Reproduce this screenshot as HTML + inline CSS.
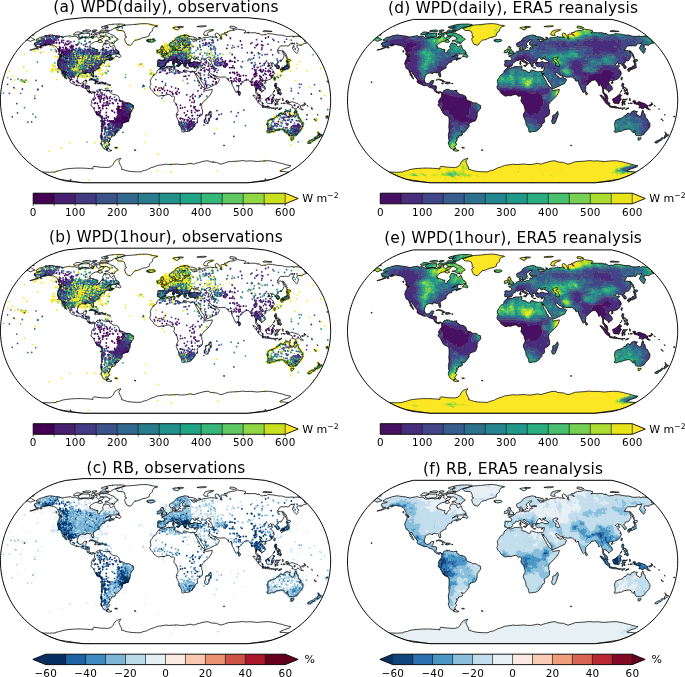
<!DOCTYPE html><html><head><meta charset="utf-8"><title>WPD maps</title><style>html,body{margin:0;padding:0;background:#fff}svg{display:block}text{font-family:"DejaVu Sans","Liberation Sans",sans-serif;fill:#000}</style></head><body>
<svg width="685" height="677" viewBox="0 0 685 677">
<rect width="685" height="677" fill="#fff"/>
<defs>
<path id="land" d="M35.3 22.4L39.0 19.9L42.7 19.0L44.8 18.1L49.5 17.2L52.4 17.6L54.9 18.0L58.4 18.3L59.4 18.7L62.6 19.4L64.6 18.8L68.1 18.3L69.9 17.9L71.4 18.8L74.6 18.5L76.9 19.4L77.7 20.4L81.5 20.3L83.4 19.7L85.3 19.7L87.6 20.4L91.0 19.7L91.8 20.8L93.1 19.4L93.4 18.1L95.7 16.6L96.5 17.6L95.9 18.8L97.1 19.6L98.1 20.5L99.5 19.4L101.1 18.6L103.6 18.8L103.5 19.7L102.6 20.6L100.5 21.7L98.8 22.0L97.7 22.7L96.9 23.6L94.7 24.0L92.7 24.9L90.3 26.6L88.8 28.6L90.1 28.7L89.8 30.3L91.9 30.3L93.3 30.9L95.4 31.8L97.5 32.0L97.1 33.9L97.6 34.9L97.8 35.5L99.2 35.3L99.5 34.1L100.4 32.6L102.0 31.6L102.7 30.7L102.4 29.4L101.8 28.6L103.1 27.5L103.5 25.4L105.9 25.4L108.0 26.0L109.4 26.6L109.3 28.0L109.5 28.6L111.0 29.1L112.5 28.0L113.6 27.1L114.3 28.9L114.9 30.7L115.8 32.1L117.3 32.6L117.9 33.5L118.7 34.4L117.9 35.3L116.2 35.6L114.8 36.4L111.4 36.4L109.3 36.5L107.8 37.4L105.7 39.0L104.7 39.6L106.2 38.8L109.5 37.4L110.7 37.6L110.1 38.5L110.0 39.4L110.6 40.2L112.6 40.5L114.0 39.9L113.0 41.0L110.7 41.6L108.8 42.7L108.3 41.9L110.0 41.0L108.6 41.2L107.7 41.5L105.9 42.2L104.4 42.8L104.0 44.0L104.6 44.2L103.2 44.6L101.4 45.0L100.9 45.4L100.5 46.3L99.7 46.9L99.1 47.7L98.5 48.6L98.6 49.5L98.6 50.3L97.6 50.7L96.2 51.5L94.9 52.3L93.2 53.2L92.6 54.6L93.1 56.6L93.3 58.2L92.9 59.3L92.1 59.4L91.7 58.4L91.1 57.1L91.2 56.0L90.3 55.0L88.9 55.2L87.6 54.7L86.3 54.8L85.4 54.9L85.5 55.9L84.3 55.8L83.1 55.4L81.3 55.4L80.3 56.0L78.3 56.9L77.7 58.7L77.0 60.5L76.8 62.1L77.2 63.5L77.8 64.8L78.9 65.5L79.5 65.9L81.2 65.5L82.6 65.1L83.2 63.5L83.9 63.0L85.6 62.7L86.4 62.9L85.8 64.4L85.5 65.8L84.9 66.5L84.3 67.9L85.5 68.1L86.8 68.0L88.2 68.1L89.2 68.8L88.9 70.2L88.6 72.0L88.8 72.9L89.6 74.0L90.5 74.4L91.9 74.1L92.8 73.8L94.2 74.6L94.6 75.2L94.8 74.7L96.0 73.8L96.3 72.7L97.2 72.4L98.4 72.1L99.6 71.2L100.0 71.8L99.5 72.6L100.2 72.5L101.2 71.5L102.3 72.2L102.9 72.8L104.8 72.8L106.1 73.2L107.5 72.7L108.4 72.8L109.3 73.8L109.5 74.8L111.1 75.4L112.4 76.8L114.7 77.1L116.1 77.4L117.4 78.2L118.3 78.9L118.8 80.7L119.2 82.1L120.6 83.0L121.5 83.2L123.8 83.9L124.8 85.0L127.0 85.2L128.4 85.1L129.8 85.9L131.2 87.0L132.8 87.4L133.2 89.2L133.1 90.8L131.7 92.4L130.9 93.6L130.0 94.5L129.6 96.3L129.7 98.6L129.1 100.4L128.5 101.8L128.1 102.7L127.2 103.6L125.9 103.6L124.5 104.2L123.2 104.7L122.0 105.8L121.5 106.9L121.7 108.5L120.6 110.1L119.8 111.3L118.8 112.2L117.8 113.7L116.7 114.6L115.3 114.5L113.6 113.9L114.7 115.1L115.1 116.0L114.7 117.4L113.2 118.1L111.0 118.3L111.0 119.7L109.8 120.3L108.8 120.2L109.4 121.5L110.2 121.5L109.2 122.3L109.0 123.8L107.5 124.7L109.1 126.1L109.2 126.6L108.1 128.0L107.3 128.9L107.6 130.1L108.2 130.6L106.6 130.9L106.4 131.8L105.1 131.6L104.1 131.0L102.8 130.2L101.7 128.4L101.2 126.6L100.7 125.4L101.3 123.8L101.6 122.4L101.1 121.1L101.0 119.2L100.8 117.4L100.9 116.5L101.3 115.1L101.7 113.3L101.5 111.0L101.3 109.1L101.5 106.4L101.6 104.1L101.6 101.8L101.3 99.4L100.1 98.4L98.2 97.5L96.6 96.6L95.5 95.3L94.6 93.6L93.6 91.7L92.8 90.1L91.9 88.8L90.7 88.1L90.6 86.6L91.5 85.7L91.7 84.8L90.8 84.6L91.0 83.5L91.6 82.5L91.7 81.8L92.6 81.2L92.8 80.3L94.0 79.3L94.2 78.4L94.1 77.0L94.2 76.1L93.8 75.9L93.4 75.0L92.8 74.3L92.4 74.4L91.6 74.9L91.8 75.8L90.9 75.7L90.3 75.2L89.2 75.0L88.5 74.7L87.6 73.6L86.7 73.1L86.8 72.4L85.7 71.1L85.2 70.5L83.9 70.3L82.6 69.8L81.1 69.3L79.7 67.9L78.7 67.8L77.3 68.1L75.5 67.6L74.2 67.0L72.5 66.1L71.2 65.7L69.9 64.7L69.5 63.7L69.9 62.8L69.5 61.5L68.4 60.1L67.2 59.0L67.0 57.8L66.2 57.0L65.1 56.0L64.6 54.1L63.3 53.5L63.0 54.6L63.8 56.0L64.4 57.3L65.2 58.7L65.7 60.1L66.4 61.3L65.7 61.2L64.4 59.8L64.3 58.7L62.9 57.8L62.2 57.1L63.0 56.4L62.1 55.2L61.6 53.7L61.3 52.7L60.5 51.5L58.8 50.9L58.2 49.1L57.9 47.9L57.3 46.3L57.2 45.5L57.8 44.0L57.8 43.1L58.9 41.6L59.4 40.2L59.7 38.2L61.1 38.2L61.2 39.0L61.5 37.8L61.5 37.4L60.2 36.4L58.7 35.3L58.7 34.4L58.0 32.6L57.3 31.6L56.9 30.3L55.6 29.1L54.7 28.6L53.3 27.7L51.4 27.5L49.6 27.3L48.5 26.6L46.2 27.5L44.6 28.2L43.0 28.3L44.3 26.9L45.9 26.4L44.0 26.8L41.9 28.0L40.6 28.9L38.0 30.0L35.7 30.9L33.0 31.8L30.8 32.3L29.4 32.5L31.4 31.8L33.5 31.2L36.5 29.8L38.1 28.7L36.8 28.8L34.6 28.7L35.4 27.5L33.8 27.1L33.8 26.1L34.2 25.2L35.7 24.6L38.2 24.3L39.8 23.4L38.2 23.4L36.7 23.4L35.9 22.9ZM108.1 130.9L108.6 131.4L109.9 132.4L111.5 132.7L110.5 133.2L109.0 133.5L107.7 133.3L105.8 132.5L106.5 132.1L106.8 131.2ZM115.2 10.5L119.6 9.2L121.6 8.3L124.0 7.8L126.2 7.3L128.5 7.2L130.8 7.0L133.0 6.9L135.3 6.6L137.6 6.4L139.8 6.1L142.4 6.0L145.0 5.9L147.1 6.1L149.2 6.4L152.1 7.3L154.4 7.6L156.6 7.8L157.2 8.3L153.7 9.2L152.8 10.5L151.9 11.9L152.0 13.3L150.8 14.2L149.1 15.6L148.9 17.0L148.7 18.2L147.1 18.8L145.5 19.5L142.4 20.0L139.9 21.1L137.3 22.1L134.6 22.5L133.5 23.8L132.0 25.2L130.8 27.1L129.9 27.6L128.4 27.1L126.5 26.6L125.7 25.2L124.9 23.8L124.3 22.0L124.3 20.6L126.3 19.3L124.4 18.3L124.9 17.0L124.4 15.6L123.8 13.8L121.4 12.8L117.9 12.8L116.4 11.9L115.6 11.0ZM146.3 22.5L148.2 21.6L151.3 21.8L152.8 21.6L153.9 22.0L154.6 22.9L153.4 23.6L150.6 24.4L148.7 24.0L147.4 23.9L148.0 23.4L146.5 23.1L147.7 22.7ZM100.4 15.1L103.8 14.9L105.9 15.0L109.0 15.8L110.3 16.7L112.5 17.4L114.3 18.3L114.8 19.7L117.0 20.8L117.9 21.6L115.8 22.9L114.2 24.3L114.1 25.2L112.9 25.7L111.4 24.3L112.5 25.7L109.9 25.2L108.7 24.3L107.1 23.4L104.7 23.6L104.5 23.2L105.5 22.7L107.9 22.5L108.7 21.6L109.7 20.2L107.9 19.3L106.5 18.3L103.9 18.3L101.6 18.3L99.7 17.9L99.1 17.0L99.4 16.1ZM78.9 17.0L81.8 15.3L85.1 15.6L89.0 15.3L89.2 17.0L89.3 18.3L88.3 19.3L86.0 19.3L83.6 19.5L79.7 19.7L77.7 18.8L77.7 17.9ZM72.9 16.5L74.3 17.3L77.5 16.8L81.8 15.1L79.6 14.5L77.8 14.2L75.6 14.4L74.2 15.6ZM82.5 13.0L86.0 12.4L89.0 12.2L90.6 13.0L89.6 13.8L86.4 14.1L83.7 13.9L82.0 13.6ZM91.3 13.5L93.9 13.8L96.0 13.3L96.6 12.3L93.8 12.2L92.0 12.7ZM90.3 16.5L92.0 17.2L94.3 16.5L94.9 15.1L93.1 14.7L91.2 15.3ZM95.2 16.3L96.9 16.5L99.5 15.6L100.0 14.7L97.5 14.6L96.0 15.1ZM107.9 14.1L108.8 13.3L106.5 13.0L103.4 12.5L100.7 12.4L99.2 13.8L100.7 14.1L104.2 14.2ZM110.4 12.6L113.9 10.5L116.6 9.6L119.0 9.1L121.4 8.5L124.9 7.3L123.6 6.6L121.5 6.5L119.4 6.3L116.8 6.4L114.2 6.4L111.3 6.7L108.4 7.1L105.7 7.8L107.4 8.7L107.8 9.6L104.8 10.7L104.9 11.5L106.2 12.5L108.9 12.7ZM100.9 9.2L104.8 8.0L106.7 8.7L106.0 9.8L103.5 10.7L101.3 10.1ZM97.1 23.8L98.4 24.6L99.8 24.9L101.6 24.3L102.4 23.9L101.7 23.4L100.3 22.2L98.7 22.3L98.2 23.4ZM90.2 19.3L91.8 19.7L93.2 19.3L93.3 18.4L91.4 18.5ZM114.8 38.9L115.8 37.6L117.1 36.0L118.8 35.2L118.1 36.7L119.7 37.1L120.3 38.1L120.4 39.0L119.6 39.8L118.3 39.5L117.6 38.9ZM57.7 36.0L59.4 36.3L60.8 38.0L60.7 38.2L59.6 37.9L58.3 36.9ZM55.4 32.9L56.4 33.0L56.1 34.7L55.4 33.9ZM39.7 29.8L41.3 29.4L41.8 29.8L40.1 30.5ZM88.4 62.5L90.2 61.5L92.0 61.4L93.8 62.0L95.5 62.7L96.8 63.6L97.9 64.0L97.2 64.3L94.7 64.4L95.2 63.6L94.1 62.8L92.4 62.4L91.1 62.0L89.7 62.2ZM97.5 65.7L99.3 65.5L99.1 65.1L98.6 64.4L100.1 64.4L101.7 64.5L102.5 64.8L103.0 65.5L102.0 65.7L101.1 65.9L100.2 66.3L99.3 65.9ZM94.0 65.8L95.2 65.6L95.9 66.0L95.0 66.2ZM104.1 65.7L105.5 65.7L105.4 66.0L104.2 66.0ZM108.6 72.7L109.4 72.6L109.3 73.3L108.6 73.3ZM114.2 129.8L116.7 129.7L116.8 130.4L114.8 130.4ZM23.8 64.0L24.7 64.4L24.0 65.1L23.7 64.6ZM160.3 49.5L159.6 48.8L158.6 48.4L157.3 48.6L157.4 47.2L156.8 47.0L157.4 45.7L157.6 44.5L157.2 43.1L158.2 42.5L160.4 42.7L162.1 42.7L163.6 42.7L164.1 41.7L164.2 40.7L163.2 39.4L161.4 38.7L161.1 38.2L162.6 37.8L163.7 38.0L163.7 37.0L164.2 37.2L165.3 37.1L166.4 36.6L166.4 35.9L167.9 35.4L168.6 34.9L169.0 33.9L170.1 33.6L170.9 33.4L172.0 33.2L172.3 32.6L171.8 31.6L171.8 30.3L173.0 29.7L173.7 29.6L173.5 30.7L173.9 31.2L173.1 31.9L173.3 32.6L174.1 33.0L175.0 32.8L176.2 32.6L176.9 33.1L178.3 32.7L180.3 32.4L181.4 32.7L182.3 31.8L182.2 30.5L182.7 29.7L183.4 29.6L184.2 30.3L184.8 30.0L184.8 29.1L184.0 28.6L184.0 28.3L185.2 28.0L187.6 28.0L189.3 27.6L187.8 27.1L185.9 27.1L183.5 27.6L182.3 27.1L182.0 26.1L182.0 24.8L184.1 23.1L184.7 22.5L183.6 22.2L182.1 22.5L181.7 23.4L180.0 24.6L178.9 25.4L178.8 26.6L178.9 27.1L180.2 27.7L179.8 28.3L178.6 29.4L178.6 30.7L178.0 31.1L176.8 31.6L175.8 31.7L175.5 31.0L174.7 29.8L174.1 28.6L173.6 28.0L172.8 28.5L171.6 29.3L170.4 29.3L169.6 28.5L169.1 27.1L169.1 25.7L170.6 24.8L172.1 24.0L173.3 23.4L174.4 22.5L175.0 21.1L176.5 19.9L177.9 19.3L179.3 18.5L181.5 18.1L184.2 17.3L185.8 17.4L188.2 18.1L187.5 18.5L189.9 18.9L192.2 19.1L195.5 20.2L196.7 21.1L196.2 21.7L194.3 21.8L192.0 21.6L190.4 21.3L190.0 21.1L191.8 22.5L192.4 23.5L194.0 23.8L194.2 22.9L195.8 23.3L196.6 23.3L196.0 22.5L197.4 21.6L198.9 21.8L198.5 20.2L198.0 19.6L199.9 19.9L200.4 20.4L199.9 21.1L201.1 21.2L202.3 20.2L205.2 19.7L206.0 19.9L206.7 19.7L208.8 19.4L210.4 18.6L211.0 19.3L213.7 19.3L215.8 19.7L217.0 19.9L215.3 18.8L214.7 17.4L214.8 16.1L215.8 15.3L218.1 16.1L218.8 17.4L220.1 19.3L220.0 20.6L221.5 21.6L221.0 19.7L220.4 17.0L220.9 16.5L222.2 16.2L223.8 16.5L226.8 17.9L225.0 16.1L223.7 15.1L227.0 14.7L227.1 13.8L230.0 13.0L232.0 12.8L233.9 12.6L235.4 11.9L236.9 11.3L239.6 11.9L243.5 12.4L245.5 13.3L244.3 14.7L243.4 15.3L246.6 14.9L250.4 15.1L252.5 15.0L254.6 15.0L257.9 16.1L257.9 15.3L261.4 17.4L263.1 17.0L266.1 17.0L267.2 15.9L269.5 16.1L271.9 16.2L275.7 17.0L278.4 17.4L281.3 17.4L284.8 18.5L286.5 18.7L290.1 18.6L292.4 18.3L293.1 19.3L294.5 18.5L296.9 18.6L300.7 19.3L304.5 22.7L303.5 23.2L306.5 25.3L303.7 25.9L302.0 26.6L301.5 27.6L297.7 27.2L296.5 27.7L296.7 28.9L296.3 29.5L298.2 31.0L298.0 32.1L297.2 33.0L297.6 33.9L296.7 34.9L296.2 35.8L294.8 34.4L293.3 32.6L292.0 30.7L292.1 29.8L292.6 28.9L293.2 27.5L294.0 26.6L294.0 25.7L294.4 25.2L292.4 26.1L290.2 25.9L289.4 26.3L289.2 27.5L287.4 28.4L286.1 28.0L284.0 28.2L280.0 28.2L278.7 29.8L277.8 31.6L276.6 32.4L278.6 33.0L280.2 32.8L282.2 33.8L282.6 34.6L282.6 35.8L283.6 37.6L283.7 38.2L283.0 39.9L282.0 41.5L281.2 42.7L279.8 43.4L278.7 43.0L277.9 43.6L277.6 44.5L277.6 45.1L276.0 46.0L277.1 47.1L278.5 48.6L278.9 49.7L278.7 50.4L277.5 50.7L276.6 50.9L276.4 50.0L276.0 48.6L274.5 47.9L274.4 47.1L273.4 46.0L272.2 46.2L271.1 47.0L271.0 45.4L270.0 45.0L269.1 46.0L267.8 46.8L268.7 47.7L269.3 48.3L270.8 47.9L272.4 48.3L271.3 49.1L270.8 49.5L270.2 50.4L271.4 51.4L272.2 52.6L273.4 53.6L273.2 54.3L272.4 54.8L273.8 55.0L273.7 56.4L273.0 57.3L272.6 58.7L271.7 59.9L270.6 61.0L269.7 61.5L268.3 62.0L267.2 62.4L265.9 62.8L264.9 63.0L265.0 63.9L264.3 63.0L263.2 62.6L261.9 63.3L261.0 64.8L261.8 66.3L263.6 67.9L264.7 69.7L264.9 71.5L263.8 72.6L262.7 73.1L261.6 74.0L261.0 74.7L261.1 73.4L260.2 72.9L259.2 72.5L258.7 71.4L257.3 70.9L257.0 70.3L256.4 71.1L256.0 72.5L255.9 73.8L256.6 74.8L257.1 75.9L258.1 76.3L259.0 77.0L259.9 78.4L260.0 80.0L260.7 81.3L259.9 81.2L258.2 80.1L257.4 78.9L257.0 77.5L256.4 76.6L255.3 75.2L255.2 73.6L255.2 71.8L254.9 70.2L254.1 68.8L253.9 67.4L253.1 67.0L252.0 68.1L250.9 67.9L250.9 66.3L250.0 64.7L248.8 63.6L248.3 62.8L248.0 62.0L246.8 62.4L245.5 62.6L243.7 62.8L243.7 63.7L242.6 64.5L241.3 65.8L239.9 67.2L238.8 68.1L238.1 68.8L238.4 70.4L238.0 72.0L238.1 73.1L237.4 74.0L236.7 74.4L236.0 75.1L235.1 74.3L234.6 72.9L233.6 71.1L233.0 69.3L232.0 67.9L231.4 66.0L231.1 65.1L230.9 63.3L230.6 62.4L229.8 63.5L228.9 63.5L227.4 62.4L228.5 61.6L227.1 61.3L225.9 60.6L225.4 59.8L224.9 59.3L222.6 59.3L220.4 59.5L218.1 59.3L216.6 58.9L215.7 57.8L214.0 58.2L212.1 57.3L210.6 56.1L209.6 55.0L208.6 54.8L207.9 55.5L208.7 56.9L209.9 58.1L210.2 59.2L210.9 59.1L211.1 58.6L211.5 59.6L211.9 60.4L213.7 60.4L215.0 59.2L215.6 58.5L215.8 59.8L216.9 60.7L217.9 60.9L219.1 61.9L218.3 63.6L217.5 65.1L216.9 66.0L215.5 66.5L214.2 67.0L212.6 67.9L210.6 68.8L208.9 69.7L206.2 70.8L204.8 70.9L204.3 69.7L204.0 67.9L202.8 66.0L201.3 64.2L200.5 62.8L199.3 60.5L197.9 58.7L196.4 56.9L196.2 55.5L195.8 57.1L194.6 56.0L194.1 55.1L195.1 56.9L195.6 58.2L196.6 60.1L197.3 61.5L198.6 63.3L198.9 65.1L200.1 66.0L201.1 68.3L202.5 69.3L203.9 70.6L204.6 71.3L204.7 72.0L205.3 72.9L207.1 72.6L209.4 72.2L211.8 71.6L211.7 72.9L210.9 75.2L209.5 77.5L207.7 79.8L206.6 80.7L204.5 82.5L203.2 84.1L202.0 85.3L201.3 86.7L200.8 88.1L201.3 89.0L201.2 90.8L202.1 92.2L202.1 94.5L202.0 96.3L200.6 98.0L198.7 99.0L197.7 100.0L196.6 100.7L197.0 102.3L197.1 104.1L196.6 105.0L194.7 105.9L194.5 106.4L194.4 108.2L193.2 109.4L192.7 110.0L191.3 111.7L189.4 113.0L187.8 113.7L185.4 113.8L182.7 114.5L181.4 114.0L181.2 112.6L181.3 111.7L180.3 109.6L179.7 108.7L178.7 107.3L178.4 105.5L178.2 103.6L177.3 101.8L176.3 99.5L175.8 98.1L176.0 96.3L177.3 94.0L177.7 92.6L177.2 90.8L176.6 88.5L176.3 87.6L175.6 86.5L174.3 84.8L173.4 83.5L173.6 82.3L174.0 80.9L174.0 79.6L173.8 78.9L173.1 78.4L172.0 78.5L170.6 78.6L169.7 77.2L168.2 76.7L166.5 77.0L165.1 77.4L163.3 78.1L161.4 77.8L159.6 78.1L158.2 78.5L156.9 78.0L155.2 76.8L153.7 75.7L152.9 74.8L152.8 73.8L151.4 72.5L150.0 71.3L149.8 70.2L149.2 69.1L150.1 67.9L150.4 66.0L150.1 64.7L149.7 63.3L150.7 61.0L151.6 60.1L152.1 58.7L153.5 57.1L155.3 56.1L156.4 55.2L156.4 53.7L157.6 52.0L159.4 50.9L159.9 49.7L160.4 49.6L162.5 50.2L163.3 50.4L165.1 49.7L167.7 48.8L170.4 48.7L172.1 48.7L173.9 48.3L174.7 48.6L174.3 49.5L174.6 50.9L173.9 51.5L174.8 52.1L176.6 52.4L178.6 52.9L179.3 53.9L181.1 54.6L182.5 54.8L182.9 54.1L182.8 53.0L184.1 52.4L185.5 52.6L187.3 53.4L189.1 53.8L190.9 54.2L191.8 53.8L192.6 53.7L193.8 53.9L195.3 53.8L196.0 53.1L196.2 52.3L196.5 51.5L196.7 50.4L196.7 49.5L196.8 48.9L195.8 49.0L194.7 49.4L193.2 49.1L192.0 48.8L191.0 49.3L189.9 48.9L189.0 48.6L188.3 47.4L188.4 46.5L187.8 46.3L187.9 45.9L189.0 45.5L190.3 45.4L190.3 44.9L192.0 44.9L193.6 44.0L195.3 44.0L196.7 44.7L198.5 45.0L199.8 44.9L201.0 44.5L200.9 43.6L199.5 42.7L198.1 41.9L196.8 41.5L196.4 41.0L197.5 40.4L198.4 39.3L197.0 39.4L195.2 40.1L195.0 40.6L196.1 40.9L195.4 41.3L194.4 41.8L193.8 41.7L193.0 41.0L193.7 40.4L192.4 40.1L191.5 39.8L190.5 41.0L189.7 42.2L189.2 43.1L189.1 43.8L189.5 44.5L190.2 44.8L189.4 44.9L188.5 45.3L187.9 45.6L187.7 45.1L186.8 45.0L185.9 45.2L185.8 45.9L185.0 45.4L184.9 46.3L185.4 46.8L186.1 47.7L185.2 47.8L185.4 48.3L185.4 49.1L184.8 49.2L184.1 48.8L183.7 47.9L184.1 47.4L183.4 47.0L182.7 46.3L181.9 45.4L182.0 44.5L181.5 43.8L180.2 43.1L178.9 42.7L178.0 41.9L177.5 41.1L176.7 41.3L176.8 40.6L175.7 40.9L175.7 41.9L176.7 42.6L177.4 43.6L178.9 44.1L179.0 44.6L179.8 44.9L181.2 45.8L180.8 46.0L179.9 45.4L179.5 46.1L180.0 46.8L179.5 47.4L178.8 47.7L179.1 47.1L178.8 45.9L177.9 45.3L177.4 45.1L176.4 44.7L175.7 44.2L174.6 43.7L174.0 42.7L173.5 42.1L172.7 41.8L171.5 42.4L170.4 43.0L169.4 42.7L168.5 42.7L167.8 43.1L167.9 43.7L167.9 44.1L167.0 44.6L165.8 45.1L164.8 46.3L165.3 47.1L164.5 48.1L163.3 48.8L161.2 48.9ZM29.5 19.3L31.1 19.9L32.8 21.1L34.5 21.9L31.7 22.9L30.2 23.6L28.4 23.1L27.6 22.0L25.7 22.7ZM160.3 36.6L162.2 36.4L163.4 36.1L165.4 36.0L166.3 35.6L165.9 35.3L166.5 34.3L165.3 33.9L165.2 33.4L164.1 32.5L163.8 31.6L162.6 31.2L163.1 30.7L163.5 29.8L162.3 29.6L161.9 29.4L162.7 28.8L161.1 28.8L160.6 29.8L160.2 30.6L160.6 31.6L161.2 31.6L161.0 32.3L162.2 32.2L162.5 33.0L162.6 33.6L161.4 33.7L161.6 34.1L161.7 34.6L160.8 34.9L161.8 35.2L162.6 35.4L161.6 35.6ZM156.8 35.2L158.4 35.0L159.8 34.7L160.1 33.7L160.6 32.6L160.0 31.9L159.1 31.8L158.3 32.6L156.9 32.8L157.2 33.8L156.5 34.7ZM172.2 10.1L174.5 9.4L177.2 9.4L179.4 10.3L177.9 11.5L176.6 12.3L174.8 11.5L173.0 10.5ZM177.1 9.0L180.4 8.7L183.1 9.1L182.0 9.8L178.6 9.6ZM203.0 16.7L203.3 15.8L204.5 13.6L207.2 12.6L209.1 12.2L211.0 11.9L213.2 12.0L212.3 12.8L209.3 13.8L207.6 14.7L206.7 16.1L207.8 17.6L206.0 17.8L203.5 17.2ZM196.4 8.9L199.4 8.3L201.3 8.2L203.2 8.1L206.0 8.3L203.8 9.0L201.8 9.1L199.9 9.2ZM229.4 9.9L229.8 8.4L233.5 8.7L236.3 10.1L234.3 10.7L231.3 10.5ZM262.4 13.6L264.4 12.8L268.5 13.3L271.7 13.6L270.7 13.9L267.2 13.9L264.4 14.0ZM297.3 17.4L297.8 17.0L298.5 17.5ZM32.4 17.0L33.8 17.1L33.7 17.4L31.7 17.5ZM176.0 47.7L178.7 47.4L178.3 48.9L176.0 48.1ZM172.2 45.0L173.5 44.8L173.5 46.6L172.5 46.9ZM172.5 43.7L173.2 43.1L173.3 44.1L173.1 44.6L172.6 44.3ZM185.9 50.0L188.3 50.2L188.2 50.4L185.9 50.3ZM193.6 50.4L194.2 50.2L195.5 49.8L195.0 50.5L194.2 50.8ZM174.1 31.5L175.3 31.1L175.4 32.1L174.3 31.9ZM179.8 30.1L180.5 29.4L180.4 30.0ZM287.6 44.6L288.7 46.3L288.3 47.4L288.7 48.7L288.9 49.8L288.3 50.4L287.9 50.2L287.5 50.8L287.0 50.8L285.9 50.8L285.9 51.1L285.2 51.8L284.3 51.1L283.3 50.8L282.0 51.1L280.8 51.4L280.9 50.7L281.9 50.0L283.3 49.9L284.3 49.8L284.5 49.3L284.9 48.3L285.3 48.2L285.3 48.8L286.4 48.2L286.9 47.2L286.9 46.0L286.5 45.1L286.6 44.8ZM286.3 44.5L287.2 44.2L286.8 43.6L288.9 44.0L290.3 42.8L289.7 41.9L287.7 41.7L286.3 40.8L286.8 42.2L286.8 42.9L285.9 42.9L285.8 43.8ZM280.7 51.5L281.5 51.7L282.0 52.5L281.9 53.7L281.3 54.1L280.8 53.8L280.5 52.7L279.9 52.3L279.8 51.9L280.4 51.6ZM282.2 51.5L283.9 51.2L284.1 51.5L283.8 52.0L283.1 51.8L282.9 52.6L282.2 52.0ZM282.1 32.7L283.7 33.9L284.7 35.3L285.6 36.7L286.4 37.3L285.8 38.1L287.1 39.6L286.2 40.4L285.5 39.0L284.7 37.1L283.5 35.3L282.4 33.7ZM274.3 59.3L274.8 59.6L274.6 61.5L274.2 62.5L273.4 61.5L273.6 60.2ZM263.7 64.9L264.3 64.2L265.4 64.1L265.7 64.6L265.3 65.3L264.5 65.9L263.7 65.6ZM238.1 73.6L239.4 74.8L240.1 75.7L239.9 76.6L238.9 77.1L238.3 76.6L238.1 75.2ZM274.5 65.6L276.0 65.6L276.4 67.0L275.8 68.1L276.0 69.4L276.8 69.5L278.2 69.9L278.3 71.0L277.6 70.6L276.8 70.1L275.7 70.1L275.0 69.5L274.6 68.9L274.1 67.7L274.5 66.5ZM279.9 73.6L280.9 75.7L280.7 76.8L280.0 77.4L280.0 76.6L278.7 76.8L278.7 76.1L278.0 75.7L276.8 76.2L277.0 75.4L278.1 74.7L279.0 74.8ZM278.6 71.1L279.7 71.3L280.0 72.5L279.4 73.4L278.9 72.6ZM276.5 71.7L277.6 72.0L278.0 73.4L277.6 74.2L277.1 73.6L276.6 72.9ZM272.4 74.8L273.5 74.0L274.3 72.2L274.1 73.4L273.1 74.5ZM274.9 70.3L275.8 70.4L275.8 71.3L275.4 71.1ZM265.6 80.7L266.3 81.0L267.1 80.4L268.7 79.5L269.6 78.4L270.5 78.0L271.4 77.0L272.1 76.1L272.9 76.7L274.3 77.8L273.7 78.5L273.0 78.7L272.8 79.3L273.3 80.7L274.2 81.6L273.1 81.9L272.9 83.0L272.2 83.7L271.9 84.8L271.5 85.9L270.5 86.2L270.1 85.8L268.7 85.6L267.6 85.7L266.2 85.2L266.0 83.9L265.3 82.8L265.1 81.6ZM252.4 77.4L254.5 77.8L255.2 78.6L256.6 79.8L257.5 80.6L258.7 81.2L259.6 81.8L260.3 82.5L260.0 83.5L261.3 84.7L262.3 85.3L262.2 86.7L262.0 87.9L260.9 87.7L260.4 87.0L258.9 86.1L257.7 84.8L257.2 83.5L255.9 82.1L255.4 81.0L254.3 79.8L253.3 78.9ZM261.5 88.8L262.4 88.1L263.1 88.1L264.5 88.7L266.3 88.9L266.8 88.4L268.2 88.9L269.8 89.6L269.8 90.4L268.2 90.3L266.2 90.0L264.4 89.7L262.6 89.3ZM269.9 90.0L271.0 90.0L271.9 90.2L271.7 90.7L270.5 90.6ZM272.0 90.3L273.4 90.1L274.1 90.3L273.5 90.7L272.1 90.8ZM274.8 90.3L276.3 90.3L277.7 90.1L277.5 90.5L275.8 90.7L274.8 90.6ZM274.0 91.2L275.0 91.3L275.6 91.8L274.6 91.8ZM278.0 92.0L278.5 91.2L279.9 90.4L281.6 90.3L280.8 90.8L279.4 91.4ZM279.9 81.1L278.8 81.6L277.9 81.7L276.5 81.5L275.9 81.4L275.2 81.9L275.2 82.5L275.1 83.4L274.5 84.4L274.1 85.0L274.7 85.8L274.5 87.6L275.4 87.7L275.5 86.2L275.4 85.3L276.1 85.0L276.5 86.2L276.9 87.0L277.8 86.6L277.5 86.2L277.2 85.3L276.5 84.4L277.5 84.0L278.3 83.5L277.0 83.4L276.1 83.7L275.3 83.3L275.3 82.3L276.1 82.1L277.9 82.1L279.3 82.1ZM282.0 80.5L283.0 81.2L282.7 82.1L282.5 83.3L282.1 82.1ZM282.5 85.3L285.0 85.5L284.3 85.9L282.6 85.8ZM280.6 85.5L281.7 85.6L281.4 86.0L280.7 85.9ZM285.2 83.4L286.6 82.9L288.0 83.3L288.2 83.9L288.7 85.6L289.8 84.7L291.5 83.9L292.6 84.4L294.1 84.9L295.8 85.5L297.6 86.0L298.7 87.1L300.2 88.1L300.5 88.7L299.7 88.8L300.7 90.3L302.3 91.7L303.0 92.0L301.8 92.1L299.7 91.3L298.7 90.2L297.4 89.5L296.4 90.2L295.9 91.0L294.1 90.9L292.8 90.0L291.4 90.3L291.9 89.2L292.2 88.5L291.6 87.6L290.2 86.9L288.9 86.6L287.5 86.1L286.8 86.2L287.0 85.3L286.1 85.2L287.5 84.8L286.2 84.5L285.4 83.9ZM301.0 87.7L302.6 87.1L304.4 86.4L304.7 87.1L303.0 88.2L301.6 88.2ZM303.4 84.9L304.9 85.8L305.3 86.9L304.9 86.2L303.6 85.3ZM306.8 87.5L307.8 88.5L307.5 88.9L306.8 88.1ZM311.1 91.1L312.2 91.5L311.7 91.6L311.1 91.4ZM313.6 101.0L315.2 102.3L315.9 103.0L315.4 103.1L314.3 102.3L313.5 101.4ZM326.2 98.6L327.3 98.5L327.2 99.2L326.1 99.2ZM316.8 96.3L317.3 96.8L317.4 97.7L317.1 97.0ZM268.1 102.7L268.6 102.5L270.5 101.5L272.9 100.9L275.3 99.8L276.1 99.1L276.8 97.8L277.4 98.4L278.4 97.4L279.5 95.8L280.7 95.3L281.7 96.1L283.1 96.2L283.4 94.9L284.5 93.9L286.1 93.6L286.2 92.9L288.4 93.7L290.0 93.7L289.1 94.9L288.5 96.3L290.2 97.4L291.8 98.6L293.0 98.6L293.9 96.8L294.2 95.4L294.4 94.0L295.3 92.4L296.1 94.0L295.9 95.4L297.4 96.3L297.8 98.1L298.0 100.0L299.8 101.2L300.1 102.0L301.1 103.9L302.4 105.8L302.4 107.3L302.3 108.9L301.1 111.0L299.7 112.6L298.8 113.6L297.1 115.6L296.4 116.9L294.5 117.4L292.7 118.4L291.7 117.8L290.3 118.1L288.7 117.7L287.7 116.9L287.9 115.6L287.0 115.2L287.2 114.5L287.3 112.8L287.2 112.5L286.2 113.5L286.3 114.7L285.6 114.8L285.0 114.5L284.3 113.7L283.9 112.8L283.5 112.1L281.5 111.4L279.6 111.6L276.8 112.2L274.9 112.8L274.2 113.6L271.1 113.7L269.1 114.7L267.4 114.5L266.7 114.0L266.8 113.3L267.5 113.1L267.8 111.9L267.5 110.5L267.5 109.0L267.2 107.8L266.8 106.6L267.4 105.5L267.2 105.0L267.7 103.6ZM290.6 119.9L292.1 120.2L293.7 120.1L293.3 121.1L292.4 122.2L291.3 122.5L290.7 122.4L290.5 121.3ZM317.5 114.1L318.3 114.9L318.4 116.3L319.1 116.1L319.1 117.0L320.9 117.0L321.2 117.2L320.2 118.4L319.2 118.8L318.3 119.7L316.8 120.7L316.4 120.4L317.2 119.4L317.2 119.1L316.5 118.6L317.4 118.1L318.1 116.9L318.1 115.9L317.5 114.8ZM315.0 119.7L316.2 120.2L315.6 120.9L315.0 121.4L313.7 122.4L313.7 122.7L312.0 123.2L310.7 124.7L309.4 125.3L308.3 125.3L307.4 124.9L307.2 124.6L308.5 123.6L309.8 122.8L312.0 122.0L312.9 121.4L313.5 120.8L314.3 120.1ZM210.1 93.6L210.9 96.6L210.4 97.7L210.0 99.1L209.0 101.8L208.1 104.1L207.4 105.5L206.0 106.0L204.7 105.5L204.3 104.1L204.2 102.7L204.9 101.4L205.3 100.4L205.1 98.6L205.6 97.4L207.2 97.0L208.4 96.1L208.9 94.9ZM223.0 127.5L224.4 127.6L224.2 128.0L223.1 128.1ZM133.7 132.1L135.4 132.4L135.5 132.8L134.2 132.4ZM41.8 154.4L44.2 154.4L46.6 154.5L49.0 154.6L51.1 154.5L53.3 154.4L55.4 154.3L55.8 153.6L57.9 153.2L60.1 152.7L62.4 151.8L65.4 151.3L68.5 150.9L70.7 150.7L72.9 150.6L75.1 150.4L77.5 150.4L79.9 150.4L82.3 150.4L84.9 150.6L87.4 150.7L89.9 150.9L92.5 151.3L92.4 149.5L93.2 148.6L96.4 149.0L99.7 149.5L102.2 149.6L104.6 149.7L107.1 149.8L110.3 149.0L112.8 146.8L113.5 144.9L114.4 143.5L116.2 142.0L118.9 140.8L120.4 140.6L119.9 141.7L118.7 142.6L118.4 144.0L119.2 145.8L119.9 147.7L121.1 149.5L121.4 150.9L120.9 151.3L123.9 152.3L126.8 153.2L130.6 153.8L133.4 154.0L136.2 154.1L138.3 154.1L140.4 154.1L142.1 153.2L144.1 152.7L146.1 152.3L148.3 151.1L150.6 150.0L154.1 149.0L157.0 147.7L159.2 147.4L161.4 147.2L165.1 146.5L168.8 146.8L172.6 146.6L176.3 146.3L180.0 146.8L183.8 146.8L187.6 146.1L190.0 145.6L193.6 146.5L195.3 145.7L199.3 144.6L203.5 143.5L207.5 143.0L209.5 144.0L212.3 144.5L216.0 144.7L217.9 145.6L220.5 146.5L224.1 145.4L227.8 144.0L230.2 143.9L232.6 143.7L236.5 143.5L239.4 143.2L242.3 142.9L245.8 143.4L249.8 143.1L253.4 143.5L257.0 143.8L261.2 143.4L265.3 143.1L269.1 143.1L272.4 143.7L275.8 144.3L278.7 145.2L281.8 145.8L284.6 146.8L287.5 147.5L290.5 148.0L288.7 149.5L283.3 151.3L279.3 153.2L279.8 153.9L282.6 153.7L285.4 154.1L288.4 154.4L281.3 157.9L271.7 161.5L247.6 165.1L246.3 165.1L244.9 165.1L243.5 165.1L242.1 165.1L240.8 165.1L239.4 165.1L238.0 165.1L236.6 165.1L235.3 165.1L233.9 165.1L232.5 165.1L231.1 165.1L229.8 165.1L228.4 165.1L227.0 165.1L225.6 165.1L224.3 165.1L222.9 165.1L221.5 165.1L220.1 165.1L218.8 165.1L217.4 165.1L216.0 165.1L214.6 165.1L213.3 165.1L211.9 165.1L210.5 165.1L209.1 165.1L207.8 165.1L206.4 165.1L205.0 165.1L203.6 165.1L202.2 165.1L200.9 165.1L199.5 165.1L198.1 165.1L196.7 165.1L195.4 165.1L194.0 165.1L192.6 165.1L191.2 165.1L189.9 165.1L188.5 165.1L187.1 165.1L185.7 165.1L184.4 165.1L183.0 165.1L181.6 165.1L180.2 165.1L178.9 165.1L177.5 165.1L176.1 165.1L174.7 165.1L173.4 165.1L172.0 165.1L170.6 165.1L169.2 165.1L167.9 165.1L166.5 165.1L165.1 165.1L163.7 165.1L162.3 165.1L161.0 165.1L159.6 165.1L158.2 165.1L156.8 165.1L155.5 165.1L154.1 165.1L152.7 165.1L151.3 165.1L150.0 165.1L148.6 165.1L147.2 165.1L145.8 165.1L144.5 165.1L143.1 165.1L141.7 165.1L140.3 165.1L139.0 165.1L137.6 165.1L136.2 165.1L134.8 165.1L133.5 165.1L132.1 165.1L130.7 165.1L129.3 165.1L128.0 165.1L126.6 165.1L125.2 165.1L123.8 165.1L122.4 165.1L121.1 165.1L119.7 165.1L118.3 165.1L116.9 165.1L115.6 165.1L114.2 165.1L112.8 165.1L111.4 165.1L110.1 165.1L108.7 165.1L107.3 165.1L105.9 165.1L104.6 165.1L103.2 165.1L101.8 165.1L100.4 165.1L99.1 165.1L97.7 165.1L96.3 165.1L94.9 165.1L93.6 165.1L92.2 165.1L90.8 165.1L89.4 165.1L88.1 165.1L86.7 165.1L85.3 165.1L83.9 165.1L82.5 165.1L58.5 161.5L48.9 157.9Z"/>
<path id="lake" d="M205.7 40.6L206.8 39.9L208.4 39.4L210.2 39.6L210.4 41.0L209.0 41.3L208.8 41.7L208.2 41.9L209.0 42.9L210.4 43.6L210.8 44.5L211.2 45.9L212.0 46.8L212.4 48.2L211.6 48.7L209.8 48.9L208.9 48.2L208.0 48.0L207.8 47.2L208.1 45.6L208.9 45.5L207.8 44.9L207.0 44.0L206.0 43.1L205.9 42.2L205.2 41.6Z"/>
<path id="bnd" d="M247.65 165.10L264.96 163.27L271.99 161.43L277.29 159.60L281.67 157.76L285.47 155.93L288.83 154.09L291.87 152.26L294.63 150.42L297.18 148.59L299.54 146.76L301.73 144.92L303.77 143.09L305.69 141.25L307.49 139.42L309.18 137.58L310.77 135.75L312.27 133.91L313.69 132.08L315.03 130.25L316.29 128.41L317.48 126.58L318.60 124.74L319.66 122.91L320.66 121.07L321.60 119.24L322.48 117.40L323.31 115.57L324.08 113.74L324.81 111.90L325.48 110.07L326.10 108.23L326.68 106.40L327.21 104.56L327.70 102.73L328.14 100.89L328.53 99.06L328.89 97.23L329.20 95.39L329.46 93.56L329.69 91.72L329.87 89.89L330.02 88.05L330.12 86.22L330.18 84.38L330.20 82.55L330.18 80.72L330.12 78.88L330.02 77.05L329.87 75.21L329.69 73.38L329.46 71.54L329.20 69.71L328.89 67.87L328.53 66.04L328.14 64.21L327.70 62.37L327.21 60.54L326.68 58.70L326.10 56.87L325.48 55.03L324.81 53.20L324.08 51.36L323.31 49.53L322.48 47.70L321.60 45.86L320.66 44.03L319.66 42.19L318.60 40.36L317.48 38.52L316.29 36.69L315.03 34.85L313.69 33.02L312.27 31.19L310.77 29.35L309.18 27.52L307.49 25.68L305.69 23.85L303.77 22.01L301.73 20.18L299.54 18.34L297.18 16.51L294.63 14.68L291.87 12.84L288.83 11.01L285.47 9.17L281.67 7.34L277.29 5.50L271.99 3.67L264.96 1.83L247.65 0.00L82.55 0.00L65.24 1.83L58.21 3.67L52.91 5.50L48.53 7.34L44.73 9.17L41.37 11.01L38.33 12.84L35.57 14.68L33.02 16.51L30.66 18.34L28.47 20.18L26.43 22.01L24.51 23.85L22.71 25.68L21.02 27.52L19.43 29.35L17.93 31.19L16.51 33.02L15.17 34.85L13.91 36.69L12.72 38.52L11.60 40.36L10.54 42.19L9.54 44.03L8.60 45.86L7.72 47.70L6.89 49.53L6.12 51.36L5.39 53.20L4.72 55.03L4.10 56.87L3.52 58.70L2.99 60.54L2.50 62.37L2.06 64.21L1.67 66.04L1.31 67.87L1.00 69.71L0.74 71.54L0.51 73.38L0.33 75.21L0.18 77.05L0.08 78.88L0.02 80.72L0.00 82.55L0.02 84.38L0.08 86.22L0.18 88.05L0.33 89.89L0.51 91.72L0.74 93.56L1.00 95.39L1.31 97.23L1.67 99.06L2.06 100.89L2.50 102.73L2.99 104.56L3.52 106.40L4.10 108.23L4.72 110.07L5.39 111.90L6.12 113.74L6.89 115.57L7.72 117.40L8.60 119.24L9.54 121.07L10.54 122.91L11.60 124.74L12.72 126.58L13.91 128.41L15.17 130.25L16.51 132.08L17.93 133.91L19.43 135.75L21.02 137.58L22.71 139.42L24.51 141.25L26.43 143.09L28.47 144.92L30.66 146.76L33.02 148.59L35.57 150.42L38.33 152.26L41.37 154.09L44.73 155.93L48.53 157.76L52.91 159.60L58.21 161.43L65.24 163.27L82.55 165.10Z"/>
<clipPath id="cb"><use href="#bnd"/></clipPath>
<path id="bndr" d="M247.65 165.10L264.87 163.28L271.86 161.47L277.14 159.65L281.51 157.84L285.28 156.02L288.64 154.21L291.66 152.39L294.42 150.58L296.95 148.76L299.30 146.94L301.49 145.13L303.53 143.31L305.44 141.50L307.24 139.68L308.93 137.87L310.52 136.05L312.02 134.23L313.43 132.42L314.77 130.60L316.04 128.79L317.23 126.97L318.35 125.16L319.42 123.34L320.42 121.53L321.36 119.71L322.25 117.89L323.08 116.08L323.87 114.26L324.60 112.45L325.28 110.63L325.91 108.82L326.50 107.00L327.04 105.19L327.53 103.37L327.98 101.55L328.39 99.74L328.76 97.92L329.08 96.11L329.36 94.29L329.60 92.48L329.80 90.66L329.96 88.85L330.08 87.03L330.16 85.21L330.20 83.40L330.19 81.58L330.15 79.77L330.07 77.95L329.95 76.14L329.79 74.32L329.59 72.50L329.34 70.69L329.06 68.87L328.73 67.06L328.37 65.24L327.95 63.43L327.50 61.61L327.00 59.80L326.46 57.98L325.87 56.16L325.23 54.35L324.55 52.53L323.82 50.72L323.03 48.90L322.19 47.09L321.30 45.27L320.36 43.46L319.35 41.64L318.28 39.82L317.15 38.01L315.95 36.19L314.69 34.38L313.34 32.56L311.92 30.75L310.42 28.93L308.82 27.12L307.12 25.30L305.32 23.48L303.40 21.67L301.35 19.85L299.15 18.04L296.79 16.22L294.24 14.41L291.47 12.59L288.43 10.77L285.05 8.96L281.24 7.14L276.83 5.33L271.47 3.51L264.30 1.70L65.90 1.70L58.73 3.51L53.37 5.33L48.96 7.14L45.15 8.96L41.77 10.77L38.73 12.59L35.96 14.41L33.41 16.22L31.05 18.04L28.85 19.85L26.80 21.67L24.88 23.48L23.08 25.30L21.38 27.12L19.78 28.93L18.28 30.75L16.86 32.56L15.51 34.38L14.25 36.19L13.05 38.01L11.92 39.82L10.85 41.64L9.84 43.46L8.90 45.27L8.01 47.09L7.17 48.90L6.38 50.72L5.65 52.53L4.97 54.35L4.33 56.16L3.74 57.98L3.20 59.80L2.70 61.61L2.25 63.43L1.83 65.24L1.47 67.06L1.14 68.87L0.86 70.69L0.61 72.50L0.41 74.32L0.25 76.14L0.13 77.95L0.05 79.77L0.01 81.58L0.00 83.40L0.04 85.21L0.12 87.03L0.24 88.85L0.40 90.66L0.60 92.48L0.84 94.29L1.12 96.11L1.44 97.92L1.81 99.74L2.22 101.55L2.67 103.37L3.16 105.19L3.70 107.00L4.29 108.82L4.92 110.63L5.60 112.45L6.33 114.26L7.12 116.08L7.95 117.89L8.84 119.71L9.78 121.53L10.78 123.34L11.85 125.16L12.97 126.97L14.16 128.79L15.43 130.60L16.77 132.42L18.18 134.23L19.68 136.05L21.27 137.87L22.96 139.68L24.76 141.50L26.67 143.31L28.71 145.13L30.90 146.94L33.25 148.76L35.78 150.58L38.54 152.39L41.56 154.21L44.92 156.02L48.69 157.84L53.06 159.65L58.34 161.47L65.33 163.28L82.55 165.10Z"/>
<clipPath id="cbr"><use href="#bndr"/></clipPath>
<clipPath id="cl"><use href="#land"/></clipPath>
<path id="p0" d="M1857 344h0m23 22h0m-218 16h0m-786 85h0m-242 68h0m138 18h0m2412 622h0m-277 25h0"/><path id="p1" d="M453 239h0m183 127h0m90 38h0m51 1h0m-77 8h0m302 10h0m863 7h0m510-1h0m-1484 33h0m1036 3h0m-997 23h0m-2 22h0m733 49h0m175 28h0m208 22h0m99 0h0m-524 30h0m-325 291h0m-35 10h0m-114 74h0m94 0h0m668 11h0m997 19h0m-1776 2h0m761 13h0m-755 67h0m1851 1h0m-67 15h0"/><path id="p2" d="M448 260h0m1248 113h0m-828 8h0m841 0h0m-1014 19h0m35 3h0m988 9h0m58-3h0m25 1h0m-822 6h0m706 2h0m85 14h0m473 12h0m-1281 10h0m-19 1h0m678 8h0m-7 3h0m23 5h0m12 0h0m329 2h0m-87 9h0m-971 57h0m858 10h0m14 2h0m510 49h0m312 68h0m-1334 205h0m-23 4h0m30 17h0m3 27h0m1659 52h0m-1758 37h0m1870 6h0m-1964 16h0m989-6h0m-966 14h0m816 3h0m31 3h0m-825 20h0m709 1h0m1098 9h0m-1760 14h0m7 10h0m1741 24h0m42 17h0"/><path id="p3" d="M2870 471h0m-1997 11h0m1951 19h0m-1905 84h0m289 499h0"/><path id="p4" d="M843 384h0m966 39h0m-677 666h0"/><path id="p5" d="M666 317h0m-6 33h0m-80 163h0m78 34h0m1639 3h0m290 140h0m-1596 101h0m1891 57h0m-1820 58h0m147 3h0m14 15h0m-24 37h0m-49 67h0m-8 11h0m110 0h0"/><path id="p6" d="M861 125h0m965 89h0m-338 12h0m390 11h0m-129 50h0m138 64h0m-204 25h0m206 4h0m-779 25h0m-332 9h0m336 4h0m-178 11h0m-136 94h0m118 2h0m-6 47h0m16 9h0m28 36h0m131 56h0m1905 25h0m-62 111h0m-593 234h0m368 26h0m4 11h0m55 5h0m-73 18h0m13-4h0m-12 25h0m166 0h0m-155 20h0m-1622 18h0m2093 32h0"/><path id="p7" d="M1782 211h0m69 174h0m-856 25h0m645 42h0m203 18h0m65 4h0m7-8h0m925 51h0m-2115 61h0m2026 104h0m-1507 352h0"/><path id="p8" d="M2135 403h0m608 663h0"/><path id="p9" d="M429 231h0m18 3h0m41 16h0m-118 8h0m90 2h0m222 73h0m216 13h0m-237 16h0m192 10h0m918 8h0m-971 8h0m956 5h0m-21 5h0m-1097 8h0m341 11h0m733-1h0m-76 14h0m106 0h0m-112 7h0m-937 12h0m905-2h0m27 1h0m7 14h0m-958 21h0m237 0h0m1004-3h0m-1059 10h0m119 14h0m-49 4h0m1924 3h0m-1971 16h0m-223 20h0m37 13h0m257 87h0m322 313h0m-28 29h0m-65 7h0m5 52h0m637 19h0m39 18h0m-647 4h0m-165 7h0m140 4h0m671-5h0m1081 25h0"/><path id="p10" d="M1789 394h0"/><path id="p11" d="M1856 177h0m-465 37h0m133 17h0m-35 7h0m-241 11h0m406 8h0m183 2h0m-556 18h0m455 12h0m-10 15h0m51-1h0m-148 12h0m-38 6h0m39-2h0m4 5h0m96-4h0m23-3h0m119-1h0m-233 10h0m227-1h0m-273 20h0m9-10h0m18 6h0m3 0h0m212-2h0m-198 11h0m14-4h0m-39 16h0m19-4h0m29 0h0m-706 22h0m-138 7h0m243 5h0m-135 21h0m-158 22h0m46 14h0m262 25h0m-59 6h0m1826 27h0m-2041 60h0m1947 54h0m-1428 253h0m1581 74h0m-5 20h0m-32 165h0"/><path id="p12" d="M1172 82h0m665 175h0m45 0h0m-98 18h0m-929 60h0m830 24h0m39 1h0m-1020 21h0m956 4h0m71 8h0m52 5h0m-732 12h0m-67 10h0m-398 7h0m152 7h0m82 8h0m1069 2h0m-1172 10h0m13-7h0m290 1h0m883 6h0m-168 7h0m-857 10h0m105 0h0m-61 7h0m758 12h0m-974 15h0m66 4h0m2091-1h0m-1986 10h0m-234 66h0m1344 66h0m-691 243h0m12-5h0m-52 9h0m1530 68h0m-4 13h0m-1764 51h0m67 43h0m115 31h0m1727 29h0m273 37h0m-23 6h0m-259 25h0m188 27h0"/><path id="p13" d="M1850 234h0m-1166 114h0m25 10h0m195 3h0m907 34h0m-947 2h0m-48 42h0m1074 5h0m-900 6h0m-210 17h0m83 28h0m1966 23h0m21-2h0m-2027 32h0m-192 18h0"/><path id="p14" d="M666 423h0m71 28h0m157 34h0m846 9h0m1109-5h0m-2246 19h0"/><path id="p15" d="M614 227h0m-117 37h0m226 35h0m-23 43h0m-9 3h0m356 25h0m666 42h0m74-6h0m-1145 17h0m973 11h0m151-1h0m453 3h0m-1533 14h0m1045 0h0m-123 5h0m186 2h0m-1183 14h0m1026-5h0m-1010 17h0m1601-8h0m311 10h0m-499 15h0m-1321 23h0m1956 8h0m-526 84h0m188-4h0m21 26h0m207 52h0m-1318 174h0m-10 71h0m726-4h0m-684 7h0m-68 13h0m-233 21h0m179 44h0m45 8h0m43-1h0m24 4h0m-5 10h0m-112 14h0m30 15h0m732 10h0m-746 11h0m1806-1h0m-37 64h0"/><path id="p16" d="M134 700h0"/><path id="p17" d="M1860 190h0m-95 74h0m129 80h0m-244 9h0m198 24h0m38 1h0m-217 14h0m19-2h0m-977 15h0m241-4h0m115 2h0m782-6h0m-843 15h0m646 0h0m-813 22h0m-52 29h0m54-5h0m805 2h0m-859 9h0m85 2h0m64 11h0m-52 4h0m94 5h0m697 0h0m-954 18h0m-89 47h0m132 11h0m-113 22h0m2289 582h0m25-4h0m217 19h0"/><path id="p18" d="M1791 244h0m-943 127h0m1013 1h0m-884 50h0m611 4h0m10 31h0m1023 22h0m-1574 769h0"/><path id="p19" d="M932 137h0m746 175h0m41 6h0m-97 31h0m-687 41h0m42 51h0m61 15h0m-38 20h0m-111 70h0m34 11h0m95 10h0m1749 21h0m10 10h0m-1862 21h0m2064 136h0m-672 185h0m387 164h0m-1469 42h0"/><path id="p20" d="M783 183h0m1105 57h0m-17 17h0m2 78h0m-54 15h0m68 22h0m-868 32h0m-81 11h0m-3 179h0m1736 538h0"/><path id="p21" d="M1152 99h0m344 143h0m302 0h0m37-6h0m-722 15h0m667 17h0m122 17h0m-1530 28h0m1505-5h0m-255 14h0m202 1h0m-232 10h0m99 6h0m67-1h0m9 0h0m-127 16h0m162-7h0m-162 10h0m41 12h0m-884 35h0m1053-8h0m-1244 17h0m251 0h0m88 4h0m115-1h0m-293 14h0m53 5h0m176 5h0m-164 20h0m21 14h0m4-2h0m1316-4h0m-1418 49h0m217-1h0m-443 13h0m88-2h0m176 22h0m-52 21h0m2250 434h0m-93 95h0m-122 23h0m218 13h0m-23 21h0m222 5h0m-13 9h0"/><path id="p22" d="M491 266h0m191 78h0m1043 49h0m39 3h0m-150 39h0m-956 13h0m963 3h0m-972 9h0m-61 10h0m96-3h0m1489 12h0m-1540 6h0m-46 17h0m24 12h0m86 68h0m2 0h0m-10 5h0m-6 13h0m15 22h0m1908 7h0m-23 71h0m-608 32h0m-883 71h0m107 99h0m80 34h0m-89 16h0m93-3h0m-43 9h0m-49 13h0m17 12h0m59 0h0m6 11h0m-39 13h0m36-2h0m-45 15h0m-6 14h0m28 0h0m-97 6h0m66-1h0m11 1h0m14-4h0m20-1h0m-85 18h0m37-3h0m-172 59h0"/><path id="p23" d="M1641 260h0m58 13h0m17 2h0m-1210 6h0m1168 2h0m-1105 2h0m1188 4h0m92 5h0m-219 8h0m1 1h0m0 10h0m1 1h0m16-4h0m-52 10h0m27 4h0m181 0h0m-1455 6h0m1241-3h0m44 1h0m14 4h0m9-2h0m61 3h0m2 1h0m-74 22h0m-35 9h0m3 21h0m1254 38h0m-2252 57h0m2250-3h0m23 2h0m-1892 29h0m-5 10h0m1813 7h0m11 5h0m-2001 20h0m20 13h0m685-7h0m-7 10h0m-616 26h0m-666 39h0m2662 344h0m-189 157h0m473 45h0m-2690 158h0m1414 122h0"/><path id="p24" d="M1737 107h0m137 124h0m-156 35h0m-89 40h0m-18 14h0m25 3h0m3-1h0m-47 10h0m34 0h0m3-7h0m125 3h0m10 1h0m42-3h0m14 0h0m-230 10h0m6 3h0m55-1h0m29-1h0m112 4h0m42-2h0m-204 13h0m8-4h0m-1398 15h0m1392-3h0m-873 15h0m-35 3h0m147 2h0m774-3h0m-737 12h0m131 1h0m15 6h0m-199 19h0m2040 17h0m-2084 38h0m572 1h0m-789 36h0m194 1h0m72 39h0m42 33h0m-6 11h0m2060 335h0m-9 21h0m-35 44h0m-139 125h0m98 8h0"/><path id="p25" d="M1813 214h0m-333 14h0m403 10h0m-10 17h0m0 30h0m-1095 28h0m810 21h0m-897 11h0m391-4h0m563 1h0m128-2h0m25 3h0m80-1h0m-1037 21h0m892-5h0m-904 10h0m250 15h0m943-2h0m-245 7h0m58 24h0m-765 6h0m-364 18h0m57 14h0m2 2h0m10-5h0m5 10h0m29 2h0m17-2h0m908 4h0m-904 12h0m1934 15h0m88 1h0m-2048 10h0m40-2h0m1928-1h0m-1044 32h0m-925 14h0m-72 26h0m545 290h0m39 37h0m766 80h0m749-8h0m-131 155h0m145 11h0m-1757 138h0"/><path id="p26" d="M452 183h0m-68 46h0m2227 44h0m-1893 65h0m241 9h0m108 7h0m-45 3h0m755 5h0m-90 8h0m101 15h0m-838 18h0m154-1h0m643-5h0m-1053 18h0m209-1h0m1249 30h0m-1221 5h0m831-4h0m-752 17h0m568-5h0m38 7h0m277-4h0m301-3h0m-581 11h0m35 5h0m-51 10h0m-671 10h0m-114 16h0m-4 14h0m105 15h0m1129 1h0m-1146 8h0m11 6h0m14-7h0m4 7h0m-72 5h0m891 0h0m-459 315h0m-55 74h0m1622 16h0m109 11h0m-213 100h0m-1590 53h0m1723 41h0m27-2h0"/><path id="p27" d="M1644 459h0"/><path id="p28" d="M466 216h0m66 6h0m1198 35h0m-1369 10h0m1469 90h0m-1169 22h0m36 1h0m-56 30h0m375 5h0m-386 13h0m990 3h0m-633 4h0m618 2h0m14 7h0m-6 8h0m-622 6h0m618 16h0m597-2h0m45-3h0m-650 8h0m317 1h0m-1313 14h0m1369 2h0m886-8h0m-2126 16h0m226 2h0m1896-5h0m12 5h0m-1158 12h0m427 22h0m551-3h0m-1922 17h0m1794 116h0m-1266 212h0m-13 18h0m822 45h0m-879 15h0m34 33h0m1718 41h0m-1767 18h0m633 10h0m1153 37h0m-1942 11h0m10 39h0m-24 14h0"/><path id="p29" d="M1727 300h0"/><path id="p30" d="M869 407h0"/><path id="p31" d="M1760 376h0m1067 139h0"/><path id="p32" d="M503 223h0m200 76h0m1127 82h0m-1177 27h0m1052 14h0m134 3h0m-7 2h0m-194 9h0m224 0h0m9 2h0m16-2h0m429 0h0m-1626 12h0m1108 6h0m35-7h0m676 4h0m-904 8h0m348-1h0m-104 15h0m1032 20h0m-36 8h0m12-2h0m-2133 70h0m1858 121h0m-1322 313h0m-45 41h0m-109 10h0m-62 4h0m158 33h0m-116 31h0"/><path id="p33" d="M1185 67h0m693 121h0m-158 57h0m-33 24h0m-78 33h0m153 10h0m-1255 9h0m1210 14h0m11-5h0m-155 25h0m64 3h0m23-3h0m-47 13h0m10-3h0m-689 19h0m63 41h0m1871 36h0m-2077 121h0m1952 42h0m-1127 181h0m1377 321h0m84 125h0m-950 190h0"/><path id="p34" d="M1802 209h0m-1427 9h0m1415 4h0m99 72h0m-1116 39h0m103 39h0m803 10h0m17-2h0m143 11h0m32-6h0m5 10h0m-1099 5h0m-62 12h0m204-3h0m734-2h0m195 2h0m11 2h0m-1032 15h0m16 25h0m-110 8h0m23 0h0m1090 18h0m915 8h0m48 24h0m-2092 14h0m12-6h0m126 4h0m1008 556h0m3 21h0m-852 174h0"/><path id="p35" d="M1773 212h0m-1375 14h0m1491 32h0m104 15h0m942 19h0m-1048 54h0m-814 10h0m721 5h0m-1131 8h0m209 0h0m903 3h0m-727 11h0m740 10h0m12 1h0m-843 11h0m-73 5h0m128-2h0m-430 19h0m346 6h0m-298 5h0m968 1h0m15-3h0m219 15h0m16-5h0m40 14h0m954 43h0m-2259 7h0m183 4h0m2008-9h0m-1880 39h0m-208 3h0m48 28h0m-107 6h0m1347 52h0m779 64h0m23 29h0m-713 248h0m-1 2h0m-868 18h0m913-4h0m-1006 84h0m110 7h0m681 19h0m1063 54h0m-1863 23h0"/><path id="p36" d="M429 232h0m202-5h0m1169 145h0m28 22h0m-100 6h0m-1137 12h0m45-2h0m1029 4h0m148-3h0m-1187 8h0m351 2h0m769 4h0m-1149 5h0m90 4h0m983-6h0m-87 15h0m65-7h0m534 14h0m-1317 11h0m770-6h0m-50 17h0m193 11h0m152 1h0m-1272 11h0m2223-7h0m-2296 7h0m261 9h0m1132-4h0m846 10h0m-764 7h0m755 3h0m-2182 7h0m246 2h0m-137 19h0m-113 14h0m1511 19h0m-90 66h0m-768 217h0m27 32h0m-18 32h0m-276 72h0m135 82h0m1808 44h0m4 21h0m-1902 135h0"/><path id="p37" d="M1758 227h0m-17 44h0m14 14h0m108 33h0m-107 16h0m39 7h0m-647 8h0m502 2h0m163-6h0m-758 12h0m-172 27h0m76-7h0m775 1h0m-849 10h0m998-1h0m-993 11h0m87 48h0m-93 11h0m-55 10h0m765 3h0m-809 37h0m2063 6h0m-2200 70h0m2114 395h0m-1557 120h0"/><path id="p38" d="M1791 208h0m-1322 43h0m1275 5h0m28-1h0m-1348 20h0m520 44h0m-43 20h0m681-1h0m219 41h0m3 4h0m79 11h0m-1109 6h0m958 0h0m68 1h0m57 0h0m-8 15h0m-196 10h0m155 7h0m962-2h0m-1113 7h0m-1054 14h0m124 2h0m1120-1h0m-1269 3h0m1002 0h0m17 5h0m323 1h0m-4 4h0m-1048 15h0m2010-3h0m2 14h0m-2286 7h0m2266 3h0m8 1h0m-1993 22h0m720-6h0m-341 433h0m-116 139h0m738 18h0m-832 20h0"/><path id="p39" d="M1854 178h0m-98 170h0m-795 293h0m2317 362h0"/><path id="p40" d="M1749 235h0m-592 107h0m613-3h0m-587 19h0m649 5h0m84-7h0m-850 46h0m-318 15h0m123 14h0m-115 21h0m101 25h0m-24 24h0m59 9h0m-92 49h0m2176 412h0m-1820 133h0m2027 69h0m-82 63h0"/><path id="p41" d="M562 248h0m24 64h0m3 0h0m5-3h0m4 15h0m28-5h0m25-3h0m16 18h0m-58 5h0m23 31h0m51 22h0m-76 7h0m1140 21h0m81-4h0m-1248 17h0m1250 6h0m461-2h0m-22 34h0m54 28h0m-1720 8h0m1753 93h0m25 27h0m178 27h0m57 25h0m-38 95h0m15 8h0m-1585 28h0m63 1h0m1511 28h0m-667 7h0m-945 12h0m211 26h0m-157 7h0m193 26h0m-20 45h0m42-5h0m16 18h0m1 7h0m-84 13h0m73 30h0m-61 4h0m36-4h0m50 8h0m1-7h0m-61 40h0"/><path id="p42" d="M1772 393h0m115-8h0m-1292 55h0m1033 1h0m-767 24h0m2018 2h0m-58 43h0m-1955 17h0m-227 43h0m599 389h0m-59 141h0"/><path id="p43" d="M686 317h0m1048 93h0m4 9h0m-1120 21h0m282 92h0m1640 144h0m245 77h0m-874 177h0m-666 10h0m3 5h0m21 14h0m814 50h0m-807 20h0m1633 95h0m-1886 78h0"/><path id="p44" d="M1712 370h0m-715 54h0m606 22h0m39 1h0m-933 28h0m1146-6h0m-1239 23h0m2242-1h0m-1643 515h0"/><path id="p45" d="M529 186h0m1222 191h0m-911 11h0m-188 10h0m387 6h0m827 8h0m-1267 4h0m20 2h0m1134 17h0m-143 0h0m-26 20h0m-1004 7h0m1315-2h0m5 4h0m-933 6h0m-82 9h0m1303 1h0m669 15h0m13 3h0m-2140 9h0m142 11h0m-41 21h0m-108 13h0m478 517h0"/><path id="p46" d="M466 262h0m2309 80h0m-1876 49h0m828 22h0m-734 31h0m639-8h0m-931 98h0m221 19h0m1738 50h0m-75 66h0m-637 116h0m-789 226h0m762 57h0"/><path id="p47" d="M2118 250h0m-1342 13h0m277 1h0m-289 11h0m959 2h0m412 10h0m-136 9h0m-1078 28h0m19-6h0m82 6h0m-92 38h0m829 2h0m18-8h0m374 6h0m-406 20h0m-71 13h0m86 2h0m-832 12h0m778 9h0m-793 12h0m4-3h0m33 2h0m752-3h0m118 11h0m60 14h0m25 1h0m-955 75h0m886 2h0m-944 14h0m1830 1h0m-1871 9h0m63-4h0m3 29h0m1192 15h0m-1168 28h0m329 239h0m-9 7h0m16 8h0m-23 32h0m932 63h0m619 69h0m60 33h0m1 29h0m-150 6h0m-1564 25h0"/><path id="p48" d="M426 223h0m1368-3h0m-998 102h0m1061 17h0m-1080 8h0m1055 3h0m-894 10h0m758 5h0m34-5h0m151 2h0m-21 4h0m-1076 13h0m105 3h0m804-1h0m32 0h0m165 3h0m-1198 8h0m182-2h0m799-5h0m82 21h0m-1147 20h0m21-1h0m246 9h0m9 7h0m117 3h0m759-3h0m140 14h0m-314 20h0m57 2h0m133 5h0m-797 10h0m-19 6h0m-342 18h0m294 6h0m1925-6h0m-1985 17h0m-112 24h0m57 5h0m1283 12h0m-778 296h0m-15 29h0m-122 186h0m1785 9h0m-1895 19h0m98 16h0"/><path id="p49" d="M568 192h0m2004 76h0m-255 100h0m-1604 37h0m1129 36h0m-1250 8h0m1377 0h0m-1301 58h0m1100 230h0m-500 185h0m-53 10h0m18 30h0m49 7h0m-3 56h0m-7 11h0m-97 19h0m-164 142h0"/><path id="p50" d="M473 254h0m175 183h0m72 58h0m1821 155h0m39 38h0m-780 217h0m-566 85h0m16 3h0m-38 9h0m57 10h0m-8 5h0m-39 24h0m21-6h0m-34 25h0"/><path id="p51" d="M1805 186h0m-70 47h0m81 30h0m11 6h0m-114 9h0m4 7h0m24-5h0m-118 12h0m18-4h0m33 5h0m44-5h0m-107 13h0m-2 6h0m19 5h0m21-1h0m70-4h0m7 0h0m-101 14h0m8 9h0m101-4h0m-162 29h0m2-4h0m6-3h0m38 3h0m6-3h0m33 1h0m12 10h0m-34 7h0m-1013 42h0m2243 7h0m-2048 13h0m219 16h0m1822-6h0m-1922 10h0m96 1h0m-21 22h0m389-6h0m-845 47h0m2275-4h0m-1768 13h0m1744 13h0m-60 61h0m-2517 48h0m14 2h0m321 891h0"/><path id="p52" d="M483 218h0m69 4h0m-104 33h0m2176 23h0m-2037 61h0m507 4h0m-38 14h0m-428 19h0m-24 16h0m1133-6h0m-998 21h0m262 13h0m712-4h0m6 3h0m-713 14h0m756-6h0m49 6h0m-1184 7h0m1161 5h0m131 10h0m52-7h0m-353 15h0m-696 6h0m2 14h0m682 4h0m969 9h0m-1882 24h0m162 12h0m32-5h0m-270 25h0m2101 25h0m-1180 137h0m132 14h0m-486 214h0m58 10h0m-1 7h0m23 6h0m-6 16h0m-92 15h0m633 11h0m-672 42h0m-43 12h0m44-1h0m61 2h0m634 28h0"/><path id="p53" d="M475 192h0m1285 26h0m363 11h0m-1743 35h0m18 27h0m487 80h0m217 2h0m587 31h0m4 4h0m90 0h0m420 3h0m-531 7h0m19 1h0m-773 11h0m7 3h0m88 1h0m-97 19h0m24-1h0m65-7h0m782 12h0m129 5h0m-311 14h0m-700 17h0m771 9h0m-755 14h0m5 13h0m-11 6h0m3 41h0m968 2h0m-594 324h0m-16 49h0m-199 43h0m54 38h0m750 22h0m991 16h0m57 23h0m8 9h0m28 1h0m-1865 7h0m65 11h0m1795 1h0m-14 14h0m-68 11h0m-1779 15h0m1828-7h0"/><path id="p54" d="M881 465h0"/><path id="p55" d="M501 219h0m37 19h0m392 185h0m897-1h0m-179 12h0m-1037 8h0m1252 3h0m-272 12h0m31 6h0m305-4h0m-1280 21h0m-64 11h0m309 21h0m1198 0h0m-1214 20h0m1676 2h0m-857 203h0m978 149h0m-1387 10h0m-44 18h0m-19 1h0m-19 32h0m-218 31h0m243 21h0m8 39h0m652 0h0m-695 33h0m8-5h0"/><path id="p56" d="M412 231h0m1690 42h0m-1360 48h0m416 15h0m-144 84h0m737-3h0m-1126 27h0m1578 2h0m-1288 20h0m-298 68h0m255 7h0m-75 17h0m314 175h0m168 154h0m-35 32h0m22 44h0m598 99h0m-707 42h0m725 11h0m1026 30h0m-2207 477h0"/><path id="p57" d="M2965 256h0"/><path id="p58" d="M1590 466h0m1252 39h0"/><path id="p59" d="M920 344h0m849 41h0m-790 34h0m922 47h0m97 6h0m37 266h0m-796 182h0"/><path id="p60" d="M463 219h0m26 9h0m1601 25h0m-1423 17h0m49 13h0m1842-5h0m-1685 65h0m-231 39h0m1121 17h0m-781 16h0m728 1h0m34 4h0m18 7h0m105 6h0m-1058 17h0m811 24h0m178-5h0m144 0h0m-347 14h0m394-5h0m780 2h0m-2077 28h0m183 13h0m-3 12h0m775-6h0m25 27h0m82 0h0m577 82h0m-579 68h0m-463 171h0m-65 31h0m29 15h0m17 3h0m12-4h0m-5 42h0m-24 16h0m1624 9h0m-1706 27h0m27 4h0m678 6h0m-855 9h0m872 29h0m22 23h0m-766 13h0m1837 30h0"/><path id="p61" d="M2048 176h0m-210 56h0m-120 57h0m118 23h0m-681 16h0m-129 14h0m681 7h0m67-1h0m-900 31h0m787-3h0m-863 62h0m224 6h0m-196 53h0m2026 438h0m-40 180h0m84 61h0"/><path id="p62" d="M629 475h0m1283 9h0"/><path id="p63" d="M874 155h0m179 14h0m775 32h0m-661 17h0m318 1h0m13 2h0m386-6h0m-1095 33h0m-413 63h0m763 21h0m589 1h0m7 0h0m8 2h0m13 9h0m-117 5h0m105 4h0m52-5h0m-56 9h0m48 1h0m-109 10h0m-991 16h0m252 3h0m117 1h0m-330 39h0m281 26h0m-165 6h0m-26 66h0m108 26h0m-78 7h0m65-3h0m1851 437h0m40 0h0m85 8h0m91-2h0m-290 109h0m327-1h0m-320 9h0m140 12h0m-108 13h0m181 23h0"/><path id="p64" d="M1937 214h0m-399 9h0m274 15h0m-61 36h0m0 0h0m-45 24h0m24 13h0m23-5h0m-116 11h0m0 8h0m231-7h0m-240 14h0m9-3h0m2 1h0m81 4h0m-135 4h0m33 6h0m25-7h0m71 0h0m13 2h0m4 3h0m4 2h0m107-8h0m-212 15h0m25 1h0m48-3h0m-52 8h0m-3 16h0m-801 5h0m791 22h0m-846 8h0m2068 94h0m-1894 4h0m-231 27h0m144 7h0m36 2h0m-126 9h0m-12 30h0m1952 31h0m-28 411h0m305 14h0m-331 45h0m503 63h0m-483 1h0m479 42h0"/><path id="p65" d="M728 336h0m1140 112h0m39 20h0m-916 186h0m251 250h0"/><path id="p66" d="M737 237h0m993 6h0m-1005 88h0m1172 38h0m-1226 9h0m1066 25h0m1029 9h0m-1181 15h0m285 2h0m-969 23h0m878 0h0m-889 51h0m366 448h0m1483 130h0m194 79h0m-1917 56h0"/><path id="p67" d="M1832 172h0m-17 11h0m68 3h0m-154 51h0m90 8h0m-138 19h0m134-9h0m-128 11h0m-21 14h0m-35 12h0m8-2h0m71-1h0m-79 17h0m-18 9h0m8 3h0m100 2h0m0-1h0m94 0h0m-180 8h0m26 8h0m-56 9h0m7 0h0m12 1h0m3-9h0m-45 13h0m48 4h0m8-4h0m27 4h0m-66 8h0m41 18h0m-558 79h0m1806 7h0m-2369 16h0m2341 4h0m-5 31h0m-1336 39h0m-687 4h0m696-2h0m-725 12h0m704-3h0m4 1h0m-947 51h0m2158 522h0m-1781 110h0m-330 55h0"/><path id="p68" d="M1844 241h0m994 715h0m148 181h0m170 62h0"/><path id="p69" d="M408 209h0m377 5h0m969-3h0m19 3h0m-1324 57h0m1318 14h0m-658 42h0m683 20h0m-844 15h0m764 12h0m955-7h0m-1935 16h0m1166-2h0m-921 19h0m3 24h0m-59 7h0m-249 10h0m197-4h0m793 2h0m-1038 10h0m1318 4h0m-949 9h0m624-5h0m580 4h0m-1321 5h0m112 11h0m1781 17h0m109-9h0m-2000 17h0m33-3h0m56-2h0m-100 11h0m-28 12h0m-123 24h0m584 358h0m-35 28h0m825 16h0m-883 84h0m-37 22h0m-36 33h0m1855 37h0m-1865 9h0m-37 28h0m1813 10h0"/><path id="p70" d="M1990 203h0m-291 115h0m-68 13h0m-545 154h0m1739 51h0m-1934 14h0m2054 402h0"/><path id="p71" d="M1880 429h0m-1299 53h0m283 5h0m-46 191h0m409 257h0m-8 122h0"/><path id="p72" d="M1750 216h0m-7 32h0m-1334 20h0m324 46h0m1070 41h0m-829 59h0m1056-2h0m-1201 7h0m-58 57h0m-167 45h0m173 18h0m526 359h0"/><path id="p73" d="M440 194h0m1315 140h0m-870 10h0m98 35h0m-82 9h0m984 4h0m-207 26h0m-719 62h0m-63 71h0m659 68h0m1474 437h0"/><path id="p74" d="M1800 195h0m-201 239h0m-964 29h0m400 801h0"/><path id="p75" d="M521 192h0m-103 81h0m364 57h0m-116 21h0m1169 19h0m16-2h0m-1206 14h0m1195-4h0m-69 25h0m94 2h0m-198 25h0m101 8h0m109 0h0m12 2h0m-912 18h0m615-1h0m-617 9h0m-360 10h0m97 1h0m935-1h0m1102 5h0m13 4h0m-1792 9h0m321 396h0m18 28h0m776 96h0m-1047 14h0m189 19h0m1746 65h0m-25 10h0m18 25h0"/><path id="p76" d="M1798 207h0m-89 204h0m1137 85h0m-1789 161h0m41 472h0"/><path id="p77" d="M2853 517h0"/><path id="p78" d="M1838 190h0m-19 25h0m22 2h0m9 48h0m-65 32h0m-142 39h0m-1025 55h0m1023-1h0m-627 14h0m6-8h0m-146 17h0m898-3h0m-717 18h0m-351 15h0m114 21h0m14-8h0m91 5h0m-28 13h0m98-1h0m855-7h0m43 13h0m887 4h0m-1984 4h0m2088 0h0m-2138 25h0m81 3h0m-191 39h0m1152 511h0m-571 12h0m1461 5h0m-1583 44h0m2082 60h0"/><path id="p79" d="M1508 72h0m213 202h0m-33 2h0m181 6h0m-175 7h0m-1314 9h0m1316 3h0m13 4h0m-103 1h0m62 4h0m-60 8h0m84 5h0m-93 4h0m35 6h0m117-2h0m-153 8h0m-24 14h0m-1024 34h0m2322 26h0m1 31h0m-45 58h0m5 5h0m-1834 11h0m1810-3h0m-9 13h0m-1873 27h0m578 1h0m-616 15h0m1926-5h0m-1923 10h0m9 0h0m-90 16h0m34-1h0m35 3h0m1865 13h0m-2512 16h0m2505 0h0m-1298 90h0m1458 248h0m-128 23h0m-92 47h0m-6 27h0m-1224 188h0m-299 185h0m421 96h0"/><path id="p80" d="M1747 258h0m-806 67h0m217 21h0m610 10h0m8 10h0m-153 76h0m230 7h0m-214 9h0m270 14h0m-1010 26h0m1102 81h0m931 534h0"/><path id="p81" d="M1849 178h0m41 54h0m-140 48h0m109 4h0m-230 21h0m-4 11h0m192 19h0m37 4h0m7-1h0m-283 12h0m-914 27h0m127 5h0m110-5h0m-72 14h0m5 6h0m43 3h0m984 3h0m-1077 4h0m94 12h0m11-1h0m-113 11h0m10-4h0m58 3h0m112-1h0m-199 14h0m99-5h0m126 6h0m-181 12h0m54-2h0m47-6h0m-93 23h0m2074 6h0m-2086 5h0m100-3h0m995 3h0m-1113 7h0m21 14h0m-92 6h0m125 4h0m-82 11h0m77 10h0m-110 13h0m40 7h0m163 2h0m1993 649h0"/><path id="p82" d="M1109 192h0m768 125h0m8 35h0m-1072 183h0"/><path id="p83" d="M1810 207h0m29 109h0m-37 30h0m82 13h0m-195 10h0m-32 8h0m-764 12h0m1043 56h0m-1007 30h0m956-4h0m-260 11h0m1054 602h0m-1613 30h0m1886-3h0m264 62h0m-129 82h0"/><path id="p84" d="M718 405h0"/><path id="p85" d="M643 274h0m14 92h0m1017 53h0m-1086 41h0m24 3h0m1636 12h0m77 7h0m277 42h0m-51 39h0m48 27h0m10 4h0m-58 43h0m15 16h0m3 2h0m29-2h0m-45 8h0m-1688 38h0m923 52h0m129 30h0m-937 7h0m27 5h0m916 12h0m-937 3h0m1576 1h0m121-4h0m-789 20h0m766-3h0m-1585 39h0m-95 20h0m53 0h0m28-6h0m118 25h0m31 0h0m727 3h0m-950 4h0m35 3h0m36 38h0m-88 11h0m227 19h0m-138 25h0m198 0h0m-58 10h0m47 6h0m-241 14h0m221 6h0"/><path id="p86" d="M2122 223h0m-260 141h0m-137 25h0m-706 10h0m683 2h0m784 11h0m-1709 18h0m1081 5h0m80 8h0m-1070 19h0m1537 26h0m-244 21h0m-1292 31h0m413 378h0m-30 77h0m1724 149h0"/><path id="p87" d="M1793 230h0m-996 148h0m183 6h0m852 23h0m-947 14h0m134-5h0m-27 20h0m-69 19h0m-90 13h0m64 2h0m-117 14h0m1139-6h0m-1308 64h0m568 536h0m1507 58h0"/><path id="p88" d="M493 247h0m97 10h0m42 77h0m29-1h0m-29 9h0m0 16h0m1208 69h0m452 73h0m261 40h0m-2 12h0m-13 18h0m-108 8h0m162 3h0m-41 7h0m-166 23h0m13 2h0m198-5h0m-79 63h0m85 41h0m-1545 72h0m-29 24h0m-32 12h0m1692 0h0m26-2h0m-1715 16h0m156-2h0m1428-3h0m-1521 15h0m10-1h0m1640-7h0m-1653 16h0m34 6h0m-73 20h0m-34 25h0m9-4h0m214 26h0m3-4h0m-253 22h0m20-4h0m241 60h0m21 10h0m19-2h0m-59 15h0m47 17h0m-98 13h0"/><path id="p89" d="M1019 348h0m-43 73h0m918 2h0m-6 7h0m-259 37h0m-720 17h0m354 425h0"/><path id="p90" d="M1840 339h0m41 33h0m-1140 5h0m-95 45h0m140 1h0m102 25h0m-40 14h0m-144 123h0"/><path id="p91" d="M1837 380h0m912 97h0m-334 20h0m-1416 244h0"/><path id="p92" d="M635 349h0m11 5h0m967 79h0m-4 41h0m-634 268h0m205 302h0m618 26h0"/><path id="p93" d="M674 237h0m-21 60h0m-69 21h0m89 18h0m1573 113h0m-660 18h0m721 32h0m308 42h0m-1023 5h0m971 12h0m-1846 16h0m1974-1h0m-168 34h0m-18 30h0m73 29h0m-1722 21h0m1865 112h0m-1651 7h0m1648 12h0m-1480 37h0m-10 12h0m-56 22h0m51 25h0m-32 8h0m0 2h0m21-3h0m739-3h0m-829 16h0m49-1h0m21 7h0m-22 11h0m669 0h0m-659 12h0m93-3h0m-30 20h0m40-4h0m-273 20h0m131 5h0m59 19h0m53-2h0m-85 16h0m77 1h0m-30 0h0m-34 36h0m1810 45h0"/><path id="p94" d="M739 561h0"/><path id="p95" d="M394 257h0m7 10h0m17 4h0m2198 31h0m-1977 38h0m-16 6h0m402 38h0m707-5h0m-1102 18h0m1149 4h0m-11 5h0m532 28h0m-1671 17h0m1202 3h0m-1244 4h0m1002 15h0m353 13h0m-1316 13h0m249 8h0m-197 47h0m33 0h0m1850 22h0m-162 54h0m220 48h0m-236 74h0m-1379 28h0m169 78h0m69 87h0m27 3h0m-40 17h0m65-1h0m-90 9h0m5-2h0m18-1h0m40 11h0m10-4h0m-46 9h0m-15 17h0m3 0h0m8-2h0m-48 20h0m1 7h0m13 29h0m-1 17h0m-165 155h0"/><path id="p96" d="M487 243h0m-16 20h0m241 15h0m307 101h0m-378 8h0m332 15h0m-313 18h0m1078 1h0m17-4h0m49 8h0m-1139 7h0m21-3h0m-9 15h0m990-1h0m103-7h0m-819 14h0m1295 11h0m-1603 8h0m985-1h0m275 1h0m-264 6h0m208 5h0m-1259 13h0m307 17h0m1706 7h0m22 113h0m-63 54h0m-1670 53h0m1702 39h0m-1526 19h0m734 81h0m-485 31h0m-76 37h0m-48 9h0m55 4h0m-13 8h0m-39 29h0m63-7h0m-22 33h0m691 24h0m-695 4h0m581 2h0m-660 10h0m1 12h0m3 16h0"/><path id="p97" d="M464 247h0m128 238h0"/><path id="p98" d="M1854 360h0m-1018 49h0m87 64h0m-180 28h0"/><path id="p99" d="M1038 1228h0"/><path id="p100" d="M592 293h0m34 4h0m31 37h0m-20 19h0m88 5h0m-61 11h0m1064 11h0m-842 21h0m774 24h0m22-3h0m57 0h0m43-3h0m111 48h0m3 4h0m646 49h0m-1636 12h0m1697 5h0m-1950 9h0m1807 72h0m108 67h0m-995 38h0m-30 4h0m98 3h0m371 37h0m-734 100h0m-34 48h0m5-7h0m-9 30h0m38 11h0m-28 15h0m26-3h0m-76 6h0m85 5h0m-91 6h0m79 6h0m698-8h0m-727 17h0m-66 5h0m49 2h0m-61 50h0m12 17h0m752 20h0m1032 28h0m-1875 27h0m1834 23h0"/><path id="p101" d="M655 264h0m10 48h0m-33 41h0m57-3h0m-11 47h0m1026 20h0m161 4h0m-1248 5h0m9 2h0m1142 17h0m480 10h0m-1593 14h0m47 79h0m1846 106h0m24 35h0m-818 60h0m1029 8h0m-1018 9h0m174 65h0m923 3h0m-1923 70h0m230 9h0m36 24h0m1 8h0m67-1h0m-6 8h0m2-6h0m-49 12h0m42 5h0m-29 7h0m22 1h0m516-1h0m-492 23h0m-89 10h0m33-5h0m5 14h0m-72 14h0m32 3h0m10 0h0m41 0h0m-133 13h0m51 10h0m9 1h0m32 3h0m1752 84h0"/><path id="p102" d="M1748 380h0m-830 102h0m138 669h0"/><path id="p103" d="M1780 361h0m-866 55h0m-103 112h0m2064 534h0"/><path id="p104" d="M573 186h0m-132 39h0m455 145h0m-238 23h0m1083 5h0m-1092 12h0m374 2h0m-4 9h0m703-4h0m-123 10h0m38 7h0m28 1h0m88-7h0m-132 12h0m-1042 12h0m1007-4h0m4 5h0m268-6h0m-886 27h0m934-7h0m-1048 14h0m46-4h0m65 4h0m-358 5h0m7 4h0m1309-1h0m936 3h0m-1886 9h0m-21 8h0m1919-1h0m-2015 31h0m1506 141h0m211 10h0m-1297 216h0m18 30h0m-99 73h0m699 28h0m-718 13h0m613 3h0m-581 26h0m-21 7h0m650 39h0m-826 10h0m1942 9h0m-1948 17h0"/><path id="p105" d="M1868 363h0m-168 25h0m92 17h0m-955 34h0m768 22h0m-903 6h0m2052 193h0"/><path id="p106" d="M1825 183h0m8 12h0m-9 6h0m19 4h0m-1467 18h0m1129 0h0m1492 46h0m-1110 50h0m-241 31h0m5-5h0m1 3h0m158-1h0m-138 19h0m36 4h0m72-3h0m2-1h0m60 6h0m46 4h0m-1103 12h0m21 3h0m21 7h0m-105 10h0m218-1h0m-69 22h0m713 7h0m-705 16h0m149-6h0m-19 15h0m-162 12h0m1039-5h0m-1118 13h0m825 0h0m-666 14h0m1905 8h0m14 6h0m-2131 16h0m195 6h0m-78 9h0m74 33h0m72 20h0m1934 390h0m11-5h0m-243 128h0m-1 33h0m505 55h0"/><path id="p107" d="M810 205h0m1074-3h0m-101 129h0m-91 11h0m95 19h0m-717 30h0m7 13h0m-149 33h0m68 26h0m-96 55h0m40 3h0m1741 591h0m149 7h0m-129 10h0m489 33h0"/><path id="p108" d="M1865 380h0m-1242 59h0m53 79h0"/><path id="p109" d="M1879 201h0m-531 20h0m395 42h0m215 25h0m-338 30h0m6 1h0m-27 7h0m113 12h0m61 7h0m62-6h0m-63 14h0m65-8h0m7 0h0m-199 11h0m215 6h0m-169 9h0m-886 30h0m130 28h0m-183 8h0m59 18h0m88 5h0m-63 6h0m67 9h0m108-4h0m-202 9h0m876 11h0m-735 8h0m-97 13h0m-94 10h0m164 27h0m-145 11h0m2155 622h0m-28 16h0m8 6h0m-1879 39h0"/><path id="p110" d="M1899 245h0m-999 82h0m77 37h0m8 11h0m-38 2h0m825 4h0m90-4h0m-121 15h0m-57 4h0m69 21h0m-76 15h0m-689 6h0m654 4h0m6 12h0m-719 20h0m703-8h0m279 17h0m-995 5h0m806 4h0m395-1h0m-1381 21h0m177 6h0m378 360h0m4 37h0m1965 71h0m-384 42h0m-1714 43h0m653 7h0m1117 57h0m1-8h0m-1846 10h0m1832 7h0m-1843 4h0m19 5h0m-10 19h0m-56 64h0"/><path id="p111" d="M2593 359h0m-872 27h0"/><path id="p112" d="M1207 132h0m604 104h0m17 16h0m-136 22h0m10 3h0m15-1h0m36 30h0m-161 15h0m267-5h0m15 4h0m9-3h0m-266 20h0m0 0h0m3 8h0m0-1h0m5-1h0m5-2h0m118 3h0m-152 3h0m34-1h0m109 9h0m158 8h0m-278 20h0m486-2h0m-1193 7h0m80 5h0m-233 14h0m224 10h0m-120 35h0m-93 10h0m30 24h0m2087 17h0m-2135 6h0m2061 3h0m-2293 13h0m2291 54h0m-1961 55h0m2096-2h0m1 293h0m-29 66h0m-225 35h0m463 182h0m-53 18h0m-2020 17h0m1089 288h0"/><path id="p113" d="M490 193h0m1396 52h0m-1471 34h0m1378 67h0m-993 10h0m-35 13h0m266 1h0m661 3h0m-767 30h0m133-1h0m754 3h0m-1055 5h0m951-2h0m74 3h0m-813 37h0m809 0h0m471 7h0m-1494 18h0m158-7h0m5 1h0m717 6h0m137 5h0m165 6h0m-336 3h0m2 2h0m5 13h0m1248 9h0m-2145 6h0m180-1h0m-52 18h0m27 2h0m2142 130h0m-1717 199h0m1 15h0m14 3h0m-40 8h0m53 10h0m-134 174h0m622 9h0m-631 25h0m-18 8h0m1778 10h0m-1806 16h0m1834 15h0m-1911 137h0"/><path id="p114" d="M733 348h0m2150 119h0m-2197 45h0m2499 670h0"/><path id="p115" d="M648 351h0m341 20h0m-279 9h0m-64 8h0m1161 3h0m-58 5h0m33 5h0m-803 13h0m13 0h0m664 6h0m-1027 25h0m1251-5h0m-1268 11h0m1389-1h0m-1293 14h0m244-4h0m1685-1h0m-1732 27h0m1979 15h0m-2305 13h0m15-5h0m66 20h0m16 26h0m-5 4h0m98 81h0m468 311h0m-14 8h0m-19 22h0m-1 8h0m19 8h0m-68 31h0m83 16h0m-54 29h0m5 15h0m1785 31h0m-1899 63h0"/><path id="p116" d="M2759 1088h0"/><path id="p117" d="M1526 225h0m-444 112h0m801 38h0m734-3h0m-1678 10h0m889-6h0m-1160 18h0m1206 2h0m-139 17h0m95-6h0m69-1h0m-11 24h0m-33 24h0m-251 11h0m-909 21h0m1044 6h0m-987 68h0m1288 66h0m-766 298h0m-36 21h0m1559 33h0m-1721 253h0"/><path id="p118" d="M1824 233h0m-158 60h0m65 34h0m-830 223h0m539 135h0m-1199 215h0"/><path id="p119" d="M563 196h0m1242 191h0m-1130 37h0m963 22h0m-774 48h0m1989-2h0m-1998 38h0m763 0h0"/><path id="p120" d="M367 304h0"/><path id="p121" d="M1802 373h0m-1127 91h0m1165 3h0m-1131 53h0m25 50h0"/><path id="p122" d="M754 478h0"/><path id="p123" d="M1879 229h0m-248 71h0m271 14h0m-730 30h0m670-8h0m-888 18h0m-78 31h0m1296 14h0m-1176 27h0m-42 26h0m-202 61h0m2196 439h0m-55 15h0m-128 151h0m230 18h0"/><path id="p124" d="M929 350h0m734 36h0m-1052 91h0m134 2h0m299 749h0"/><path id="p125" d="M1767 235h0m-1337 36h0m539 82h0m94 10h0m637-3h0m49-1h0m-937 13h0m953 3h0m101 5h0m-93 14h0m31 0h0m-811 8h0m-312 7h0m233 0h0m977-2h0m-1020 23h0m792 4h0m159-2h0m-1135 8h0m267-2h0m44 3h0m2 3h0m-18 4h0m596 1h0m77-2h0m217-2h0m-1257 15h0m284 1h0m12-3h0m44 3h0m-299 10h0m58-4h0m182 4h0m-173 8h0m1274-2h0m870 9h0m4 10h0m-1960 34h0m-281 30h0m114 4h0m2048 350h0m182 213h0m6 12h0m-1939 58h0m2095 24h0"/><path id="p126" d="M524 224h0m-75 28h0m288 70h0m2 6h0m-42 14h0m99 6h0m988 13h0m-33 13h0m-90 8h0m-1033 6h0m47 1h0m413 12h0m689 3h0m-32 7h0m-717 10h0m840-2h0m144-3h0m-1421 10h0m408 23h0m610 0h0m-720 11h0m719-3h0m305 1h0m-1179 8h0m-126 13h0m1305-2h0m858 7h0m-842 2h0m893 16h0m-1929 31h0m-243 56h0m401 66h0m1318 82h0m344 115h0m-1437 46h0m-42 67h0m-4 48h0m1643 12h0m-1744 51h0m-41 17h0m102-3h0m-140 30h0m1893 21h0m16 0h0m-1880 55h0"/><path id="p127" d="M687 557h0m539 370h0"/><path id="p128" d="M503 184h0m1797 24h0m-1449 138h0m876 20h0m63 21h0m-1196 16h0m211-3h0m253 10h0m-436 14h0m278 44h0m19 3h0m-48 10h0m858 12h0m1042 5h0m489 489h0m-311 184h0m-23 31h0"/><path id="p129" d="M695 383h0m353 23h0m-68 36h0m-306 4h0m179 16h0m-188 15h0m42 18h0m36-8h0m3 5h0m12-5h0m-103 41h0m39 2h0m14 0h0m-4 10h0m13 42h0m-71 5h0m66 4h0m273 66h0"/><path id="p130" d="M518 179h0m969 49h0m278-3h0m228 13h0m136 12h0m-81 23h0m-185 33h0m-1035 25h0m804 10h0m-795 4h0m234 4h0m-229 10h0m871-2h0m55 7h0m51-8h0m377 5h0m-431 6h0m-50 9h0m-1014 14h0m405 1h0m577 15h0m72 5h0m-982 18h0m1145 21h0m801 1h0m-1960 20h0m72-2h0m-9 33h0m95-5h0m1849 4h0m-1797 11h0m-151 5h0m39 11h0m87-2h0m-120 26h0m84 0h0m-270 30h0m2215 341h0m80 54h0m-30 63h0m-223 76h0m76 8h0m-1628 3h0m1824 49h0m142 79h0"/><path id="p131" d="M684 330h0m26 0h0m-76 15h0m-16 17h0m41 42h0m1071 4h0m-1121 13h0m1034 30h0m263 2h0m-1252 3h0m1608 6h0m619 0h0m-991 5h0m-1292 9h0m1338 7h0m82-6h0m-1350 28h0m-7 7h0m2118-6h0m-1916 13h0m1768 10h0m-578 137h0m513 15h0m35 7h0m-595 17h0m746 160h0m-806 25h0m-650 44h0m-71 3h0m11 8h0m13 18h0m-15 20h0m42 3h0m-105 36h0m78 1h0m-38 11h0m-55 8h0m23-4h0m32 6h0m-46 9h0m-37 12h0m77-10h0m703 10h0m-17 31h0m1072 39h0"/><path id="p132" d="M2679 193h0m-136 106h0m-1795 29h0m-132 20h0m1096 54h0m70 4h0m77 13h0m392 14h0m-1546 6h0m905-1h0m25 10h0m-931 27h0m1228-1h0m-1211 20h0m1012 1h0m-1119 25h0m41 39h0m2046-1h0m-2035 14h0m1397 105h0m506 0h0m-1550 92h0m197 121h0m50 39h0m11 6h0m-31 32h0m-37 10h0m21 1h0m5-2h0m682 4h0m-717 21h0m-2 11h0m-8 7h0m53 5h0m-17 6h0m24-2h0m-33 10h0m39-2h0m-109 19h0m27 0h0m10 15h0m10 4h0m-113 5h0m1872 15h0m26 16h0"/><path id="p133" d="M1818 208h0m-1376 57h0m1642-6h0m-1242 90h0m-120 8h0m143 0h0m174 5h0m660 33h0m512 4h0m-1495 14h0m1033-4h0m3-1h0m-1055 8h0m71 1h0m881 2h0m136-1h0m396 0h0m-1331 9h0m1041 3h0m-1057 16h0m807 7h0m-38 4h0m30 3h0m-754 10h0m715 2h0m-900 8h0m1427 5h0m-413 9h0m-813 5h0m1217 7h0m-1489 29h0m180 12h0m57 160h0m391 162h0m32 38h0m2 14h0m-54 16h0m1643 5h0m-1593 10h0m1536 50h0m-1699 103h0m12 3h0m33-2h0m1785 17h0m-1940 53h0"/><path id="p134" d="M1567 77h0m170 17h0m41 24h0m101 79h0m-94 67h0m-68 17h0m-107 13h0m41-7h0m212 12h0m-238 16h0m145-2h0m-179 11h0m230 0h0m69-5h0m-306 9h0m16-2h0m-27 17h0m8-5h0m42 17h0m1 11h0m15 1h0m16 7h0m-21 11h0m285-5h0m-852 12h0m-263 6h0m184-2h0m-205 25h0m170 5h0m-159 17h0m12 38h0m-16 22h0m22 19h0m-49 11h0m54 0h0m2448 446h0m-506 13h0m-24 7h0m-27 17h0m99 21h0m-127 14h0m144 64h0m176 11h0m-285 14h0m25-2h0"/><path id="p135" d="M2182 169h0m-434 108h0m-161 45h0m16 2h0m27 5h0m8 2h0m-62 10h0m49 1h0m26 10h0m34-2h0m-39 23h0m242-2h0m-986 14h0m720 2h0m263 2h0m-1079 8h0m9 8h0m29-9h0m149 7h0m-193 10h0m26-7h0m3 18h0m45-3h0m184-3h0m-267 8h0m34 6h0m162 0h0m-119 5h0m-112 16h0m96 33h0m1934 13h0m-2028 6h0m-16 18h0m35 11h0m-5 20h0m49-3h0m1919 181h0m259 278h0m-1182 95h0m1193 3h0m-349 27h0m211 32h0m300 28h0m-7 2h0m-35 20h0"/><path id="p136" d="M1430 62h0m-401 119h0m845-4h0m-73 67h0m35-7h0m-191 38h0m150-3h0m38-1h0m-114 4h0m28 5h0m107-4h0m6 5h0m-169 13h0m21-8h0m7-1h0m0 19h0m-90 2h0m-37 15h0m33 7h0m22 4h0m-1220 11h0m1190-1h0m109-4h0m150 2h0m-255 12h0m24 2h0m-1052 10h0m1013 1h0m73-5h0m-1108 32h0m72 5h0m282 18h0m1968 3h0m-1910 51h0m1986-3h0m-1578 15h0m1493 4h0m-82 38h0m-1790 38h0m-220 5h0m-8 25h0m1951 8h0m61-1h0m-118 494h0m-972 453h0"/><path id="p137" d="M1941 206h0m-429 32h0m-1131 9h0m1439 97h0m-172 4h0m114 14h0m106 8h0m-950 26h0m19 12h0m96-2h0m735 1h0m-1099 17h0m115-3h0m274 1h0m-315 9h0m44 0h0m25-5h0m95 7h0m127-8h0m-186 12h0m1043 2h0m42 7h0m-1189 16h0m13 5h0m121 10h0m1038 1h0m-1133 12h0m95 4h0m1974-6h0m-2084 13h0m34-6h0m64 5h0m1992-1h0m-2118 12h0m145 9h0m1930 0h0m-2084 34h0m-20 4h0m613 326h0m1631 65h0m-244 160h0m166 43h0m7 20h0m292 16h0m-89 67h0"/><path id="p138" d="M2329 116h0m-1868 69h0m1596 67h0m215 22h0m-1120 47h0m676 24h0m-835 6h0m-276 22h0m1145 10h0m-788 9h0m664-5h0m153 17h0m-805 10h0m-217 2h0m775 4h0m246 2h0m-127 3h0m-775 19h0m607-5h0m70 5h0m94-3h0m-133 23h0m-19 17h0m305-1h0m-310 14h0m59 0h0m-793 4h0m1279 10h0m707 1h0m-2041 40h0m92 5h0m1225 17h0m-2041 185h0m1185 176h0m1104 18h0m-1223 155h0m1757 4h0m-1771 10h0m710-3h0m22 7h0m810 0h0m261 4h0m-1781 12h0m-73 30h0m1802 5h0"/><path id="p139" d="M1645 330h0m-691 257h0"/><path id="p140" d="M625 197h0m462 0h0m-242 35h0m-478 17h0m1492 31h0m-130 23h0m150-2h0m16 19h0m-102 15h0m-88 5h0m-71 7h0m58 1h0m42-2h0m375 1h0m-1284 46h0m174 10h0m1175 2h0m-1263 8h0m982 6h0m-1128 21h0m277-3h0m-140 20h0m16 2h0m74 14h0m309 395h0m1569 65h0m401 52h0m-535 28h0m-54 97h0m109 3h0m-84 10h0m-1567 41h0m1739-6h0m34 42h0m-9 10h0"/><path id="p141" d="M468 206h0m663 128h0m-497 70h0m1020 30h0m1113 48h0m5-1h0m-1820 23h0m-174 51h0m1864 152h0m257 404h0m-1854 32h0"/><path id="p142" d="M1842 386h0m-1244 36h0m53 38h0m286 16h0m1198 11h0"/><path id="p143" d="M1817 193h0m-15 14h0m-84 48h0m63 116h0m75 14h0m-867 66h0m859 24h0m-1222 9h0m2143 2h0m104 6h0m-2268 3h0m2172 236h0m-1734 525h0"/><path id="p144" d="M1527 240h0m197 44h0m-107 65h0m320 59h0m-1304 14h0m1492-7h0"/><path id="p145" d="M670 508h0"/><path id="p146" d="M429 265h0m1443 17h0m-171 66h0m-678 12h0m622-1h0m-591 20h0m-185 16h0m1019 1h0m-1129 15h0m22 2h0m89 5h0m-97 13h0m-34 19h0m34 4h0m1 20h0m-159 27h0m708 387h0m1461 96h0m-1644 107h0m23 40h0m1530-3h0m-1623 17h0"/><path id="p147" d="M1680 274h0m-1260 3h0m641 19h0m636 22h0m-12 24h0m-48 8h0m-541 325h0m1755 263h0m120 24h0m-2619 32h0"/><path id="p148" d="M563 190h0m1163 155h0m-823 192h0m1773 570h0"/><path id="p149" d="M519 254h0m38-3h0m-44 5h0m205 69h0m967 90h0m-32 14h0m-49 35h0m1273 26h0m-1258 225h0m984 5h0m-1360 236h0m5 4h0m-274 10h0m247 0h0m23-4h0m-31 11h0m62 24h0m-234 7h0"/><path id="p150" d="M1785 339h0m-1053 102h0m936-1h0"/><path id="p151" d="M516 259h0m99 65h0m442 32h0m-418 39h0m5-8h0m23 26h0m1157 6h0m14 18h0m7-1h0m-1247 17h0m-10 32h0m12-4h0m60 4h0m1597-2h0m-1649 4h0m2257 2h0m-320 71h0m-89 19h0m-1769 12h0m26 26h0m1878 17h0m-4 4h0m-1488 151h0m17 21h0m1558-4h0m-1639 46h0m1587 6h0m319 20h0m-317 14h0m52 0h0m-856 9h0m-618 26h0m669 7h0m-896 29h0m232 5h0m14-2h0m-163 12h0m930 0h0m-973 10h0m275 3h0m-82 9h0m50 24h0m-188 6h0m150-1h0m-128 11h0"/><path id="p152" d="M1741 117h0m66 115h0m61-6h0m2 16h0m-252 63h0m220 9h0m-192 20h0m203 1h0m-268 6h0m10-3h0m48-1h0m12 3h0m136 2h0m6 2h0m-167 2h0m-874 43h0m74 14h0m812-5h0m-759 19h0m-5 12h0m-178 13h0m52 6h0m14-3h0m-17 10h0m70 7h0m81 2h0m3-3h0m-127 5h0m74 6h0m-63 4h0m3 15h0m77 5h0m-128 9h0m47 10h0m0-4h0m95-4h0m-90 13h0m-32 6h0m-119 44h0m-482 141h0m2788 252h0m-173 163h0m-76 25h0m171-5h0m322 17h0"/><path id="p153" d="M378 265h0m1937 37h0m-1303 93h0m-5 4h0m7 30h0m-192 7h0m75 23h0m-77 24h0m951 1h0m-824 25h0m-186 20h0m105 5h0m439 360h0m1612 90h0m-1808 115h0m1614 5h0m-1566 18h0m1619-5h0m71 7h0m-1716 24h0m2050 35h0"/><path id="p154" d="M2866 508h0"/><path id="p155" d="M1882 183h0m-3 7h0m-942 9h0m-38 51h0m948 46h0m-97 17h0m-146 7h0m16 0h0m217 4h0m-97 6h0m25-5h0m-195 13h0m108-3h0m-1278 15h0m1172 4h0m95-2h0m-17 9h0m13-2h0m2 34h0m-718 54h0m74 111h0m231 11h0m-1048 61h0m29 9h0m2787 405h0m-326 102h0m490 19h0"/><path id="p156" d="M964 429h0"/><path id="p157" d="M1618 311h0m272 5h0m-306 13h0m252 10h0m-214 10h0m-689 41h0m-147 10h0m49 1h0m-20 15h0m2393 321h0m-108 493h0"/><path id="p158" d="M2752 1128h0"/><path id="p159" d="M1767 215h0"/><path id="p160" d="M1845 352h0m-938 126h0m8 53h0m8 48h0m890 529h0"/><path id="p161" d="M1023 316h0m1067 46h0m39 44h0m848 483h0m-817 126h0m714 133h0"/><path id="p162" d="M1743 259h0"/><path id="p163" d="M760 336h0m1105 24h0m-12 20h0m-189 11h0m42 3h0m81 2h0m-738 17h0m754-5h0m36 72h0m-976 11h0m45-4h0m158 619h0m2064 118h0m-23 8h0"/><path id="p164" d="M1787 404h0m-1078 74h0m164 22h0"/><path id="p165" d="M1750 329h0m-824 76h0m1964 85h0"/><path id="p166" d="M1177 112h0m681 72h0m-1163 8h0m254 0h0m837 4h0m99 72h0m-135 46h0m130-8h0m-4 15h0m228 4h0m-476 12h0m260 2h0m-247 58h0m9 0h0m-879 17h0m145-2h0m-144 3h0m162 0h0m-160 20h0m103 7h0m88-2h0m34-4h0m-251 24h0m170-1h0m-56 15h0m2021 12h0m-2075 13h0m-200 18h0m267 14h0m172 17h0m-232 28h0m-470 206h0m2606 158h0m13 17h0m-58 23h0m69 12h0m37 44h0m20 23h0m-103 26h0m-252 58h0m301 11h0m203 14h0m9 1h0m-67 63h0m-19 13h0"/><path id="p167" d="M946 132h0m1094 87h0m-493 10h0m211 3h0m106 3h0m-24 22h0m212 16h0m-78 42h0m-864 28h0m681 8h0m28-1h0m-100 12h0m-1013 5h0m275 23h0m804 4h0m95-3h0m-1120 7h0m150-2h0m30 1h0m1191 20h0m-1179 11h0m60 6h0m602-5h0m131 4h0m1137-5h0m-743 16h0m-1260 6h0m889-4h0m-850 10h0m14 4h0m794-2h0m1 2h0m-1122 24h0m1333 7h0m-1194 16h0m96 37h0m1315 113h0m986 13h0m-333 384h0m-140 79h0m36 6h0m-1555 21h0m1788-2h0m-1847 74h0m2008 19h0"/><path id="p168" d="M1863 203h0m251 22h0m-1324 75h0m251 42h0m668 20h0m70 9h0m44-3h0m58-1h0m-68 24h0m45-6h0m-1117 18h0m132-3h0m880 12h0m-1175 13h0m1022 18h0m-784 3h0m182 3h0m-116 7h0m120 6h0m903-5h0m-313 17h0m139-8h0m197 1h0m-335 13h0m-812 11h0m125-4h0m1034 2h0m-292 20h0m-969 13h0m211 9h0m-67 5h0m-91 25h0m1006-3h0m-1634 58h0m948 94h0m1886 238h0m7 1h0m-159 22h0m46 127h0m-110 24h0m82-5h0m-1700 27h0m1804-5h0m72 2h0m162 82h0"/><path id="p169" d="M548 202h0m221 151h0m1019 25h0m-756 42h0m212 487h0m634 194h0"/><path id="p170" d="M508 188h0m-98 34h0m17 6h0m29 7h0m-52 44h0m674 20h0m-203 18h0m-35 16h0m104 1h0m-28 4h0m109 8h0m69 3h0m36 1h0m-250 15h0m82-4h0m797-1h0m52-1h0m-1192 16h0m81 15h0m13 3h0m335 4h0m714 7h0m-848 22h0m-178 15h0m243-6h0m28 9h0m1217 2h0m-575 21h0m-869 45h0m167 0h0m-83 9h0m1820 3h0m-905 15h0m-1136 37h0m2627 61h0m-1987 224h0m-32 93h0m1632 42h0m-1739 17h0m1705 15h0m-1719 8h0m1727 20h0m-49 28h0m135 49h0m6 5h0"/><path id="p171" d="M1739 244h0"/><path id="p172" d="M434 209h0m120 15h0m176 60h0m-20 48h0m347 20h0m-130 13h0m969 16h0m-1286 7h0m-12 13h0m12 1h0m1078 3h0m24 5h0m31 5h0m-1017 8h0m984-3h0m-71 12h0m112-2h0m13-4h0m-804 10h0m767 2h0m-738 16h0m593 3h0m311 7h0m253-1h0m449-6h0m-1981 26h0m1021-7h0m442 10h0m-1444 19h0m-7 17h0m1716 36h0m-711 150h0m-332 155h0m-268 11h0m188 10h0m686-1h0m-682 42h0m762 2h0m-763 32h0m61 21h0m637-1h0m-40 18h0m-722 33h0m31 25h0m-7 33h0"/><path id="p173" d="M1838 375h0m-1109 33h0m271 1h0m612 35h0m-613 13h0m1838 47h0"/><path id="p174" d="M2614 237h0m-1879 102h0m-76 81h0m1176 3h0m-190 7h0m587 59h0m544 250h0m-1558 241h0m33 4h0m-46 52h0m-187 56h0"/><path id="p175" d="M1881 258h0m-114 11h0m205 34h0m-337 31h0m-719 8h0m38-3h0m742-2h0m-612 13h0m552 1h0m247-1h0m-752 10h0m634 0h0m3 4h0m7-6h0m-682 21h0m542 4h0m-560 3h0m825 17h0m-958 19h0m-165 42h0m160 16h0m1064 77h0m-867 562h0m1579 16h0m212 46h0"/><path id="p176" d="M439 222h0m701 112h0m-236 10h0m-94 6h0m-50 14h0m975-4h0m141 2h0m-100 4h0m-1121 38h0m307 0h0m781 1h0m-29 0h0m-60 13h0m-726 10h0m1877-1h0m-1045 17h0m-935 10h0m832-5h0m1 0h0m-77 12h0m360 2h0m-956 3h0m962 19h0m-1030 16h0m1906 0h0m-1905 9h0m-54 25h0m29 0h0m-68 11h0m1161 8h0m20 51h0m-982 46h0m609 44h0m-1257 23h0m-33 89h0m925 90h0m3 36h0m2 27h0m800 93h0m-916 36h0m1526 5h0m275-2h0m-1047 17h0m-66 19h0m1133 7h0"/><path id="p177" d="M931 410h0m-238 45h0m351 207h0m1881 448h0m31 3h0"/><path id="p178" d="M2515 250h0m-2172 13h0m553 63h0m192 34h0m-219 9h0m909 36h0m-813 5h0m860 4h0m44 0h0m-1183 8h0m1175-5h0m-894 13h0m10 4h0m770-4h0m-94 8h0m-1 14h0m221-6h0m13 3h0m-934 13h0m677 11h0m-649 7h0m634-1h0m-740 7h0m42 15h0m1870-2h0m-89 6h0m-1811 20h0m46-7h0m695-1h0m-898 18h0m964 10h0m-620 123h0m-11 61h0m1001 57h0m-787 98h0m-73 61h0m87-10h0m-38 20h0m5 18h0m-88 81h0m-39 25h0m1821 28h0m-1060 21h0m1050 24h0m-34 19h0"/><path id="p179" d="M531 243h0m1332-8h0m-1167 54h0m-79 35h0m24 56h0m1097 11h0m111 20h0m-247 33h0m155-8h0m104 8h0m76 5h0m301 6h0m277-4h0m-669 11h0m66-3h0m-1297 14h0m1304-3h0m348-2h0m-1560 8h0m47 4h0m-159 13h0m2252-2h0m19 3h0m-2233 19h0m2183-6h0m-2141 52h0m51 19h0m1983 13h0m-149 95h0m-1361 150h0m17 128h0m871 1h0m-814 11h0m-105 9h0m65 21h0m22 1h0m-43 24h0m21-1h0m41 1h0m-110 22h0m53 10h0m-146 3h0m3-1h0m840 5h0m1039 95h0"/><path id="p180" d="M2564 631h0m-8 12h0m-1328 307h0m-39 50h0m48 21h0m-145 13h0m107 28h0"/><path id="p181" d="M1852 280h0m-221 29h0m153-2h0m-217 19h0m182 4h0m-152 19h0m53 3h0m-784 233h0m-613 40h0m2770 421h0m-114 180h0"/><path id="p182" d="M1873 409h0"/><path id="p183" d="M1518 234h0m561 21h0m-1269 5h0m1029 5h0m-10 7h0m-93 13h0m376 27h0m-273 7h0m-997 11h0m101 2h0m12-1h0m935 2h0m-810 8h0m719-4h0m100-1h0m-119 19h0m41 1h0m-1203 21h0m171 6h0m-82 12h0m922-5h0m-720 17h0m-28 18h0m27 9h0m1897-4h0m-1966 12h0m1295-7h0m-340 21h0m-948 30h0m-76 9h0m15 25h0m1214 4h0m-1252 19h0m1527 66h0m-1021 365h0m1517 19h0m-60 93h0m-1588 43h0m1718 2h0m101 1h0m-1784 12h0m1741 9h0m35-3h0m-48 9h0m61 19h0"/><path id="p184" d="M667 237h0m-200 30h0m351 73h0m914 56h0m3 6h0m150 1h0m-190 6h0m23 5h0m119 1h0m-31 6h0m18 0h0m21-1h0m-1254 10h0m1239-3h0m22 2h0m-1199 12h0m1185-5h0m-1218 14h0m25 3h0m1176-2h0m-208 30h0m1242 16h0m13 1h0m-349 11h0m-1867 31h0m1-2h0m54 19h0m-76 15h0m245 132h0m1121 170h0m-756 27h0m33 42h0m9 31h0m-62 5h0m-150 50h0m183 9h0m-22 7h0m-214 29h0m183 16h0m1744 16h0m42 20h0"/><path id="p185" d="M1852 334h0"/><path id="p186" d="M404 278h0m304 28h0m-91 41h0m-8 44h0m68 1h0m1058 1h0m-697 4h0m673 1h0m13-1h0m44-1h0m-1170 12h0m82-1h0m1095 0h0m38 10h0m6 2h0m39-2h0m-199 16h0m198-4h0m803 6h0m-2051 6h0m1013 10h0m21-4h0m138-1h0m12 15h0m119-1h0m-1323 11h0m1 0h0m995 1h0m-701 16h0m-276 9h0m2264 2h0m1 1h0m-2177 35h0m-16 17h0m48 37h0m1859 183h0m-1443 49h0m107 109h0m50 3h0m-77 18h0m1 17h0m13 16h0m5 34h0m-40 48h0m-32 46h0"/><path id="p187" d="M527 247h0m8 5h0m95-1h0m166 72h0m933 51h0m0 1h0m994-4h0m-936 15h0m11 0h0m19 14h0m1 3h0m-1144 11h0m1104-9h0m97 9h0m-1202 10h0m1064-9h0m9 2h0m8 6h0m90-7h0m-1 17h0m42-7h0m-1309 16h0m1293-1h0m-1235 11h0m976-5h0m19 0h0m253-1h0m-1213 15h0m301 7h0m1067-2h0m213 2h0m-1616 10h0m1525-1h0m-1512 20h0m239 16h0m-189 4h0m153 3h0m79 10h0m312 342h0m20 57h0m-47 6h0m22 51h0m-75 85h0m672 12h0m42 9h0"/><path id="p188" d="M451 244h0m37 18h0m113 39h0m1104 100h0m153 12h0m-1225 6h0m1115 2h0m-1150 10h0m9 1h0m1209-1h0m49 3h0m-17 11h0m-1230 8h0m32-5h0m-69 15h0m1340-8h0m16 7h0m-1342 20h0m61-3h0m0 15h0m2055 103h0m-106 23h0m-91 30h0m36 21h0m196 9h0m-186 28h0m34-2h0m-731 65h0m522-3h0m351 8h0m-1537 165h0m44 9h0m-15 11h0m-23 4h0m23 2h0m2 3h0m15 10h0m0-4h0m-34 26h0m-45 17h0m13 5h0m55 0h0m31 2h0m-178 10h0m152 7h0"/><path id="p189" d="M532 182h0m588 13h0m-221 44h0m834 30h0m-801 43h0m114 10h0m5-1h0m23 19h0m677 14h0m-914 3h0m862 7h0m-892 10h0m305-7h0m623-2h0m14 17h0m-794 38h0m146 4h0m-325 8h0m214-4h0m592-2h0m103 0h0m-685 17h0m-92 12h0m51 13h0m-59 9h0m-116 14h0m-7 7h0m-6 18h0m56 5h0m75 13h0m-170 26h0m217 71h0m923 26h0m1109 348h0m-311 46h0m-1539 91h0m1554 5h0m260 4h0m171 75h0"/><path id="p190" d="M1876 205h0m-708 6h0m577 24h0m-10 35h0m-127 37h0m-35 24h0m5 1h0m49 1h0m-52 10h0m11-1h0m47 6h0m26 2h0m119 8h0m125 15h0m-1073 18h0m185-3h0m41-1h0m5 4h0m587 3h0m-843 2h0m-26 10h0m100 1h0m1070 4h0m-888 9h0m-209 8h0m10 5h0m-176 4h0m214 17h0m4-1h0m-14 7h0m32 17h0m-153 12h0m47 0h0m38 1h0m-92 26h0m106 5h0m-162 6h0m-69 10h0m81 10h0m359 178h0m1609 352h0m-5 19h0m1 2h0m191 55h0m96 10h0"/><path id="p191" d="M681 263h0m1732 8h0m-1707 19h0m396 37h0m652 24h0m-1137 5h0m2 38h0m634 473h0m32 84h0m-138 61h0m774-1h0"/><path id="p192" d="M1394 62h0m121 13h0m296 159h0m-115 25h0m160 14h0m-237 13h0m5 1h0m112 10h0m88 5h0m-106 12h0m20-7h0m66 16h0m-178 11h0m22-1h0m137-7h0m-189 11h0m27 6h0m8-4h0m74 1h0m11-3h0m-82 10h0m8 0h0m-1020 23h0m984 0h0m-748 56h0m523 43h0m-847 20h0m2310-2h0m14 21h0m-2299 13h0m-48 11h0m471-1h0m519-3h0m-985 15h0m426 3h0m110 16h0m2205 10h0m-2407 33h0m-641 17h0m15 12h0m1346 68h0m67 131h0m1507 192h0m47 141h0m-287 109h0"/><path id="p193" d="M1801 195h0m-44 12h0m119 64h0m-156 5h0m31 0h0m100 61h0m-1065 36h0m1080-2h0m716-5h0m-1850 12h0m12-2h0m-121 17h0m101-4h0m988 9h0m20 8h0m-702 14h0m-391 8h0m25 5h0m187-3h0m156 6h0m645 2h0m-842 15h0m88-7h0m730 11h0m-862 19h0m207 4h0m11 3h0m646-3h0m-776 19h0m-139 9h0m118 1h0m1997-4h0m-2159 48h0m38-7h0m65 17h0m16 3h0m1126 547h0m1006 96h0m186 25h0"/><path id="p194" d="M553 207h0m-47 44h0m-116 8h0m16 5h0m356 94h0m150-3h0m-187 24h0m1035-2h0m-11 8h0m29 1h0m-753 18h0m676 3h0m175 7h0m-1192 10h0m-17 5h0m1209 6h0m-1268 12h0m1321 6h0m-946 8h0m613-6h0m9 11h0m374 7h0m-49 7h0m-1122 10h0m93 1h0m69 6h0m1883 8h0m-2168 1h0m47 28h0m1021 0h0m562 117h0m-265 10h0m-1221 26h0m180 103h0m282 146h0m-42 11h0m-3 48h0m41-3h0m-176 40h0m79 22h0m714 14h0m-719 14h0m707 5h0m-37 9h0m52 18h0"/><path id="p195" d="M1862 407h0m-1247 62h0m444 710h0"/><path id="p196" d="M1751 209h0m-885 170h0m2095 582h0m-211 166h0m228 114h0"/><path id="p197" d="M816 514h0"/><path id="p198" d="M706 380h0m212-1h0m956 3h0m-900 26h0m911 12h0m-982 47h0m-102 13h0m131 11h0m1854 0h0"/><path id="p199" d="M1120 68h0m697 123h0m55 2h0m-104 9h0m-632 52h0m611 2h0m115 43h0m19-1h0m-118 14h0m-135 8h0m259 0h0m-299 13h0m55 16h0m221 0h0m-233 11h0m250-3h0m-1059 28h0m254-5h0m-173 14h0m78-1h0m-86 20h0m7-8h0m-92 24h0m24-1h0m143-1h0m-145 11h0m173 3h0m-264 8h0m71 14h0m-22 10h0m9 7h0m188 1h0m-80 5h0m-106 14h0m122 8h0m-175 9h0m34 17h0m3 0h0m-156 38h0m11 16h0m2188 373h0m188 151h0m-153 38h0m312 38h0m-52 33h0"/><path id="p200" d="M1810 185h0m-892 314h0m-3 9h0"/><path id="p201" d="M1750 262h0m-790 144h0m-227 45h0m864-5h0m-710 38h0m-244 7h0m277 1h0m-254 77h0m634 312h0m-207 294h0m-46 37h0m2069 21h0"/><path id="p202" d="M1613 455h0m25 11h0m-686 21h0m-162 42h0m1909 8h0m-312 101h0m-769 114h0m-324 199h0m510 57h0m20 4h0m-673 9h0m13 29h0"/><path id="p203" d="M1659 315h0m-787 20h0m198 44h0m872 7h0m-1182 19h0m909 13h0m-892 8h0m27 23h0m-160 14h0m2126 40h0m-1994 29h0m352 598h0"/><path id="p204" d="M1895 406h0m-1136 11h0m-95 24h0m-3 39h0m199 24h0m1978 15h0m-2113 10h0m-39 10h0m1301 260h0m1132 428h0"/><path id="p205" d="M1848 197h0m-70 71h0m4 26h0m-16 19h0m-135 30h0m62 1h0m4-7h0m47 6h0m-910 33h0m-164 11h0m172 12h0m823 7h0m-719 58h0m1908 471h0m291 265h0m-24 17h0"/><path id="p206" d="M1829 185h0m-65 129h0m-150 2h0m463 10h0m-497 17h0m58-1h0m-2 11h0m13-5h0m5 2h0m26 19h0m116-4h0m-809 14h0m-163 13h0m39 0h0m798 1h0m133-7h0m-1054 15h0m117-1h0m114 4h0m902-3h0m-1021 8h0m-33 22h0m757 0h0m-854 5h0m276 6h0m-289 10h0m97 2h0m88-9h0m-137 28h0m215-4h0m-273 10h0m290-3h0m-400 13h0m350 2h0m-79 13h0m-140 5h0m24 1h0m54-5h0m2059 5h0m-1994 7h0m-115 70h0m2437 603h0m-79 36h0m-8 10h0m-2030 72h0"/><path id="p207" d="M1862 374h0m165 86h0m-1316 37h0m3 65h0m48 110h0m277 96h0"/><path id="p208" d="M464 209h0m-58 50h0m377 58h0m-90 26h0m253 17h0m788 5h0m15 2h0m-987 20h0m200 23h0m-43 11h0m820 2h0m74 1h0m48-3h0m182 0h0m-1090 7h0m21 3h0m774-3h0m73 4h0m-854 5h0m-223 15h0m120-3h0m777 2h0m327 4h0m-1371 30h0m1018-9h0m3 3h0m-20 11h0m1247 10h0m-1957 12h0m16 25h0m-72 125h0m108 88h0m372 163h0m-22 3h0m1660 36h0m50 136h0m-1844 14h0m-3 6h0m1781 21h0m-1835 23h0"/><path id="p209" d="M736 345h0m109 99h0m731 36h0"/><path id="p210" d="M1738 358h0m25-1h0m-63 12h0m642 28h0m-1432 125h0m310 333h0m580 153h0m1125 146h0"/><path id="p211" d="M852 288h0m303 69h0m996 70h0m-1733 255h0m1011-5h0m1637 295h0m-732 215h0m315 429h0"/><path id="p212" d="M2469 350h0m-1821 40h0m1070-1h0m85 5h0m46 10h0m4 21h0m-246 9h0m229-1h0m5-5h0m14-3h0m-1248 12h0m410 0h0m575 6h0m244-6h0m5 2h0m11-3h0m-1216 14h0m-59 22h0m25 0h0m29-7h0m59 0h0m1215 0h0m645 5h0m-1962 24h0m68-4h0m1945-1h0m-1890 13h0m2117-1h0m5 0h0m37-1h0m-314 162h0m197 17h0m-161 37h0m-1716 19h0m345 202h0m21 58h0m15-5h0m3 4h0m-27 18h0m-200 30h0m5 5h0m1 12h0m1899 58h0m19 14h0m-1905 87h0"/><path id="p213" d="M1827 399h0m-961 34h0m18 5h0m-131 43h0m178-1h0m43 3h0m155 615h0"/><path id="p214" d="M1741 422h0"/><path id="p215" d="M425 256h0m499 59h0m-13 15h0m943 20h0m-988 12h0m847 20h0m-13 20h0m6-6h0m-1100 11h0m1254 8h0m-877 10h0m916-10h0m-1254 29h0m27-3h0m1108 3h0m153 0h0m124-3h0m-464 12h0m7 5h0m-690 15h0m987 0h0m-51 3h0m-998 10h0m11 0h0m1907 8h0m-1905 12h0m2004 2h0m-2196 15h0m337 231h0m249 107h0m20 153h0m600 8h0m-39 8h0m22 41h0m16-1h0m-853 37h0m1898 43h0m30 8h0"/><path id="p216" d="M1795 216h0m-163 110h0m-43 12h0m249 28h0m-1012 24h0m34 36h0m7 2h0m16-2h0m81 11h0m776 55h0m-1076 8h0m89 3h0m122 0h0m-114 8h0m91 6h0m-64 45h0m-135 36h0m360 630h0m47 9h0"/><path id="p217" d="M969 479h0m1902 7h0m-2021 28h0"/><path id="p218" d="M899 414h0m-223 131h0m634 351h0m1609 322h0"/><path id="p219" d="M472 266h0m297 68h0m1076 63h0m-141 14h0m134 20h0m-13 14h0m-1184 1h0m59 4h0m16 39h0m-39 15h0m2187 0h0m-2222 10h0m-13 38h0m40 9h0m35 12h0m-2 9h0m1895 80h0m39 29h0m-1609 339h0m193 14h0m-184 56h0"/><path id="p220" d="M1606 314h0m291 34h0m-1078 9h0m1083 46h0m-1059 67h0m-13 68h0m2116 619h0"/><path id="p221" d="M1859 351h0m6 9h0m-1151 134h0m52 69h0"/><path id="p222" d="M1881 298h0m-968 195h0"/><path id="p223" d="M418 243h0m1341 45h0m22 70h0m55 5h0m25 0h0m-134 8h0m26 2h0m87-5h0m-66 15h0m62-3h0m46-3h0m-978 11h0m777 7h0m-1092 9h0m1220 0h0m-840 10h0m888-3h0m-1209 22h0m356-3h0m35 2h0m817-4h0m-865 7h0m37 1h0m548 23h0m-714 15h0m92-1h0m1044 2h0m-1105 5h0m693 1h0m1260 11h0m-15 8h0m48-4h0m-34 14h0m31-5h0m-2216 21h0m237 8h0m-83 7h0m181 114h0m204 415h0m1549 4h0m-901 6h0m1115 33h0m-78 41h0m-1877 41h0m59 5h0"/><path id="p224" d="M1560 90h0m438 113h0m-131 6h0m229 8h0m-623 10h0m412 19h0m4 34h0m-164 29h0m-142 10h0m38 3h0m82-7h0m15 28h0m43-3h0m62-4h0m35-1h0m12 16h0m-1152 10h0m967 1h0m-26 13h0m-896 6h0m899-5h0m-664 36h0m-170 57h0m48 8h0m1900 6h0m-1950 16h0m88 32h0m1966 399h0m-47 183h0m-64 12h0m422 41h0m-40 49h0m-57 33h0"/><path id="p225" d="M1653 400h0m-880 173h0"/><path id="p226" d="M1649 330h0m-25 19h0m1117 788h0"/><path id="p227" d="M1191 87h0m632 219h0m-233 24h0m40 0h0m-13 10h0m-647 11h0m773 1h0m-993 23h0m321 13h0m-273 12h0m-77 10h0m162 20h0m33-2h0m123 10h0m-139 13h0m61 24h0m23 8h0m-202 6h0m30 60h0m2003 511h0m-1730 212h0"/><path id="p228" d="M1829 220h0m11-1h0m-993 16h0m982 6h0m25-6h0m31 2h0m-1035 29h0m913 31h0m127 16h0m-1077 5h0m1006 15h0m51 0h0m-130 16h0m350 11h0m-1270 20h0m839 8h0m-852 8h0m21 18h0m1280 13h0m-1244 11h0m39 57h0m-113 26h0m126 46h0m1800 446h0m-1546 100h0m1522 1h0m-14 11h0m322-6h0m-74 7h0"/><path id="p229" d="M500 235h0m1279 124h0m58 25h0m-108 7h0m-1017 20h0m278-2h0m3 6h0m750 1h0m61 2h0m33 4h0m-16 5h0m-1151 19h0m1120 2h0m-204 10h0m48 1h0m294 0h0m-28 10h0m0 4h0m-1239 19h0m286 11h0m1391 0h0m-1435 24h0m952 15h0m-1154 7h0m26 14h0m1618 65h0m-1063 317h0m-47 63h0m-111 42h0m731-5h0m-729 13h0m49 11h0m-17 8h0m1814 24h0m1 37h0m-32 35h0m-1928 11h0"/><path id="p230" d="M510 230h0m1249 158h0m74 13h0m51 7h0m-1056 19h0m-242 11h0m72 8h0m929 7h0m219 3h0m-1088 27h0m-104 3h0m289 2h0m1964 6h0m3 0h0m-1 12h0m-1599 395h0m-1 13h0m4 57h0m827 17h0m-850 35h0m659 57h0"/><path id="p231" d="M433 252h0m200 63h0m1151 91h0m53 28h0m12-6h0m14-3h0m-198 12h0m-1068 11h0m35 2h0m1149-4h0m868 5h0m-1049 6h0m-991 17h0m1235 1h0m-1256 5h0m1349-4h0m600 20h0m332 1h0m5 5h0m5-7h0m-2173 16h0m-13 6h0m1361 117h0m-1061 307h0m233 29h0m29 50h0m17-5h0m-58 17h0m28-5h0m-39 17h0m-170 39h0m52 31h0m1858 34h0m-1935 46h0"/><path id="p232" d="M1755 96h0m359 28h0m-941 2h0m-64 77h0m-124 16h0m660 66h0m-26 30h0m15 16h0m14 3h0m149-7h0m-211 13h0m0-2h0m52 6h0m116-4h0m-178 7h0m56 4h0m25-5h0m59 2h0m-91 7h0m-1010 15h0m1042 11h0m-890 13h0m1136-9h0m-852 11h0m1831 22h0m-1964 13h0m-130 32h0m37 31h0m2030-3h0m-2058 5h0m85 0h0m66 23h0m-221 8h0m93 3h0m-35 16h0m126 12h0m4 1h0m192 137h0m2135 81h0m-280 169h0m-75 29h0m-727 134h0m818 38h0m-58 56h0m7 11h0"/><path id="p233" d="M674 342h0m-81 31h0m399 1h0m-356 6h0m1077 10h0m-654 10h0m-394 11h0m324-1h0m764 3h0m-35 3h0m-1090 14h0m246 0h0m85-4h0m648 11h0m307 15h0m-10 19h0m-1284 6h0m336 3h0m1900 11h0m-853 5h0m-1381 31h0m13 7h0m50-8h0m-49 23h0m1688-1h0m331 19h0m-652 38h0m153 40h0m-160 140h0m-770 67h0m-46 71h0m67 20h0m-9 38h0m-32 25h0m8 14h0m15 14h0m47-5h0m-246 12h0m84 0h0m50-4h0m46 6h0m-40 10h0m13-4h0m18 27h0m680 9h0"/><path id="p234" d="M1799 179h0m28-3h0m48 12h0m-134 43h0m142 39h0m-170 10h0m9-3h0m35 1h0m-88 12h0m-50 12h0m-1 9h0m1-5h0m-1264 12h0m1231 7h0m30-5h0m36 0h0m77-4h0m-101 16h0m-53 3h0m54 2h0m11 6h0m5-4h0m50 1h0m-37 15h0m-653 69h0m1862-4h0m31 9h0m-2059 7h0m142 5h0m1889-3h0m2-2h0m4 11h0m-6 17h0m-2285 59h0m2216-6h0m7 23h0m-2021 16h0m1983 8h0m-1923 7h0m42 8h0m93 22h0m1762 11h0m-1683 65h0m1834 291h0m-1442 196h0"/><path id="p235" d="M959 509h0"/><path id="p236" d="M498 263h0m146 72h0m-14 7h0m29 19h0m531 467h0m-62 30h0m-50 18h0m767 20h0m-662 10h0m-42 42h0"/><path id="p237" d="M657 493h0m81 89h0m1088 46h0"/><path id="p238" d="M1734 371h0m-1058 12h0m1199-7h0m-114 25h0m-106 12h0m-54 23h0m-731 82h0m-162 32h0m38 12h0m270 449h0m1930 162h0m-1940 10h0"/><path id="p239" d="M2973 1131h0"/><path id="p240" d="M612 421h0m1150 20h0"/><path id="p241" d="M501 221h0m-13 24h0m-66 16h0m1437 100h0m-125 45h0m183 57h0m295 6h0m623 34h0m36 5h0m-34 8h0m-2149 13h0m32 51h0m1226 367h0m1030 165h0m-24 33h0m-1908 94h0"/><path id="p242" d="M398 271h0m2278-6h0m-64 54h0m-1903 35h0m203 9h0m-271 13h0m129 0h0m970 10h0m9 2h0m-776 22h0m729 4h0m-1035 2h0m1189 9h0m-111 10h0m-1067 1h0m915 2h0m83 2h0m-20 7h0m591 3h0m-658 9h0m53 2h0m90 0h0m242 3h0m-1311 6h0m277-4h0m709 2h0m1124 21h0m-1829 16h0m-85 14h0m-6 19h0m1709 139h0m19 1h0m-1328 226h0m50-2h0m-59 54h0m50 0h0m-111 32h0m33 16h0m-93 30h0m24 8h0m24 41h0m641-2h0m1113 2h0m41-6h0m-13 21h0"/><path id="p243" d="M1757 307h0m87 7h0m-278 12h0m62 0h0m-222 138h0"/><path id="p244" d="M1847 272h0m-173 5h0m39 4h0m-95 7h0m6 4h0m103-7h0m-98 15h0m24 3h0m100-1h0m-140 7h0m108 2h0m10 13h0m-82 9h0m7-3h0m57 4h0m6 0h0m164-8h0m-250 18h0m38-6h0m38 1h0m5-4h0m-112 28h0m31-6h0m6 5h0m29 6h0m-1074 24h0m1532 20h0m738 18h0m-2341 35h0m505 19h0m-28 20h0m-39 6h0m1848 1h0m69-4h0m-2288 23h0m2313 3h0m-1403 30h0m-571 6h0m-707 69h0m6-1h0m2784 398h0m145-8h0m-282 132h0m-1717 146h0m-615 239h0"/><path id="p245" d="M1868 183h0m-29 8h0m13 15h0m-11 31h0m-88 107h0m129 37h0m-221 7h0m191 3h0m19-1h0m23-2h0m-1092 13h0m34 0h0m1028-2h0m12 3h0m-1027 10h0m1002-7h0m18 8h0m-1146 3h0m167-1h0m47 5h0m-25 19h0m64 16h0m-118 0h0m129 8h0m-255 5h0m28 16h0m6 0h0m4-4h0m-185 15h0m1-7h0m293 0h0m91-2h0m-243 18h0m80-3h0m-86 8h0m16 3h0m-21 4h0m58 41h0m-34 17h0m2225 573h0m-59 64h0m-1896 21h0m2101-6h0m-2105 26h0m51 14h0"/><path id="p246" d="M395 232h0m656 101h0m-177 90h0m60-3h0m1565 0h0m-858 32h0m-804 9h0m1373 502h0m684 9h0m132 109h0m-336 38h0m199 48h0"/><path id="p247" d="M1750 94h0m45 7h0m-7 5h0m499 29h0m-71 70h0m-377 25h0m3 7h0m1164 31h0m-1128 26h0m-136 7h0m109-4h0m-230 13h0m28 0h0m85 0h0m37-3h0m-157 15h0m24 0h0m125-6h0m84 1h0m-266 14h0m51-1h0m112 4h0m13-7h0m111 3h0m-1338 9h0m1088 0h0m9 4h0m16-1h0m1-5h0m14 5h0m-80 8h0m71 3h0m38-1h0m55-6h0m31 3h0m-945 46h0m34 45h0m26 11h0m-77 10h0m920 32h0m1154 9h0m-79 24h0m-122 501h0m51 114h0m-1678 133h0"/><path id="p248" d="M1031 193h0m848-6h0m-164 71h0m-1185 35h0m1098-7h0m-16 14h0m62 9h0m52 7h0m5 8h0m-102 12h0m-12 15h0m1-4h0m-5 9h0m30 8h0m5-9h0m-1415 139h0m321 19h0m2278-6h0m-1302 54h0m1432 377h0m-298 128h0"/><path id="p249" d="M1840 426h0m-6 20h0m15 8h0m-1199 51h0m2222-3h0"/><path id="p250" d="M1845 218h0m219 50h0m313 20h0m-1457 64h0m959-5h0m-187 28h0m97-8h0m12-1h0m-835 26h0m739 2h0m24-3h0m-31 5h0m10 4h0m43 1h0m-1164 5h0m306 1h0m792-1h0m77 1h0m-6 10h0m-972 17h0m38 7h0m767 10h0m262-2h0m317 4h0m-1232 18h0m1111 3h0m-1307 3h0m874 3h0m317 7h0m917 28h0m-1992 11h0m19 3h0m41 84h0m353 274h0m6 53h0m731 27h0m839 1h0m99 26h0m-86 65h0m106 24h0m-1852 15h0m95-2h0m654 3h0m1101 48h0m241 26h0"/><path id="p251" d="M1764 238h0m1153 17h0m-1194 52h0m-920 31h0m226 12h0m-46 11h0m-10 21h0m741 2h0m83-1h0m-106 5h0m83 1h0m47-2h0m78 0h0m-887 15h0m858 9h0m-843 12h0m-273 10h0m857-3h0m621 7h0m-336 9h0m296 0h0m-1219 17h0m17 9h0m606-6h0m67 31h0m1111 8h0m36 3h0m-1955 13h0m-137 5h0m123 23h0m-171 15h0m1344 127h0m-725 212h0m15 37h0m1377 121h0m-858 13h0m212 0h0m-858 19h0m641 2h0m1152 2h0m-55 19h0m-10 29h0m275 32h0m22 8h0m-50 12h0"/><path id="p252" d="M1614 284h0"/><path id="p253" d="M686 548h0"/><path id="p254" d="M674 342h0m29-4h0m-76 33h0m4 3h0m2 13h0m24 4h0m-47 18h0m84 0h0m1063 12h0m103-2h0m-848 8h0m654 3h0m197-3h0m-907 20h0m870 1h0m440 14h0m-1595 18h0m1564 2h0m-632 12h0m-995 8h0m1760 71h0m146 48h0m-853 134h0m62 4h0m34 1h0m-792 9h0m663 10h0m964 18h0m-1496 33h0m139 31h0m-185 16h0m163 13h0m3 19h0m-16 6h0m-20 13h0m49 14h0m39 39h0m-189 10h0m156 7h0m-8 11h0m-67 14h0m50 7h0m27-3h0m29 1h0m-79 40h0"/><path id="p255" d="M851 192h0m873 41h0m-23 56h0m-80 15h0m-590 5h0m611 35h0m1181 156h0m-1888 117h0m1515 463h0m501 93h0m129 80h0"/><path id="p256" d="M2478 148h0m-2018 33h0m1411 114h0m-738 38h0m-80 41h0m-241 6h0m241-1h0m609 30h0m-858 23h0m64-6h0m132 19h0m-213 60h0m1253 29h0m-1969 132h0m1202 188h0m573 233h0m865 22h0m-1595 24h0"/><path id="p257" d="M1848 206h0m-83 104h0m-1 34h0m-113 15h0m32 1h0m106-2h0m-754 30h0m-21 13h0m-277 46h0m246 8h0m-274 30h0m130 15h0m-26 34h0m-13 19h0m1264 233h0m747 166h0m63 197h0m-1836 160h0"/><path id="p258" d="M545 212h0m-76 30h0m43 1h0m214 100h0m1007 20h0m32 9h0m-37 8h0m31 3h0m37-2h0m-1147 18h0m1163 0h0m-1209 9h0m1212-2h0m6 7h0m-107 9h0m-1035 7h0m223 4h0m852-2h0m-149 14h0m-994 8h0m1214-4h0m92 6h0m-1334 17h0m1030-3h0m226 0h0m105-2h0m36 0h0m-399 12h0m333 7h0m327 3h0m534-2h0m-2031 17h0m2071 6h0m-2082 7h0m1038 19h0m-796 123h0m-93 33h0m1707-6h0m-691 105h0m-704 192h0m-177 12h0m848 27h0m66 42h0m-891 103h0m28 71h0"/><path id="p259" d="M1813 223h0m-1398 26h0m629 9h0m980 22h0m298-1h0m-689 11h0m69-2h0m-69 44h0m1 2h0m91 1h0m4 7h0m-40 15h0m33 0h0m90 3h0m-906 41h0m8-6h0m-221 24h0m93 12h0m159-5h0m685 2h0m-611 17h0m-40 33h0m688 14h0m-809 39h0m41 8h0m1840 62h0m-1843 17h0m1047 11h0m965 79h0m-2706 48h0m1097 159h0m1414 136h0m-873 27h0m831 6h0m309 50h0m-1821 1h0m1784 42h0"/><path id="p260" d="M487 202h0m1334 15h0m-1329 35h0m301 93h0m1030-1h0m5 16h0m-1185 20h0m1018 3h0m200 2h0m-174 11h0m61-1h0m34 4h0m13-1h0m81 3h0m139 3h0m-186 30h0m-172 2h0m5 6h0m200-6h0m24 16h0m327-1h0m-605 7h0m-858 13h0m208-1h0m24 0h0m871 0h0m-986 6h0m5 15h0m39 16h0m-196 34h0m427 253h0m69 140h0m1785 109h0m-1951 72h0"/><path id="p261" d="M590 330h0m18 9h0m50 1h0m19 1h0m1837 7h0m-1893 26h0m1-7h0m97 0h0m217 20h0m-342 45h0m1161 1h0m112-6h0m-1203 20h0m1277 23h0m9-1h0m-109 14h0m-903 11h0m1138 30h0m576 11h0m-288 79h0m211 53h0m3 5h0m-1024 19h0m41 38h0m127 36h0m-746 22h0m960 60h0m-711 21h0m534-1h0m-520 12h0m11 23h0m-86 10h0m-50 16h0m75 7h0m0 19h0m7 0h0m715-6h0m-662 16h0m16-8h0m-15 14h0m-69 36h0m51 9h0m-34 0h0m-52 40h0m1559 68h0"/><path id="p262" d="M1857 378h0"/><path id="p263" d="M966 509h0m-54 63h0m1522 352h0"/><path id="p264" d="M1772 405h0m74 3h0m-946 42h0m88 4h0m859-4h0m1018 33h0m9-2h0m-1961 12h0m1938 10h0m-15 12h0m-2104 49h0m2059 450h0m-905 111h0"/><path id="p265" d="M1752 421h0"/><path id="p266" d="M1850 193h0m-1439 15h0m1379 0h0m255 10h0m816-3h0m-2453 19h0m550 87h0m-84 17h0m944 1h0m-103 36h0m-616 14h0m-33 12h0m682 4h0m78-3h0m-75 6h0m-1027 9h0m66-2h0m54 10h0m1034 1h0m-1040 20h0m1074 6h0m-332 11h0m322-5h0m92 2h0m-1092 14h0m687 0h0m56-8h0m297 14h0m-1052 7h0m58 18h0m1817-7h0m-2008 14h0m181-2h0m-27 17h0m872 26h0m9-5h0m-366 137h0m-141 176h0m-31 59h0m2018 73h0m-1331 20h0m-67 23h0m1078 73h0m-1944 96h0m56 101h0"/><path id="p267" d="M3094 1233h0"/><path id="p268" d="M1863 435h0m-1036 241h0m384 335h0"/><path id="p269" d="M569 206h0m-81 41h0m162 9h0m2057 65h0m-2030 23h0m-11 18h0m-20 17h0m1699 25h0m-560 9h0m61 6h0m-252 13h0m254 2h0m-21 7h0m-51 10h0m-1185 8h0m1251 2h0m122 13h0m-1268 2h0m2155 11h0m18 4h0m-2009 7h0m1987 2h0m9 2h0m4-4h0m-2167 70h0m28 21h0m17 2h0m-31 11h0m2044 71h0m-1762 98h0m1006 14h0m-1059 34h0m1066 44h0m-770 107h0m22 20h0m2 4h0m24-5h0m-80 10h0m45 9h0m-174 16h0m179 9h0m12-6h0m-43 11h0m-16 39h0m692 17h0"/><path id="p270" d="M657 422h0m202 17h0m774-1h0m-663 14h0m-389 4h0m1266 24h0m-1263 11h0m2273 13h0m6 0h0m-2185 41h0m25 44h0m323 416h0m152 54h0m4 15h0m1738 130h0"/><path id="p271" d="M822 327h0m301 843h0"/><path id="p272" d="M1497 68h0m729 97h0m424-3h0m-781 24h0m-1503 41h0m1159 10h0m137 35h0m227 9h0m-275 20h0m147-1h0m-165 24h0m-17 7h0m51 2h0m10-5h0m134 2h0m37 1h0m-226 14h0m33-2h0m34 0h0m5-2h0m-48 21h0m13-7h0m46 2h0m212 3h0m-1041 23h0m-212 14h0m205 12h0m4 2h0m295-1h0m818 0h0m-1116 11h0m38 21h0m20 1h0m10 0h0m-6 16h0m-115 33h0m2005-2h0m39 42h0m-1806 24h0m-88 29h0m1779 547h0m36 3h0m178 57h0m8 8h0m220 11h0"/><path id="p273" d="M1197 70h0m1069 72h0m-8 28h0m-1261 55h0m821 26h0m-163 10h0m136 22h0m-77 3h0m36 16h0m21-3h0m496 16h0m-443 7h0m-250 8h0m55-5h0m6 3h0m120 4h0m-122 11h0m80-7h0m138 8h0m42-7h0m-236 12h0m152 6h0m46-1h0m-157 4h0m-59 14h0m28-5h0m-737 12h0m891 6h0m-1002 41h0m72 3h0m-73 10h0m3 14h0m23 27h0m-78 10h0m1-4h0m28 2h0m1099-2h0m-1076 56h0m464 314h0m1569 86h0m33 8h0m274 246h0m21 6h0m-2483 49h0m1054 218h0"/><path id="p274" d="M1867 222h0m-72 54h0m89 37h0m-171 30h0m186 5h0m145 6h0m-1022 2h0m702 4h0m-989 12h0m94-7h0m91 1h0m773 4h0m-661 18h0m-261 20h0m49 8h0m-241 18h0m373-9h0m43 8h0m771-5h0m-873 9h0m107 18h0m4-2h0m8-2h0m1202-1h0m463 4h0m-794 6h0m-909 15h0m622-4h0m8-2h0m547 1h0m-1216 12h0m673 3h0m394 12h0m-1193 23h0m107 12h0m363 330h0m-1004 182h0m2659 34h0m15 18h0m-1820 14h0m17-3h0m20 8h0m-51 20h0m1866 2h0m2 3h0"/><path id="p275" d="M686 601h0m2232 606h0"/><path id="p276" d="M1842 191h0m1090-1h0m-1209 63h0m99 131h0m-131 1h0m-857 21h0m188 0h0m46 3h0m789-2h0m-964 54h0m706-4h0m125 0h0m-973 10h0m1437 6h0m681-2h0m7-3h0m-2071 15h0m772-3h0m-747 49h0m-179 66h0m2141 486h0m182 52h0m201 53h0m-67 55h0"/><path id="p277" d="M2021 228h0m-1161 30h0m1477 38h0m-187 14h0m-1262 25h0m920 3h0m-21 16h0m-1072 7h0m344 5h0m749 4h0m14-4h0m-165 16h0m108-6h0m-1043 16h0m969-1h0m-997 4h0m973 9h0m176-1h0m-851 6h0m782 1h0m29-2h0m-176 29h0m100 6h0m41 1h0m653-5h0m-1556 16h0m122-7h0m-29 12h0m619 4h0m10-4h0m26-3h0m191-1h0m154-1h0m228 1h0m-393 12h0m116 2h0m-624 397h0m-7 23h0m1677 53h0m307 59h0m-1319 66h0m-762 10h0m1778 4h0m-1800 12h0m1791 11h0"/><path id="p278" d="M1877 368h0m-1008 60h0m1207 241h0"/><path id="p279" d="M830 442h0m-222 35h0m374 26h0m-70 5h0"/><path id="p280" d="M1833 407h0m-1102 170h0"/><path id="p281" d="M704 381h0m989 2h0m-787 7h0m-171 25h0m79 18h0m76-1h0m695 0h0m264 42h0m-956 3h0m-43 23h0m30-2h0m1963-1h0m-1533 403h0m538 167h0m-759 52h0m2089 77h0"/><path id="p282" d="M1094 213h0m727 49h0m48-2h0m-106 23h0m-149 18h0m112 0h0m28 8h0m-7 7h0m107 2h0m39-1h0m-262 12h0m326 0h0m-807 7h0m485 2h0m139 4h0m13 1h0m4-4h0m101 16h0m-103 0h0m281 8h0m-256 9h0m87 31h0m-255 11h0m-743 20h0m-533 8h0m504 3h0m2008-3h0m-987 15h0m-1102 18h0m24-3h0m168 5h0m-211 30h0m151 16h0m-168 39h0m493 35h0m1650 338h0m-10 34h0m-27 27h0m-157 137h0m-1555 10h0m1575-3h0m127 7h0m117 6h0m-77 28h0m257 15h0"/><path id="p283" d="M646 397h0m1204 22h0m-1197 9h0m1186 5h0m-959 27h0m726 1h0m240 3h0m1031-1h0m7 8h0m-1298 4h0m1253 27h0m-2213 32h0m630 403h0m-80 96h0m-130 21h0m157 11h0m-27 22h0m1785 57h0m-1955 116h0"/><path id="p284" d="M1761 287h0m-928 132h0m27 6h0m-2 14h0"/><path id="p285" d="M458 189h0m1942 44h0m-507 31h0m-1172 49h0m1543-7h0m-1544 11h0m172 6h0m169 14h0m688 25h0m-819 6h0m108 12h0m629 56h0m-719 12h0m784 4h0m171 24h0m298 1h0m-582 9h0m-16 18h0m11 4h0m394 15h0m294 81h0m-182 64h0m-1233 75h0m370 125h0m-25 22h0m-11 11h0m1601 61h0m131 22h0m-38 3h0m-864 26h0m-854 6h0m1526 0h0m-1522 15h0m840 10h0m739-6h0m-868 14h0m-41 13h0m1106 2h0m12 8h0m-6 6h0m-74 11h0m65 1h0m-1815 35h0m-4 10h0m1792 1h0"/><path id="p286" d="M1825 358h0m37 82h0m-1128 130h0m306 206h0"/><path id="p287" d="M466 209h0m-106 64h0m1543-4h0m-768 64h0m22-6h0m567 1h0m-22 33h0m-15 10h0m-693 12h0m-28 13h0m691 24h0m-644 29h0m-66 14h0m-160 18h0m850 3h0m-812 3h0m94 28h0m-106 36h0m27 3h0m1960 25h0m407 229h0m-94 95h0m-1818 45h0m520 121h0m1131 54h0m-1790 3h0m1743 3h0m-196 15h0m175-9h0m295 55h0"/><path id="p288" d="M1858 189h0m0 10h0m-353 18h0m273 53h0m-171 38h0m2 5h0m16 0h0m97 58h0m-789 11h0m-204 8h0m234-3h0m23 1h0m-193 15h0m204-1h0m810 0h0m-1072 4h0m28 4h0m9 3h0m164-2h0m60-5h0m47 2h0m18-1h0m696 3h0m91-2h0m-1019 17h0m34 0h0m151-2h0m-225 4h0m174 14h0m-118 5h0m19 14h0m-81 6h0m35 5h0m24-1h0m34-2h0m91 4h0m-290 8h0m184-3h0m-271 25h0m258-3h0m-128 16h0m52 57h0m-99 6h0m88 4h0m2362 642h0"/><path id="p289" d="M470 215h0m1316 199h0m-1151 33h0m1264 12h0m-124 19h0m-896 28h0m964 34h0m-850 186h0m253 238h0m-236 120h0m196 7h0"/><path id="p290" d="M1812 370h0m38 10h0m40 1h0m-856 7h0m-125 29h0m-49 22h0m2017 61h0m-1992 15h0m777-3h0m-926 48h0m2176 653h0"/><path id="p291" d="M1859 392h0m-88 51h0m-175 8h0m1267 48h0m-1798 782h0"/><path id="p292" d="M1612 363h0m75-5h0m-63 130h0"/><path id="p293" d="M1855 197h0m9 62h0m-103 113h0m-767 15h0m742 3h0m-76 11h0m-1000 19h0m162 21h0m758 16h0m-831 35h0m-123 61h0"/><path id="p294" d="M1012 1270h0"/><path id="p295" d="M1809 183h0m12-1h0m185 25h0m-536 19h0m384 30h0m17 2h0m-18 11h0m-94 10h0m-7 8h0m-139 11h0m7 12h0m17 21h0m-8 10h0m1 7h0m27 8h0m-842 29h0m172 8h0m889-8h0m-967 21h0m186 8h0m39-2h0m-273 11h0m195-2h0m-293 13h0m29-4h0m15 2h0m144 0h0m-150 37h0m12 14h0m1090 4h0m-1138 25h0m63 1h0m-10 41h0m-674 68h0m2830 344h0m-223 34h0m-49 20h0m-15 6h0m-8 21h0m-861 59h0m984 10h0m-43 10h0m154 29h0m199 68h0m29 1h0"/><path id="p296" d="M1503 227h0m252 23h0m95-2h0m292 49h0m-261 9h0m12 20h0m-755 17h0m-362 6h0m1005 9h0m-879 11h0m878 2h0m30-3h0m-909 11h0m92-2h0m775 1h0m45 3h0m-165 12h0m-834 7h0m219-3h0m817 0h0m35 2h0m-1161 17h0m136 2h0m27 10h0m18 10h0m56 6h0m12 1h0m965 2h0m836 3h0m-1779 5h0m-141 24h0m765-2h0m-18 10h0m131-1h0m-899 9h0m-97 12h0m2085 1h0m-643 16h0m631-7h0m-1499 382h0m1602 121h0m-52 133h0m314 24h0m17-2h0m-62 47h0"/><path id="p297" d="M866 455h0"/><path id="p298" d="M951 321h0m-196 17h0m884 7h0m228-7h0m-192 17h0m-942 36h0m950-1h0m-1039 206h0m2260 560h0m239 44h0"/><path id="p299" d="M1109 330h0m625 120h0m-778 188h0m212 441h0"/><path id="p300" d="M1537 217h0m208 48h0m-126 57h0m114 24h0m40 0h0m-762 39h0m782 12h0m-1028 69h0m108 8h0m848 16h0m-913 12h0m-17 11h0m150 5h0m-289 37h0m2293 372h0m16 14h0m25 56h0m-5 10h0m-308 137h0m282 22h0m209 44h0m-50 18h0"/><path id="p301" d="M513 225h0m400 181h0m-151 154h0"/><path id="p302" d="M1834 193h0m-323 23h0m324 40h0m-229 44h0m8 6h0m11 19h0m135 5h0m118 38h0m-995 8h0m-30 14h0m202 1h0m-426 10h0m227 16h0m105 12h0m41 16h0m-19 38h0m-169 19h0m-208 10h0m191-3h0m-58 10h0m40 43h0m2168 596h0m234 20h0m-2097 11h0"/><path id="p303" d="M735 336h0m1114 74h0m-1049 51h0m2056 31h0m-2093 60h0m-127 8h0m43 15h0"/><path id="p304" d="M529 204h0m-54 15h0m229 73h0m14 28h0m-25 24h0m28 1h0m210-6h0m128 25h0m-368 3h0m-50 35h0m-16 32h0m1106 5h0m-970 6h0m884 8h0m151 5h0m-178 10h0m309-1h0m-293 12h0m287-2h0m48 3h0m-1076 22h0m27-2h0m1854 2h0m-1882 13h0m961 70h0m552 76h0m-690 83h0m-457 145h0m677 1h0m-653 50h0m7 22h0m1555 34h0m-1688 27h0m2-6h0m50 2h0m634 0h0m-625 7h0m694 14h0m-19 6h0m33 9h0m-734 8h0m1739 50h0"/><path id="p305" d="M1804 352h0m-1041 37h0m878 31h0m-631 18h0m-314 35h0m147 4h0m-46 35h0m2041 6h0"/><path id="p306" d="M1853 411h0m-1265 44h0m451 575h0"/><path id="p307" d="M1515 230h0m124 151h0m1139 742h0"/><path id="p308" d="M530 206h0m410 136h0m-82 21h0m855-4h0m24-3h0m97 1h0m-84 13h0m-1022 10h0m1070 0h0m44 3h0m-16 10h0m38-8h0m-1135 17h0m-40 12h0m1189 14h0m-127 7h0m-907 10h0m1050 15h0m958 23h0m-1993 7h0m114 1h0m1023-5h0m-1123 33h0m404 345h0m585 217h0m1053 70h0m13 24h0m254-4h0m-2140 59h0"/><path id="p309" d="M920 482h0"/><path id="p310" d="M1734 263h0m-839 134h0m-221 32h0m2201 39h0m-1894 19h0m-220 92h0m2194 555h0m-1888 128h0"/><path id="p311" d="M1354 69h0m503 106h0m-6 1h0m-387 48h0m11 4h0m180 54h0m16-2h0m-52 15h0m226 10h0m-912 7h0m689 7h0m93 15h0m-92 16h0m-24 14h0m40 8h0m12 0h0m-683 57h0m-425 52h0m514 5h0m1776 21h0m50-2h0m-1382 53h0m-676 35h0m13-6h0m1928 4h0m-2693 9h0m2668-3h0m209 328h0m212 88h0m-161 109h0m-324 28h0m-1810 94h0m1771 190h0"/><path id="p312" d="M1835 266h0m-209 215h0m-658 128h0"/><path id="p313" d="M737 331h0"/><path id="p314" d="M1218 103h0m-684 108h0m17-4h0m1647 3h0m-1460 111h0m1 23h0m247 17h0m704 0h0m33-3h0m85 3h0m-793 8h0m8 4h0m750-7h0m73 7h0m21 2h0m-223 6h0m-661 15h0m846 2h0m-73 17h0m127-6h0m284 1h0m-1211 10h0m1202 24h0m-565 10h0m-954 6h0m92-1h0m47 18h0m17 14h0m20 1h0m28-1h0m45-3h0m12 1h0m-172 10h0m200 7h0m1883 6h0m-2093 46h0m-72 40h0m2153 359h0m202 65h0m-338 42h0m-1494 34h0m1648 19h0m366 64h0m-62 44h0m-17 23h0"/><path id="p315" d="M510 230h0m1905 73h0m-1695 9h0m1006 75h0m-1086 45h0m58 12h0m1172-1h0m-239 6h0m210 10h0m98-2h0m916 46h0m-2174 5h0m-7 15h0m1311 154h0m395 5h0m-1064 195h0m-82 102h0m-228 13h0m3-4h0m1966 139h0m-17 33h0"/><path id="p316" d="M1808 180h0m-740 6h0m429 32h0m-143 10h0m491 0h0m-191 52h0m107-3h0m114 4h0m-254 24h0m152 7h0m7-7h0m57 9h0m-242 6h0m19 0h0m-19 14h0m2-2h0m37-4h0m12 6h0m195-4h0m-212 14h0m5-1h0m-22 7h0m1-3h0m42 7h0m42-5h0m-875 46h0m801-8h0m14 5h0m-717 18h0m984-3h0m-891 36h0m1863 7h0m-1961 8h0m1972 36h0m-2118 4h0m2041 9h0m-1971 12h0m2251 173h0m-1796 166h0m1566 77h0m-94 47h0m-24 22h0m-38 136h0m480 25h0m-267 39h0"/><path id="p317" d="M648 526h0"/><path id="p318" d="M860 345h0m927 26h0m-739 43h0m-88 13h0m-289 9h0m910 18h0m1276 47h0m-2033 33h0m-89 26h0m331 607h0"/><path id="p319" d="M1769 199h0m117 13h0m-353 9h0m234 79h0m67 19h0m-133 35h0m139-1h0m5-1h0m-126 22h0m179-8h0m-187 10h0m-756 16h0m-354 6h0m151-3h0m13 15h0m255 0h0m8 1h0m862-3h0m-1055 26h0m181-3h0m25-6h0m-109 27h0m700 8h0m-961 10h0m149 5h0m1153-7h0m-199 10h0m-62 12h0m1173 0h0m-2147 15h0m57 15h0m93 3h0m-73 9h0m1810 197h0m-1321 163h0m1642 84h0m-122 55h0m116 23h0m-252 34h0m266 31h0m-1893 102h0"/><path id="p320" d="M1455 61h0m306 180h0m111 26h0m-173 9h0m126 17h0m-215 9h0m8 12h0m-17 8h0m28-3h0m6 1h0m1 3h0m-1 10h0m12-3h0m214 1h0m29-4h0m-296 14h0m27-4h0m20 4h0m3-1h0m-21 11h0m172-3h0m-149 9h0m-701 20h0m695 1h0m3 4h0m-588 7h0m-264 18h0m116 4h0m-122 31h0m58 3h0m-310 66h0m262-2h0m-286 7h0m497 15h0m-95 22h0m6 28h0m-693 50h0m2713 342h0m348 18h0m-264 85h0m-342 65h0m190-5h0m-10 9h0m4 2h0m-1713 148h0"/><path id="p321" d="M3030 213h0m-1320 162h0m-985 3h0m73 46h0m155-3h0m-133 71h0m-61 62h0m1913 477h0m228 128h0m210 85h0"/><path id="p322" d="M3006 194h0m-834 29h0m-1740 6h0m38-1h0m590 93h0m-179 5h0m-47 11h0m129 3h0m-265 32h0m1090 3h0m-1133 23h0m1150 5h0m-895 14h0m70 25h0m812 7h0m-980 7h0m1112 1h0m-276 11h0m452 1h0m-1188 7h0m1859 5h0m-1962 37h0m54 11h0m1217 70h0m-810 310h0m34 6h0m1 24h0m1590 46h0m-131 74h0m13 6h0m-898 10h0m-757 19h0m33 8h0m1524 2h0m174-3h0m82 48h0"/><path id="p323" d="M450 233h0m214 91h0m1850 29h0m-1901 5h0m1120 32h0m-1107 12h0m84-7h0m989 23h0m166 4h0m-279 8h0m232-4h0m11 5h0m-1225 13h0m989-3h0m228 1h0m-835 4h0m614 6h0m-998 3h0m12 6h0m1350 6h0m-1339 17h0m234-3h0m111 4h0m941-4h0m-6 5h0m966-1h0m-2277 16h0m2247 2h0m8-8h0m-2002 19h0m1674 128h0m35 20h0m-1341 257h0m26-2h0m-36 29h0m4 24h0m10 3h0m25 10h0m-26 12h0m36 18h0m-89 38h0m699 5h0m-668 21h0m739 1h0m-778 9h0"/><path id="p324" d="M493 179h0m2068 41h0m-2052 10h0m1379 28h0m38 30h0m-1038 16h0m146 20h0m-203 9h0m9 7h0m-126 23h0m269-7h0m745 4h0m-728 34h0m-74 5h0m191 2h0m650 4h0m765-2h0m-1476 7h0m-143 6h0m842 21h0m8 7h0m-847 4h0m877 9h0m2 4h0m-804 7h0m-19 16h0m794-3h0m163-5h0m827 6h0m-1018 5h0m1041 7h0m-1949 38h0m8 0h0m-18 6h0m82-2h0m-129 46h0m531 296h0m865 130h0m-369 53h0m17 42h0m-659 8h0m1776 8h0m-40 25h0m22 14h0m-1822 8h0"/><path id="p325" d="M1762 294h0m-855 120h0m908 16h0m-932 81h0"/><path id="p326" d="M1837 446h0m-1254 45h0"/><path id="p327" d="M1876 310h0m908 44h0m-1869 12h0m-63 11h0m864 26h0m14-3h0m-1074 22h0m313-5h0m-224 65h0m133 4h0m1979 16h0m-2241 13h0m2226-7h0m-2109 56h0m1113 559h0"/><path id="p328" d="M1905 389h0m-1235 12h0m1199 38h0m-714 627h0m1811 81h0"/><path id="p329" d="M1497 231h0m388 4h0m-106 11h0m75 78h0m39-4h0m-803 11h0m-270 12h0m1074 3h0m-901 38h0m700-1h0m112-1h0m-176 4h0m252 2h0m-1001 10h0m148-3h0m-241 16h0m252-5h0m642 18h0m66 11h0m728-7h0m-1484 14h0m37-3h0m644-1h0m-805 15h0m2002 8h0m-1251 9h0m268-3h0m-1120 8h0m808 2h0m-633 26h0m-52 3h0m1939 0h0m-2073 17h0m-38 20h0m565 340h0m1726 216h0m-1877 23h0m-7 47h0m1835 2h0m214 25h0"/><path id="p330" d="M1893 381h0m-896 7h0m115 9h0m639 42h0m1522 479h0m-460 135h0m62 66h0m77 24h0"/><path id="p331" d="M614 243h0m20 168h0m1204 11h0m-9 9h0m-1207 9h0m1243 1h0m2 9h0m-261 8h0m982 68h0m-198 59h0m326-5h0m-176 87h0m42 15h0m-1540 120h0m1682 33h0m-1774 18h0m241 40h0m-231 56h0m36-1h0m244 33h0m17 28h0m-18 8h0m35 1h0m-87 14h0m-148 20h0"/><path id="p332" d="M583 323h0m129-5h0m-28 22h0m377 14h0m-347 4h0m222 4h0m126 23h0m706 6h0m3-1h0m-1014 24h0m180-7h0m1107 7h0m-961 3h0m-451 26h0m1098 1h0m-102 10h0m-677 9h0m51-5h0m632 1h0m-40 8h0m43 0h0m-750 32h0m23 0h0m1923 6h0m-1993 5h0m75 5h0m779 11h0m985 15h0m-2058 21h0m140 70h0m311 77h0m143 128h0m19 73h0m50 9h0m-7 14h0m-22 7h0m23 7h0m-108 62h0m1561 30h0m-796 12h0m1009 29h0m-1765 12h0m698 1h0m1116 31h0m-36 35h0"/><path id="p333" d="M498 212h0m13 36h0m1215-3h0m853 107h0m-1886 6h0m-95 13h0m93 6h0m1048-2h0m14 7h0m-680 14h0m626 9h0m29 10h0m57-1h0m11-2h0m17-3h0m-856 12h0m-260 11h0m-97 5h0m33 4h0m1537 0h0m-591 16h0m43 1h0m-969 14h0m1232-1h0m10 1h0m-947 17h0m-44 13h0m1928-1h0m-1138 4h0m-839 21h0m-31 15h0m-169 15h0m-32 14h0m99 6h0m1855 116h0m-2 9h0m-1301 198h0m33 14h0m-18 9h0m-21 6h0m-150 105h0m773 55h0m-874 18h0m845 3h0m1137 10h0"/><path id="p334" d="M1867 237h0m26 20h0m112 63h0m-1302 47h0m1053 15h0m-827 29h0m-56 10h0m713 19h0m-812 17h0m1006 81h0m257 34h0m25 463h0m-224 36h0m-11 47h0m1135 51h0m226 18h0"/><path id="p335" d="M1012 428h0m880 28h0m46 8h0m-1110 47h0m1331 130h0m-869 299h0"/><path id="p336" d="M706 330h0m1038 66h0m-764 28h0m659-2h0m-48 42h0m0 6h0m302 537h0m-802 57h0m805 34h0"/><path id="p337" d="M1127 323h0m-365 59h0m238 55h0m633 50h0m392 18h0m-45 43h0m-113 64h0m260 26h0m845 436h0m-41 8h0m-1759 12h0m1538 11h0m213 64h0"/><path id="p338" d="M1041 361h0m-408 12h0m13-3h0m1080 26h0m97 28h0m-181 10h0m656-6h0m-1302 10h0m768 0h0m-123 9h0m418 5h0m-1454 16h0m311 6h0m996-3h0m60-5h0m-1347 33h0m2225 9h0m-810 17h0m-1300 50h0m1320 116h0m-474 13h0m193 9h0m-884 34h0m321 143h0m23 0h0m-14 64h0m17 3h0m1606 5h0m-1596 10h0m19-1h0m6 2h0m-47 8h0m622-2h0m-572 11h0m-85 14h0m34-6h0m1602 14h0m-1665 15h0m5 0h0m49 2h0m35 3h0m-90 9h0m1849 20h0m-1933 17h0m10 30h0"/><path id="p339" d="M798 210h0m890 117h0m1189 826h0"/><path id="p340" d="M1849 255h0m-1124 87h0m-34 14h0m1144 31h0m-838 16h0m660 1h0m229 8h0m-62 42h0m945 39h0m111-2h0m-2078 19h0m129 6h0m388 367h0m1866 296h0"/><path id="p341" d="M1575 81h0m170 139h0m-44 44h0m19 2h0m21 19h0m-113 0h0m22 2h0m2 7h0m38-7h0m-27 13h0m68-2h0m58 6h0m-181 7h0m26 1h0m101-2h0m-155 14h0m6-5h0m10 4h0m24 0h0m-48 5h0m2 7h0m89 13h0m-13 10h0m-693 32h0m-371 24h0m27 6h0m-6 32h0m2260-2h0m17 19h0m5-3h0m-72 36h0m-2294 11h0m2315-6h0m-1334 14h0m-1241 9h0m321 19h0m-467 32h0m681 0h0m51-5h0m40 11h0m-618 52h0m1300 108h0m-397 553h0m1959 19h0m-1557 44h0"/><path id="p342" d="M893 378h0m877 33h0m-978 51h0"/><path id="p343" d="M591 186h0m-171 22h0m1105 6h0m-1116 18h0m1461 53h0m-944 24h0m-219 44h0m1008 5h0m46 6h0m79-2h0m-97 8h0m-720 8h0m748 2h0m-1154 8h0m1086 6h0m79 5h0m-897 11h0m62 5h0m749 6h0m104 4h0m75-5h0m-1242 10h0m991 3h0m45-3h0m-840 8h0m830-1h0m15 6h0m87-7h0m-811 12h0m949 8h0m-981 17h0m-23 21h0m-539 133h0m720 102h0m200 172h0m1489 181h0m-1637 38h0m19 0h0m1709 26h0m57 5h0m-15 15h0m270 26h0m-2088 14h0m2037 28h0m-32 2h0"/><path id="p344" d="M781 238h0m717 3h0m328 25h0m46 17h0m-15 2h0m-260 37h0m38 2h0m-56 11h0m171 10h0m47-5h0m6-3h0m-195 13h0m100-2h0m133 0h0m-219 12h0m269 0h0m-217 7h0m-899 16h0m35-3h0m48-4h0m123 5h0m-83 13h0m1006 0h0m-1131 36h0m866 13h0m-759 7h0m-97 8h0m12 28h0m156 21h0m-35 31h0m591 20h0m1451 368h0m-141 31h0m93 178h0m261 16h0m-248 34h0m250 19h0m-2161 8h0m77 16h0"/><path id="p345" d="M1544 230h0"/><path id="p346" d="M718 472h0m53 20h0m182-4h0m369 407h0m1510 224h0"/><path id="p347" d="M520 236h0m-105 41h0m534 80h0m-262 10h0m1028 4h0m17 1h0m-675 4h0m-172 18h0m851-8h0m3 8h0m19 5h0m54 0h0m-149 6h0m190 7h0m-1268 4h0m1222 4h0m-806 13h0m-412 5h0m143 3h0m857 1h0m180 2h0m1-1h0m-1038 4h0m109 4h0m137 3h0m648 0h0m18 3h0m191 6h0m100 2h0m742 20h0m94-1h0m-1825 8h0m1349 59h0m-1613 8h0m1029 132h0m850-2h0m-1244 196h0m-33 18h0m-14 3h0m-3 40h0m-74 140h0m1762 16h0m-1117 5h0m1116 34h0m10 5h0"/><path id="p348" d="M1475 227h0m-335 9h0m986 0h0m-1226 88h0m1037 27h0m-239 13h0m190-7h0m-170 9h0m-779 20h0m714 6h0m-737 150h0m1776 578h0"/><path id="p349" d="M456 194h0m1843 7h0m204 59h0m-1807 74h0m107 18h0m-109 5h0m-6 8h0m1060 14h0m-1060 6h0m1061 7h0m73 8h0m-78 8h0m-1033 25h0m1031-6h0m-758 14h0m900-5h0m-302 15h0m19-2h0m312 5h0m-1281 9h0m55-1h0m47-3h0m866-1h0m-654 9h0m905 2h0m60 0h0m-17 11h0m-164 9h0m116 0h0m924 3h0m76 6h0m5 0h0m-4 15h0m-2197 20h0m987-5h0m-1002 34h0m2145 187h0m-1530 146h0m50 7h0m-32 76h0m1695 133h0m20 2h0m-1906 3h0m1875 46h0m-1940 50h0"/><path id="p350" d="M1792 395h0m-1210 54h0"/><path id="p351" d="M1856 378h0m-956 33h0m80 23h0m-214 4h0m841 18h0m-634 18h0m720 16h0m-965 44h0m52 15h0m1023 515h0m1104 159h0"/><path id="p352" d="M1084 352h0m663-4h0m116 0h0m-1124 42h0m99 34h0m135 19h0m34-8h0m-23 18h0m1889-5h0m-2143 84h0"/><path id="p353" d="M2948 313h0m-310 160h0m-36 253h0"/><path id="p354" d="M288 202h0m724 248h0m-802 171h0m9 92h0m1039 153h0m-1087 86h0m2596 31h0m-1624 172h0"/><path id="p355" d="M1712 279h0m-819 95h0m-249 13h0m122 1h0m839 46h0m-1017 12h0m1247 20h0m-1081 31h0m2095 2h0m-2152 24h0m348 724h0"/><path id="p356" d="M1880 412h0"/><path id="p357" d="M2909 224h0m-2127 90h0m-102 43h0m1041 22h0m818-3h0m-827 23h0m10 0h0m171 0h0m-1272 14h0m234 22h0m785-1h0m-954 33h0m273 32h0m1889 2h0m-2090 5h0m-84 44h0m-40 10h0m89 1h0m504 400h0m688 112h0m1256 111h0m-2160 15h0"/><path id="p358" d="M824 159h0m883 115h0m84 29h0m-62 12h0m-9 16h0m-1147 210h0m2237 421h0m115 21h0"/><path id="p359" d="M487 183h0m1266 48h0m-603 123h0m-429 48h0m1497 19h0m-1231 24h0m593 14h0m47 12h0m-720 58h0m18 36h0m1115 462h0m902 61h0m-32 35h0"/><path id="p360" d="M1525 72h0m349 103h0m-850 16h0m732 10h0m6 4h0m68 34h0m-93 15h0m-48 10h0m105 9h0m38 2h0m5-7h0m-116 15h0m-102 9h0m142 22h0m9 3h0m51 5h0m-182 8h0m9 0h0m2-3h0m-1313 10h0m1294 11h0m61 0h0m-818 30h0m4 6h0m83 24h0m5 34h0m1910 2h0m-13 2h0m6 10h0m-2327 25h0m2313 1h0m1 3h0m28 3h0m77 18h0m241 2h0m-1704 20h0m1307 12h0m-1820 21h0m509 11h0m1244 49h0m-1444 60h0m344 21h0m1544 466h0m-371 352h0m-1929 101h0"/><path id="p361" d="M912 188h0m1248 3h0m-333 8h0m-105 55h0m75 4h0m38 11h0m58 12h0m-125 19h0m58 21h0m13-6h0m-30 19h0m51-2h0m-107 16h0m-93 21h0m71-3h0m-761 17h0m142 1h0m535-8h0m494 9h0m-1380 16h0m293 1h0m894 12h0m-1148 38h0m1 5h0m3 4h0m39-2h0m1 9h0m-47 11h0m975-1h0m-956 41h0m-21 15h0m929 12h0m-464 340h0m1584 54h0m19-4h0m-1753 156h0m35 22h0m1675 0h0m-146 2h0m328 8h0m-9 4h0m-11 14h0m-12 15h0m-1832 19h0m1767 42h0"/><path id="p362" d="M2262 164h0m-444 19h0m11 8h0m12-6h0m-68 103h0m-145 29h0m-2 12h0m-42 14h0m62-4h0m18 4h0m151-1h0m-184 10h0m26 21h0m213 3h0m-235 16h0m-886 11h0m20-1h0m57 2h0m-42 9h0m8-8h0m102 7h0m-142 12h0m51 0h0m-47 4h0m42 16h0m23-7h0m933-1h0m-863 12h0m-96 8h0m64 2h0m-76 36h0m182 0h0m-188 8h0m3 2h0m-30 12h0m13 6h0m83-3h0m-219 56h0m2332 356h0m-125 22h0m115 8h0m-1814 140h0m1616 20h0m16-3h0m122 63h0"/><path id="p363" d="M1854 183h0m-60 91h0m202 12h0m-354 53h0m11 8h0m67 2h0m56 2h0m-1158 20h0m457 42h0m-371 15h0m291 14h0m-235 23h0m168 11h0m22 27h0m-194 6h0m145 36h0m25 9h0m50 66h0m288 241h0m42 9h0m1876 310h0m-2089 34h0"/><path id="p364" d="M1719 386h0m140 39h0m-37 2h0m-969 56h0m1918 6h0m-624 22h0m-55 23h0m-54 185h0m-811 273h0"/><path id="p365" d="M614 193h0m-203 12h0m1417 15h0m58 31h0m-128 39h0m344 25h0m29 0h0m-245 3h0m-91 16h0m-1092 5h0m1101 16h0m-702 16h0m580 0h0m50 0h0m-835 11h0m-299 6h0m1159 1h0m-26 13h0m411-4h0m-1358 14h0m89 21h0m23-6h0m848-1h0m11 15h0m131 16h0m-944 12h0m-63 75h0m653 32h0m-253 287h0m1 14h0m23 17h0m1658 47h0m-797 75h0m807 84h0m-1834 19h0m1653 5h0m-41 4h0m234 13h0m130 80h0"/><path id="p366" d="M1013 127h0m853 57h0m1 9h0m-125 29h0m67 16h0m-52 17h0m42 24h0m60 1h0m-252 12h0m152 4h0m-132 19h0m129-1h0m-33 20h0m71-3h0m2-6h0m-213 19h0m32-6h0m76 6h0m9-7h0m-119 13h0m11 5h0m23-8h0m34 3h0m244-5h0m-259 13h0m6 14h0m-857 7h0m852 4h0m-833 10h0m141-2h0m105-4h0m-280 9h0m159 3h0m-20 30h0m1957 4h0m11 5h0m-2026 25h0m-98 44h0m-196 23h0m2386 435h0m69 77h0m171 106h0m15 22h0m-2171 133h0m138 3h0"/><path id="p367" d="M1028 155h0m-292 13h0m1128 46h0m-1498 16h0m775 0h0m737-3h0m-48 26h0m-49 24h0m111 3h0m21-3h0m-143 23h0m-71 15h0m124-3h0m15 2h0m11 1h0m43 4h0m-274 26h0m29-9h0m205-1h0m-211 22h0m23 7h0m24-2h0m-75 22h0m8-3h0m8 1h0m-682 5h0m-53 16h0m-93 3h0m116 60h0m-92 12h0m-97 34h0m127-1h0m1117-4h0m-1195 16h0m43-1h0m-15 35h0m1939 436h0m-10 13h0m-23 14h0m-29 108h0m67 0h0m104 18h0m327 12h0m-7 19h0m-2133 108h0"/><path id="p368" d="M669 330h0m1840 19h0m-806 59h0m111 8h0m-178 11h0m-10 14h0m222 12h0m1-6h0m-1205 9h0m17 5h0m211 4h0m-3 12h0m2018 15h0m-2171 92h0"/><path id="p369" d="M1866 175h0m-54 9h0m-780 7h0m709 32h0m-724 19h0m794 1h0m12-2h0m-84 18h0m-21 14h0m18 2h0m142 7h0m-259 12h0m-8 8h0m28-5h0m50 4h0m-54 4h0m90 0h0m-98 12h0m105-1h0m-4 17h0m35-5h0m-140 10h0m3 4h0m24-1h0m34 1h0m-90 5h0m26 7h0m7 1h0m15 9h0m-1085 30h0m2337 38h0m-1848 12h0m1844-4h0m101-1h0m-112 10h0m-1462 14h0m1471 0h0m-1463 24h0m1464 3h0m-2799 45h0m891-3h0m2085-5h0m-2070 32h0m-774 88h0m2537 352h0"/><path id="p370" d="M389 224h0m1481 19h0m25 8h0m-1025 39h0m917-3h0m-69 54h0m10-1h0m72 9h0m-70 9h0m39 5h0m13-7h0m283 18h0m-263 28h0m-1017 7h0m191 21h0m26 24h0m1543-4h0m-1667 30h0m727 7h0m-770 67h0m16 3h0m1996 384h0m-125 92h0m242 71h0m-138 14h0m67 60h0"/><path id="p371" d="M1790 305h0m-155 13h0"/><path id="p372" d="M1794 331h0m-20 46h0m-946 8h0m825 46h0m-14 8h0m-805 42h0m2045 7h0m-2231 9h0m246 21h0m400 410h0m1802 306h0"/><path id="p373" d="M651 405h0m1144 10h0m58 12h0m-1152 54h0m2146 9h0m16 3h0m-2262 6h0m59 61h0m1968 136h0m-1659 273h0m21 7h0m2004 57h0m-1947 103h0"/><path id="p374" d="M1658 398h0m877 78h0m318 19h0m21 7h0m-2163 57h0m-33 43h0"/><path id="p375" d="M1824 258h0m-23 18h0m-211 71h0m-681 227h0m513 117h0m1286 443h0m-37 11h0"/><path id="p376" d="M1701 409h0"/><path id="p377" d="M1868 203h0m-1480 53h0m369 52h0m208 56h0m837-4h0m-71 22h0m36-3h0m-755 13h0m708-5h0m-22 9h0m57 2h0m-38 13h0m33 2h0m141 6h0m-270 36h0m277-8h0m-1186 10h0m241 7h0m8 1h0m684 4h0m-60 13h0m26 3h0m-999 6h0m54-4h0m1290-1h0m893 17h0m-1948 21h0m10 6h0m-69 19h0m1097-3h0m477 95h0m-1173 223h0m-13 123h0m-5 15h0m-107 45h0m715 0h0m-698 17h0m1842 29h0m-1837 13h0m1571 8h0m240-9h0m10 1h0m-1835 10h0m1844 31h0m-3 12h0"/><path id="p378" d="M545 221h0m34 2h0m-97 25h0m39-2h0m-40 12h0m39 0h0m396 118h0m-253 11h0m1083 6h0m-785 11h0m882 19h0m19-1h0m-31 9h0m10 2h0m-226 9h0m268-4h0m457 2h0m-1709 9h0m46 5h0m1371-8h0m-1423 16h0m-24 29h0m2260 2h0m7 5h0m9 1h0m-260 39h0m-1935 12h0m1683 0h0m-1729 10h0m1922 135h0m-1587 70h0m1658 116h0m-1347 37h0m-53 15h0m1 35h0m14 6h0m-35 5h0m-201 11h0m275 9h0m-55 14h0m-37 49h0m5 10h0m-181 39h0m-4 18h0m1928 35h0"/><path id="p379" d="M1750 368h0m110 13h0m-970 29h0m40 23h0m1084 184h0"/><path id="p380" d="M395 211h0m1438 34h0m-213 64h0m10 5h0m136-1h0m85 0h0m-215 3h0m164 18h0m-209 1h0m27 8h0m9-6h0m1 6h0m31 2h0m70-9h0m377 14h0m-222 34h0m11 6h0m-1210 14h0m180-9h0m777 6h0m-809 7h0m1072-3h0m-1125 20h0m163-7h0m114 0h0m-264 8h0m71 19h0m-42 5h0m34 4h0m-21 2h0m96 5h0m-131 5h0m29 28h0m44-2h0m62 38h0m1042 46h0m-920 91h0m1675 331h0m-36 20h0m45 122h0m442 12h0m-4 50h0m-279 26h0m-1828 21h0m2000-3h0"/><path id="p381" d="M569 198h0m1225 27h0m-1351 24h0m59 7h0m1206-1h0m-1007 86h0m-30 14h0m1117 38h0m-64 7h0m31-4h0m49 8h0m-87 7h0m149-3h0m-63 13h0m-1187 8h0m1210-1h0m-801 14h0m645-5h0m88-2h0m17 16h0m-1089 5h0m-43 11h0m1191-2h0m69 14h0m-1294 13h0m-7 11h0m2175-6h0m74-2h0m8 1h0m-2165 42h0m140 6h0m-141 6h0m23 23h0m13 8h0m-45 10h0m1935 73h0m-1343 260h0m26 4h0m-105 142h0m1-3h0m1797 28h0m-40 29h0m-16 2h0m13 2h0m-1907 116h0"/><path id="p382" d="M1842 184h0m-1094 167h0m-70 34h0m305-5h0m25 35h0m-199 23h0m78 44h0m-49 26h0m2117 421h0"/><path id="p383" d="M899 360h0m-234 17h0m1068 9h0m68 18h0m-10 10h0m34 6h0m-1202 11h0m1209-2h0m18-2h0m-831 13h0m840 0h0m-1219 12h0m31-1h0m947 3h0m212-1h0m7-1h0m2-6h0m13-1h0m-1198 14h0m-47 36h0m43-4h0m2198 0h0m-29 10h0m26 0h0m7-3h0m8-2h0m-2001 23h0m-143 35h0m-11 30h0m15-1h0m1982-4h0m-1997 12h0m29 1h0m1867 70h0m201 97h0m-151 130h0m-1378 58h0m-29 11h0m-5 20h0m32-2h0m-39 10h0m-13 37h0m-139 82h0m-28 11h0m-40 67h0"/><path id="p384" d="M2841 1140h0"/><path id="p385" d="M2093 136h0m121 51h0m756 1h0m-1471 32h0m198 59h0m99 4h0m100-5h0m-277 14h0m276 8h0m-172 14h0m147-1h0m7-1h0m-155 11h0m-89 11h0m2-6h0m2 6h0m40-8h0m86 9h0m-186 3h0m145 0h0m-72 9h0m-9 9h0m1 4h0m12-4h0m29-1h0m7 6h0m-911 11h0m1298 1h0m-1298 24h0m13 5h0m280 8h0m57-2h0m512-3h0m-754 12h0m-100 14h0m135 11h0m84 8h0m-154 33h0m-38 25h0m-24 53h0m133 22h0m2221 436h0m-337 93h0m-81 25h0m240 17h0"/><path id="p386" d="M850 547h0"/><path id="p387" d="M554 218h0m2287 25h0m-2040 80h0m-162 27h0m1221-2h0m-1108 58h0m1079 2h0m-854 26h0m635 11h0m156 0h0m-1193 13h0m65 5h0m1196 4h0m66 6h0m71-5h0m-1001 17h0m1038-1h0m-1312 4h0m1282-1h0m894 1h0m0-2h0m-22 11h0m-2199 16h0m1473-4h0m710-1h0m4-1h0m-699 11h0m-1485 9h0m1893 6h0m-1679 157h0m1024 425h0m1067 10h0m1 31h0m-1955 30h0m40 33h0"/><path id="p388" d="M566 195h0m1234-1h0m-1281 5h0m1264-3h0m46 10h0m-104 73h0m21 5h0m366-6h0m-1272 35h0m891 21h0m-6 3h0m-1007 16h0m1050 4h0m-1 10h0m-1021 9h0m922 8h0m-676 20h0m783-4h0m-986 8h0m234-3h0m-255 19h0m69 10h0m58 1h0m-37 12h0m20 27h0m-80 4h0m964 2h0m130-1h0m985 7h0m-2090 17h0m47 12h0m64 25h0m-271 12h0m-301 412h0m2562 56h0m-1029 30h0m-651 42h0m1710 55h0m283 37h0m-2142 128h0"/><path id="p389" d="M567 194h0m1208 18h0m-927 131h0m1039 26h0m-1153 13h0m250 2h0m744-8h0m174 9h0m-864 1h0m830 6h0m-1019 7h0m-110 16h0m189-2h0m718 41h0m-736 5h0m714 9h0m158 9h0m975 1h0m10 1h0m-1984 12h0m2000-6h0m-1978 20h0m134 22h0m773 15h0m-971 32h0m2335 678h0"/><path id="p390" d="M1851 485h0m314 62h0"/><path id="p391" d="M955 448h0"/><path id="p392" d="M2135 292h0m-493 99h0m180 18h0m1056 79h0m86 630h0"/><path id="p393" d="M2652 203h0m-1997 100h0m-3 104h0m1206 20h0m11 4h0m-32 23h0m55 17h0m-157 36h0m821 14h0m-219 26h0m307 11h0m-1957 17h0m13 4h0m1840 9h0m-1801 61h0m80 28h0m1756 6h0m172-6h0m-1815 144h0m1751-2h0m-1684 24h0m121 9h0m-180 5h0m2001 17h0m-1714 46h0m27-3h0m-49 14h0m-234 21h0m219 3h0m18 27h0m7 7h0m21 5h0m16-5h0m31-2h0m-30 13h0m-27 7h0m19 0h0m7 1h0m6 3h0m-213 16h0m186 5h0m32 2h0m-55 14h0m8 4h0m-186 19h0"/><path id="p394" d="M1879 405h0m-212 33h0m122 10h0m80 2h0m20 11h0m982 11h0m-949 628h0m-886 124h0"/><path id="p395" d="M705 242h0m-71 143h0m1141-2h0m-954 19h0m1493 230h0m-1056 243h0m1640 45h0m-1649 44h0m657 121h0m-749 43h0m-48 30h0"/><path id="p396" d="M1647 384h0m-570 13h0m-146 188h0"/><path id="p397" d="M591 246h0m31 102h0m-12 73h0m1190-1h0m-138 12h0m212-3h0m-1263 12h0m49-3h0m1 6h0m1170-1h0m-1237 15h0m1031 13h0m622 24h0m615-8h0m7 10h0m-2164 64h0m-12 13h0m1692-6h0m153 0h0m29 101h0m-8 43h0m-1610 93h0m978 3h0m-893 16h0m127-7h0m48 102h0m-207 9h0m967 3h0m-729 16h0m-275 15h0m26 1h0m224 12h0m-39 0h0m26 29h0m73-4h0m-50 13h0m30 2h0m-56 19h0m5 0h0m33-6h0m-28 10h0m14-1h0m3 1h0m-23 22h0m-149 38h0"/><path id="p398" d="M398 289h0m1684-3h0m-1211 33h0m30 2h0m768 51h0m327-7h0m-1072 17h0m784 0h0m-1022 4h0m1124 8h0m-758 9h0m-38 15h0m40-1h0m1102 0h0m-480 12h0m15-3h0m76 0h0m-941 15h0m163 8h0m1152 12h0m-1231 7h0m680 3h0m46-1h0m260 13h0m-170 5h0m-789 20h0m-144 16h0m-168 12h0m977 9h0m-645 42h0m2235 144h0m-1912 173h0m1614 72h0m-2776 15h0m2749 0h0m38-1h0m-1014 65h0m-727 2h0m1581 0h0m-1615 13h0m55 29h0m1514 7h0m-1540 30h0m1530-1h0m254 21h0"/><path id="p399" d="M1704 382h0m-868 78h0m2035 34h0"/><path id="p400" d="M1732 279h0m-144 66h0"/><path id="p401" d="M1038 659h0m2080 568h0"/><path id="p402" d="M1818 354h0m-1095 40h0m176 63h0m1267 19h0m-267 10h0m-1226 79h0m440 502h0"/><path id="p403" d="M468 189h0m1291 191h0m-109 51h0m-705 30h0m-88 52h0m407 389h0m-19 17h0m43 0h0m768 57h0m865 45h0m-194 67h0m231 44h0"/><path id="p404" d="M817 188h0m-196 11h0m230 11h0m1036 54h0m-117 23h0m-71 13h0m197-1h0m-970 28h0m706 5h0m173-1h0m-62 13h0m-96 2h0m168 0h0m332 1h0m-368 11h0m-951 27h0m228 6h0m-342 4h0m201 9h0m155-7h0m-344 20h0m230 19h0m926 26h0m15-6h0m-1140 24h0m1184 7h0m-1204 10h0m75 31h0m-60 18h0m139 3h0m-263 13h0m281 52h0m1187 63h0m-797 199h0m1502 78h0m-1005 107h0m946 54h0m12 7h0m-67 11h0m288 20h0m-74 8h0m-1804 8h0m2081 7h0m-20 28h0m-2095 110h0"/><path id="p405" d="M749 453h0m133 6h0m1819 556h0"/><path id="p406" d="M522 176h0m1505 82h0m13 16h0m-914 30h0m698 15h0m-990 12h0m978 6h0m-711 12h0m713 2h0m-986 13h0m873-3h0m31-2h0m-695 21h0m695-1h0m53 2h0m-1012 14h0m6-8h0m916 3h0m77-3h0m-976 17h0m121 3h0m1262 20h0m-1259 12h0m958 13h0m-84 8h0m-182 41h0m-816 26h0m27 4h0m1007 1h0m-1119 16h0m1285 14h0m-903 113h0m1304 74h0m-1146 106h0m913 75h0m664 65h0m-113 25h0m-2403 22h0m1497-5h0m-691 47h0m796-8h0m-722 20h0m1494 28h0m-1569 44h0m1790-2h0"/><path id="p407" d="M425 250h0m173 141h0m1155 3h0m122 715h0"/><path id="p408" d="M511 181h0m1343 40h0m-345 14h0m215 11h0m-112 74h0m10-1h0m205 6h0m-199 7h0m-1 12h0m-50 4h0m104 10h0m11 3h0m21-4h0m-896 23h0m876-2h0m-708 7h0m679 4h0m226 1h0m-1030 18h0m782-1h0m-864 15h0m24 0h0m26 2h0m-35 9h0m-5 12h0m10 9h0m12-3h0m-9 9h0m63 14h0m26-6h0m-66 8h0m53 0h0m-111 15h0m-10 22h0m53 1h0m-76 13h0m39 35h0m1264 264h0m-724 86h0m1494 37h0m203 72h0m2 79h0m-112 77h0m41-2h0m-21 26h0"/><path id="p409" d="M1843 226h0m-153 38h0m29 12h0m156 7h0m-170 6h0m95-1h0m-111 17h0m-70 10h0m8 3h0m1 4h0m7-4h0m87 4h0m-83 8h0m22-3h0m13 1h0m111-2h0m-126 24h0m-744 48h0m1959 64h0m-1851 4h0m60 6h0m1745 28h0m3 3h0m60-4h0m-70 27h0m-10 13h0m-1942 24h0m140 3h0m-175 16h0m1906 40h0m-1536 283h0m1949 108h0m-4 16h0m-499 398h0m-289 10h0m445 100h0"/><path id="p410" d="M1828 441h0m60 2h0m-1245 16h0m1204 2h0m-1143 85h0m553 370h0m-242 137h0m1910 69h0m209 101h0"/><path id="p411" d="M555 187h0m30 10h0m1467 58h0m-1610 6h0m251 75h0m-79 16h0m1187 11h0m-1160 9h0m96 3h0m91-10h0m-193 27h0m19 3h0m460 18h0m-24 3h0m669 9h0m-764 8h0m626 6h0m-17 8h0m129 1h0m177 7h0m78-3h0m-373 24h0m28-1h0m1044 3h0m-1742 14h0m744 29h0m-764 4h0m-271 41h0m378 90h0m231 204h0m16 61h0m-9 11h0m-74 9h0m92 26h0m-2 9h0m-74 49h0m21 1h0m-122 14h0m17-3h0m26 12h0m657 0h0m1162 15h0m-1810 18h0m1841 5h0m-52 51h0"/><path id="p412" d="M1498 226h0m248 22h0m118 1h0m-122 14h0m116 27h0m289 37h0m-565 11h0m70 8h0m71 7h0m25-6h0m-882 22h0m873 0h0m-726 15h0m710 0h0m63 0h0m-855 4h0m92 0h0m662 1h0m3-1h0m3 4h0m-25 19h0m-657 5h0m6 17h0m560 1h0m62 5h0m255 8h0m-1154 11h0m223 0h0m-343 15h0m1220-3h0m1033-5h0m-2050 18h0m763 1h0m-738 3h0m-52 9h0m7 18h0m20 8h0m-68 35h0m25 0h0m8 0h0m464 340h0m1660 228h0m10 22h0m245 43h0"/><path id="p413" d="M1753 274h0m-58 109h0m-1061 49h0m1180-4h0m-1218 53h0m306 3h0m293 476h0m41 69h0m10 1h0m-44 17h0m-6 17h0"/><path id="p414" d="M818 205h0m1015 12h0m-321 15h0m223 2h0m22 4h0m36 9h0m-103 22h0m29 40h0m20 30h0m9 11h0m132-1h0m182 1h0m-445 9h0m72 7h0m449 42h0m-1224 31h0m99 18h0m-245 14h0m135 21h0m2048 435h0m-252 152h0m28 33h0m160 55h0m224 67h0m-2038 63h0"/><path id="p415" d="M1704 291h0m-94 5h0m122 10h0m-122 22h0"/><path id="p416" d="M1831 396h0m-886 50h0m-192 124h0m-67 13h0"/><path id="p417" d="M2734 227h0m-992 30h0m-947 55h0m264 38h0m744 0h0m-25 9h0m-737 11h0m757-3h0m-80 15h0m-695 9h0m666-3h0m8 12h0m120 12h0m-1175 4h0m1100 6h0m-740 9h0m587-4h0m173 4h0m-814 19h0m51 3h0m613 0h0m41-4h0m-766 10h0m116 3h0m600-2h0m348 4h0m0-9h0m-57 15h0m867 5h0m7 5h0m56 20h0m-195 20h0m-1735 14h0m1024 4h0m-1296 8h0m157 104h0m492 275h0m1688 104h0m-1036 17h0m-844 39h0m832 2h0m785 28h0m257-7h0m26-3h0m-3 41h0"/><path id="p418" d="M618 402h0m352 81h0"/><path id="p419" d="M1840 402h0m12 12h0m-1263 58h0m1254 11h0m-1187 4h0"/><path id="p420" d="M1795 400h0"/><path id="p421" d="M1655 405h0m221 10h0"/><path id="p422" d="M685 234h0m-250 21h0m463 86h0m918 20h0m18-3h0m-800 37h0m829-1h0m-834 7h0m705 4h0m-1105 0h0m1170 17h0m-770 5h0m559 17h0m50 9h0m4 1h0m132-6h0m115 0h0m-947 10h0m-230 7h0m178 11h0m67 0h0m819 0h0m1092 2h0m-20 10h0m34 1h0m-2240 12h0m2211-4h0m-2170 14h0m17-5h0m172 0h0m862 1h0m-1123 14h0m16 1h0m187 1h0m-98 28h0m-62 9h0m29 4h0m-44 8h0m211 129h0m424 241h0m8 49h0m-266 72h0m170 7h0m713 4h0m-759 18h0"/><path id="p423" d="M470 197h0m1309 11h0m-257 8h0m-1134 32h0m1444-2h0m-119 27h0m34 10h0m28 0h0m113 46h0m-52 10h0m7 3h0m-1068 26h0m941 4h0m22-7h0m-836 17h0m50-5h0m1171 0h0m-1249 10h0m-149 13h0m1167 6h0m-1218 14h0m145 11h0m9 22h0m6-3h0m-80 10h0m152 6h0m814 26h0m270-6h0m12 11h0m-1221 9h0m31 0h0m-1 28h0m257 171h0m1887 216h0m298 76h0m-260 13h0m-1139 99h0m974 8h0m-60 9h0m-97 22h0m303 8h0m-65 22h0m207 60h0"/><path id="p424" d="M472 201h0m2253 14h0m-992 39h0m147 7h0m-1166 53h0m423 18h0m-424 34h0m1933 2h0m-843 14h0m48 3h0m-982 22h0m-162 11h0m46 1h0m236 9h0m-84 13h0m95-2h0m-291 6h0m226 13h0m1231 7h0m-1300 17h0m83-4h0m1831 3h0m-2009 8h0m1990-1h0m-2171 10h0m280 4h0m121-3h0m-166 12h0m95 64h0m27 54h0m332 254h0m4 21h0m23 22h0m1641 22h0m-271 123h0m-1586 48h0m2101 43h0m-65 59h0"/><path id="p425" d="M473 218h0m29 9h0m225 100h0m233 39h0m820 15h0m-78 8h0m-1099 15h0m87 5h0m279 12h0m26-2h0m-22 9h0m652 4h0m25-4h0m-1041 17h0m1150-2h0m1-8h0m-913 15h0m775-1h0m-697 9h0m700-1h0m-635 13h0m651 0h0m275-2h0m-1069 7h0m763 4h0m13-3h0m1058 1h0m-1758 32h0m-24 8h0m-27 17h0m1208-8h0m310 245h0m-1124 153h0m-65 39h0m54-7h0m626 127h0m-19 10h0m-29 9h0m73 11h0m-740 9h0m12 0h0m1782 19h0m-1 9h0m-48 7h0m-1897 29h0"/><path id="p426" d="M1801 372h0m34 46h0m-1151 150h0"/><path id="p427" d="M1485 241h0m324-4h0m-117 40h0m20 5h0m-94 17h0m225 1h0m-938 30h0m866-3h0m-203 10h0m64 0h0m-738 55h0m116 49h0m67 93h0m2134 638h0"/><path id="p428" d="M1587 329h0m58 9h0m-740 47h0m784-10h0m150 7h0m36-1h0m-910 8h0m916 16h0m-57 4h0m-971 15h0m137-5h0m-242 64h0m19 93h0m1918 510h0m432 139h0"/><path id="p429" d="M1797 392h0m-190 52h0m-934 11h0m206 48h0"/><path id="p430" d="M567 192h0m-64 22h0m-11 41h0m32-7h0m-43 19h0m201 90h0m1043 54h0m92 2h0m-62 22h0m-1129 1h0m970 7h0m161-3h0m133 0h0m47 13h0m-339 8h0m8-4h0m234 7h0m52 5h0m-1256 12h0m1275-1h0m957 8h0m-299 11h0m285-1h0m1 5h0m-202 4h0m-38 31h0m-76 124h0m62 39h0m188 16h0m-1773 35h0m237 172h0m19-1h0m-39 31h0m23-5h0m-47 10h0m-245 7h0m274 4h0m865 4h0m-905 8h0m4 2h0m-5 29h0m712 57h0m-732 12h0m19-3h0m1747 36h0"/><path id="p431" d="M1778 198h0m13 47h0m311 56h0m-476 45h0m46 17h0m-855 5h0m-175 19h0m299 7h0m47 52h0m-53 19h0m668 24h0m-677 56h0m2018 558h0m-66 50h0"/><path id="p432" d="M1831 448h0m1001 58h0m-2175 51h0m94-1h0m-56 21h0m344 639h0"/><path id="p433" d="M1589 433h0m281 12h0m-1253 3h0m10 41h0m-40 13h0"/><path id="p434" d="M924 204h0m542 28h0m379-5h0m-11 12h0m-1000 34h0m92 35h0m93 11h0m154 26h0m582-1h0m-815 3h0m236 1h0m533-3h0m69 6h0m98 15h0m-1055 16h0m244-4h0m22-1h0m671 4h0m-738 6h0m617 0h0m-827 13h0m107 0h0m23 7h0m888 2h0m-904 40h0m-110 14h0m980-3h0m-199 12h0m45-6h0m-813 27h0m1944-1h0m-1918 10h0m812-6h0m-819 32h0m82 39h0m1172 21h0m-810 272h0m1568 119h0m-497 6h0m-576 55h0m986 84h0m211 5h0m-35 24h0m-807 6h0m1010 52h0"/><path id="p435" d="M1071 103h0m770 72h0m279 23h0m-584 17h0m-1268 3h0m1440 34h0m123 22h0m71 28h0m-931 25h0m919 21h0m-70 36h0m-186 1h0m253 5h0m-1248 23h0m1876 1h0m-1692 5h0m129 0h0m-41 16h0m1960 2h0m-2067 101h0m256 17h0m1683 63h0m-2712 136h0m1270 123h0m1511 77h0m173 47h0m-299 23h0m-1590 57h0m1619 1h0m305 4h0m-1843 28h0m-63 69h0m-25 82h0"/><path id="p436" d="M345 269h0m1757 39h0m-216 12h0m-137 15h0m-46 16h0m23 21h0m28-6h0m-1020 16h0m147 1h0m792-4h0m-760 16h0m6-4h0m827 20h0m-721 8h0m-335 14h0m-17 10h0m217 11h0m119-7h0m767 2h0m-913 27h0m749 3h0m-662 20h0m13 3h0m1863-1h0m-2012 23h0m97 12h0m-243 36h0m-24 11h0m2344 81h0m-1697 237h0m4 9h0m1544 115h0m-1680 87h0m-54 18h0m1823 28h0m-40 11h0m-1871 25h0m2170-1h0"/><path id="p437" d="M1025 314h0"/><path id="p438" d="M2101 130h0m-256 59h0m-103 69h0m42 20h0m-36 9h0m117 41h0m-110 10h0m10 1h0m26-1h0m-147 12h0m362-3h0m288 5h0m-1700 22h0m1271-7h0m357 0h0m-1165 14h0m608-5h0m157 2h0m-179 10h0m-806 15h0m90-7h0m749 0h0m-631 15h0m601-6h0m-971 15h0m155-3h0m22-2h0m-84 14h0m197 20h0m-187 13h0m-10 35h0m18 3h0m1980-4h0m-2024 11h0m51 32h0m2173 418h0m-50 28h0m-242 107h0m202 64h0m-1751 9h0m1778 49h0m223 2h0m-15 16h0m6-4h0m-37 10h0"/><path id="p439" d="M668 405h0m1080 9h0m-10 6h0m33 23h0m-1128 3h0m43 1h0m1152 6h0m506-8h0m-1741 15h0m1322 11h0m942 15h0m-734 14h0m-1475 44h0m1972 30h0m-75 101h0m-947 27h0m952 19h0m-634 45h0m-673 129h0m-36 66h0m-225 14h0m257 50h0m-5 3h0m29-2h0m-126 13h0m-123 23h0m863 11h0"/><path id="p440" d="M1770 214h0m76 163h0m-58 15h0m8-1h0m-147 11h0m138 6h0m-207 25h0m1 4h0m-773 13h0m42 55h0m2017 1h0m-2208 19h0m47-1h0m349 136h0m597-3h0m-642 543h0"/><path id="p441" d="M1045 89h0m-591 93h0m1395 42h0m-961 21h0m1008 56h0m-1047 15h0m-11 24h0m-57 8h0m982 6h0m17 6h0m-34 10h0m-749 11h0m794-5h0m40 3h0m-785 14h0m-273 14h0m203 4h0m-62 21h0m670-5h0m34 5h0m-849 4h0m224 18h0m737 0h0m178-3h0m-1139 4h0m840 13h0m13-2h0m-976 14h0m290 2h0m1214 45h0m-1255 15h0m26 2h0m981 1h0m-1047 83h0m2055 104h0m-2747 127h0m1132 4h0m3 3h0m575 196h0m838 24h0m11 28h0m167 54h0m295 9h0m-2135 16h0m22 117h0"/><path id="p442" d="M1776 280h0m3-4h0m-1023 37h0m64 22h0m1024 26h0m-78 20h0m80-5h0m-1057 16h0m-100 8h0m33 37h0m888 6h0m4 22h0m1236 21h0m-1594 386h0m1722 269h0"/><path id="p443" d="M457 250h0m1263 146h0m-1103 16h0m1352 42h0m-66 11h0m-1320 22h0m64 23h0m1720 38h0m35 34h0m-1676 58h0m1852 4h0m-1368 242h0m-2 61h0m-212 30h0m262 58h0m-216 32h0m-31 123h0"/><path id="p444" d="M505 189h0m2275 52h0m-1028 17h0m-894 68h0m995 39h0m-121 12h0m127 3h0m-1196 10h0m1103 2h0m37-4h0m-157 14h0m-791 22h0m64 1h0m877-7h0m-137 17h0m137-10h0m-193 20h0m-742 7h0m129-6h0m932 9h0m-970 10h0m11-7h0m619 3h0m53-2h0m-720 25h0m1844 0h0m107 0h0m-85 3h0m1 4h0m-1841 7h0m1939 0h0m-1244 8h0m1190 2h0m-1978 9h0m66 3h0m-268 13h0m1001-2h0m1006 94h0m-1636 22h0m211 271h0m51 0h0m1653 185h0m-1095 24h0m1087 9h0m259 38h0"/><path id="p445" d="M388 247h0"/><path id="p446" d="M704 568h0"/><path id="p447" d="M1840 182h0m-1377 50h0m10 7h0m1304-2h0m-1021 33h0m-49 59h0m3 10h0m1-3h0m424 3h0m-310 10h0m-139 7h0m6 8h0m45 28h0m956 0h0m157 13h0m-1256 10h0m426-9h0m723 17h0m17 0h0m-135 8h0m20 18h0m313 3h0m-367 7h0m258 3h0m135-4h0m223 7h0m-313 5h0m-929 11h0m821-6h0m-1049 15h0m1209 0h0m-1036 28h0m-96 15h0m106-4h0m124 127h0m1327 85h0m17 0h0m-1107 188h0m580 41h0m301 45h0m-963 63h0m-25 43h0m1798 8h0m-24 33h0m-1829 5h0"/><path id="p448" d="M693 254h0m-349 5h0m375 55h0m-121 76h0m1159 0h0m-1048 24h0m-88 8h0m1063-4h0m-25 13h0m-8 16h0m145 18h0m-1221 10h0m1069 1h0m254 0h0m-190 19h0m-1038 8h0m216-5h0m14 10h0m-265 29h0m273 75h0m1712 0h0m-1650 24h0m680 39h0m1459 88h0m-1822 197h0m-122 92h0m-20 8h0m31 7h0m2-1h0m-77 28h0m96 1h0m1763 28h0m-5 33h0m-1888 66h0"/><path id="p449" d="M2121 127h0m-1117 66h0m703 70h0m-1160 54h0m1178 1h0m-90 12h0m5 4h0m88-7h0m-86 29h0m16 0h0m11 0h0m1457 14h0m-2506 31h0m246 38h0m-323 14h0m2310 61h0m-1935 53h0m1831 45h0m-2537 18h0m16 4h0m2870 592h0m-1944 73h0m551 168h0"/><path id="p450" d="M1872 220h0m-1093 145h0m997 6h0m-36 7h0m77 17h0m772 3h0m-1920 30h0m62 1h0m908 13h0m-979 37h0m279 7h0m1832 18h0m83 0h0m-1911 4h0m672 5h0m-918 30h0m45 7h0m251 106h0m997 124h0m-977 231h0m1941 85h0"/><path id="p451" d="M702 451h0"/><path id="p452" d="M473 209h0m1391 27h0m-1076 108h0m251-2h0m599-3h0m74 4h0m101 1h0m-71 32h0m432 2h0m-338 23h0m41-5h0m-1147 26h0m2134 14h0m-1871 12h0m-175 26h0m-121 5h0m127 5h0m908 9h0m-876 3h0m-157 34h0m129 23h0m-652 60h0m1121 288h0m1728 156h0m-135 76h0m76 18h0m-24 19h0m-1876 151h0"/><path id="p453" d="M1179 337h0m-807 381h0"/><path id="p454" d="M1813 185h0m-192 112h0m-21 23h0m-19 10h0m53-5h0m8 9h0m-909 3h0m1142 5h0m-300 9h0m48-5h0m4-1h0m33 1h0m50 11h0m49-1h0m141 11h0m-1152 12h0m247 1h0m-196 15h0m251-4h0m-243 6h0m141 4h0m32-4h0m916-2h0m-1038 10h0m117 10h0m46-4h0m-193 19h0m207 7h0m-223 15h0m117 16h0m-154 11h0m-28 28h0m123 0h0m-64 26h0m-28 32h0m2118 397h0m44 5h0m-169 20h0m-98 149h0m498 52h0m-266 31h0m205 21h0m1-3h0m-34 8h0m29 0h0"/>
</defs>
<text x="166.05" y="11.80" font-size="15.4" letter-spacing="0.18" text-anchor="middle">(a) WPD(daily), observations</text>
<g transform="translate(0.45 17.70)">
<g clip-path="url(#cb)">
<g transform="scale(0.1)" fill="none" stroke-width="18" stroke-linecap="round"><use href="#p0" stroke="#c8e020"/><use href="#p1" stroke="#440154"/><use href="#p2" stroke="#481f70"/><use href="#p3" stroke="#287c8e"/><use href="#p4" stroke="#20a486"/><use href="#p5" stroke="#440154"/><use href="#p6" stroke="#287c8e"/><use href="#p7" stroke="#3b528b"/><use href="#p8" stroke="#287c8e"/><use href="#p9" stroke="#481f70"/><use href="#p10" stroke="#287c8e"/><use href="#p11" stroke="#fde725"/><use href="#p12" stroke="#31688e"/><use href="#p13" stroke="#21918c"/><use href="#p14" stroke="#21918c"/><use href="#p15" stroke="#440154"/><use href="#p16" stroke="#481f70"/><use href="#p17" stroke="#90d743"/><use href="#p18" stroke="#3b528b"/><use href="#p19" stroke="#3b528b"/><use href="#p20" stroke="#35b779"/><use href="#p21" stroke="#c8e020"/><use href="#p22" stroke="#440154"/><use href="#p23" stroke="#fde725"/><use href="#p24" stroke="#fde725"/><use href="#p25" stroke="#20a486"/><use href="#p26" stroke="#481f70"/><use href="#p27" stroke="#31688e"/><use href="#p28" stroke="#481f70"/><use href="#p29" stroke="#35b779"/><use href="#p30" stroke="#20a486"/><use href="#p31" stroke="#21918c"/><use href="#p32" stroke="#481f70"/><use href="#p33" stroke="#20a486"/><use href="#p34" stroke="#20a486"/><use href="#p35" stroke="#3b528b"/><use href="#p36" stroke="#443983"/><use href="#p37" stroke="#20a486"/><use href="#p38" stroke="#3b528b"/><use href="#p39" stroke="#3b528b"/><use href="#p40" stroke="#21918c"/><use href="#p41" stroke="#440154"/><use href="#p42" stroke="#31688e"/><use href="#p43" stroke="#440154"/><use href="#p44" stroke="#287c8e"/><use href="#p45" stroke="#443983"/><use href="#p46" stroke="#481f70"/><use href="#p47" stroke="#481f70"/><use href="#p48" stroke="#3b528b"/><use href="#p49" stroke="#440154"/><use href="#p50" stroke="#440154"/><use href="#p51" stroke="#fde725"/><use href="#p52" stroke="#440154"/><use href="#p53" stroke="#440154"/><use href="#p54" stroke="#31688e"/><use href="#p55" stroke="#440154"/><use href="#p56" stroke="#481f70"/><use href="#p57" stroke="#443983"/><use href="#p58" stroke="#443983"/><use href="#p59" stroke="#3b528b"/><use href="#p60" stroke="#440154"/><use href="#p61" stroke="#c8e020"/><use href="#p62" stroke="#3b528b"/><use href="#p63" stroke="#21918c"/><use href="#p64" stroke="#fde725"/><use href="#p65" stroke="#443983"/><use href="#p66" stroke="#3b528b"/><use href="#p67" stroke="#fde725"/><use href="#p68" stroke="#31688e"/><use href="#p69" stroke="#443983"/><use href="#p70" stroke="#287c8e"/><use href="#p71" stroke="#481f70"/><use href="#p72" stroke="#21918c"/><use href="#p73" stroke="#287c8e"/><use href="#p74" stroke="#5ec962"/><use href="#p75" stroke="#443983"/><use href="#p76" stroke="#287c8e"/><use href="#p77" stroke="#31688e"/><use href="#p78" stroke="#5ec962"/><use href="#p79" stroke="#fde725"/><use href="#p80" stroke="#443983"/><use href="#p81" stroke="#fde725"/><use href="#p82" stroke="#21918c"/><use href="#p83" stroke="#287c8e"/><use href="#p84" stroke="#287c8e"/><use href="#p85" stroke="#440154"/><use href="#p86" stroke="#3b528b"/><use href="#p87" stroke="#287c8e"/><use href="#p88" stroke="#440154"/><use href="#p89" stroke="#443983"/><use href="#p90" stroke="#5ec962"/><use href="#p91" stroke="#31688e"/><use href="#p92" stroke="#440154"/><use href="#p93" stroke="#440154"/><use href="#p94" stroke="#3b528b"/><use href="#p95" stroke="#440154"/><use href="#p96" stroke="#440154"/><use href="#p97" stroke="#20a486"/><use href="#p98" stroke="#35b779"/><use href="#p99" stroke="#35b779"/><use href="#p100" stroke="#440154"/><use href="#p101" stroke="#440154"/><use href="#p102" stroke="#287c8e"/><use href="#p103" stroke="#3b528b"/><use href="#p104" stroke="#481f70"/><use href="#p105" stroke="#20a486"/><use href="#p106" stroke="#5ec962"/><use href="#p107" stroke="#20a486"/><use href="#p108" stroke="#35b779"/><use href="#p109" stroke="#fde725"/><use href="#p110" stroke="#443983"/><use href="#p111" stroke="#31688e"/><use href="#p112" stroke="#fde725"/><use href="#p113" stroke="#443983"/><use href="#p114" stroke="#21918c"/><use href="#p115" stroke="#481f70"/><use href="#p116" stroke="#31688e"/><use href="#p117" stroke="#31688e"/><use href="#p118" stroke="#21918c"/><use href="#p119" stroke="#3b528b"/><use href="#p120" stroke="#443983"/><use href="#p121" stroke="#287c8e"/><use href="#p122" stroke="#5ec962"/><use href="#p123" stroke="#287c8e"/><use href="#p124" stroke="#21918c"/><use href="#p125" stroke="#3b528b"/><use href="#p126" stroke="#443983"/><use href="#p127" stroke="#443983"/><use href="#p128" stroke="#443983"/><use href="#p129" stroke="#fde725"/><use href="#p130" stroke="#31688e"/><use href="#p131" stroke="#440154"/><use href="#p132" stroke="#440154"/><use href="#p133" stroke="#481f70"/><use href="#p134" stroke="#fde725"/><use href="#p135" stroke="#fde725"/><use href="#p136" stroke="#fde725"/><use href="#p137" stroke="#35b779"/><use href="#p138" stroke="#443983"/><use href="#p139" stroke="#3b528b"/><use href="#p140" stroke="#21918c"/><use href="#p141" stroke="#31688e"/><use href="#p142" stroke="#31688e"/><use href="#p143" stroke="#287c8e"/><use href="#p144" stroke="#287c8e"/><use href="#p145" stroke="#31688e"/><use href="#p146" stroke="#21918c"/><use href="#p147" stroke="#3b528b"/><use href="#p148" stroke="#31688e"/><use href="#p149" stroke="#440154"/><use href="#p150" stroke="#20a486"/><use href="#p151" stroke="#440154"/><use href="#p152" stroke="#fde725"/><use href="#p153" stroke="#3b528b"/><use href="#p154" stroke="#21918c"/><use href="#p155" stroke="#90d743"/><use href="#p156" stroke="#20a486"/><use href="#p157" stroke="#fde725"/><use href="#p158" stroke="#5ec962"/><use href="#p159" stroke="#287c8e"/><use href="#p160" stroke="#443983"/><use href="#p161" stroke="#443983"/><use href="#p162" stroke="#31688e"/><use href="#p163" stroke="#35b779"/><use href="#p164" stroke="#443983"/><use href="#p165" stroke="#20a486"/><use href="#p166" stroke="#5ec962"/><use href="#p167" stroke="#3b528b"/><use href="#p168" stroke="#3b528b"/><use href="#p169" stroke="#3b528b"/><use href="#p170" stroke="#481f70"/><use href="#p171" stroke="#21918c"/><use href="#p172" stroke="#440154"/><use href="#p173" stroke="#287c8e"/><use href="#p174" stroke="#481f70"/><use href="#p175" stroke="#31688e"/><use href="#p176" stroke="#443983"/><use href="#p177" stroke="#443983"/><use href="#p178" stroke="#481f70"/><use href="#p179" stroke="#481f70"/><use href="#p180" stroke="#440154"/><use href="#p181" stroke="#31688e"/><use href="#p182" stroke="#20a486"/><use href="#p183" stroke="#3b528b"/><use href="#p184" stroke="#481f70"/><use href="#p185" stroke="#90d743"/><use href="#p186" stroke="#481f70"/><use href="#p187" stroke="#481f70"/><use href="#p188" stroke="#440154"/><use href="#p189" stroke="#31688e"/><use href="#p190" stroke="#fde725"/><use href="#p191" stroke="#440154"/><use href="#p192" stroke="#fde725"/><use href="#p193" stroke="#35b779"/><use href="#p194" stroke="#481f70"/><use href="#p195" stroke="#3b528b"/><use href="#p196" stroke="#21918c"/><use href="#p197" stroke="#20a486"/><use href="#p198" stroke="#21918c"/><use href="#p199" stroke="#c8e020"/><use href="#p200" stroke="#5ec962"/><use href="#p201" stroke="#287c8e"/><use href="#p202" stroke="#440154"/><use href="#p203" stroke="#31688e"/><use href="#p204" stroke="#20a486"/><use href="#p205" stroke="#20a486"/><use href="#p206" stroke="#fde725"/><use href="#p207" stroke="#481f70"/><use href="#p208" stroke="#481f70"/><use href="#p209" stroke="#21918c"/><use href="#p210" stroke="#440154"/><use href="#p211" stroke="#481f70"/><use href="#p212" stroke="#443983"/><use href="#p213" stroke="#20a486"/><use href="#p214" stroke="#3b528b"/><use href="#p215" stroke="#443983"/><use href="#p216" stroke="#fde725"/><use href="#p217" stroke="#21918c"/><use href="#p218" stroke="#5ec962"/><use href="#p219" stroke="#3b528b"/><use href="#p220" stroke="#287c8e"/><use href="#p221" stroke="#90d743"/><use href="#p222" stroke="#35b779"/><use href="#p223" stroke="#31688e"/><use href="#p224" stroke="#35b779"/><use href="#p225" stroke="#35b779"/><use href="#p226" stroke="#31688e"/><use href="#p227" stroke="#20a486"/><use href="#p228" stroke="#287c8e"/><use href="#p229" stroke="#481f70"/><use href="#p230" stroke="#3b528b"/><use href="#p231" stroke="#443983"/><use href="#p232" stroke="#fde725"/><use href="#p233" stroke="#440154"/><use href="#p234" stroke="#fde725"/><use href="#p235" stroke="#21918c"/><use href="#p236" stroke="#440154"/><use href="#p237" stroke="#90d743"/><use href="#p238" stroke="#31688e"/><use href="#p239" stroke="#5ec962"/><use href="#p240" stroke="#443983"/><use href="#p241" stroke="#443983"/><use href="#p242" stroke="#481f70"/><use href="#p243" stroke="#31688e"/><use href="#p244" stroke="#fde725"/><use href="#p245" stroke="#fde725"/><use href="#p246" stroke="#3b528b"/><use href="#p247" stroke="#fde725"/><use href="#p248" stroke="#c8e020"/><use href="#p249" stroke="#287c8e"/><use href="#p250" stroke="#443983"/><use href="#p251" stroke="#3b528b"/><use href="#p252" stroke="#21918c"/><use href="#p253" stroke="#35b779"/><use href="#p254" stroke="#440154"/><use href="#p255" stroke="#287c8e"/><use href="#p256" stroke="#443983"/><use href="#p257" stroke="#20a486"/><use href="#p258" stroke="#481f70"/><use href="#p259" stroke="#287c8e"/><use href="#p260" stroke="#3b528b"/><use href="#p261" stroke="#440154"/><use href="#p262" stroke="#20a486"/><use href="#p263" stroke="#443983"/><use href="#p264" stroke="#31688e"/><use href="#p265" stroke="#481f70"/><use href="#p266" stroke="#443983"/><use href="#p267" stroke="#287c8e"/><use href="#p268" stroke="#481f70"/><use href="#p269" stroke="#481f70"/><use href="#p270" stroke="#3b528b"/><use href="#p271" stroke="#3b528b"/><use href="#p272" stroke="#fde725"/><use href="#p273" stroke="#fde725"/><use href="#p274" stroke="#443983"/><use href="#p275" stroke="#c8e020"/><use href="#p276" stroke="#287c8e"/><use href="#p277" stroke="#443983"/><use href="#p278" stroke="#287c8e"/><use href="#p279" stroke="#31688e"/><use href="#p280" stroke="#3b528b"/><use href="#p281" stroke="#21918c"/><use href="#p282" stroke="#20a486"/><use href="#p283" stroke="#443983"/><use href="#p284" stroke="#fde725"/><use href="#p285" stroke="#440154"/><use href="#p286" stroke="#3b528b"/><use href="#p287" stroke="#3b528b"/><use href="#p288" stroke="#fde725"/><use href="#p289" stroke="#481f70"/><use href="#p290" stroke="#90d743"/><use href="#p291" stroke="#3b528b"/><use href="#p292" stroke="#21918c"/><use href="#p293" stroke="#31688e"/><use href="#p294" stroke="#21918c"/><use href="#p295" stroke="#fde725"/><use href="#p296" stroke="#31688e"/><use href="#p297" stroke="#31688e"/><use href="#p298" stroke="#21918c"/><use href="#p299" stroke="#481f70"/><use href="#p300" stroke="#35b779"/><use href="#p301" stroke="#287c8e"/><use href="#p302" stroke="#fde725"/><use href="#p303" stroke="#35b779"/><use href="#p304" stroke="#440154"/><use href="#p305" stroke="#20a486"/><use href="#p306" stroke="#31688e"/><use href="#p307" stroke="#35b779"/><use href="#p308" stroke="#31688e"/><use href="#p309" stroke="#443983"/><use href="#p310" stroke="#c8e020"/><use href="#p311" stroke="#5ec962"/><use href="#p312" stroke="#443983"/><use href="#p313" stroke="#443983"/><use href="#p314" stroke="#31688e"/><use href="#p315" stroke="#443983"/><use href="#p316" stroke="#fde725"/><use href="#p317" stroke="#287c8e"/><use href="#p318" stroke="#31688e"/><use href="#p319" stroke="#287c8e"/><use href="#p320" stroke="#fde725"/><use href="#p321" stroke="#35b779"/><use href="#p322" stroke="#481f70"/><use href="#p323" stroke="#481f70"/><use href="#p324" stroke="#443983"/><use href="#p325" stroke="#3b528b"/><use href="#p326" stroke="#31688e"/><use href="#p327" stroke="#287c8e"/><use href="#p328" stroke="#443983"/><use href="#p329" stroke="#287c8e"/><use href="#p330" stroke="#287c8e"/><use href="#p331" stroke="#440154"/><use href="#p332" stroke="#481f70"/><use href="#p333" stroke="#481f70"/><use href="#p334" stroke="#3b528b"/><use href="#p335" stroke="#440154"/><use href="#p336" stroke="#481f70"/><use href="#p337" stroke="#481f70"/><use href="#p338" stroke="#440154"/><use href="#p339" stroke="#3b528b"/><use href="#p340" stroke="#287c8e"/><use href="#p341" stroke="#fde725"/><use href="#p342" stroke="#287c8e"/><use href="#p343" stroke="#3b528b"/><use href="#p344" stroke="#5ec962"/><use href="#p345" stroke="#5ec962"/><use href="#p346" stroke="#31688e"/><use href="#p347" stroke="#481f70"/><use href="#p348" stroke="#31688e"/><use href="#p349" stroke="#443983"/><use href="#p350" stroke="#3b528b"/><use href="#p351" stroke="#287c8e"/><use href="#p352" stroke="#31688e"/><use href="#p353" stroke="#443983"/><use href="#p354" stroke="#443983"/><use href="#p355" stroke="#31688e"/><use href="#p356" stroke="#3b528b"/><use href="#p357" stroke="#3b528b"/><use href="#p358" stroke="#287c8e"/><use href="#p359" stroke="#481f70"/><use href="#p360" stroke="#fde725"/><use href="#p361" stroke="#35b779"/><use href="#p362" stroke="#fde725"/><use href="#p363" stroke="#21918c"/><use href="#p364" stroke="#481f70"/><use href="#p365" stroke="#3b528b"/><use href="#p366" stroke="#fde725"/><use href="#p367" stroke="#90d743"/><use href="#p368" stroke="#443983"/><use href="#p369" stroke="#fde725"/><use href="#p370" stroke="#287c8e"/><use href="#p371" stroke="#35b779"/><use href="#p372" stroke="#21918c"/><use href="#p373" stroke="#31688e"/><use href="#p374" stroke="#287c8e"/><use href="#p375" stroke="#21918c"/><use href="#p376" stroke="#3b528b"/><use href="#p377" stroke="#481f70"/><use href="#p378" stroke="#481f70"/><use href="#p379" stroke="#21918c"/><use href="#p380" stroke="#fde725"/><use href="#p381" stroke="#443983"/><use href="#p382" stroke="#20a486"/><use href="#p383" stroke="#481f70"/><use href="#p384" stroke="#31688e"/><use href="#p385" stroke="#fde725"/><use href="#p386" stroke="#440154"/><use href="#p387" stroke="#443983"/><use href="#p388" stroke="#21918c"/><use href="#p389" stroke="#31688e"/><use href="#p390" stroke="#443983"/><use href="#p391" stroke="#287c8e"/><use href="#p392" stroke="#287c8e"/><use href="#p393" stroke="#440154"/><use href="#p394" stroke="#31688e"/><use href="#p395" stroke="#481f70"/><use href="#p396" stroke="#3b528b"/><use href="#p397" stroke="#440154"/><use href="#p398" stroke="#481f70"/><use href="#p399" stroke="#21918c"/><use href="#p400" stroke="#21918c"/><use href="#p401" stroke="#287c8e"/><use href="#p402" stroke="#443983"/><use href="#p403" stroke="#481f70"/><use href="#p404" stroke="#31688e"/><use href="#p405" stroke="#287c8e"/><use href="#p406" stroke="#443983"/><use href="#p407" stroke="#481f70"/><use href="#p408" stroke="#fde725"/><use href="#p409" stroke="#fde725"/><use href="#p410" stroke="#31688e"/><use href="#p411" stroke="#440154"/><use href="#p412" stroke="#287c8e"/><use href="#p413" stroke="#481f70"/><use href="#p414" stroke="#90d743"/><use href="#p415" stroke="#20a486"/><use href="#p416" stroke="#21918c"/><use href="#p417" stroke="#443983"/><use href="#p418" stroke="#3b528b"/><use href="#p419" stroke="#31688e"/><use href="#p420" stroke="#35b779"/><use href="#p421" stroke="#21918c"/><use href="#p422" stroke="#443983"/><use href="#p423" stroke="#5ec962"/><use href="#p424" stroke="#3b528b"/><use href="#p425" stroke="#481f70"/><use href="#p426" stroke="#287c8e"/><use href="#p427" stroke="#31688e"/><use href="#p428" stroke="#c8e020"/><use href="#p429" stroke="#21918c"/><use href="#p430" stroke="#481f70"/><use href="#p431" stroke="#20a486"/><use href="#p432" stroke="#31688e"/><use href="#p433" stroke="#3b528b"/><use href="#p434" stroke="#3b528b"/><use href="#p435" stroke="#21918c"/><use href="#p436" stroke="#3b528b"/><use href="#p437" stroke="#440154"/><use href="#p438" stroke="#90d743"/><use href="#p439" stroke="#440154"/><use href="#p440" stroke="#20a486"/><use href="#p441" stroke="#443983"/><use href="#p442" stroke="#31688e"/><use href="#p443" stroke="#481f70"/><use href="#p444" stroke="#443983"/><use href="#p445" stroke="#20a486"/><use href="#p446" stroke="#31688e"/><use href="#p447" stroke="#481f70"/><use href="#p448" stroke="#481f70"/><use href="#p449" stroke="#35b779"/><use href="#p450" stroke="#3b528b"/><use href="#p451" stroke="#21918c"/><use href="#p452" stroke="#21918c"/><use href="#p453" stroke="#443983"/><use href="#p454" stroke="#fde725"/></g>
<use href="#land" fill="none" stroke="#000" stroke-width="0.75" stroke-linejoin="round"/>
<use href="#lake" fill="none" stroke="#000" stroke-width="0.75"/>
</g>
<use href="#bnd" fill="none" stroke="#000" stroke-width="1"/>
</g>
<rect x="33.20" y="193.20" width="21.30" height="10.60" fill="#440154"/><rect x="54.20" y="193.20" width="21.30" height="10.60" fill="#481f70"/><rect x="75.20" y="193.20" width="21.30" height="10.60" fill="#443983"/><rect x="96.20" y="193.20" width="21.30" height="10.60" fill="#3b528b"/><rect x="117.20" y="193.20" width="21.30" height="10.60" fill="#31688e"/><rect x="138.20" y="193.20" width="21.30" height="10.60" fill="#287c8e"/><rect x="159.20" y="193.20" width="21.30" height="10.60" fill="#21918c"/><rect x="180.20" y="193.20" width="21.30" height="10.60" fill="#20a486"/><rect x="201.20" y="193.20" width="21.30" height="10.60" fill="#35b779"/><rect x="222.20" y="193.20" width="21.30" height="10.60" fill="#5ec962"/><rect x="243.20" y="193.20" width="21.30" height="10.60" fill="#90d743"/><rect x="264.20" y="193.20" width="21.30" height="10.60" fill="#c8e020"/><path d="M285.20 193.20L298.20 198.50L285.20 203.80Z" fill="#fde725"/><path d="M54.20 193.20V206.10M75.20 193.20V206.10M96.20 193.20V206.10M117.20 193.20V206.10M138.20 193.20V206.10M159.20 193.20V206.10M180.20 193.20V206.10M201.20 193.20V206.10M222.20 193.20V206.10M243.20 193.20V206.10M264.20 193.20V206.10M285.20 193.20V206.10M33.20 203.80V206.10" stroke="#000" stroke-width="0.6" fill="none"/><path d="M33.20 193.20H285.20L298.20 198.50L285.20 203.80H33.20Z" stroke="#000" stroke-width="0.9" fill="none" stroke-linejoin="miter"/><text x="33.30" y="215.70" font-size="10.4" letter-spacing="0.25" text-anchor="middle">0</text><text x="75.30" y="215.70" font-size="10.4" letter-spacing="0.25" text-anchor="middle">100</text><text x="117.30" y="215.70" font-size="10.4" letter-spacing="0.25" text-anchor="middle">200</text><text x="159.30" y="215.70" font-size="10.4" letter-spacing="0.25" text-anchor="middle">300</text><text x="201.30" y="215.70" font-size="10.4" letter-spacing="0.25" text-anchor="middle">400</text><text x="243.30" y="215.70" font-size="10.4" letter-spacing="0.25" text-anchor="middle">500</text><text x="285.30" y="215.70" font-size="10.4" letter-spacing="0.25" text-anchor="middle">600</text><text x="302.15" y="202.20" font-size="11">W m<tspan dy="-4" font-size="7.7">−2</tspan></text>
<text x="166.05" y="242.30" font-size="15.4" letter-spacing="0.18" text-anchor="middle">(b) WPD(1hour), observations</text>
<g transform="translate(0.45 248.20)">
<g clip-path="url(#cb)">
<g transform="scale(0.1)" fill="none" stroke-width="18" stroke-linecap="round"><use href="#p0" stroke="#fde725"/><use href="#p1" stroke="#443983"/><use href="#p2" stroke="#443983"/><use href="#p3" stroke="#90d743"/><use href="#p4" stroke="#5ec962"/><use href="#p5" stroke="#440154"/><use href="#p6" stroke="#20a486"/><use href="#p7" stroke="#31688e"/><use href="#p8" stroke="#21918c"/><use href="#p9" stroke="#443983"/><use href="#p10" stroke="#fde725"/><use href="#p11" stroke="#fde725"/><use href="#p12" stroke="#21918c"/><use href="#p13" stroke="#fde725"/><use href="#p14" stroke="#35b779"/><use href="#p15" stroke="#481f70"/><use href="#p16" stroke="#481f70"/><use href="#p17" stroke="#fde725"/><use href="#p18" stroke="#21918c"/><use href="#p19" stroke="#21918c"/><use href="#p20" stroke="#c8e020"/><use href="#p21" stroke="#fde725"/><use href="#p22" stroke="#481f70"/><use href="#p23" stroke="#fde725"/><use href="#p24" stroke="#fde725"/><use href="#p25" stroke="#fde725"/><use href="#p26" stroke="#3b528b"/><use href="#p27" stroke="#35b779"/><use href="#p28" stroke="#443983"/><use href="#p29" stroke="#90d743"/><use href="#p30" stroke="#35b779"/><use href="#p31" stroke="#c8e020"/><use href="#p32" stroke="#443983"/><use href="#p33" stroke="#fde725"/><use href="#p34" stroke="#fde725"/><use href="#p35" stroke="#287c8e"/><use href="#p36" stroke="#31688e"/><use href="#p37" stroke="#fde725"/><use href="#p38" stroke="#21918c"/><use href="#p39" stroke="#20a486"/><use href="#p40" stroke="#5ec962"/><use href="#p41" stroke="#440154"/><use href="#p42" stroke="#287c8e"/><use href="#p43" stroke="#443983"/><use href="#p44" stroke="#5ec962"/><use href="#p45" stroke="#287c8e"/><use href="#p46" stroke="#481f70"/><use href="#p47" stroke="#443983"/><use href="#p48" stroke="#21918c"/><use href="#p49" stroke="#481f70"/><use href="#p50" stroke="#443983"/><use href="#p51" stroke="#fde725"/><use href="#p52" stroke="#481f70"/><use href="#p53" stroke="#481f70"/><use href="#p54" stroke="#c8e020"/><use href="#p55" stroke="#481f70"/><use href="#p56" stroke="#481f70"/><use href="#p57" stroke="#3b528b"/><use href="#p58" stroke="#443983"/><use href="#p59" stroke="#20a486"/><use href="#p60" stroke="#481f70"/><use href="#p61" stroke="#fde725"/><use href="#p62" stroke="#3b528b"/><use href="#p63" stroke="#fde725"/><use href="#p64" stroke="#fde725"/><use href="#p65" stroke="#21918c"/><use href="#p66" stroke="#20a486"/><use href="#p67" stroke="#fde725"/><use href="#p68" stroke="#90d743"/><use href="#p69" stroke="#287c8e"/><use href="#p70" stroke="#20a486"/><use href="#p71" stroke="#31688e"/><use href="#p72" stroke="#35b779"/><use href="#p73" stroke="#c8e020"/><use href="#p74" stroke="#fde725"/><use href="#p75" stroke="#3b528b"/><use href="#p76" stroke="#35b779"/><use href="#p77" stroke="#fde725"/><use href="#p78" stroke="#fde725"/><use href="#p79" stroke="#fde725"/><use href="#p80" stroke="#21918c"/><use href="#p81" stroke="#fde725"/><use href="#p82" stroke="#20a486"/><use href="#p83" stroke="#20a486"/><use href="#p84" stroke="#21918c"/><use href="#p85" stroke="#440154"/><use href="#p86" stroke="#31688e"/><use href="#p87" stroke="#5ec962"/><use href="#p88" stroke="#440154"/><use href="#p89" stroke="#443983"/><use href="#p90" stroke="#fde725"/><use href="#p91" stroke="#20a486"/><use href="#p92" stroke="#443983"/><use href="#p93" stroke="#440154"/><use href="#p94" stroke="#5ec962"/><use href="#p95" stroke="#481f70"/><use href="#p96" stroke="#481f70"/><use href="#p97" stroke="#90d743"/><use href="#p98" stroke="#c8e020"/><use href="#p99" stroke="#90d743"/><use href="#p100" stroke="#481f70"/><use href="#p101" stroke="#440154"/><use href="#p102" stroke="#20a486"/><use href="#p103" stroke="#287c8e"/><use href="#p104" stroke="#443983"/><use href="#p105" stroke="#fde725"/><use href="#p106" stroke="#fde725"/><use href="#p107" stroke="#90d743"/><use href="#p108" stroke="#c8e020"/><use href="#p109" stroke="#fde725"/><use href="#p110" stroke="#31688e"/><use href="#p111" stroke="#287c8e"/><use href="#p112" stroke="#fde725"/><use href="#p113" stroke="#31688e"/><use href="#p114" stroke="#fde725"/><use href="#p115" stroke="#3b528b"/><use href="#p116" stroke="#20a486"/><use href="#p117" stroke="#35b779"/><use href="#p118" stroke="#fde725"/><use href="#p119" stroke="#31688e"/><use href="#p120" stroke="#20a486"/><use href="#p121" stroke="#5ec962"/><use href="#p122" stroke="#35b779"/><use href="#p123" stroke="#c8e020"/><use href="#p124" stroke="#90d743"/><use href="#p125" stroke="#21918c"/><use href="#p126" stroke="#3b528b"/><use href="#p127" stroke="#443983"/><use href="#p128" stroke="#3b528b"/><use href="#p129" stroke="#fde725"/><use href="#p130" stroke="#35b779"/><use href="#p131" stroke="#481f70"/><use href="#p132" stroke="#481f70"/><use href="#p133" stroke="#3b528b"/><use href="#p134" stroke="#fde725"/><use href="#p135" stroke="#fde725"/><use href="#p136" stroke="#fde725"/><use href="#p137" stroke="#fde725"/><use href="#p138" stroke="#3b528b"/><use href="#p139" stroke="#35b779"/><use href="#p140" stroke="#c8e020"/><use href="#p141" stroke="#287c8e"/><use href="#p142" stroke="#35b779"/><use href="#p143" stroke="#5ec962"/><use href="#p144" stroke="#90d743"/><use href="#p145" stroke="#c8e020"/><use href="#p146" stroke="#c8e020"/><use href="#p147" stroke="#287c8e"/><use href="#p148" stroke="#c8e020"/><use href="#p149" stroke="#443983"/><use href="#p150" stroke="#90d743"/><use href="#p151" stroke="#481f70"/><use href="#p152" stroke="#fde725"/><use href="#p153" stroke="#31688e"/><use href="#p154" stroke="#c8e020"/><use href="#p155" stroke="#fde725"/><use href="#p156" stroke="#5ec962"/><use href="#p157" stroke="#fde725"/><use href="#p158" stroke="#90d743"/><use href="#p159" stroke="#287c8e"/><use href="#p160" stroke="#20a486"/><use href="#p161" stroke="#31688e"/><use href="#p162" stroke="#c8e020"/><use href="#p163" stroke="#fde725"/><use href="#p164" stroke="#31688e"/><use href="#p165" stroke="#90d743"/><use href="#p166" stroke="#fde725"/><use href="#p167" stroke="#287c8e"/><use href="#p168" stroke="#21918c"/><use href="#p169" stroke="#20a486"/><use href="#p170" stroke="#443983"/><use href="#p171" stroke="#20a486"/><use href="#p172" stroke="#481f70"/><use href="#p173" stroke="#20a486"/><use href="#p174" stroke="#443983"/><use href="#p175" stroke="#20a486"/><use href="#p176" stroke="#31688e"/><use href="#p177" stroke="#287c8e"/><use href="#p178" stroke="#443983"/><use href="#p179" stroke="#443983"/><use href="#p180" stroke="#440154"/><use href="#p181" stroke="#35b779"/><use href="#p182" stroke="#c8e020"/><use href="#p183" stroke="#287c8e"/><use href="#p184" stroke="#3b528b"/><use href="#p185" stroke="#c8e020"/><use href="#p186" stroke="#443983"/><use href="#p187" stroke="#3b528b"/><use href="#p188" stroke="#481f70"/><use href="#p189" stroke="#21918c"/><use href="#p190" stroke="#fde725"/><use href="#p191" stroke="#440154"/><use href="#p192" stroke="#fde725"/><use href="#p193" stroke="#fde725"/><use href="#p194" stroke="#443983"/><use href="#p195" stroke="#3b528b"/><use href="#p196" stroke="#5ec962"/><use href="#p197" stroke="#5ec962"/><use href="#p198" stroke="#90d743"/><use href="#p199" stroke="#fde725"/><use href="#p200" stroke="#c8e020"/><use href="#p201" stroke="#90d743"/><use href="#p202" stroke="#440154"/><use href="#p203" stroke="#287c8e"/><use href="#p204" stroke="#fde725"/><use href="#p205" stroke="#c8e020"/><use href="#p206" stroke="#fde725"/><use href="#p207" stroke="#3b528b"/><use href="#p208" stroke="#3b528b"/><use href="#p209" stroke="#35b779"/><use href="#p210" stroke="#481f70"/><use href="#p211" stroke="#443983"/><use href="#p212" stroke="#31688e"/><use href="#p213" stroke="#c8e020"/><use href="#p214" stroke="#3b528b"/><use href="#p215" stroke="#31688e"/><use href="#p216" stroke="#fde725"/><use href="#p217" stroke="#5ec962"/><use href="#p218" stroke="#fde725"/><use href="#p219" stroke="#21918c"/><use href="#p220" stroke="#fde725"/><use href="#p221" stroke="#fde725"/><use href="#p222" stroke="#90d743"/><use href="#p223" stroke="#20a486"/><use href="#p224" stroke="#fde725"/><use href="#p225" stroke="#fde725"/><use href="#p226" stroke="#5ec962"/><use href="#p227" stroke="#fde725"/><use href="#p228" stroke="#35b779"/><use href="#p229" stroke="#481f70"/><use href="#p230" stroke="#287c8e"/><use href="#p231" stroke="#3b528b"/><use href="#p232" stroke="#fde725"/><use href="#p233" stroke="#481f70"/><use href="#p234" stroke="#fde725"/><use href="#p235" stroke="#20a486"/><use href="#p236" stroke="#440154"/><use href="#p237" stroke="#fde725"/><use href="#p238" stroke="#35b779"/><use href="#p239" stroke="#c8e020"/><use href="#p240" stroke="#443983"/><use href="#p241" stroke="#287c8e"/><use href="#p242" stroke="#443983"/><use href="#p243" stroke="#21918c"/><use href="#p244" stroke="#fde725"/><use href="#p245" stroke="#fde725"/><use href="#p246" stroke="#21918c"/><use href="#p247" stroke="#fde725"/><use href="#p248" stroke="#fde725"/><use href="#p249" stroke="#90d743"/><use href="#p250" stroke="#31688e"/><use href="#p251" stroke="#287c8e"/><use href="#p252" stroke="#20a486"/><use href="#p253" stroke="#90d743"/><use href="#p254" stroke="#440154"/><use href="#p255" stroke="#35b779"/><use href="#p256" stroke="#31688e"/><use href="#p257" stroke="#c8e020"/><use href="#p258" stroke="#443983"/><use href="#p259" stroke="#5ec962"/><use href="#p260" stroke="#287c8e"/><use href="#p261" stroke="#440154"/><use href="#p262" stroke="#c8e020"/><use href="#p263" stroke="#3b528b"/><use href="#p264" stroke="#5ec962"/><use href="#p265" stroke="#443983"/><use href="#p266" stroke="#3b528b"/><use href="#p267" stroke="#c8e020"/><use href="#p268" stroke="#31688e"/><use href="#p269" stroke="#443983"/><use href="#p270" stroke="#287c8e"/><use href="#p271" stroke="#5ec962"/><use href="#p272" stroke="#fde725"/><use href="#p273" stroke="#fde725"/><use href="#p274" stroke="#287c8e"/><use href="#p275" stroke="#fde725"/><use href="#p276" stroke="#35b779"/><use href="#p277" stroke="#3b528b"/><use href="#p278" stroke="#c8e020"/><use href="#p279" stroke="#90d743"/><use href="#p280" stroke="#35b779"/><use href="#p281" stroke="#c8e020"/><use href="#p282" stroke="#fde725"/><use href="#p283" stroke="#31688e"/><use href="#p284" stroke="#fde725"/><use href="#p285" stroke="#481f70"/><use href="#p286" stroke="#20a486"/><use href="#p287" stroke="#20a486"/><use href="#p288" stroke="#fde725"/><use href="#p289" stroke="#3b528b"/><use href="#p290" stroke="#fde725"/><use href="#p291" stroke="#35b779"/><use href="#p292" stroke="#20a486"/><use href="#p293" stroke="#20a486"/><use href="#p294" stroke="#fde725"/><use href="#p295" stroke="#fde725"/><use href="#p296" stroke="#20a486"/><use href="#p297" stroke="#287c8e"/><use href="#p298" stroke="#35b779"/><use href="#p299" stroke="#3b528b"/><use href="#p300" stroke="#fde725"/><use href="#p301" stroke="#21918c"/><use href="#p302" stroke="#fde725"/><use href="#p303" stroke="#fde725"/><use href="#p304" stroke="#481f70"/><use href="#p305" stroke="#90d743"/><use href="#p306" stroke="#90d743"/><use href="#p307" stroke="#90d743"/><use href="#p308" stroke="#21918c"/><use href="#p309" stroke="#443983"/><use href="#p310" stroke="#fde725"/><use href="#p311" stroke="#fde725"/><use href="#p312" stroke="#287c8e"/><use href="#p313" stroke="#20a486"/><use href="#p314" stroke="#35b779"/><use href="#p315" stroke="#3b528b"/><use href="#p316" stroke="#fde725"/><use href="#p317" stroke="#fde725"/><use href="#p318" stroke="#5ec962"/><use href="#p319" stroke="#90d743"/><use href="#p320" stroke="#fde725"/><use href="#p321" stroke="#c8e020"/><use href="#p322" stroke="#3b528b"/><use href="#p323" stroke="#443983"/><use href="#p324" stroke="#3b528b"/><use href="#p325" stroke="#35b779"/><use href="#p326" stroke="#287c8e"/><use href="#p327" stroke="#35b779"/><use href="#p328" stroke="#443983"/><use href="#p329" stroke="#35b779"/><use href="#p330" stroke="#21918c"/><use href="#p331" stroke="#481f70"/><use href="#p332" stroke="#443983"/><use href="#p333" stroke="#3b528b"/><use href="#p334" stroke="#287c8e"/><use href="#p335" stroke="#443983"/><use href="#p336" stroke="#31688e"/><use href="#p337" stroke="#31688e"/><use href="#p338" stroke="#481f70"/><use href="#p339" stroke="#31688e"/><use href="#p340" stroke="#20a486"/><use href="#p341" stroke="#fde725"/><use href="#p342" stroke="#90d743"/><use href="#p343" stroke="#287c8e"/><use href="#p344" stroke="#fde725"/><use href="#p345" stroke="#c8e020"/><use href="#p346" stroke="#90d743"/><use href="#p347" stroke="#3b528b"/><use href="#p348" stroke="#5ec962"/><use href="#p349" stroke="#31688e"/><use href="#p350" stroke="#5ec962"/><use href="#p351" stroke="#c8e020"/><use href="#p352" stroke="#21918c"/><use href="#p353" stroke="#21918c"/><use href="#p354" stroke="#3b528b"/><use href="#p355" stroke="#35b779"/><use href="#p356" stroke="#90d743"/><use href="#p357" stroke="#21918c"/><use href="#p358" stroke="#5ec962"/><use href="#p359" stroke="#443983"/><use href="#p360" stroke="#fde725"/><use href="#p361" stroke="#fde725"/><use href="#p362" stroke="#fde725"/><use href="#p363" stroke="#5ec962"/><use href="#p364" stroke="#443983"/><use href="#p365" stroke="#21918c"/><use href="#p366" stroke="#fde725"/><use href="#p367" stroke="#fde725"/><use href="#p368" stroke="#287c8e"/><use href="#p369" stroke="#fde725"/><use href="#p370" stroke="#90d743"/><use href="#p371" stroke="#c8e020"/><use href="#p372" stroke="#5ec962"/><use href="#p373" stroke="#20a486"/><use href="#p374" stroke="#35b779"/><use href="#p375" stroke="#90d743"/><use href="#p376" stroke="#3b528b"/><use href="#p377" stroke="#3b528b"/><use href="#p378" stroke="#443983"/><use href="#p379" stroke="#fde725"/><use href="#p380" stroke="#fde725"/><use href="#p381" stroke="#3b528b"/><use href="#p382" stroke="#5ec962"/><use href="#p383" stroke="#3b528b"/><use href="#p384" stroke="#fde725"/><use href="#p385" stroke="#fde725"/><use href="#p386" stroke="#440154"/><use href="#p387" stroke="#31688e"/><use href="#p388" stroke="#fde725"/><use href="#p389" stroke="#20a486"/><use href="#p390" stroke="#21918c"/><use href="#p391" stroke="#287c8e"/><use href="#p392" stroke="#fde725"/><use href="#p393" stroke="#481f70"/><use href="#p394" stroke="#21918c"/><use href="#p395" stroke="#443983"/><use href="#p396" stroke="#35b779"/><use href="#p397" stroke="#481f70"/><use href="#p398" stroke="#443983"/><use href="#p399" stroke="#c8e020"/><use href="#p400" stroke="#c8e020"/><use href="#p401" stroke="#fde725"/><use href="#p402" stroke="#21918c"/><use href="#p403" stroke="#31688e"/><use href="#p404" stroke="#20a486"/><use href="#p405" stroke="#fde725"/><use href="#p406" stroke="#31688e"/><use href="#p407" stroke="#31688e"/><use href="#p408" stroke="#fde725"/><use href="#p409" stroke="#fde725"/><use href="#p410" stroke="#21918c"/><use href="#p411" stroke="#481f70"/><use href="#p412" stroke="#5ec962"/><use href="#p413" stroke="#481f70"/><use href="#p414" stroke="#fde725"/><use href="#p415" stroke="#c8e020"/><use href="#p416" stroke="#90d743"/><use href="#p417" stroke="#287c8e"/><use href="#p418" stroke="#35b779"/><use href="#p419" stroke="#21918c"/><use href="#p420" stroke="#5ec962"/><use href="#p421" stroke="#5ec962"/><use href="#p422" stroke="#31688e"/><use href="#p423" stroke="#fde725"/><use href="#p424" stroke="#31688e"/><use href="#p425" stroke="#443983"/><use href="#p426" stroke="#20a486"/><use href="#p427" stroke="#20a486"/><use href="#p428" stroke="#fde725"/><use href="#p429" stroke="#5ec962"/><use href="#p430" stroke="#443983"/><use href="#p431" stroke="#90d743"/><use href="#p432" stroke="#5ec962"/><use href="#p433" stroke="#31688e"/><use href="#p434" stroke="#21918c"/><use href="#p435" stroke="#90d743"/><use href="#p436" stroke="#20a486"/><use href="#p437" stroke="#481f70"/><use href="#p438" stroke="#fde725"/><use href="#p439" stroke="#481f70"/><use href="#p440" stroke="#fde725"/><use href="#p441" stroke="#31688e"/><use href="#p442" stroke="#5ec962"/><use href="#p443" stroke="#481f70"/><use href="#p444" stroke="#287c8e"/><use href="#p445" stroke="#c8e020"/><use href="#p446" stroke="#90d743"/><use href="#p447" stroke="#443983"/><use href="#p448" stroke="#481f70"/><use href="#p449" stroke="#fde725"/><use href="#p450" stroke="#287c8e"/><use href="#p451" stroke="#35b779"/><use href="#p452" stroke="#90d743"/><use href="#p453" stroke="#287c8e"/><use href="#p454" stroke="#fde725"/></g>
<use href="#land" fill="none" stroke="#000" stroke-width="0.75" stroke-linejoin="round"/>
<use href="#lake" fill="none" stroke="#000" stroke-width="0.75"/>
</g>
<use href="#bnd" fill="none" stroke="#000" stroke-width="1"/>
</g>
<rect x="33.20" y="423.70" width="21.30" height="10.60" fill="#440154"/><rect x="54.20" y="423.70" width="21.30" height="10.60" fill="#481f70"/><rect x="75.20" y="423.70" width="21.30" height="10.60" fill="#443983"/><rect x="96.20" y="423.70" width="21.30" height="10.60" fill="#3b528b"/><rect x="117.20" y="423.70" width="21.30" height="10.60" fill="#31688e"/><rect x="138.20" y="423.70" width="21.30" height="10.60" fill="#287c8e"/><rect x="159.20" y="423.70" width="21.30" height="10.60" fill="#21918c"/><rect x="180.20" y="423.70" width="21.30" height="10.60" fill="#20a486"/><rect x="201.20" y="423.70" width="21.30" height="10.60" fill="#35b779"/><rect x="222.20" y="423.70" width="21.30" height="10.60" fill="#5ec962"/><rect x="243.20" y="423.70" width="21.30" height="10.60" fill="#90d743"/><rect x="264.20" y="423.70" width="21.30" height="10.60" fill="#c8e020"/><path d="M285.20 423.70L298.20 429.00L285.20 434.30Z" fill="#fde725"/><path d="M54.20 423.70V436.60M75.20 423.70V436.60M96.20 423.70V436.60M117.20 423.70V436.60M138.20 423.70V436.60M159.20 423.70V436.60M180.20 423.70V436.60M201.20 423.70V436.60M222.20 423.70V436.60M243.20 423.70V436.60M264.20 423.70V436.60M285.20 423.70V436.60M33.20 434.30V436.60" stroke="#000" stroke-width="0.6" fill="none"/><path d="M33.20 423.70H285.20L298.20 429.00L285.20 434.30H33.20Z" stroke="#000" stroke-width="0.9" fill="none" stroke-linejoin="miter"/><text x="33.30" y="446.20" font-size="10.4" letter-spacing="0.25" text-anchor="middle">0</text><text x="75.30" y="446.20" font-size="10.4" letter-spacing="0.25" text-anchor="middle">100</text><text x="117.30" y="446.20" font-size="10.4" letter-spacing="0.25" text-anchor="middle">200</text><text x="159.30" y="446.20" font-size="10.4" letter-spacing="0.25" text-anchor="middle">300</text><text x="201.30" y="446.20" font-size="10.4" letter-spacing="0.25" text-anchor="middle">400</text><text x="243.30" y="446.20" font-size="10.4" letter-spacing="0.25" text-anchor="middle">500</text><text x="285.30" y="446.20" font-size="10.4" letter-spacing="0.25" text-anchor="middle">600</text><text x="302.15" y="432.70" font-size="11">W m<tspan dy="-4" font-size="7.7">−2</tspan></text>
<text x="166.05" y="472.70" font-size="15.4" letter-spacing="0.18" text-anchor="middle">(c) RB, observations</text>
<g transform="translate(0.45 478.60)">
<g clip-path="url(#cb)">
<g transform="scale(0.1)" fill="none" stroke-width="18" stroke-linecap="round"><use href="#p0" stroke="#1e61a5"/><use href="#p1" stroke="#7bb6d6"/><use href="#p2" stroke="#7bb6d6"/><use href="#p3" stroke="#1e61a5"/><use href="#p4" stroke="#3c8abe"/><use href="#p5" stroke="#1e61a5"/><use href="#p6" stroke="#bbdaea"/><use href="#p7" stroke="#1e61a5"/><use href="#p8" stroke="#e6eff4"/><use href="#p9" stroke="#3c8abe"/><use href="#p10" stroke="#053061"/><use href="#p11" stroke="#bbdaea"/><use href="#p12" stroke="#7bb6d6"/><use href="#p13" stroke="#3c8abe"/><use href="#p14" stroke="#3c8abe"/><use href="#p15" stroke="#3c8abe"/><use href="#p16" stroke="#e6eff4"/><use href="#p17" stroke="#3c8abe"/><use href="#p18" stroke="#3c8abe"/><use href="#p19" stroke="#e6eff4"/><use href="#p20" stroke="#bbdaea"/><use href="#p21" stroke="#bbdaea"/><use href="#p22" stroke="#053061"/><use href="#p23" stroke="#e6eff4"/><use href="#p24" stroke="#bbdaea"/><use href="#p25" stroke="#7bb6d6"/><use href="#p26" stroke="#bbdaea"/><use href="#p27" stroke="#7bb6d6"/><use href="#p28" stroke="#3c8abe"/><use href="#p29" stroke="#e6eff4"/><use href="#p30" stroke="#053061"/><use href="#p31" stroke="#053061"/><use href="#p32" stroke="#053061"/><use href="#p33" stroke="#e6eff4"/><use href="#p34" stroke="#3c8abe"/><use href="#p35" stroke="#3c8abe"/><use href="#p36" stroke="#3c8abe"/><use href="#p37" stroke="#7bb6d6"/><use href="#p38" stroke="#1e61a5"/><use href="#p39" stroke="#e6eff4"/><use href="#p40" stroke="#7bb6d6"/><use href="#p41" stroke="#053061"/><use href="#p42" stroke="#7bb6d6"/><use href="#p43" stroke="#3c8abe"/><use href="#p44" stroke="#053061"/><use href="#p45" stroke="#1e61a5"/><use href="#p46" stroke="#1e61a5"/><use href="#p47" stroke="#bbdaea"/><use href="#p48" stroke="#7bb6d6"/><use href="#p49" stroke="#3c8abe"/><use href="#p50" stroke="#053061"/><use href="#p51" stroke="#e6eff4"/><use href="#p52" stroke="#7bb6d6"/><use href="#p53" stroke="#bbdaea"/><use href="#p54" stroke="#7bb6d6"/><use href="#p55" stroke="#1e61a5"/><use href="#p56" stroke="#bbdaea"/><use href="#p57" stroke="#1e61a5"/><use href="#p58" stroke="#053061"/><use href="#p59" stroke="#053061"/><use href="#p60" stroke="#7bb6d6"/><use href="#p61" stroke="#bbdaea"/><use href="#p62" stroke="#1e61a5"/><use href="#p63" stroke="#bbdaea"/><use href="#p64" stroke="#bbdaea"/><use href="#p65" stroke="#3c8abe"/><use href="#p66" stroke="#3c8abe"/><use href="#p67" stroke="#e6eff4"/><use href="#p68" stroke="#bbdaea"/><use href="#p69" stroke="#7bb6d6"/><use href="#p70" stroke="#e6eff4"/><use href="#p71" stroke="#053061"/><use href="#p72" stroke="#7bb6d6"/><use href="#p73" stroke="#7bb6d6"/><use href="#p74" stroke="#053061"/><use href="#p75" stroke="#3c8abe"/><use href="#p76" stroke="#053061"/><use href="#p77" stroke="#053061"/><use href="#p78" stroke="#3c8abe"/><use href="#p79" stroke="#e6eff4"/><use href="#p80" stroke="#7bb6d6"/><use href="#p81" stroke="#3c8abe"/><use href="#p82" stroke="#7bb6d6"/><use href="#p83" stroke="#7bb6d6"/><use href="#p84" stroke="#bbdaea"/><use href="#p85" stroke="#053061"/><use href="#p86" stroke="#3c8abe"/><use href="#p87" stroke="#3c8abe"/><use href="#p88" stroke="#053061"/><use href="#p89" stroke="#bbdaea"/><use href="#p90" stroke="#1e61a5"/><use href="#p91" stroke="#053061"/><use href="#p92" stroke="#053061"/><use href="#p93" stroke="#1e61a5"/><use href="#p94" stroke="#1e61a5"/><use href="#p95" stroke="#1e61a5"/><use href="#p96" stroke="#3c8abe"/><use href="#p97" stroke="#053061"/><use href="#p98" stroke="#3c8abe"/><use href="#p99" stroke="#3c8abe"/><use href="#p100" stroke="#3c8abe"/><use href="#p101" stroke="#3c8abe"/><use href="#p102" stroke="#053061"/><use href="#p103" stroke="#bbdaea"/><use href="#p104" stroke="#3c8abe"/><use href="#p105" stroke="#053061"/><use href="#p106" stroke="#7bb6d6"/><use href="#p107" stroke="#bbdaea"/><use href="#p108" stroke="#1e61a5"/><use href="#p109" stroke="#7bb6d6"/><use href="#p110" stroke="#7bb6d6"/><use href="#p111" stroke="#1e61a5"/><use href="#p112" stroke="#bbdaea"/><use href="#p113" stroke="#7bb6d6"/><use href="#p114" stroke="#053061"/><use href="#p115" stroke="#1e61a5"/><use href="#p116" stroke="#3c8abe"/><use href="#p117" stroke="#3c8abe"/><use href="#p118" stroke="#e6eff4"/><use href="#p119" stroke="#053061"/><use href="#p120" stroke="#bbdaea"/><use href="#p121" stroke="#053061"/><use href="#p122" stroke="#3c8abe"/><use href="#p123" stroke="#bbdaea"/><use href="#p124" stroke="#1e61a5"/><use href="#p125" stroke="#3c8abe"/><use href="#p126" stroke="#3c8abe"/><use href="#p127" stroke="#053061"/><use href="#p128" stroke="#7bb6d6"/><use href="#p129" stroke="#053061"/><use href="#p130" stroke="#bbdaea"/><use href="#p131" stroke="#1e61a5"/><use href="#p132" stroke="#1e61a5"/><use href="#p133" stroke="#7bb6d6"/><use href="#p134" stroke="#bbdaea"/><use href="#p135" stroke="#7bb6d6"/><use href="#p136" stroke="#e6eff4"/><use href="#p137" stroke="#7bb6d6"/><use href="#p138" stroke="#bbdaea"/><use href="#p139" stroke="#e6eff4"/><use href="#p140" stroke="#bbdaea"/><use href="#p141" stroke="#3c8abe"/><use href="#p142" stroke="#053061"/><use href="#p143" stroke="#1e61a5"/><use href="#p144" stroke="#e6eff4"/><use href="#p145" stroke="#053061"/><use href="#p146" stroke="#7bb6d6"/><use href="#p147" stroke="#e6eff4"/><use href="#p148" stroke="#bbdaea"/><use href="#p149" stroke="#1e61a5"/><use href="#p150" stroke="#1e61a5"/><use href="#p151" stroke="#053061"/><use href="#p152" stroke="#7bb6d6"/><use href="#p153" stroke="#bbdaea"/><use href="#p154" stroke="#053061"/><use href="#p155" stroke="#e6eff4"/><use href="#p156" stroke="#1e61a5"/><use href="#p157" stroke="#bbdaea"/><use href="#p158" stroke="#7bb6d6"/><use href="#p159" stroke="#bbdaea"/><use href="#p160" stroke="#7bb6d6"/><use href="#p161" stroke="#e6eff4"/><use href="#p162" stroke="#3c8abe"/><use href="#p163" stroke="#1e61a5"/><use href="#p164" stroke="#053061"/><use href="#p165" stroke="#e6eff4"/><use href="#p166" stroke="#bbdaea"/><use href="#p167" stroke="#bbdaea"/><use href="#p168" stroke="#7bb6d6"/><use href="#p169" stroke="#1e61a5"/><use href="#p170" stroke="#bbdaea"/><use href="#p171" stroke="#1e61a5"/><use href="#p172" stroke="#7bb6d6"/><use href="#p173" stroke="#1e61a5"/><use href="#p174" stroke="#1e61a5"/><use href="#p175" stroke="#bbdaea"/><use href="#p176" stroke="#7bb6d6"/><use href="#p177" stroke="#3c8abe"/><use href="#p178" stroke="#7bb6d6"/><use href="#p179" stroke="#053061"/><use href="#p180" stroke="#053061"/><use href="#p181" stroke="#e6eff4"/><use href="#p182" stroke="#053061"/><use href="#p183" stroke="#bbdaea"/><use href="#p184" stroke="#053061"/><use href="#p185" stroke="#bbdaea"/><use href="#p186" stroke="#1e61a5"/><use href="#p187" stroke="#1e61a5"/><use href="#p188" stroke="#053061"/><use href="#p189" stroke="#bbdaea"/><use href="#p190" stroke="#7bb6d6"/><use href="#p191" stroke="#bbdaea"/><use href="#p192" stroke="#e6eff4"/><use href="#p193" stroke="#3c8abe"/><use href="#p194" stroke="#3c8abe"/><use href="#p195" stroke="#3c8abe"/><use href="#p196" stroke="#e6eff4"/><use href="#p197" stroke="#e6eff4"/><use href="#p198" stroke="#3c8abe"/><use href="#p199" stroke="#7bb6d6"/><use href="#p200" stroke="#7bb6d6"/><use href="#p201" stroke="#3c8abe"/><use href="#p202" stroke="#7bb6d6"/><use href="#p203" stroke="#bbdaea"/><use href="#p204" stroke="#053061"/><use href="#p205" stroke="#bbdaea"/><use href="#p206" stroke="#3c8abe"/><use href="#p207" stroke="#053061"/><use href="#p208" stroke="#7bb6d6"/><use href="#p209" stroke="#1e61a5"/><use href="#p210" stroke="#bbdaea"/><use href="#p211" stroke="#e6eff4"/><use href="#p212" stroke="#053061"/><use href="#p213" stroke="#3c8abe"/><use href="#p214" stroke="#7bb6d6"/><use href="#p215" stroke="#3c8abe"/><use href="#p216" stroke="#053061"/><use href="#p217" stroke="#053061"/><use href="#p218" stroke="#053061"/><use href="#p219" stroke="#053061"/><use href="#p220" stroke="#bbdaea"/><use href="#p221" stroke="#053061"/><use href="#p222" stroke="#7bb6d6"/><use href="#p223" stroke="#3c8abe"/><use href="#p224" stroke="#bbdaea"/><use href="#p225" stroke="#053061"/><use href="#p226" stroke="#e6eff4"/><use href="#p227" stroke="#bbdaea"/><use href="#p228" stroke="#bbdaea"/><use href="#p229" stroke="#3c8abe"/><use href="#p230" stroke="#053061"/><use href="#p231" stroke="#053061"/><use href="#p232" stroke="#bbdaea"/><use href="#p233" stroke="#3c8abe"/><use href="#p234" stroke="#e6eff4"/><use href="#p235" stroke="#3c8abe"/><use href="#p236" stroke="#053061"/><use href="#p237" stroke="#053061"/><use href="#p238" stroke="#1e61a5"/><use href="#p239" stroke="#053061"/><use href="#p240" stroke="#3c8abe"/><use href="#p241" stroke="#053061"/><use href="#p242" stroke="#7bb6d6"/><use href="#p243" stroke="#e6eff4"/><use href="#p244" stroke="#e6eff4"/><use href="#p245" stroke="#1e61a5"/><use href="#p246" stroke="#7bb6d6"/><use href="#p247" stroke="#bbdaea"/><use href="#p248" stroke="#e6eff4"/><use href="#p249" stroke="#053061"/><use href="#p250" stroke="#7bb6d6"/><use href="#p251" stroke="#7bb6d6"/><use href="#p252" stroke="#e6eff4"/><use href="#p253" stroke="#1e61a5"/><use href="#p254" stroke="#3c8abe"/><use href="#p255" stroke="#e6eff4"/><use href="#p256" stroke="#bbdaea"/><use href="#p257" stroke="#7bb6d6"/><use href="#p258" stroke="#3c8abe"/><use href="#p259" stroke="#bbdaea"/><use href="#p260" stroke="#1e61a5"/><use href="#p261" stroke="#7bb6d6"/><use href="#p262" stroke="#053061"/><use href="#p263" stroke="#bbdaea"/><use href="#p264" stroke="#3c8abe"/><use href="#p265" stroke="#3c8abe"/><use href="#p266" stroke="#7bb6d6"/><use href="#p267" stroke="#053061"/><use href="#p268" stroke="#053061"/><use href="#p269" stroke="#053061"/><use href="#p270" stroke="#053061"/><use href="#p271" stroke="#bbdaea"/><use href="#p272" stroke="#bbdaea"/><use href="#p273" stroke="#bbdaea"/><use href="#p274" stroke="#bbdaea"/><use href="#p275" stroke="#053061"/><use href="#p276" stroke="#3c8abe"/><use href="#p277" stroke="#7bb6d6"/><use href="#p278" stroke="#1e61a5"/><use href="#p279" stroke="#3c8abe"/><use href="#p280" stroke="#053061"/><use href="#p281" stroke="#3c8abe"/><use href="#p282" stroke="#bbdaea"/><use href="#p283" stroke="#1e61a5"/><use href="#p284" stroke="#1e61a5"/><use href="#p285" stroke="#bbdaea"/><use href="#p286" stroke="#053061"/><use href="#p287" stroke="#bbdaea"/><use href="#p288" stroke="#3c8abe"/><use href="#p289" stroke="#3c8abe"/><use href="#p290" stroke="#1e61a5"/><use href="#p291" stroke="#3c8abe"/><use href="#p292" stroke="#bbdaea"/><use href="#p293" stroke="#1e61a5"/><use href="#p294" stroke="#053061"/><use href="#p295" stroke="#7bb6d6"/><use href="#p296" stroke="#7bb6d6"/><use href="#p297" stroke="#053061"/><use href="#p298" stroke="#bbdaea"/><use href="#p299" stroke="#e6eff4"/><use href="#p300" stroke="#7bb6d6"/><use href="#p301" stroke="#3c8abe"/><use href="#p302" stroke="#3c8abe"/><use href="#p303" stroke="#053061"/><use href="#p304" stroke="#7bb6d6"/><use href="#p305" stroke="#3c8abe"/><use href="#p306" stroke="#1e61a5"/><use href="#p307" stroke="#bbdaea"/><use href="#p308" stroke="#3c8abe"/><use href="#p309" stroke="#1e61a5"/><use href="#p310" stroke="#053061"/><use href="#p311" stroke="#e6eff4"/><use href="#p312" stroke="#bbdaea"/><use href="#p313" stroke="#1e61a5"/><use href="#p314" stroke="#7bb6d6"/><use href="#p315" stroke="#053061"/><use href="#p316" stroke="#bbdaea"/><use href="#p317" stroke="#053061"/><use href="#p318" stroke="#1e61a5"/><use href="#p319" stroke="#7bb6d6"/><use href="#p320" stroke="#bbdaea"/><use href="#p321" stroke="#7bb6d6"/><use href="#p322" stroke="#bbdaea"/><use href="#p323" stroke="#1e61a5"/><use href="#p324" stroke="#bbdaea"/><use href="#p325" stroke="#7bb6d6"/><use href="#p326" stroke="#053061"/><use href="#p327" stroke="#1e61a5"/><use href="#p328" stroke="#7bb6d6"/><use href="#p329" stroke="#7bb6d6"/><use href="#p330" stroke="#7bb6d6"/><use href="#p331" stroke="#053061"/><use href="#p332" stroke="#7bb6d6"/><use href="#p333" stroke="#3c8abe"/><use href="#p334" stroke="#7bb6d6"/><use href="#p335" stroke="#bbdaea"/><use href="#p336" stroke="#3c8abe"/><use href="#p337" stroke="#bbdaea"/><use href="#p338" stroke="#3c8abe"/><use href="#p339" stroke="#e6eff4"/><use href="#p340" stroke="#3c8abe"/><use href="#p341" stroke="#e6eff4"/><use href="#p342" stroke="#053061"/><use href="#p343" stroke="#7bb6d6"/><use href="#p344" stroke="#bbdaea"/><use href="#p345" stroke="#bbdaea"/><use href="#p346" stroke="#7bb6d6"/><use href="#p347" stroke="#3c8abe"/><use href="#p348" stroke="#bbdaea"/><use href="#p349" stroke="#3c8abe"/><use href="#p350" stroke="#3c8abe"/><use href="#p351" stroke="#3c8abe"/><use href="#p352" stroke="#7bb6d6"/><use href="#p353" stroke="#1e61a5"/><use href="#p354" stroke="#e6eff4"/><use href="#p355" stroke="#053061"/><use href="#p356" stroke="#3c8abe"/><use href="#p357" stroke="#053061"/><use href="#p358" stroke="#e6eff4"/><use href="#p359" stroke="#bbdaea"/><use href="#p360" stroke="#e6eff4"/><use href="#p361" stroke="#bbdaea"/><use href="#p362" stroke="#7bb6d6"/><use href="#p363" stroke="#bbdaea"/><use href="#p364" stroke="#053061"/><use href="#p365" stroke="#bbdaea"/><use href="#p366" stroke="#bbdaea"/><use href="#p367" stroke="#bbdaea"/><use href="#p368" stroke="#053061"/><use href="#p369" stroke="#e6eff4"/><use href="#p370" stroke="#bbdaea"/><use href="#p371" stroke="#e6eff4"/><use href="#p372" stroke="#3c8abe"/><use href="#p373" stroke="#053061"/><use href="#p374" stroke="#053061"/><use href="#p375" stroke="#e6eff4"/><use href="#p376" stroke="#053061"/><use href="#p377" stroke="#7bb6d6"/><use href="#p378" stroke="#053061"/><use href="#p379" stroke="#1e61a5"/><use href="#p380" stroke="#7bb6d6"/><use href="#p381" stroke="#1e61a5"/><use href="#p382" stroke="#7bb6d6"/><use href="#p383" stroke="#053061"/><use href="#p384" stroke="#bbdaea"/><use href="#p385" stroke="#bbdaea"/><use href="#p386" stroke="#e6eff4"/><use href="#p387" stroke="#053061"/><use href="#p388" stroke="#7bb6d6"/><use href="#p389" stroke="#7bb6d6"/><use href="#p390" stroke="#053061"/><use href="#p391" stroke="#7bb6d6"/><use href="#p392" stroke="#3c8abe"/><use href="#p393" stroke="#053061"/><use href="#p394" stroke="#053061"/><use href="#p395" stroke="#7bb6d6"/><use href="#p396" stroke="#bbdaea"/><use href="#p397" stroke="#053061"/><use href="#p398" stroke="#bbdaea"/><use href="#p399" stroke="#1e61a5"/><use href="#p400" stroke="#e6eff4"/><use href="#p401" stroke="#1e61a5"/><use href="#p402" stroke="#bbdaea"/><use href="#p403" stroke="#7bb6d6"/><use href="#p404" stroke="#bbdaea"/><use href="#p405" stroke="#7bb6d6"/><use href="#p406" stroke="#bbdaea"/><use href="#p407" stroke="#1e61a5"/><use href="#p408" stroke="#7bb6d6"/><use href="#p409" stroke="#e6eff4"/><use href="#p410" stroke="#1e61a5"/><use href="#p411" stroke="#7bb6d6"/><use href="#p412" stroke="#7bb6d6"/><use href="#p413" stroke="#053061"/><use href="#p414" stroke="#bbdaea"/><use href="#p415" stroke="#e6eff4"/><use href="#p416" stroke="#053061"/><use href="#p417" stroke="#7bb6d6"/><use href="#p418" stroke="#1e61a5"/><use href="#p419" stroke="#053061"/><use href="#p420" stroke="#053061"/><use href="#p421" stroke="#053061"/><use href="#p422" stroke="#1e61a5"/><use href="#p423" stroke="#7bb6d6"/><use href="#p424" stroke="#7bb6d6"/><use href="#p425" stroke="#7bb6d6"/><use href="#p426" stroke="#053061"/><use href="#p427" stroke="#e6eff4"/><use href="#p428" stroke="#3c8abe"/><use href="#p429" stroke="#1e61a5"/><use href="#p430" stroke="#1e61a5"/><use href="#p431" stroke="#7bb6d6"/><use href="#p432" stroke="#053061"/><use href="#p433" stroke="#053061"/><use href="#p434" stroke="#bbdaea"/><use href="#p435" stroke="#bbdaea"/><use href="#p436" stroke="#7bb6d6"/><use href="#p437" stroke="#e6eff4"/><use href="#p438" stroke="#7bb6d6"/><use href="#p439" stroke="#053061"/><use href="#p440" stroke="#1e61a5"/><use href="#p441" stroke="#bbdaea"/><use href="#p442" stroke="#7bb6d6"/><use href="#p443" stroke="#053061"/><use href="#p444" stroke="#3c8abe"/><use href="#p445" stroke="#1e61a5"/><use href="#p446" stroke="#053061"/><use href="#p447" stroke="#7bb6d6"/><use href="#p448" stroke="#7bb6d6"/><use href="#p449" stroke="#e6eff4"/><use href="#p450" stroke="#3c8abe"/><use href="#p451" stroke="#053061"/><use href="#p452" stroke="#7bb6d6"/><use href="#p453" stroke="#e6eff4"/><use href="#p454" stroke="#7bb6d6"/></g>
<use href="#land" fill="none" stroke="#000" stroke-width="0.75" stroke-linejoin="round"/>
<use href="#lake" fill="none" stroke="#000" stroke-width="0.75"/>
</g>
<use href="#bnd" fill="none" stroke="#000" stroke-width="1"/>
</g>
<rect x="45.65" y="654.20" width="20.27" height="10.40" fill="#053061"/><rect x="65.62" y="654.20" width="20.27" height="10.40" fill="#1e61a5"/><rect x="85.59" y="654.20" width="20.27" height="10.40" fill="#3c8abe"/><rect x="105.56" y="654.20" width="20.27" height="10.40" fill="#7bb6d6"/><rect x="125.53" y="654.20" width="20.27" height="10.40" fill="#bbdaea"/><rect x="145.50" y="654.20" width="20.27" height="10.40" fill="#e6eff4"/><rect x="165.47" y="654.20" width="20.27" height="10.40" fill="#faeae1"/><rect x="185.44" y="654.20" width="20.27" height="10.40" fill="#fac8af"/><rect x="205.41" y="654.20" width="20.27" height="10.40" fill="#eb9172"/><rect x="225.38" y="654.20" width="20.27" height="10.40" fill="#cf5246"/><rect x="245.35" y="654.20" width="20.27" height="10.40" fill="#ab162a"/><rect x="265.32" y="654.20" width="20.27" height="10.40" fill="#67001f"/><path d="M285.29 654.20L298.09 659.40L285.29 664.60Z" fill="#67001f"/><path d="M45.65 654.20L32.85 659.40L45.65 664.60Z" fill="#053061"/><path d="M45.65 654.20V664.60M65.62 654.20V664.60M85.59 654.20V664.60M105.56 654.20V664.60M125.53 654.20V664.60M145.50 654.20V664.60M165.47 654.20V664.60M185.44 654.20V664.60M205.41 654.20V664.60M225.38 654.20V664.60M245.35 654.20V664.60M265.32 654.20V664.60M285.29 654.20V664.60" stroke="#000" stroke-width="0.6" fill="none"/><path d="M45.65 654.20H285.29L298.09 659.40L285.29 664.60H45.65L32.85 659.40Z" stroke="#000" stroke-width="0.9" fill="none"/><text x="45.75" y="676.60" font-size="10.4" letter-spacing="0.25" text-anchor="middle">−60</text><text x="85.69" y="676.60" font-size="10.4" letter-spacing="0.25" text-anchor="middle">−40</text><text x="125.63" y="676.60" font-size="10.4" letter-spacing="0.25" text-anchor="middle">−20</text><text x="165.57" y="676.60" font-size="10.4" letter-spacing="0.25" text-anchor="middle">0</text><text x="205.51" y="676.60" font-size="10.4" letter-spacing="0.25" text-anchor="middle">20</text><text x="245.45" y="676.60" font-size="10.4" letter-spacing="0.25" text-anchor="middle">40</text><text x="285.39" y="676.60" font-size="10.4" letter-spacing="0.25" text-anchor="middle">60</text><text x="304.45" y="663.10" font-size="11">%</text>
<text x="513.10" y="12.95" font-size="15.4" letter-spacing="0.18" text-anchor="middle">(d) WPD(daily), ERA5 reanalysis</text>
<g transform="translate(347.50 17.70)">
<g clip-path="url(#cbr)">
<g clip-path="url(#cl)"><rect x="-1" y="-1" width="332" height="167" fill="#fde725"/><g fill="none" stroke-width="1.50"><path d="M58.8 22.4h1.2M54.0 24.7h1.2M56.0 24.7h3.1M61.9 24.7h4.1M53.2 25.8h3.2M57.1 25.8h1.2M59.1 25.8h6.1M66.0 25.8h3.2M52.3 26.9h1.2M59.3 26.9h10.2M51.5 28.1h2.2M58.6 28.1h10.2M57.8 29.2h8.3M57.1 30.4h5.3M63.2 30.4h1.2M57.5 31.5h7.4M55.8 32.7h9.5M56.2 33.8h6.4M57.7 35.0h3.3M61.9 35.0h1.2M58.2 36.1h1.2M61.3 36.1h1.2M57.6 37.3h5.5M58.2 38.4h5.5M173.5 38.4h3.4M58.7 39.6h4.5M174.6 39.6h2.3M58.3 40.7h3.4M168.2 40.7h1.3M171.4 40.7h5.5M57.8 41.8h5.6M170.4 41.8h1.3M172.5 41.8h1.3M175.7 41.8h1.3M56.3 43.0h7.7M170.4 43.0h2.4M56.9 44.1h6.7M57.6 45.3h2.4M56.1 46.4h5.6M60.1 47.6h1.3M228.6 48.7h4.6M229.9 49.9h1.3M229.0 51.0h2.4M255.7 52.2h6.8M254.9 53.3h9.1M68.2 54.5h1.3M254.0 54.5h12.4M68.0 55.6h1.3M236.4 55.6h2.4M248.6 55.6h1.3M250.9 55.6h2.4M254.2 55.6h13.6M236.5 56.8h3.6M241.0 56.8h1.3M245.5 56.8h20.3M266.7 56.8h1.3M240.1 57.9h24.8M236.9 59.0h2.4M241.4 59.0h26.0M239.3 60.2h28.3M69.2 61.3h1.3M240.5 61.3h22.7M265.3 61.3h2.5M69.0 62.5h3.6M238.4 62.5h25.0M68.8 63.6h5.9M236.3 63.6h1.3M238.5 63.6h8.1M247.6 63.6h14.9M68.7 64.8h7.0M236.4 64.8h1.3M238.7 64.8h4.7M248.8 64.8h13.8M69.7 65.9h5.9M238.8 65.9h3.6M249.0 65.9h12.7M71.8 67.1h2.5M250.2 67.1h11.6M83.1 68.2h2.5M251.5 68.2h9.3M81.8 69.4h4.8M252.7 69.4h7.0M254.0 70.5h5.9M165.0 71.7h1.3M254.0 71.7h5.9M279.2 71.7h1.3M151.3 72.8h5.9M158.1 72.8h10.5M254.1 72.8h3.6M258.7 72.8h2.5M279.3 72.8h1.3M88.4 74.0h5.9M151.3 74.0h27.6M181.0 74.0h1.3M193.6 74.0h1.3M254.2 74.0h3.6M259.9 74.0h1.3M277.1 74.0h4.8M89.5 75.1h5.9M152.4 75.1h29.9M187.9 75.1h3.6M254.2 75.1h3.6M271.4 75.1h1.3M276.0 75.1h5.9M89.4 76.2h2.5M92.9 76.2h7.1M153.6 76.2h40.3M255.4 76.2h3.6M270.3 76.2h3.6M277.2 76.2h4.8M92.8 77.4h9.4M154.7 77.4h39.1M253.2 77.4h7.1M269.2 77.4h5.9M278.4 77.4h2.5M92.8 78.5h14.0M114.6 78.5h2.5M118.0 78.5h1.3M155.8 78.5h9.4M169.6 78.5h25.4M252.1 78.5h9.4M268.1 78.5h7.1M92.8 79.7h18.5M112.3 79.7h1.3M114.6 79.7h4.8M170.7 79.7h1.3M173.0 79.7h22.0M253.3 79.7h8.2M265.9 79.7h8.2M91.6 80.8h28.9M173.0 80.8h22.0M254.4 80.8h7.1M264.7 80.8h9.4M275.1 80.8h4.8M281.9 80.8h1.3M90.5 82.0h31.2M173.0 82.0h23.1M254.4 82.0h7.1M263.6 82.0h20.8M285.4 82.0h2.5M90.5 83.1h33.4M171.9 83.1h24.3M255.6 83.1h5.9M264.7 83.1h15.1M281.9 83.1h1.3M284.2 83.1h4.8M291.1 83.1h1.3M90.5 84.3h34.6M173.0 84.3h23.1M256.7 84.3h5.9M264.7 84.3h12.8M281.9 84.3h14.0M93.9 85.4h30.0M173.0 85.4h23.1M256.7 85.4h7.1M265.9 85.4h12.8M280.8 85.4h17.4M303.7 85.4h1.3M95.1 86.6h28.8M174.2 86.6h22.0M257.8 86.6h5.9M267.0 86.6h4.8M273.9 86.6h4.8M281.9 86.6h2.5M286.5 86.6h12.8M301.4 86.6h4.8M94.0 87.7h30.0M175.3 87.7h20.8M258.9 87.7h9.4M276.1 87.7h1.3M288.7 87.7h16.2M94.0 88.9h30.0M175.3 88.9h18.5M260.0 88.9h11.6M290.9 88.9h12.8M94.1 90.0h28.8M175.3 90.0h18.5M198.2 90.0h1.3M261.1 90.0h10.5M289.7 90.0h11.6M94.1 91.1h27.6M176.4 91.1h16.2M266.8 91.1h4.8M290.8 91.1h1.3M293.1 91.1h3.6M297.6 91.1h4.8M93.0 92.3h28.8M176.4 92.3h18.5M299.8 92.3h1.3M93.1 93.4h3.6M99.9 93.4h21.9M176.4 93.4h17.3M94.3 94.6h1.3M101.1 94.6h20.7M178.7 94.6h12.7M101.2 95.7h20.7M179.8 95.7h7.0M187.8 95.7h3.6M103.6 96.9h17.3M129.7 96.9h1.3M180.9 96.9h3.6M104.8 98.0h13.8M128.6 98.0h2.5M103.7 99.2h17.2M128.7 99.2h2.5M106.1 100.3h18.3M106.2 101.5h19.4M192.2 101.5h1.3M109.7 102.6h18.3M112.0 103.8h16.0M117.7 104.9h1.3M124.5 104.9h1.3" stroke="#471063"/><path d="M55.2 18.9h1.1M57.1 18.9h1.1M54.1 20.1h6.8M246.5 20.1h1.1M248.4 20.1h1.1M47.3 21.2h16.5M174.6 21.2h1.2M245.4 21.2h6.9M262.6 21.2h3.1M271.2 21.2h1.2M42.4 22.4h16.6M59.8 22.4h7.0M172.7 22.4h5.0M240.3 22.4h2.1M245.1 22.4h6.0M251.9 22.4h1.2M255.8 22.4h3.1M259.6 22.4h2.1M263.5 22.4h4.1M269.3 22.4h5.0M41.3 23.5h27.5M69.6 23.5h4.1M170.8 23.5h1.2M172.8 23.5h5.1M208.8 23.5h1.2M236.1 23.5h32.3M270.2 23.5h4.1M40.3 24.7h13.9M55.0 24.7h1.2M59.0 24.7h3.1M65.8 24.7h8.1M168.9 24.7h4.1M176.8 24.7h1.2M179.7 24.7h1.2M206.2 24.7h1.2M215.1 24.7h3.1M233.7 24.7h1.2M235.7 24.7h33.6M270.1 24.7h4.1M42.3 25.8h11.1M56.1 25.8h1.2M58.1 25.8h1.2M65.1 25.8h1.2M69.0 25.8h4.2M172.9 25.8h1.2M194.7 25.8h1.2M203.6 25.8h5.1M209.5 25.8h2.2M214.5 25.8h4.2M224.4 25.8h2.2M227.3 25.8h1.2M229.3 25.8h1.2M234.3 25.8h37.8M272.9 25.8h2.2M42.4 26.9h10.2M53.3 26.9h6.2M69.3 26.9h3.2M194.9 26.9h1.2M203.9 26.9h2.2M206.9 26.9h5.2M212.9 26.9h6.2M224.8 26.9h5.2M230.8 26.9h1.2M234.8 26.9h7.2M242.8 26.9h31.1M42.5 28.1h4.2M48.5 28.1h3.2M53.5 28.1h5.2M68.6 28.1h7.2M204.2 28.1h2.2M207.2 28.1h1.2M210.2 28.1h2.2M214.2 28.1h6.2M226.2 28.1h4.2M231.3 28.1h2.2M234.3 28.1h40.4M42.7 29.2h1.2M52.8 29.2h5.3M65.9 29.2h8.3M210.5 29.2h2.2M214.5 29.2h6.3M229.7 29.2h2.2M232.7 29.2h1.2M239.8 29.2h26.5M269.1 29.2h4.2M55.1 30.4h2.2M62.2 30.4h1.2M64.3 30.4h10.4M214.9 30.4h1.2M229.1 30.4h2.2M245.4 30.4h28.7M56.5 31.5h1.2M64.7 31.5h8.4M243.8 31.5h26.8M271.5 31.5h3.3M65.1 32.7h5.4M245.3 32.7h24.9M272.1 32.7h1.2M54.1 33.8h2.3M62.4 33.8h7.5M244.8 33.8h7.5M254.1 33.8h3.3M258.2 33.8h2.3M261.3 33.8h9.5M272.7 33.8h2.3M54.6 35.0h1.2M60.8 35.0h1.2M62.9 35.0h4.4M245.2 35.0h9.6M262.9 35.0h5.4M269.2 35.0h1.2M273.3 35.0h1.2M275.4 35.0h1.2M59.2 36.1h2.3M62.4 36.1h4.4M176.5 36.1h2.3M241.4 36.1h1.2M244.6 36.1h3.3M248.8 36.1h4.4M254.0 36.1h1.2M62.9 37.3h6.5M170.3 37.3h1.3M172.4 37.3h7.6M241.8 37.3h2.3M245.0 37.3h3.4M249.2 37.3h2.3M273.4 37.3h2.3M63.5 38.4h6.5M169.2 38.4h4.4M176.6 38.4h6.5M270.8 38.4h3.4M275.0 38.4h2.3M63.0 39.6h7.6M167.1 39.6h7.6M176.7 39.6h6.6M271.3 39.6h1.3M274.5 39.6h5.5M61.5 40.7h8.7M166.1 40.7h2.3M169.3 40.7h2.3M176.7 40.7h7.7M274.9 40.7h5.5M63.2 41.8h7.7M166.1 41.8h4.5M171.4 41.8h1.3M173.6 41.8h2.3M176.8 41.8h9.8M274.3 41.8h5.6M63.8 43.0h6.7M167.2 43.0h3.4M172.5 43.0h12.0M185.5 43.0h4.5M227.4 43.0h4.5M275.9 43.0h4.5M63.4 44.1h6.7M99.1 44.1h1.3M167.2 44.1h2.4M171.5 44.1h12.1M184.5 44.1h3.4M195.3 44.1h1.3M199.6 44.1h2.4M224.4 44.1h9.9M236.3 44.1h3.4M275.2 44.1h5.6M56.5 45.3h1.3M59.8 45.3h10.0M160.7 45.3h1.3M171.5 45.3h3.5M175.8 45.3h8.9M185.6 45.3h2.4M188.9 45.3h1.3M194.3 45.3h1.3M197.5 45.3h5.6M223.6 45.3h10.0M274.6 45.3h3.5M61.6 46.4h8.9M94.2 46.4h1.3M160.6 46.4h5.6M177.0 46.4h3.5M181.3 46.4h2.4M193.3 46.4h3.5M197.7 46.4h1.3M199.8 46.4h3.5M222.7 46.4h12.2M273.9 46.4h3.5M56.8 47.6h3.5M61.2 47.6h8.9M90.7 47.6h1.3M94.0 47.6h1.3M158.4 47.6h7.8M178.1 47.6h1.3M193.4 47.6h3.5M200.0 47.6h2.4M221.8 47.6h1.3M224.0 47.6h12.2M274.3 47.6h4.6M284.1 47.6h4.6M56.5 48.7h13.4M90.5 48.7h5.7M158.4 48.7h5.7M192.4 48.7h2.4M223.1 48.7h5.7M233.0 48.7h1.3M254.9 48.7h7.9M266.9 48.7h1.3M274.6 48.7h5.7M283.4 48.7h6.8M57.2 49.9h12.3M89.1 49.9h7.9M158.4 49.9h3.5M162.8 49.9h1.3M192.5 49.9h1.3M204.6 49.9h3.5M223.3 49.9h6.8M231.0 49.9h3.5M254.1 49.9h14.5M275.0 49.9h4.6M280.5 49.9h1.3M282.7 49.9h7.9M58.0 51.0h12.3M88.9 51.0h7.9M157.3 51.0h1.3M204.7 51.0h4.6M223.5 51.0h5.7M231.2 51.0h3.5M252.1 51.0h17.8M277.5 51.0h1.3M279.7 51.0h10.1M58.8 52.2h12.4M88.7 52.2h7.9M205.9 52.2h2.4M224.7 52.2h10.2M250.2 52.2h5.7M262.4 52.2h11.3M278.9 52.2h7.9M60.7 53.3h11.3M86.2 53.3h9.1M226.0 53.3h9.1M250.4 53.3h4.6M263.7 53.3h10.2M279.3 53.3h4.6M60.4 54.5h8.0M69.3 54.5h2.4M84.9 54.5h9.1M226.2 54.5h12.4M248.4 54.5h5.8M266.2 54.5h8.0M280.7 54.5h1.3M61.3 55.6h6.9M69.1 55.6h3.5M83.6 55.6h8.0M226.3 55.6h10.2M238.6 55.6h4.7M246.4 55.6h2.4M249.8 55.6h1.3M253.1 55.6h1.3M267.6 55.6h6.9M61.0 56.8h11.4M91.2 56.8h1.3M93.5 56.8h1.3M227.6 56.8h9.1M239.9 56.8h1.3M242.1 56.8h3.6M265.6 56.8h1.3M267.8 56.8h6.9M63.0 57.9h9.2M92.2 57.9h1.3M231.1 57.9h9.2M264.7 57.9h9.2M66.2 59.0h5.8M233.5 59.0h3.6M239.1 59.0h2.4M267.2 59.0h6.9M67.1 60.2h5.8M233.6 60.2h5.8M267.4 60.2h5.8M68.1 61.3h1.3M70.3 61.3h3.6M232.6 61.3h8.1M263.1 61.3h2.5M267.6 61.3h3.6M272.1 61.3h2.5M72.4 62.5h5.8M232.8 62.5h5.8M263.3 62.5h7.0M273.4 62.5h1.3M23.6 63.6h1.3M74.5 63.6h3.6M93.7 63.6h1.3M96.0 63.6h1.3M232.9 63.6h3.6M237.4 63.6h1.3M262.3 63.6h4.7M22.2 64.8h3.6M75.5 64.8h3.6M84.6 64.8h2.5M94.7 64.8h1.3M233.0 64.8h3.6M237.5 64.8h1.3M262.4 64.8h4.7M273.8 64.8h2.5M23.2 65.9h1.3M75.4 65.9h3.6M84.4 65.9h2.5M230.8 65.9h8.1M261.5 65.9h1.3M263.7 65.9h2.5M272.8 65.9h4.7M74.1 67.1h3.6M80.9 67.1h8.2M230.9 67.1h2.5M234.3 67.1h7.0M261.6 67.1h2.5M273.0 67.1h4.7M74.0 68.2h2.5M79.7 68.2h3.6M85.4 68.2h4.8M231.0 68.2h2.5M236.7 68.2h3.6M260.6 68.2h4.8M273.1 68.2h3.6M79.6 69.4h2.5M86.4 69.4h3.6M201.5 69.4h1.3M232.2 69.4h2.5M259.6 69.4h5.9M273.2 69.4h3.6M81.8 70.5h8.2M149.0 70.5h1.3M152.5 70.5h7.0M161.6 70.5h1.3M163.9 70.5h3.6M196.9 70.5h4.8M232.3 70.5h2.5M259.7 70.5h5.9M273.3 70.5h3.6M277.9 70.5h1.3M85.1 71.7h4.8M149.0 71.7h16.2M166.1 71.7h8.2M192.4 71.7h9.3M259.7 71.7h5.9M274.6 71.7h1.3M276.9 71.7h2.5M85.0 72.8h4.8M91.9 72.8h1.3M150.1 72.8h1.3M157.0 72.8h1.3M168.4 72.8h17.3M187.9 72.8h13.9M261.0 72.8h3.6M275.8 72.8h3.6M86.1 74.0h2.5M94.1 74.0h2.5M178.7 74.0h2.5M182.2 74.0h11.6M194.7 74.0h7.1M261.0 74.0h2.5M275.9 74.0h1.3M87.2 75.1h2.5M95.2 75.1h7.1M103.2 75.1h4.8M110.1 75.1h2.5M182.2 75.1h5.9M191.3 75.1h9.4M99.7 76.2h16.2M193.6 76.2h5.9M239.4 76.2h1.3M102.0 77.4h16.2M193.6 77.4h2.5M238.3 77.4h1.3M106.6 78.5h8.2M116.9 78.5h1.3M111.1 79.7h1.3M113.4 79.7h1.3M194.8 79.7h1.3M194.8 80.8h1.3M196.0 82.0h1.3M196.0 83.1h2.5M89.3 84.3h1.3M124.9 84.3h1.3M196.0 84.3h3.6M90.5 85.4h3.6M123.7 85.4h2.5M195.9 85.4h3.6M90.5 86.6h4.8M123.7 86.6h2.5M195.9 86.6h3.6M92.8 87.7h1.3M123.8 87.7h1.3M195.9 87.7h4.8M92.9 88.9h1.3M123.8 88.9h2.5M193.6 88.9h9.4M91.8 90.0h2.5M122.7 90.0h3.6M193.6 90.0h4.8M199.3 90.0h3.6M271.4 90.0h1.3M278.3 90.0h2.5M91.8 91.1h2.5M121.6 91.1h5.9M192.4 91.1h10.5M277.1 91.1h4.8M121.6 92.3h7.1M194.7 92.3h8.2M278.1 92.3h2.5M295.2 92.3h1.3M96.5 93.4h3.6M121.6 93.4h8.2M193.5 93.4h9.3M288.3 93.4h1.3M296.3 93.4h1.3M95.4 94.6h5.9M121.7 94.6h9.3M175.3 94.6h3.6M191.2 94.6h11.6M287.0 94.6h1.3M295.0 94.6h2.5M94.4 95.7h7.0M121.7 95.7h9.3M175.3 95.7h4.8M186.6 95.7h1.3M191.2 95.7h11.6M296.0 95.7h1.3M95.6 96.9h8.2M120.6 96.9h9.3M175.2 96.9h5.9M184.3 96.9h18.4M287.9 96.9h1.3M292.4 96.9h2.5M295.8 96.9h2.5M96.8 98.0h8.2M118.4 98.0h10.4M174.1 98.0h27.5M203.6 98.0h1.3M207.0 98.0h1.3M294.5 98.0h1.3M326.4 98.0h1.3M99.2 99.2h4.7M120.7 99.2h8.1M176.3 99.2h24.0M203.6 99.2h4.7M295.5 99.2h1.3M325.0 99.2h3.6M101.5 100.3h4.7M124.2 100.3h5.9M177.5 100.3h1.3M179.7 100.3h18.3M203.5 100.3h4.7M295.3 100.3h1.3M325.9 100.3h1.3M101.6 101.5h4.7M125.4 101.5h4.7M183.1 101.5h1.3M185.4 101.5h7.0M193.3 101.5h4.7M204.6 101.5h2.5M100.6 102.6h1.3M102.9 102.6h7.0M127.7 102.6h1.3M188.7 102.6h9.2M205.7 102.6h1.3M100.7 103.8h11.5M188.7 103.8h9.2M301.4 103.8h1.3M100.9 104.9h3.6M108.7 104.9h9.2M118.9 104.9h5.8M188.6 104.9h9.2M301.1 104.9h2.5M99.9 106.1h3.6M110.0 106.1h13.7M188.6 106.1h6.9M298.6 106.1h4.7M100.0 107.2h6.9M110.1 107.2h5.8M116.8 107.2h5.8M193.0 107.2h1.3M298.3 107.2h5.8M100.2 108.3h6.9M110.2 108.3h1.3M119.2 108.3h3.6M298.0 108.3h4.7M100.3 109.5h5.8M299.9 109.5h3.5M100.5 110.6h4.6M299.6 110.6h2.4M100.7 111.8h3.5M299.2 111.8h2.4M100.8 112.9h3.5M297.8 112.9h2.4M99.9 114.1h3.5M298.5 114.1h1.3M100.1 115.2h3.5M99.2 116.4h2.4M102.5 116.4h1.3M99.4 117.5h2.4M99.7 118.7h3.5M312.0 121.0h1.3M284.2 150.8h1.1M280.8 151.9h1.1" stroke="#472d7b"/><path d="M50.2 16.6h2.0M53.9 16.6h1.1M45.2 17.8h2.1M49.9 17.8h2.1M52.6 17.8h8.6M42.1 18.9h1.1M43.9 18.9h1.1M50.5 18.9h1.1M52.4 18.9h3.0M56.1 18.9h1.1M58.0 18.9h6.8M70.2 18.9h1.1M73.0 18.9h2.1M245.7 18.9h4.9M257.0 18.9h1.1M259.8 18.9h1.1M262.6 18.9h1.1M265.4 18.9h2.1M277.6 18.9h1.1M285.1 18.9h2.1M43.7 20.1h10.6M60.7 20.1h3.0M69.3 20.1h5.9M174.5 20.1h2.1M238.9 20.1h1.1M240.8 20.1h1.1M242.7 20.1h1.1M244.6 20.1h2.1M247.5 20.1h1.1M249.4 20.1h2.1M252.2 20.1h1.1M256.0 20.1h15.4M279.7 20.1h1.1M281.6 20.1h1.1M285.4 20.1h4.0M40.6 21.2h6.9M63.6 21.2h12.6M173.6 21.2h1.2M175.5 21.2h4.0M181.3 21.2h2.1M236.8 21.2h8.8M252.1 21.2h10.7M265.5 21.2h5.9M272.2 21.2h1.2M277.0 21.2h7.9M285.6 21.2h3.1M289.4 21.2h4.0M39.5 22.4h1.2M41.4 22.4h1.2M66.5 22.4h10.8M177.6 22.4h7.0M191.1 22.4h1.2M200.7 22.4h3.1M209.4 22.4h2.1M214.2 22.4h1.2M227.8 22.4h4.1M232.6 22.4h1.2M234.5 22.4h6.0M242.2 22.4h3.1M250.9 22.4h1.2M252.9 22.4h3.1M258.7 22.4h1.2M261.6 22.4h2.1M267.4 22.4h2.1M274.1 22.4h7.0M281.8 22.4h8.9M291.5 22.4h4.1M38.4 23.5h3.1M68.6 23.5h1.2M73.5 23.5h3.1M171.8 23.5h1.2M177.7 23.5h6.0M185.5 23.5h4.1M190.3 23.5h4.1M199.1 23.5h1.2M201.0 23.5h8.0M209.8 23.5h9.0M229.3 23.5h7.0M268.2 23.5h2.1M274.1 23.5h13.8M288.7 23.5h3.1M39.3 24.7h1.2M73.7 24.7h5.1M172.9 24.7h4.1M177.8 24.7h2.2M180.7 24.7h3.1M185.6 24.7h13.0M200.3 24.7h6.1M207.2 24.7h8.1M218.0 24.7h2.2M221.0 24.7h13.0M234.7 24.7h1.2M269.1 24.7h1.2M274.0 24.7h14.9M290.7 24.7h1.2M36.4 25.8h1.2M39.3 25.8h3.2M73.0 25.8h5.1M168.0 25.8h5.1M173.9 25.8h6.1M180.8 25.8h3.2M185.8 25.8h1.2M187.8 25.8h7.1M195.7 25.8h8.1M208.5 25.8h1.2M211.5 25.8h3.2M218.4 25.8h6.1M226.4 25.8h1.2M228.3 25.8h1.2M230.3 25.8h4.2M271.9 25.8h1.2M274.8 25.8h10.1M285.7 25.8h2.2M38.4 26.9h4.2M72.3 26.9h4.2M168.0 26.9h12.2M181.0 26.9h4.2M187.9 26.9h7.2M195.9 26.9h8.2M205.9 26.9h1.2M211.9 26.9h1.2M218.8 26.9h6.2M229.8 26.9h1.2M231.8 26.9h3.2M241.8 26.9h1.2M273.7 26.9h15.2M36.5 28.1h6.2M75.6 28.1h2.2M171.0 28.1h10.2M182.1 28.1h4.2M187.1 28.1h1.2M189.1 28.1h9.2M199.1 28.1h1.2M201.1 28.1h3.2M206.2 28.1h1.2M208.2 28.1h2.2M212.2 28.1h2.2M220.2 28.1h6.2M230.3 28.1h1.2M233.3 28.1h1.2M274.4 28.1h8.2M283.5 28.1h3.2M294.5 28.1h1.2M38.6 29.2h2.2M74.0 29.2h4.2M171.1 29.2h3.2M176.1 29.2h4.2M182.2 29.2h2.2M190.3 29.2h12.3M203.4 29.2h7.3M212.5 29.2h2.2M220.6 29.2h9.3M231.7 29.2h1.2M233.7 29.2h6.3M266.1 29.2h3.2M273.2 29.2h10.3M295.4 29.2h2.2M37.8 30.4h1.2M74.4 30.4h2.2M172.1 30.4h1.2M178.2 30.4h1.2M181.3 30.4h1.2M188.4 30.4h10.4M200.6 30.4h1.2M203.7 30.4h2.2M206.7 30.4h8.3M215.9 30.4h7.3M224.0 30.4h5.3M231.1 30.4h14.4M273.9 30.4h4.3M279.0 30.4h1.2M295.2 30.4h1.2M297.3 30.4h1.2M72.8 31.5h2.2M188.6 31.5h14.5M208.0 31.5h13.5M228.5 31.5h4.3M233.6 31.5h2.2M236.7 31.5h1.2M238.7 31.5h5.3M270.5 31.5h1.2M274.6 31.5h3.3M296.1 31.5h1.2M70.2 32.7h2.3M189.7 32.7h2.3M192.8 32.7h5.4M200.0 32.7h2.3M210.3 32.7h1.2M213.4 32.7h3.3M229.9 32.7h1.2M233.0 32.7h3.3M237.1 32.7h5.4M243.3 32.7h2.3M270.1 32.7h2.3M273.2 32.7h4.3M69.7 33.8h1.2M194.0 33.8h1.2M197.1 33.8h1.2M214.7 33.8h1.2M238.6 33.8h6.4M252.0 33.8h2.3M257.2 33.8h1.2M260.3 33.8h1.2M270.7 33.8h2.3M274.8 33.8h3.3M67.1 35.0h3.3M171.3 35.0h1.2M174.4 35.0h8.5M183.8 35.0h1.2M194.2 35.0h2.3M235.8 35.0h9.6M254.6 35.0h8.5M268.1 35.0h1.2M270.2 35.0h3.3M274.4 35.0h1.2M276.5 35.0h2.3M296.3 35.0h1.2M66.6 36.1h3.3M169.2 36.1h7.5M178.6 36.1h4.4M183.9 36.1h1.2M195.4 36.1h1.2M236.2 36.1h5.4M242.5 36.1h2.3M247.7 36.1h1.2M253.0 36.1h1.2M255.1 36.1h25.3M69.2 37.3h2.3M108.2 37.3h1.3M168.2 37.3h2.3M171.3 37.3h1.3M179.7 37.3h5.5M235.5 37.3h1.3M237.6 37.3h4.4M243.9 37.3h1.3M248.2 37.3h1.3M251.3 37.3h8.6M262.9 37.3h1.3M266.0 37.3h7.6M275.5 37.3h7.6M69.8 38.4h2.3M92.0 38.4h1.3M102.6 38.4h6.5M167.1 38.4h2.3M183.0 38.4h3.4M235.9 38.4h3.4M241.2 38.4h13.9M267.6 38.4h3.4M273.9 38.4h1.3M277.1 38.4h6.5M70.4 39.6h2.3M100.2 39.6h8.7M166.1 39.6h1.3M183.1 39.6h4.5M234.1 39.6h4.5M239.4 39.6h15.1M268.1 39.6h3.4M272.3 39.6h2.3M279.8 39.6h4.5M70.0 40.7h3.4M96.7 40.7h8.7M162.9 40.7h1.3M165.0 40.7h1.3M184.2 40.7h5.5M231.2 40.7h1.3M233.3 40.7h1.3M235.4 40.7h1.3M238.7 40.7h2.3M241.9 40.7h1.3M249.3 40.7h3.4M269.6 40.7h5.5M280.3 40.7h3.4M70.7 41.8h1.3M95.3 41.8h9.8M159.6 41.8h6.6M186.4 41.8h4.5M226.1 41.8h12.0M239.0 41.8h1.3M250.8 41.8h1.3M270.1 41.8h4.5M279.7 41.8h3.4M70.3 43.0h1.3M90.7 43.0h1.3M96.1 43.0h11.0M107.9 43.0h2.4M158.5 43.0h8.8M184.4 43.0h1.3M193.0 43.0h2.4M198.4 43.0h4.5M223.1 43.0h4.5M231.7 43.0h8.8M269.4 43.0h6.7M280.2 43.0h2.4M69.9 44.1h1.3M90.4 44.1h8.8M100.2 44.1h4.5M156.4 44.1h11.0M183.4 44.1h1.3M187.7 44.1h7.8M196.3 44.1h3.4M201.7 44.1h3.4M220.1 44.1h4.5M234.2 44.1h2.4M239.6 44.1h2.4M267.7 44.1h7.8M69.5 45.3h2.4M91.2 45.3h13.2M156.3 45.3h4.5M161.7 45.3h6.7M184.5 45.3h1.3M187.8 45.3h1.3M190.0 45.3h4.5M195.4 45.3h2.4M203.0 45.3h2.4M220.3 45.3h3.5M233.3 45.3h7.8M268.1 45.3h1.3M271.3 45.3h3.5M285.4 45.3h3.5M70.3 46.4h1.3M89.9 46.4h4.6M95.3 46.4h6.7M156.3 46.4h4.6M171.5 46.4h3.5M183.5 46.4h2.4M186.8 46.4h6.7M196.6 46.4h1.3M198.8 46.4h1.3M203.1 46.4h2.4M221.6 46.4h1.3M234.7 46.4h6.7M254.3 46.4h1.3M267.3 46.4h6.7M285.9 46.4h4.6M69.9 47.6h2.4M89.6 47.6h1.3M91.8 47.6h2.4M95.1 47.6h5.7M156.3 47.6h2.4M169.4 47.6h3.5M175.9 47.6h2.4M182.5 47.6h11.1M196.7 47.6h3.5M202.1 47.6h4.6M220.7 47.6h1.3M222.9 47.6h1.3M236.0 47.6h1.3M253.5 47.6h11.1M265.5 47.6h6.8M273.2 47.6h1.3M288.5 47.6h1.3M69.6 48.7h1.3M88.3 48.7h2.4M95.9 48.7h3.5M157.3 48.7h1.3M163.9 48.7h4.6M177.1 48.7h1.3M182.5 48.7h4.6M188.0 48.7h4.6M194.6 48.7h3.5M199.0 48.7h10.1M220.9 48.7h2.4M234.1 48.7h2.4M249.4 48.7h1.3M252.7 48.7h2.4M262.6 48.7h4.6M268.0 48.7h4.6M69.3 49.9h1.3M88.0 49.9h1.3M96.8 49.9h3.5M161.7 49.9h1.3M163.9 49.9h5.7M184.8 49.9h1.3M189.2 49.9h3.5M193.6 49.9h11.2M207.9 49.9h4.6M221.1 49.9h2.4M234.3 49.9h1.3M249.7 49.9h4.6M268.4 49.9h3.5M85.6 51.0h3.5M96.6 51.0h2.4M158.4 51.0h4.6M194.8 51.0h4.6M201.4 51.0h3.5M209.1 51.0h3.5M222.4 51.0h1.3M234.5 51.0h1.3M249.9 51.0h2.4M269.8 51.0h2.4M276.4 51.0h1.3M71.0 52.2h1.3M84.2 52.2h4.6M156.1 52.2h5.7M201.5 52.2h4.6M208.1 52.2h4.6M223.6 52.2h1.3M234.7 52.2h1.3M248.0 52.2h2.4M71.8 53.3h1.3M81.8 53.3h4.6M155.0 53.3h4.6M197.2 53.3h1.3M202.7 53.3h10.2M224.9 53.3h1.3M234.9 53.3h3.5M248.2 53.3h2.4M71.6 54.5h2.4M81.6 54.5h3.5M156.1 54.5h3.5M201.7 54.5h2.4M205.0 54.5h8.0M225.1 54.5h1.3M238.4 54.5h4.6M246.2 54.5h2.4M72.4 55.6h1.3M82.5 55.6h1.3M91.4 55.6h2.4M205.1 55.6h9.1M224.1 55.6h2.4M243.1 55.6h3.5M72.2 56.8h1.3M83.4 56.8h2.4M90.1 56.8h1.3M92.3 56.8h1.3M205.2 56.8h1.3M207.5 56.8h1.3M210.8 56.8h3.6M224.2 56.8h3.6M61.9 57.9h1.3M72.0 57.9h2.4M89.9 57.9h2.4M93.3 57.9h1.3M212.1 57.9h4.7M224.4 57.9h6.9M62.8 59.0h3.6M71.8 59.0h2.4M90.9 59.0h3.6M213.3 59.0h3.6M227.9 59.0h5.8M63.7 60.2h3.6M72.7 60.2h2.5M91.9 60.2h1.3M216.8 60.2h2.5M229.1 60.2h4.7M273.0 60.2h2.5M64.7 61.3h1.3M73.7 61.3h2.5M92.9 61.3h2.5M230.4 61.3h2.5M274.3 61.3h1.3M83.7 62.5h2.5M91.6 62.5h5.8M229.4 62.5h3.6M82.4 63.6h4.7M92.6 63.6h1.3M94.9 63.6h1.3M97.1 63.6h1.3M99.4 63.6h3.6M204.6 63.6h1.3M206.9 63.6h1.3M227.2 63.6h5.9M78.9 64.8h3.6M83.4 64.8h1.3M95.9 64.8h1.3M98.1 64.8h7.0M204.7 64.8h1.3M229.6 64.8h3.6M78.8 65.9h5.9M93.5 65.9h3.6M103.7 65.9h2.5M201.3 65.9h2.5M204.7 65.9h1.3M207.0 65.9h1.3M229.7 65.9h1.3M77.5 67.1h3.6M94.5 67.1h1.3M202.5 67.1h2.5M205.9 67.1h1.3M233.2 67.1h1.3M76.2 68.2h3.6M190.0 68.2h1.3M200.3 68.2h3.6M206.0 68.2h2.5M233.3 68.2h3.6M149.1 69.4h1.3M151.3 69.4h9.3M163.9 69.4h4.8M170.7 69.4h1.3M173.0 69.4h1.3M188.9 69.4h1.3M192.3 69.4h2.5M196.9 69.4h4.8M202.6 69.4h1.3M234.5 69.4h4.8M150.2 70.5h2.5M159.3 70.5h2.5M162.7 70.5h1.3M167.3 70.5h9.3M182.1 70.5h2.5M192.4 70.5h4.8M201.5 70.5h1.3M234.6 70.5h4.8M174.1 71.7h11.6M187.8 71.7h4.8M201.5 71.7h1.3M232.3 71.7h7.0M102.2 72.8h5.9M185.6 72.8h2.5M201.6 72.8h1.3M233.6 72.8h5.9M96.4 74.0h12.8M201.6 74.0h1.3M233.6 74.0h5.9M102.1 75.1h1.3M107.8 75.1h2.5M200.5 75.1h2.5M234.8 75.1h5.9M199.3 76.2h4.8M237.1 76.2h2.5M195.9 77.4h1.3M198.2 77.4h1.3M202.8 77.4h1.3M194.8 78.5h2.5M195.9 79.7h1.3M196.0 80.8h1.3M197.1 82.0h2.5M198.2 83.1h3.6M126.0 84.3h1.3M199.4 84.3h2.5M126.0 85.4h1.3M199.4 85.4h3.6M89.4 86.6h1.3M126.0 86.6h1.3M199.4 86.6h3.6M89.4 87.7h3.6M124.9 87.7h3.6M200.5 87.7h1.3M90.6 88.9h2.5M126.1 88.9h2.5M126.1 90.0h2.5M127.3 91.1h2.5M128.4 92.3h2.5M286.1 92.3h1.3M129.6 93.4h2.5M283.7 93.4h4.8M294.0 93.4h2.5M280.2 94.6h1.3M282.5 94.6h4.8M288.2 94.6h2.5M292.7 94.6h2.5M278.9 95.7h11.6M292.6 95.7h3.6M204.8 96.9h3.6M282.2 96.9h5.9M289.0 96.9h2.5M294.7 96.9h1.3M204.8 98.0h2.5M208.2 98.0h3.6M280.9 98.0h2.5M285.5 98.0h9.3M295.7 98.0h3.6M1.6 99.2h1.3M175.2 99.2h1.3M208.1 99.2h2.5M285.3 99.2h10.4M296.6 99.2h2.5M100.4 100.3h1.3M175.2 100.3h2.5M178.6 100.3h1.3M208.1 100.3h2.5M287.4 100.3h1.3M290.8 100.3h4.7M296.4 100.3h3.6M100.5 101.5h1.3M176.3 101.5h7.0M184.2 101.5h1.3M203.5 101.5h1.3M206.9 101.5h3.6M290.6 101.5h1.3M292.8 101.5h7.0M101.8 102.6h1.3M176.3 102.6h12.6M203.4 102.6h2.5M206.8 102.6h3.6M293.7 102.6h8.1M180.8 103.8h8.1M205.6 103.8h1.3M207.8 103.8h1.3M293.5 103.8h1.3M295.8 103.8h5.8M104.2 104.9h4.7M179.6 104.9h9.2M294.4 104.9h7.0M103.2 106.1h6.9M184.1 106.1h4.7M195.3 106.1h1.3M294.1 106.1h4.7M106.7 107.2h3.6M115.7 107.2h1.3M185.2 107.2h8.0M194.1 107.2h1.3M295.0 107.2h3.6M106.9 108.3h3.6M111.3 108.3h8.0M187.4 108.3h8.0M292.4 108.3h1.3M294.7 108.3h3.6M302.5 108.3h1.3M105.9 109.5h6.9M115.9 109.5h5.8M191.8 109.5h1.3M295.5 109.5h4.7M104.9 110.6h1.3M107.2 110.6h5.8M117.2 110.6h4.6M295.1 110.6h4.6M104.0 111.8h2.4M108.4 111.8h4.6M297.0 111.8h2.4M104.2 112.9h1.3M294.4 112.9h1.3M296.6 112.9h1.3M103.2 114.1h2.4M293.0 114.1h5.7M103.4 115.2h1.3M292.6 115.2h5.7M319.0 115.2h1.3M101.4 116.4h1.3M103.6 116.4h1.3M293.3 116.4h1.3M295.4 116.4h2.4M317.4 116.4h4.6M7.7 117.5h1.3M101.6 117.5h3.5M316.9 117.5h5.7M102.9 118.7h2.4M315.2 118.7h3.5M319.6 118.7h1.3M99.9 119.8h4.5M313.6 119.8h4.5M100.2 121.0h1.3M313.1 121.0h3.4M100.4 122.1h1.3M309.2 122.1h5.6M307.6 123.3h5.6M308.0 124.4h1.3M310.2 124.4h1.3M307.4 125.5h3.4M287.1 148.5h2.0M281.2 149.6h2.0M283.9 149.6h5.6M278.8 150.8h1.1M280.6 150.8h3.8M285.1 150.8h2.0M279.0 151.9h2.0M281.7 151.9h2.0M278.3 153.1h1.9" stroke="#404688"/><path d="M47.5 16.6h3.0M52.1 16.6h2.0M253.2 16.6h2.0M264.2 16.6h1.1M277.0 16.6h2.0M44.3 17.8h1.1M47.1 17.8h3.0M51.7 17.8h1.1M64.7 17.8h1.1M66.6 17.8h3.0M70.3 17.8h1.1M72.1 17.8h4.8M246.7 17.8h1.1M254.1 17.8h3.0M257.9 17.8h1.1M259.7 17.8h1.1M261.6 17.8h2.1M264.4 17.8h4.8M278.3 17.8h1.1M283.9 17.8h4.8M289.4 17.8h1.1M40.2 18.9h2.1M43.0 18.9h1.1M44.9 18.9h5.8M51.4 18.9h1.1M64.6 18.9h1.1M66.5 18.9h3.0M71.2 18.9h2.1M74.9 18.9h1.1M76.8 18.9h3.0M176.3 18.9h2.1M179.1 18.9h1.1M237.3 18.9h2.1M242.9 18.9h3.0M250.4 18.9h2.1M254.2 18.9h3.0M257.9 18.9h2.1M260.7 18.9h2.1M263.5 18.9h2.1M267.3 18.9h5.8M276.7 18.9h1.1M278.6 18.9h2.1M281.4 18.9h2.1M284.2 18.9h1.1M287.0 18.9h5.8M39.9 20.1h4.0M63.6 20.1h5.9M75.0 20.1h4.0M176.4 20.1h6.8M187.7 20.1h1.1M194.4 20.1h1.1M200.1 20.1h1.1M237.0 20.1h2.1M239.9 20.1h1.1M241.8 20.1h1.1M243.7 20.1h1.1M251.3 20.1h1.1M253.2 20.1h3.0M271.2 20.1h8.7M280.6 20.1h1.1M282.5 20.1h3.0M289.2 20.1h4.0M38.7 21.2h2.1M76.0 21.2h4.0M179.4 21.2h2.1M183.2 21.2h8.8M193.7 21.2h3.1M199.4 21.2h5.0M209.0 21.2h4.0M230.1 21.2h1.2M234.9 21.2h2.1M273.1 21.2h4.0M284.6 21.2h1.2M288.4 21.2h1.2M293.2 21.2h4.0M37.5 22.4h2.1M40.4 22.4h1.2M77.1 22.4h3.1M184.3 22.4h7.0M192.0 22.4h2.1M194.9 22.4h4.1M199.8 22.4h1.2M203.6 22.4h6.0M211.3 22.4h3.1M215.2 22.4h4.1M231.6 22.4h1.2M233.6 22.4h1.2M280.9 22.4h1.2M290.5 22.4h1.2M295.4 22.4h1.2M36.4 23.5h2.1M76.4 23.5h3.1M183.5 23.5h2.1M189.3 23.5h1.2M194.2 23.5h5.1M200.1 23.5h1.2M218.6 23.5h10.9M287.7 23.5h1.2M291.6 23.5h5.1M35.4 24.7h4.1M78.6 24.7h2.2M183.7 24.7h2.2M198.4 24.7h2.2M220.0 24.7h1.2M288.7 24.7h2.2M291.7 24.7h5.1M298.5 24.7h1.2M34.4 25.8h2.2M37.3 25.8h2.2M77.9 25.8h2.2M183.8 25.8h2.2M186.8 25.8h1.2M284.7 25.8h1.2M287.7 25.8h9.1M34.4 26.9h4.2M76.3 26.9h4.2M184.9 26.9h3.2M288.6 26.9h3.2M292.6 26.9h5.2M32.5 28.1h4.2M77.6 28.1h3.2M168.0 28.1h3.2M186.1 28.1h1.2M188.1 28.1h1.2M198.1 28.1h1.2M200.1 28.1h1.2M282.5 28.1h1.2M286.5 28.1h4.2M291.5 28.1h3.2M295.5 28.1h3.2M34.6 29.2h4.2M78.1 29.2h3.2M169.0 29.2h2.2M174.1 29.2h2.2M184.2 29.2h6.3M202.4 29.2h1.2M283.3 29.2h2.2M287.3 29.2h1.2M291.4 29.2h4.2M32.7 30.4h5.3M76.5 30.4h3.3M170.1 30.4h2.2M176.2 30.4h2.2M182.3 30.4h6.3M198.6 30.4h2.2M201.6 30.4h2.2M205.7 30.4h1.2M223.0 30.4h1.2M277.9 30.4h1.2M291.2 30.4h1.2M294.2 30.4h1.2M296.3 30.4h1.2M32.9 31.5h1.2M74.9 31.5h2.2M171.1 31.5h3.3M177.3 31.5h6.3M184.5 31.5h3.3M202.9 31.5h5.3M221.3 31.5h7.4M232.6 31.5h1.2M235.7 31.5h1.2M237.7 31.5h1.2M277.6 31.5h1.2M295.0 31.5h1.2M297.1 31.5h2.2M32.1 32.7h1.2M72.3 32.7h2.3M97.0 32.7h1.2M99.1 32.7h2.3M170.2 32.7h4.3M180.5 32.7h1.2M184.6 32.7h5.4M191.8 32.7h1.2M198.0 32.7h2.3M202.1 32.7h5.4M208.3 32.7h2.3M211.4 32.7h2.3M216.5 32.7h6.4M225.8 32.7h1.2M228.9 32.7h1.2M230.9 32.7h2.3M236.1 32.7h1.2M242.3 32.7h1.2M277.3 32.7h5.4M294.8 32.7h4.3M70.7 33.8h1.2M96.6 33.8h1.2M99.7 33.8h1.2M101.8 33.8h1.2M170.2 33.8h6.4M177.4 33.8h8.5M186.8 33.8h7.5M195.0 33.8h2.3M198.2 33.8h8.5M207.5 33.8h7.5M215.8 33.8h2.3M229.2 33.8h9.5M277.9 33.8h3.3M282.1 33.8h2.3M295.5 33.8h3.3M70.2 35.0h2.3M93.1 35.0h3.3M99.4 35.0h4.4M169.2 35.0h2.3M172.3 35.0h2.3M182.7 35.0h1.2M185.8 35.0h8.5M196.3 35.0h2.3M199.4 35.0h4.4M209.8 35.0h2.3M214.0 35.0h2.3M229.6 35.0h6.5M278.5 35.0h6.5M295.2 35.0h1.2M297.3 35.0h1.2M69.7 36.1h2.3M87.5 36.1h1.2M91.7 36.1h5.4M99.0 36.1h4.4M106.4 36.1h1.2M108.4 36.1h2.3M168.1 36.1h1.2M182.8 36.1h1.2M184.9 36.1h10.7M196.4 36.1h1.2M198.5 36.1h2.3M231.0 36.1h5.4M280.2 36.1h4.4M295.9 36.1h1.2M71.3 37.3h1.3M90.3 37.3h6.5M98.7 37.3h9.7M109.2 37.3h2.3M166.1 37.3h2.3M185.0 37.3h9.7M231.3 37.3h4.4M236.6 37.3h1.3M259.7 37.3h3.4M263.9 37.3h2.3M282.9 37.3h4.4M71.9 38.4h1.3M91.0 38.4h1.3M93.1 38.4h5.5M100.5 38.4h2.3M108.9 38.4h2.3M163.9 38.4h3.4M186.2 38.4h6.5M193.6 38.4h1.3M232.7 38.4h3.4M239.0 38.4h2.3M254.9 38.4h9.7M265.5 38.4h2.3M283.5 38.4h1.3M72.6 39.6h1.3M88.5 39.6h4.5M93.8 39.6h6.6M108.7 39.6h4.5M160.7 39.6h2.3M163.9 39.6h2.3M187.3 39.6h5.5M230.9 39.6h1.3M233.0 39.6h1.3M238.3 39.6h1.3M254.3 39.6h3.4M258.5 39.6h1.3M285.1 39.6h2.3M73.2 40.7h1.3M89.2 40.7h7.7M105.2 40.7h6.6M163.9 40.7h1.3M189.6 40.7h4.5M220.5 40.7h1.3M226.9 40.7h4.5M232.2 40.7h1.3M234.4 40.7h1.3M236.5 40.7h2.3M240.8 40.7h1.3M242.9 40.7h6.6M252.5 40.7h2.3M267.5 40.7h2.3M285.6 40.7h1.3M71.7 41.8h2.3M91.0 41.8h4.5M105.0 41.8h7.7M157.5 41.8h2.3M192.9 41.8h1.3M198.2 41.8h4.5M221.8 41.8h4.5M237.9 41.8h1.3M240.0 41.8h4.5M246.5 41.8h4.5M251.8 41.8h2.3M266.8 41.8h3.4M285.1 41.8h4.5M71.4 43.0h2.4M89.6 43.0h1.3M91.8 43.0h4.5M156.4 43.0h2.4M202.7 43.0h2.4M221.0 43.0h2.4M240.4 43.0h3.4M246.8 43.0h1.3M250.0 43.0h3.4M266.2 43.0h3.4M284.5 43.0h6.7M71.0 44.1h3.4M87.2 44.1h3.4M104.5 44.1h1.3M219.0 44.1h1.3M241.7 44.1h1.3M253.6 44.1h2.4M266.6 44.1h1.3M285.0 44.1h5.6M71.7 45.3h1.3M73.9 45.3h1.3M86.9 45.3h4.5M219.2 45.3h1.3M240.9 45.3h2.4M254.0 45.3h3.5M264.8 45.3h3.5M269.1 45.3h2.4M71.4 46.4h3.5M87.7 46.4h2.4M205.3 46.4h1.3M217.3 46.4h4.6M241.2 46.4h3.5M251.0 46.4h1.3M253.2 46.4h1.3M255.4 46.4h4.6M260.8 46.4h3.5M265.2 46.4h2.4M72.1 47.6h1.3M83.1 47.6h3.5M87.4 47.6h2.4M172.6 47.6h2.4M206.5 47.6h1.3M214.2 47.6h1.3M219.6 47.6h1.3M237.1 47.6h6.8M246.9 47.6h1.3M249.1 47.6h4.6M264.4 47.6h1.3M70.7 48.7h1.3M81.7 48.7h3.5M87.2 48.7h1.3M168.3 48.7h4.6M174.9 48.7h1.3M197.9 48.7h1.3M208.8 48.7h2.4M214.3 48.7h1.3M219.8 48.7h1.3M236.3 48.7h1.3M238.4 48.7h2.4M248.3 48.7h1.3M250.5 48.7h2.4M70.4 49.9h2.4M81.4 49.9h6.8M169.4 49.9h2.4M183.7 49.9h1.3M212.3 49.9h4.6M220.0 49.9h1.3M235.4 49.9h2.4M245.3 49.9h4.6M70.1 51.0h2.4M81.2 51.0h4.6M162.8 51.0h7.9M173.8 51.0h2.4M199.2 51.0h2.4M212.4 51.0h3.5M221.3 51.0h1.3M235.6 51.0h1.3M245.5 51.0h1.3M247.7 51.0h2.4M72.1 52.2h1.3M78.7 52.2h5.7M161.7 52.2h1.3M170.5 52.2h1.3M175.0 52.2h1.3M182.7 52.2h3.5M194.9 52.2h6.8M212.6 52.2h1.3M222.5 52.2h1.3M235.8 52.2h1.3M72.9 53.3h1.3M78.5 53.3h3.5M159.5 53.3h2.4M193.8 53.3h1.3M198.3 53.3h4.6M212.7 53.3h1.3M223.8 53.3h1.3M238.2 53.3h2.4M246.0 53.3h2.4M73.8 54.5h1.3M78.2 54.5h3.5M155.0 54.5h1.3M159.4 54.5h2.4M168.3 54.5h1.3M196.1 54.5h5.8M203.9 54.5h1.3M212.8 54.5h1.3M222.8 54.5h2.4M242.9 54.5h3.5M73.6 55.6h1.3M80.2 55.6h2.4M153.8 55.6h2.4M157.2 55.6h2.4M168.3 55.6h1.3M194.0 55.6h11.4M214.1 55.6h2.4M223.0 55.6h1.3M73.3 56.8h1.3M156.1 56.8h1.3M158.3 56.8h1.3M194.1 56.8h1.3M197.4 56.8h4.7M203.0 56.8h2.4M206.4 56.8h1.3M208.6 56.8h2.4M214.2 56.8h2.4M223.1 56.8h1.3M198.6 57.9h1.3M203.1 57.9h5.8M209.8 57.9h2.4M216.5 57.9h1.3M74.1 59.0h1.3M204.3 59.0h8.1M216.6 59.0h2.4M223.4 59.0h4.7M75.0 60.2h1.3M203.3 60.2h3.6M207.8 60.2h4.7M213.4 60.2h3.6M219.0 60.2h1.3M222.4 60.2h7.0M75.9 61.3h2.5M198.8 61.3h2.5M203.3 61.3h16.0M225.9 61.3h4.7M198.9 62.5h19.4M226.0 62.5h3.6M198.9 63.6h5.9M205.7 63.6h1.3M208.0 63.6h3.6M213.6 63.6h3.6M82.3 64.8h1.3M199.0 64.8h5.9M205.8 64.8h5.9M98.0 65.9h5.9M197.9 65.9h3.6M203.6 65.9h1.3M205.9 65.9h1.3M208.1 65.9h3.6M99.1 67.1h1.3M103.6 67.1h1.3M149.1 67.1h2.5M154.8 67.1h2.5M160.5 67.1h1.3M186.6 67.1h3.6M196.8 67.1h4.7M204.8 67.1h1.3M207.0 67.1h5.9M149.1 68.2h15.0M168.4 68.2h5.9M185.5 68.2h1.3M187.8 68.2h2.5M191.2 68.2h2.5M194.6 68.2h5.9M203.7 68.2h2.5M208.2 68.2h2.5M147.9 69.4h1.3M150.2 69.4h1.3M160.4 69.4h3.6M168.4 69.4h2.5M171.8 69.4h1.3M174.1 69.4h2.5M185.5 69.4h3.6M190.1 69.4h2.5M194.6 69.4h2.5M203.7 69.4h4.8M176.4 70.5h3.6M181.0 70.5h1.3M184.4 70.5h8.2M202.6 70.5h1.3M204.9 70.5h1.3M102.2 71.7h1.3M106.8 71.7h1.3M185.5 71.7h2.5M202.7 71.7h1.3M95.3 72.8h3.6M99.9 72.8h2.5M107.9 72.8h1.3M202.7 72.8h1.3M109.0 74.0h1.3M202.8 75.1h1.3M203.9 76.2h1.3M197.1 77.4h1.3M199.4 77.4h3.6M197.1 78.5h7.1M198.2 79.7h5.9M197.1 80.8h5.9M199.4 82.0h3.6M201.7 83.1h1.3M204.0 83.1h1.3M127.2 84.3h1.3M201.7 84.3h2.5M127.2 85.4h1.3M127.2 86.6h1.3M128.3 87.7h1.3M128.4 88.9h1.3M128.4 90.0h2.5M129.6 91.1h1.3M130.7 92.3h2.5M209.5 93.4h1.3M209.5 94.6h1.3M207.1 95.7h4.8M208.2 96.9h3.6M277.6 96.9h4.8M277.5 98.0h3.6M283.2 98.0h2.5M273.9 99.2h1.3M277.3 99.2h8.1M274.9 100.3h1.3M277.2 100.3h1.3M282.8 100.3h4.7M288.5 100.3h2.5M270.2 101.5h2.5M273.6 101.5h1.3M277.0 101.5h2.5M282.7 101.5h5.9M289.4 101.5h1.3M291.7 101.5h1.3M299.6 101.5h1.3M312.1 101.5h1.3M270.0 102.6h2.5M276.8 102.6h2.5M282.5 102.6h11.5M177.4 103.8h3.6M203.3 103.8h2.5M206.7 103.8h1.3M267.6 103.8h1.3M269.8 103.8h1.3M277.7 103.8h1.3M283.4 103.8h1.3M285.6 103.8h5.8M292.4 103.8h1.3M294.6 103.8h1.3M177.4 104.9h2.5M204.4 104.9h2.5M207.8 104.9h1.3M276.4 104.9h2.5M285.4 104.9h1.3M287.6 104.9h7.0M178.5 106.1h5.8M204.3 106.1h1.3M272.8 106.1h2.4M285.1 106.1h1.3M288.5 106.1h2.4M293.0 106.1h1.3M182.9 107.2h2.4M273.7 107.2h2.4M291.6 107.2h3.6M185.1 108.3h2.4M271.2 108.3h1.3M291.3 108.3h1.3M293.5 108.3h1.3M112.6 109.5h3.5M179.5 109.5h1.3M185.1 109.5h6.9M192.9 109.5h1.3M291.0 109.5h4.7M106.0 110.6h1.3M112.7 110.6h4.6M188.4 110.6h4.6M290.7 110.6h4.6M106.2 111.8h2.4M112.9 111.8h1.3M115.1 111.8h5.7M187.2 111.8h5.7M291.5 111.8h5.7M105.3 112.9h13.5M189.3 112.9h2.4M285.6 112.9h1.3M290.0 112.9h1.3M292.2 112.9h2.4M295.5 112.9h1.3M105.4 114.1h13.4M188.2 114.1h1.3M290.7 114.1h2.4M104.5 115.2h3.5M110.0 115.2h1.3M113.3 115.2h4.6M291.5 115.2h1.3M104.7 116.4h3.5M113.5 116.4h2.4M291.1 116.4h2.4M294.4 116.4h1.3M104.9 117.5h1.3M112.6 117.5h3.5M293.9 117.5h2.4M105.1 118.7h1.3M318.5 118.7h1.3M104.3 119.8h1.3M318.0 119.8h1.3M101.2 121.0h4.5M316.3 121.0h1.3M101.5 122.1h1.3M305.9 124.4h2.3M309.1 124.4h1.3M311.2 124.4h1.3M306.3 125.5h1.3M285.3 148.5h2.0M289.0 148.5h2.0M279.3 149.6h2.0M283.0 149.6h1.1M275.2 150.8h3.8M279.7 150.8h1.1M274.6 151.9h4.6M277.4 153.1h1.1M280.0 153.1h1.1M283.5 153.1h1.1" stroke="#365d8d"/><path d="M104.2 7.5h2.6M109.0 7.5h1.0M110.6 7.5h1.8M102.1 8.6h8.5M115.3 8.6h1.0M100.1 9.7h9.5M100.7 10.9h8.8M110.1 10.9h1.1M100.5 12.0h7.2M108.4 12.0h1.9M265.2 12.0h1.1M84.6 13.2h2.0M92.5 13.2h1.1M104.0 13.2h2.9M107.5 13.2h1.1M78.1 14.3h2.0M82.6 14.3h2.9M91.5 14.3h1.1M98.7 14.3h1.1M104.1 14.3h2.0M256.4 14.3h1.1M77.0 15.5h2.9M84.2 15.5h1.1M96.9 15.5h2.0M251.2 15.5h2.0M253.9 15.5h5.6M75.9 16.6h3.0M83.3 16.6h2.0M98.0 16.6h1.1M244.0 16.6h1.1M245.8 16.6h2.0M251.3 16.6h2.0M255.0 16.6h4.8M260.5 16.6h3.9M265.1 16.6h2.0M276.1 16.6h1.1M278.9 16.6h2.0M65.6 17.8h1.1M69.4 17.8h1.1M71.2 17.8h1.1M76.8 17.8h1.1M78.6 17.8h3.0M82.4 17.8h2.1M96.3 17.8h1.1M178.0 17.8h2.1M183.6 17.8h3.0M243.9 17.8h3.0M247.6 17.8h3.0M252.3 17.8h2.1M256.9 17.8h1.1M258.8 17.8h1.1M260.6 17.8h1.1M263.4 17.8h1.1M269.0 17.8h2.1M276.4 17.8h2.1M279.2 17.8h4.8M288.5 17.8h1.1M290.4 17.8h1.1M292.2 17.8h3.0M295.9 17.8h1.1M65.5 18.9h1.1M69.3 18.9h1.1M75.8 18.9h1.1M79.6 18.9h2.1M178.1 18.9h1.1M180.0 18.9h2.1M183.8 18.9h3.0M187.5 18.9h1.1M192.2 18.9h3.0M197.8 18.9h2.1M236.3 18.9h1.1M239.1 18.9h4.0M252.3 18.9h2.1M272.9 18.9h4.0M280.4 18.9h1.1M283.2 18.9h1.1M292.6 18.9h1.1M294.5 18.9h1.1M38.9 20.1h1.1M78.7 20.1h3.0M183.0 20.1h4.9M188.7 20.1h3.0M192.5 20.1h2.1M195.3 20.1h1.1M197.2 20.1h3.0M201.0 20.1h4.0M209.6 20.1h4.0M234.2 20.1h3.0M293.0 20.1h5.9M37.7 21.2h1.2M79.8 21.2h2.1M191.8 21.2h2.1M196.6 21.2h3.1M204.2 21.2h2.1M207.1 21.2h2.1M212.8 21.2h3.1M216.7 21.2h2.1M228.2 21.2h2.1M231.0 21.2h4.0M297.1 21.2h1.2M299.0 21.2h1.2M36.6 22.4h1.2M194.0 22.4h1.2M198.8 22.4h1.2M219.1 22.4h8.9M296.3 22.4h3.1M35.5 23.5h1.2M79.3 23.5h2.1M296.5 23.5h4.1M34.4 24.7h1.2M80.6 24.7h1.2M296.6 24.7h2.2M299.5 24.7h1.2M33.4 25.8h1.2M79.9 25.8h3.2M296.6 25.8h5.1M302.5 25.8h1.2M32.4 26.9h2.2M80.3 26.9h2.2M291.6 26.9h1.2M297.6 26.9h2.2M80.7 28.1h2.2M83.7 28.1h1.2M298.5 28.1h1.2M33.6 29.2h1.2M81.1 29.2h3.2M86.1 29.2h1.2M89.2 29.2h1.2M106.4 29.2h1.2M79.5 30.4h7.3M87.7 30.4h2.2M101.9 30.4h2.2M173.1 30.4h3.3M292.2 30.4h2.2M30.9 31.5h2.2M33.9 31.5h2.2M76.9 31.5h1.2M79.0 31.5h2.2M82.1 31.5h8.4M100.5 31.5h2.2M174.2 31.5h3.3M183.4 31.5h1.2M187.5 31.5h1.2M292.0 31.5h3.3M31.1 32.7h1.2M74.4 32.7h1.2M81.6 32.7h8.4M95.0 32.7h2.3M101.1 32.7h1.2M169.1 32.7h1.2M174.3 32.7h1.2M176.3 32.7h4.3M181.5 32.7h3.3M207.2 32.7h1.2M222.7 32.7h3.3M226.8 32.7h2.3M293.8 32.7h1.2M71.8 33.8h1.2M83.2 33.8h6.4M91.4 33.8h5.4M98.7 33.8h1.2M100.8 33.8h1.2M102.8 33.8h1.2M107.0 33.8h1.2M168.1 33.8h2.3M176.4 33.8h1.2M185.7 33.8h1.2M206.4 33.8h1.2M217.8 33.8h4.3M224.1 33.8h1.2M227.2 33.8h2.3M281.0 33.8h1.2M293.5 33.8h2.3M86.9 35.0h6.5M96.2 35.0h3.3M103.5 35.0h1.2M105.6 35.0h3.3M109.8 35.0h3.3M168.1 35.0h1.2M184.8 35.0h1.2M198.3 35.0h1.2M203.5 35.0h6.5M211.9 35.0h2.3M216.0 35.0h5.4M227.5 35.0h2.3M284.8 35.0h1.2M294.2 35.0h1.2M71.8 36.1h1.2M86.5 36.1h1.2M88.6 36.1h3.3M96.9 36.1h2.3M103.2 36.1h3.3M107.4 36.1h1.2M110.5 36.1h2.3M166.0 36.1h2.3M197.5 36.1h1.2M200.6 36.1h4.4M205.8 36.1h6.5M213.2 36.1h3.3M229.9 36.1h1.2M284.4 36.1h1.2M72.4 37.3h1.3M87.1 37.3h3.4M96.6 37.3h2.3M111.3 37.3h2.3M163.9 37.3h2.3M194.5 37.3h3.4M198.7 37.3h5.5M205.0 37.3h2.3M214.5 37.3h2.3M230.3 37.3h1.3M73.0 38.4h1.3M86.7 38.4h4.4M98.4 38.4h2.3M159.7 38.4h1.3M161.8 38.4h2.3M192.5 38.4h1.3M194.6 38.4h1.3M196.7 38.4h1.3M198.8 38.4h2.3M217.9 38.4h1.3M230.6 38.4h2.3M264.4 38.4h1.3M285.6 38.4h1.3M73.6 39.6h1.3M87.4 39.6h1.3M92.7 39.6h1.3M162.9 39.6h1.3M192.6 39.6h2.3M195.8 39.6h1.3M200.1 39.6h1.3M224.5 39.6h1.3M226.6 39.6h2.3M229.8 39.6h1.3M231.9 39.6h1.3M257.4 39.6h1.3M259.6 39.6h4.5M266.0 39.6h2.3M287.2 39.6h1.3M87.1 40.7h2.3M111.6 40.7h2.3M196.0 40.7h1.3M198.1 40.7h3.4M219.4 40.7h1.3M221.6 40.7h5.5M254.7 40.7h1.3M262.1 40.7h1.3M264.3 40.7h1.3M266.4 40.7h1.3M286.7 40.7h2.3M73.9 41.8h1.3M86.7 41.8h4.5M193.9 41.8h1.3M197.2 41.8h1.3M202.5 41.8h2.3M218.6 41.8h3.4M244.3 41.8h2.3M254.0 41.8h1.3M262.6 41.8h4.5M289.4 41.8h1.3M73.5 43.0h1.3M87.5 43.0h2.4M204.8 43.0h1.3M214.5 43.0h2.4M218.8 43.0h2.4M243.6 43.0h1.3M245.7 43.0h1.3M247.9 43.0h2.4M253.3 43.0h1.3M255.4 43.0h1.3M264.0 43.0h2.4M74.2 44.1h1.3M86.1 44.1h1.3M205.0 44.1h1.3M215.8 44.1h3.4M242.8 44.1h1.3M246.1 44.1h1.3M248.2 44.1h5.6M255.8 44.1h1.3M263.3 44.1h3.4M72.8 45.3h1.3M75.0 45.3h1.3M83.6 45.3h1.3M85.8 45.3h1.3M205.1 45.3h1.3M217.1 45.3h2.4M243.1 45.3h6.7M250.7 45.3h1.3M252.9 45.3h1.3M257.2 45.3h2.4M260.5 45.3h4.5M81.2 46.4h6.7M206.4 46.4h1.3M214.0 46.4h3.5M244.5 46.4h6.7M252.1 46.4h1.3M259.7 46.4h1.3M264.1 46.4h1.3M73.2 47.6h1.3M80.9 47.6h2.4M86.3 47.6h1.3M207.6 47.6h1.3M209.8 47.6h1.3M213.1 47.6h1.3M215.3 47.6h4.6M243.7 47.6h3.5M248.0 47.6h1.3M71.8 48.7h2.4M85.0 48.7h2.4M172.7 48.7h2.4M211.0 48.7h3.5M215.4 48.7h4.6M237.3 48.7h1.3M240.6 48.7h7.9M72.6 49.9h1.3M171.6 49.9h3.5M216.7 49.9h1.3M237.6 49.9h1.3M240.9 49.9h2.4M244.2 49.9h1.3M72.3 51.0h1.3M80.1 51.0h1.3M170.5 51.0h3.5M215.7 51.0h1.3M220.2 51.0h1.3M236.7 51.0h2.4M242.2 51.0h2.4M246.6 51.0h1.3M73.2 52.2h1.3M77.6 52.2h1.3M162.8 52.2h7.9M171.6 52.2h3.5M176.1 52.2h2.4M186.0 52.2h1.3M213.7 52.2h1.3M221.4 52.2h1.3M236.9 52.2h3.5M242.4 52.2h5.7M74.0 53.3h2.4M77.4 53.3h1.3M161.7 53.3h1.3M163.9 53.3h1.3M166.1 53.3h11.3M181.6 53.3h4.6M187.2 53.3h1.3M192.7 53.3h1.3M195.0 53.3h2.4M213.8 53.3h1.3M222.7 53.3h1.3M240.4 53.3h5.7M74.9 54.5h3.5M161.7 54.5h1.3M167.2 54.5h1.3M169.4 54.5h2.4M175.0 54.5h1.3M180.6 54.5h2.4M185.0 54.5h1.3M187.2 54.5h1.3M192.8 54.5h3.5M213.9 54.5h1.3M74.7 55.6h1.3M79.1 55.6h1.3M156.1 55.6h1.3M159.4 55.6h3.5M167.2 55.6h1.3M172.8 55.6h3.5M177.3 55.6h1.3M182.8 55.6h2.4M186.2 55.6h2.4M192.9 55.6h1.3M74.5 56.8h1.3M78.9 56.8h1.3M152.7 56.8h3.6M157.2 56.8h1.3M159.4 56.8h2.4M166.1 56.8h3.6M170.6 56.8h3.6M176.2 56.8h2.4M182.9 56.8h1.3M185.1 56.8h2.4M192.9 56.8h1.3M195.2 56.8h2.4M201.9 56.8h1.3M216.4 56.8h1.3M222.0 56.8h1.3M74.2 57.9h1.3M177.3 57.9h1.3M180.7 57.9h3.6M185.2 57.9h2.4M190.8 57.9h8.0M199.7 57.9h3.6M208.7 57.9h1.3M217.7 57.9h6.9M75.2 59.0h2.4M169.5 59.0h1.3M180.7 59.0h1.3M184.1 59.0h1.3M195.3 59.0h6.9M203.2 59.0h1.3M218.9 59.0h4.7M76.1 60.2h2.5M186.4 60.2h1.3M192.0 60.2h11.5M206.6 60.2h1.3M212.3 60.2h1.3M220.1 60.2h2.5M192.1 61.3h1.3M196.6 61.3h2.5M201.1 61.3h2.5M167.3 62.5h1.3M196.6 62.5h2.5M218.1 62.5h2.5M167.3 63.6h2.5M197.8 63.6h1.3M211.4 63.6h2.5M217.0 63.6h1.3M149.1 64.8h1.3M167.3 64.8h4.7M188.8 64.8h1.3M197.9 64.8h1.3M214.9 64.8h3.6M149.1 65.9h3.6M154.8 65.9h3.6M159.3 65.9h2.5M167.3 65.9h3.6M185.4 65.9h4.7M194.5 65.9h3.6M211.5 65.9h1.3M214.9 65.9h1.3M217.2 65.9h1.3M151.4 67.1h3.6M157.0 67.1h3.6M161.6 67.1h3.6M167.3 67.1h7.0M185.5 67.1h1.3M190.0 67.1h7.0M212.7 67.1h4.7M163.9 68.2h4.8M174.1 68.2h1.3M186.6 68.2h1.3M193.4 68.2h1.3M210.5 68.2h2.5M176.4 69.4h1.3M182.1 69.4h3.6M208.3 69.4h1.3M179.8 70.5h1.3M203.8 70.5h1.3M206.1 70.5h2.5M96.5 71.7h3.6M203.8 71.7h3.6M98.7 72.8h1.3M203.8 72.8h2.5M202.7 74.0h2.5M203.9 75.1h1.3M203.9 77.4h1.3M204.0 78.5h1.3M197.1 79.7h1.3M204.0 79.7h1.3M202.8 80.8h2.5M202.8 82.0h3.6M202.8 83.1h1.3M128.3 85.4h2.5M128.3 86.6h1.3M129.5 87.7h1.3M131.8 87.7h1.3M129.5 88.9h4.8M130.7 90.0h1.3M130.7 91.1h3.6M208.3 94.6h1.3M210.6 94.6h1.3M276.4 98.0h1.3M275.1 99.2h2.5M270.4 100.3h4.7M276.0 100.3h1.3M278.3 100.3h2.5M281.7 100.3h1.3M313.4 100.3h1.3M267.9 101.5h2.5M272.5 101.5h1.3M274.7 101.5h2.5M279.3 101.5h3.6M288.3 101.5h1.3M313.2 101.5h2.5M266.6 102.6h3.6M272.3 102.6h2.5M279.1 102.6h3.6M312.9 102.6h1.3M266.5 103.8h1.3M268.7 103.8h1.3M271.0 103.8h7.0M278.9 103.8h4.7M284.5 103.8h1.3M291.3 103.8h1.3M203.3 104.9h1.3M206.6 104.9h1.3M266.3 104.9h7.0M274.1 104.9h2.5M278.6 104.9h1.3M280.9 104.9h1.3M283.1 104.9h2.5M286.5 104.9h1.3M177.4 106.1h1.3M205.4 106.1h2.4M271.7 106.1h1.3M275.0 106.1h4.7M282.9 106.1h2.4M286.3 106.1h2.4M290.8 106.1h2.4M177.3 107.2h5.8M271.4 107.2h2.4M275.9 107.2h4.7M283.8 107.2h8.0M179.5 108.3h5.8M270.1 108.3h1.3M272.3 108.3h3.6M282.4 108.3h6.9M290.2 108.3h1.3M180.6 109.5h4.7M269.8 109.5h3.5M275.4 109.5h1.3M277.6 109.5h1.3M279.9 109.5h3.5M285.4 109.5h5.8M179.5 110.6h9.1M269.6 110.6h3.5M274.0 110.6h4.6M285.1 110.6h1.3M288.5 110.6h2.4M114.0 111.8h1.3M180.5 111.8h1.3M183.9 111.8h3.5M268.2 111.8h3.5M272.6 111.8h1.3M275.9 111.8h2.4M279.3 111.8h1.3M285.9 111.8h5.7M118.5 112.9h1.3M184.9 112.9h1.3M187.1 112.9h2.4M269.0 112.9h2.4M274.5 112.9h3.5M286.7 112.9h3.5M291.1 112.9h1.3M181.5 114.1h3.5M186.0 114.1h2.4M272.0 114.1h2.4M286.3 114.1h4.6M107.8 115.2h2.4M111.1 115.2h2.4M182.6 115.2h1.3M286.0 115.2h5.7M108.0 116.4h2.4M111.3 116.4h2.4M286.7 116.4h4.6M106.0 117.5h2.4M109.3 117.5h3.5M287.4 117.5h1.3M291.7 117.5h2.4M110.6 118.7h4.6M110.8 119.8h1.3M102.6 122.1h3.4M100.7 123.3h3.4M99.9 124.4h1.3M288.5 147.3h3.0M281.6 148.5h3.9M277.5 149.6h2.0M273.7 151.9h1.1M273.9 153.1h3.7M280.9 153.1h2.8M284.4 153.1h2.8M276.5 154.2h1.9" stroke="#2c728e"/><path d="M107.9 6.3h1.0M109.5 6.3h1.8M111.9 6.3h1.0M116.6 6.3h1.0M107.4 7.5h1.8M109.8 7.5h1.0M114.7 7.5h1.0M116.3 7.5h1.0M118.8 7.5h1.0M110.4 8.6h2.7M114.5 8.6h1.0M109.3 9.7h1.0M111.0 9.7h1.9M113.5 9.7h2.7M99.8 10.9h1.1M109.2 10.9h1.1M111.0 10.9h1.9M83.1 12.0h1.9M85.7 12.0h1.1M88.3 12.0h1.1M93.5 12.0h1.1M96.2 12.0h1.1M107.5 12.0h1.1M110.1 12.0h1.9M81.0 13.2h3.7M86.3 13.2h2.0M91.6 13.2h1.1M93.4 13.2h2.9M98.7 13.2h5.5M108.4 13.2h1.1M262.2 13.2h1.1M264.0 13.2h1.1M266.7 13.2h2.0M79.9 14.3h1.1M81.7 14.3h1.1M85.2 14.3h2.0M90.6 14.3h1.1M92.4 14.3h3.8M96.9 14.3h2.0M99.6 14.3h1.1M101.4 14.3h1.1M103.2 14.3h1.1M105.9 14.3h2.9M249.2 14.3h2.0M251.9 14.3h2.9M265.4 14.3h1.1M75.2 15.5h2.0M79.7 15.5h2.0M83.3 15.5h1.1M85.1 15.5h1.1M89.7 15.5h2.9M93.3 15.5h1.1M98.8 15.5h1.1M100.6 15.5h1.1M103.3 15.5h2.0M106.9 15.5h1.1M109.6 15.5h1.1M243.9 15.5h2.0M247.6 15.5h1.1M250.3 15.5h1.1M253.0 15.5h1.1M265.7 15.5h2.0M271.2 15.5h1.1M72.3 16.6h1.1M75.0 16.6h1.1M78.7 16.6h4.8M86.0 16.6h1.1M89.7 16.6h1.1M96.1 16.6h2.0M103.5 16.6h1.1M105.3 16.6h1.1M183.4 16.6h3.0M244.9 16.6h1.1M247.6 16.6h2.0M259.6 16.6h1.1M266.9 16.6h2.0M272.4 16.6h1.1M274.3 16.6h2.0M77.7 17.8h1.1M81.4 17.8h1.1M84.2 17.8h2.1M87.9 17.8h1.1M92.6 17.8h2.1M95.4 17.8h1.1M179.9 17.8h3.9M186.4 17.8h3.9M235.6 17.8h5.8M243.0 17.8h1.1M270.9 17.8h5.8M295.0 17.8h1.1M29.9 18.9h1.1M81.5 18.9h4.9M87.1 18.9h1.1M89.0 18.9h1.1M95.6 18.9h1.1M181.9 18.9h2.1M186.6 18.9h1.1M188.5 18.9h4.0M202.5 18.9h2.1M209.1 18.9h3.0M233.5 18.9h3.0M293.6 18.9h1.1M295.4 18.9h4.9M38.0 20.1h1.1M81.6 20.1h3.0M89.2 20.1h1.1M110.0 20.1h1.1M191.5 20.1h1.1M204.8 20.1h4.9M215.2 20.1h1.1M230.4 20.1h4.0M298.7 20.1h1.1M35.8 21.2h2.1M81.7 21.2h2.1M109.5 21.2h1.2M206.1 21.2h1.2M215.7 21.2h1.2M219.5 21.2h1.2M226.2 21.2h2.1M298.0 21.2h1.2M35.6 22.4h1.2M80.0 22.4h3.1M108.0 22.4h2.1M112.9 22.4h1.2M299.2 22.4h2.1M34.5 23.5h1.2M81.2 23.5h1.2M109.5 23.5h1.2M300.4 23.5h3.1M81.5 24.7h3.1M148.3 24.7h1.2M152.2 24.7h1.2M300.5 24.7h2.2M32.4 25.8h1.2M82.9 25.8h1.2M105.6 25.8h3.2M82.3 26.9h2.2M105.2 26.9h3.2M299.6 26.9h4.2M82.7 28.1h1.2M84.7 28.1h1.2M86.7 28.1h2.2M102.7 28.1h5.2M161.0 28.1h1.2M299.5 28.1h3.2M84.1 29.2h2.2M88.2 29.2h1.2M90.2 29.2h1.2M101.3 29.2h3.2M105.4 29.2h1.2M86.6 30.4h1.2M89.7 30.4h1.2M103.9 30.4h3.3M110.1 30.4h1.2M112.1 30.4h1.2M78.0 31.5h1.2M95.4 31.5h2.2M102.5 31.5h3.3M110.7 31.5h3.3M75.4 32.7h2.3M78.5 32.7h3.3M89.8 32.7h5.4M102.2 32.7h3.3M108.3 32.7h5.4M116.6 32.7h2.3M175.3 32.7h1.2M292.7 32.7h1.2M72.8 33.8h2.3M82.1 33.8h1.2M89.4 33.8h2.3M103.9 33.8h3.3M108.0 33.8h5.4M117.3 33.8h1.2M165.0 33.8h1.2M222.0 33.8h2.3M225.1 33.8h2.3M72.3 35.0h1.2M83.7 35.0h3.3M104.6 35.0h1.2M108.7 35.0h1.2M112.9 35.0h1.2M159.8 35.0h2.3M162.9 35.0h1.2M166.0 35.0h2.3M221.3 35.0h1.2M224.4 35.0h1.2M226.5 35.0h1.2M72.8 36.1h2.3M84.4 36.1h2.3M112.6 36.1h2.3M160.8 36.1h2.3M164.0 36.1h2.3M204.8 36.1h1.2M212.1 36.1h1.2M216.3 36.1h4.4M228.9 36.1h1.2M285.4 36.1h1.2M73.4 37.3h2.3M76.6 37.3h1.3M86.1 37.3h1.3M113.4 37.3h1.3M119.7 37.3h1.3M160.8 37.3h3.4M197.6 37.3h1.3M203.9 37.3h1.3M207.1 37.3h1.3M209.2 37.3h3.4M216.6 37.3h4.4M222.9 37.3h2.3M229.2 37.3h1.3M74.0 38.4h3.4M85.7 38.4h1.3M119.5 38.4h2.3M160.8 38.4h1.3M195.7 38.4h1.3M197.8 38.4h1.3M201.0 38.4h4.4M214.7 38.4h2.3M218.9 38.4h1.3M223.2 38.4h2.3M226.3 38.4h1.3M229.5 38.4h1.3M74.7 39.6h2.3M85.3 39.6h2.3M115.1 39.6h1.3M118.2 39.6h1.3M194.8 39.6h1.3M196.9 39.6h3.4M201.1 39.6h1.3M203.3 39.6h1.3M212.8 39.6h1.3M216.0 39.6h8.7M225.6 39.6h1.3M228.8 39.6h1.3M263.8 39.6h2.3M74.3 40.7h3.4M83.9 40.7h3.4M118.0 40.7h1.3M193.8 40.7h2.3M197.0 40.7h1.3M201.3 40.7h4.5M212.0 40.7h2.3M216.2 40.7h1.3M218.4 40.7h1.3M255.7 40.7h1.3M257.9 40.7h4.5M263.2 40.7h1.3M265.3 40.7h1.3M75.0 41.8h4.5M84.6 41.8h2.3M204.7 41.8h1.3M212.2 41.8h3.4M217.5 41.8h1.3M255.0 41.8h3.4M259.3 41.8h3.4M74.6 43.0h3.4M84.3 43.0h1.3M86.4 43.0h1.3M213.4 43.0h1.3M216.7 43.0h2.4M244.7 43.0h1.3M254.3 43.0h1.3M260.8 43.0h3.4M75.3 44.1h2.4M81.8 44.1h3.4M214.7 44.1h1.3M243.9 44.1h2.4M247.1 44.1h1.3M256.9 44.1h6.7M76.0 45.3h1.3M82.6 45.3h1.3M84.7 45.3h1.3M206.2 45.3h1.3M214.9 45.3h2.4M249.6 45.3h1.3M251.8 45.3h1.3M259.4 45.3h1.3M74.6 46.4h1.3M80.1 46.4h1.3M207.5 46.4h1.3M212.9 46.4h1.3M74.3 47.6h1.3M79.8 47.6h1.3M208.7 47.6h1.3M210.9 47.6h2.4M79.5 48.7h2.4M73.7 49.9h1.3M79.2 49.9h2.4M217.8 49.9h2.4M238.7 49.9h2.4M243.1 49.9h1.3M73.4 51.0h3.5M79.0 51.0h1.3M216.8 51.0h1.3M219.1 51.0h1.3M238.9 51.0h3.5M244.4 51.0h1.3M74.3 52.2h3.5M240.2 52.2h2.4M76.3 53.3h1.3M162.8 53.3h1.3M165.0 53.3h1.3M177.2 53.3h3.5M186.1 53.3h1.3M191.6 53.3h1.3M221.6 53.3h1.3M162.8 54.5h4.6M171.7 54.5h3.5M176.1 54.5h4.6M182.8 54.5h2.4M186.1 54.5h1.3M191.7 54.5h1.3M215.1 54.5h1.3M221.7 54.5h1.3M75.8 55.6h3.5M162.8 55.6h1.3M166.1 55.6h1.3M169.5 55.6h3.5M176.2 55.6h1.3M178.4 55.6h1.3M180.6 55.6h2.4M185.1 55.6h1.3M188.4 55.6h2.4M191.8 55.6h1.3M216.3 55.6h1.3M221.9 55.6h1.3M76.7 56.8h2.4M161.6 56.8h4.7M169.5 56.8h1.3M173.9 56.8h1.3M178.4 56.8h1.3M181.8 56.8h1.3M184.0 56.8h1.3M187.4 56.8h2.4M190.7 56.8h2.4M217.5 56.8h4.7M75.4 57.9h3.6M152.7 57.9h1.3M154.9 57.9h6.9M165.0 57.9h12.5M178.4 57.9h2.4M184.0 57.9h1.3M187.4 57.9h3.6M77.4 59.0h1.3M153.8 59.0h6.9M166.1 59.0h3.6M170.6 59.0h1.3M172.9 59.0h1.3M176.2 59.0h3.6M183.0 59.0h1.3M185.2 59.0h10.3M202.1 59.0h1.3M158.2 60.2h1.3M166.1 60.2h4.7M171.8 60.2h2.5M180.8 60.2h1.3M185.3 60.2h1.3M187.5 60.2h2.5M150.3 61.3h1.3M158.2 61.3h1.3M167.3 61.3h3.6M186.4 61.3h1.3M190.9 61.3h1.3M193.2 61.3h3.6M149.2 62.5h1.3M153.7 62.5h1.3M166.1 62.5h1.3M168.4 62.5h2.5M191.0 62.5h1.3M193.2 62.5h3.6M149.2 63.6h1.3M153.7 63.6h1.3M166.1 63.6h1.3M169.5 63.6h2.5M187.6 63.6h2.5M191.0 63.6h1.3M193.3 63.6h4.7M218.2 63.6h1.3M150.3 64.8h1.3M154.8 64.8h3.6M160.5 64.8h1.3M162.7 64.8h1.3M171.8 64.8h1.3M186.5 64.8h2.5M189.9 64.8h2.5M193.3 64.8h4.7M211.5 64.8h3.6M152.5 65.9h2.5M158.2 65.9h1.3M161.6 65.9h3.6M166.1 65.9h1.3M170.7 65.9h2.5M190.0 65.9h2.5M193.4 65.9h1.3M212.7 65.9h2.5M216.1 65.9h1.3M165.0 67.1h2.5M174.1 67.1h1.3M183.2 67.1h2.5M175.2 68.2h2.5M183.2 68.2h2.5M212.8 68.2h1.3M180.9 69.4h1.3M209.4 69.4h2.5M98.9 70.5h1.3M99.9 71.7h2.5M205.0 75.1h1.3M205.1 77.4h1.3M205.1 78.5h1.3M205.1 79.7h1.3M205.1 80.8h1.3M129.5 86.6h3.6M130.6 87.7h1.3M132.9 87.7h1.3M131.8 90.0h2.5M280.6 100.3h1.3M274.5 102.6h2.5M273.0 104.9h1.3M279.8 104.9h1.3M282.0 104.9h1.3M266.1 106.1h5.8M279.5 106.1h1.3M281.8 106.1h1.3M269.2 107.2h2.4M280.4 107.2h3.6M178.4 108.3h1.3M269.0 108.3h1.3M275.7 108.3h2.4M279.0 108.3h3.6M289.1 108.3h1.3M267.6 109.5h2.4M273.2 109.5h2.4M276.5 109.5h1.3M278.7 109.5h1.3M283.2 109.5h2.4M267.3 110.6h2.4M272.9 110.6h1.3M278.5 110.6h1.3M280.7 110.6h4.6M286.2 110.6h2.4M181.6 111.8h2.4M271.5 111.8h1.3M273.7 111.8h2.4M280.4 111.8h2.4M283.7 111.8h2.4M180.5 112.9h4.6M186.0 112.9h1.3M266.8 112.9h2.4M271.2 112.9h3.5M282.3 112.9h3.5M180.4 114.1h1.3M184.9 114.1h1.3M265.4 114.1h1.3M269.8 114.1h2.4M283.0 114.1h3.5M181.5 115.2h1.3M283.8 115.2h2.4M110.2 116.4h1.3M108.2 117.5h1.3M288.5 117.5h3.5M106.2 118.7h4.6M288.0 118.7h1.3M291.3 118.7h2.4M105.3 119.8h1.3M108.6 119.8h2.4M105.6 121.0h2.4M108.8 121.0h2.4M105.8 122.1h1.3M103.9 123.3h1.3M109.3 123.3h1.3M101.0 124.4h2.3M100.2 125.5h2.3M286.6 147.3h2.1M280.7 148.5h1.1M274.3 150.8h1.1M272.9 151.9h1.1M273.0 153.1h1.1M287.0 153.1h1.1M275.7 154.2h1.1M278.2 154.2h1.1" stroke="#24868e"/><path d="M108.7 6.3h1.0M111.1 6.3h1.0M112.7 6.3h1.8M115.0 6.3h1.8M117.4 6.3h4.2M106.6 7.5h1.0M112.3 7.5h1.0M113.9 7.5h1.0M115.5 7.5h1.0M117.1 7.5h1.8M119.6 7.5h1.0M112.8 8.6h1.9M116.1 8.6h2.7M110.2 9.7h1.0M112.7 9.7h1.0M112.7 10.9h2.8M84.8 12.0h1.1M86.6 12.0h1.9M89.2 12.0h2.8M92.7 12.0h1.1M94.4 12.0h1.9M111.8 12.0h1.1M174.6 12.0h2.8M261.7 12.0h3.7M78.4 13.2h1.1M89.9 13.2h2.0M96.0 13.2h1.1M106.7 13.2h1.1M109.3 13.2h1.1M176.5 13.2h1.1M263.1 13.2h1.1M264.9 13.2h2.0M76.3 14.3h2.0M80.8 14.3h1.1M88.8 14.3h1.1M102.3 14.3h1.1M234.0 14.3h1.1M243.9 14.3h2.0M251.0 14.3h1.1M268.0 14.3h1.1M73.3 15.5h2.0M81.5 15.5h2.0M86.1 15.5h3.8M92.4 15.5h1.1M94.2 15.5h2.9M99.7 15.5h1.1M101.5 15.5h2.0M105.1 15.5h2.0M107.8 15.5h2.0M243.0 15.5h1.1M245.8 15.5h2.0M248.5 15.5h2.0M264.8 15.5h1.1M267.5 15.5h1.1M269.4 15.5h2.0M73.2 16.6h2.0M85.1 16.6h1.1M86.9 16.6h3.0M90.6 16.6h5.7M98.9 16.6h1.1M102.6 16.6h1.1M104.4 16.6h1.1M106.2 16.6h1.1M109.0 16.6h2.0M112.7 16.6h1.1M182.4 16.6h1.1M186.1 16.6h1.1M235.7 16.6h1.1M239.4 16.6h2.0M243.1 16.6h1.1M249.5 16.6h2.0M268.8 16.6h2.0M271.5 16.6h1.1M273.4 16.6h1.1M87.0 17.8h1.1M88.9 17.8h2.1M99.1 17.8h1.1M101.9 17.8h3.9M111.1 17.8h2.1M113.9 17.8h1.1M209.6 17.8h1.1M234.6 17.8h1.1M241.1 17.8h2.1M250.4 17.8h2.1M30.8 18.9h1.1M86.2 18.9h1.1M88.0 18.9h1.1M89.9 18.9h1.1M96.5 18.9h2.1M99.3 18.9h1.1M103.1 18.9h1.1M110.6 18.9h1.1M113.4 18.9h3.0M206.3 18.9h2.1M232.6 18.9h1.1M28.5 20.1h3.0M84.4 20.1h1.1M86.3 20.1h3.0M90.1 20.1h1.1M97.7 20.1h1.1M108.1 20.1h1.1M111.0 20.1h1.1M112.9 20.1h2.1M213.3 20.1h2.1M216.2 20.1h1.1M228.5 20.1h2.1M299.6 20.1h2.1M28.2 21.2h2.1M83.7 21.2h3.1M88.4 21.2h2.1M99.0 21.2h1.2M108.5 21.2h1.2M110.5 21.2h1.2M218.6 21.2h1.2M220.5 21.2h5.9M299.9 21.2h3.1M26.9 22.4h1.2M82.9 22.4h2.1M87.8 22.4h2.1M107.1 22.4h1.2M110.0 22.4h1.2M113.8 22.4h1.2M145.7 22.4h1.2M148.6 22.4h2.1M151.5 22.4h1.2M301.1 22.4h2.1M24.8 23.5h1.2M83.2 23.5h2.1M88.1 23.5h1.2M106.6 23.5h3.1M110.5 23.5h3.1M148.4 23.5h5.1M303.3 23.5h1.2M87.4 24.7h1.2M107.1 24.7h5.1M147.3 24.7h1.2M149.3 24.7h3.1M302.5 24.7h2.2M83.9 25.8h1.2M87.8 25.8h2.2M104.6 25.8h1.2M301.6 25.8h1.2M303.5 25.8h1.2M305.5 25.8h1.2M84.2 26.9h4.2M102.2 26.9h3.2M108.2 26.9h2.2M303.6 26.9h1.2M85.7 28.1h1.2M88.7 28.1h2.2M101.7 28.1h1.2M107.8 28.1h1.2M87.2 29.2h1.2M104.3 29.2h1.2M107.4 29.2h1.2M112.4 29.2h3.2M90.7 30.4h1.2M93.8 30.4h1.2M107.0 30.4h3.3M111.1 30.4h1.2M113.1 30.4h1.2M115.1 30.4h1.2M81.0 31.5h1.2M90.3 31.5h3.3M94.3 31.5h1.2M105.6 31.5h2.2M108.7 31.5h2.2M114.8 31.5h3.3M77.4 32.7h1.2M105.3 32.7h3.3M113.5 32.7h3.3M159.8 32.7h1.2M162.9 32.7h1.2M74.9 33.8h1.2M79.0 33.8h3.3M113.2 33.8h3.3M118.4 33.8h1.2M159.8 33.8h2.3M162.9 33.8h2.3M73.3 35.0h1.2M77.5 35.0h3.3M82.7 35.0h1.2M116.0 35.0h2.3M156.7 35.0h3.3M161.9 35.0h1.2M164.0 35.0h2.3M222.3 35.0h2.3M74.9 36.1h2.3M81.2 36.1h2.3M114.7 36.1h1.2M116.8 36.1h1.2M118.9 36.1h1.2M157.7 36.1h1.2M162.9 36.1h1.2M220.5 36.1h3.3M224.7 36.1h2.3M75.5 37.3h1.3M81.8 37.3h4.4M114.5 37.3h1.3M208.2 37.3h1.3M212.4 37.3h2.3M220.8 37.3h2.3M225.0 37.3h2.3M77.2 38.4h2.3M80.4 38.4h5.5M114.2 38.4h2.3M117.4 38.4h1.3M205.2 38.4h2.3M208.4 38.4h4.4M213.7 38.4h1.3M216.8 38.4h1.3M220.0 38.4h3.4M225.3 38.4h1.3M76.8 39.6h3.4M81.1 39.6h1.3M83.2 39.6h2.3M116.1 39.6h2.3M119.3 39.6h1.3M202.2 39.6h1.3M204.3 39.6h2.3M209.6 39.6h3.4M213.9 39.6h2.3M79.6 40.7h1.3M82.8 40.7h1.3M210.9 40.7h1.3M214.1 40.7h2.3M217.3 40.7h1.3M256.8 40.7h1.3M79.2 41.8h1.3M82.5 41.8h2.3M211.1 41.8h1.3M215.4 41.8h2.3M77.8 43.0h1.3M83.2 43.0h1.3M85.3 43.0h1.3M211.3 43.0h2.4M256.5 43.0h4.5M78.5 44.1h1.3M80.7 44.1h1.3M213.6 44.1h1.3M77.1 45.3h2.4M80.4 45.3h2.4M207.3 45.3h1.3M213.8 45.3h1.3M75.7 46.4h1.3M79.0 46.4h1.3M208.6 46.4h1.3M210.7 46.4h2.4M75.4 47.6h1.3M77.6 47.6h2.4M78.4 48.7h1.3M74.8 49.9h4.6M77.9 51.0h1.3M217.9 51.0h1.3M214.8 52.2h1.3M219.2 52.2h2.4M188.3 53.3h3.5M214.9 53.3h1.3M188.4 54.5h3.5M165.0 55.6h1.3M179.5 55.6h1.3M190.6 55.6h1.3M217.4 55.6h1.3M220.8 55.6h1.3M75.6 56.8h1.3M175.1 56.8h1.3M179.5 56.8h2.4M189.6 56.8h1.3M153.8 57.9h1.3M161.6 57.9h1.3M163.9 57.9h1.3M152.6 59.0h1.3M160.5 59.0h1.3M171.7 59.0h1.3M174.0 59.0h2.4M179.6 59.0h1.3M181.8 59.0h1.3M150.4 60.2h1.3M154.9 60.2h3.6M159.4 60.2h1.3M161.6 60.2h2.5M165.0 60.2h1.3M170.6 60.2h1.3M174.0 60.2h2.5M177.4 60.2h1.3M179.6 60.2h1.3M183.0 60.2h1.3M189.8 60.2h2.5M149.2 61.3h1.3M152.6 61.3h1.3M156.0 61.3h2.5M160.5 61.3h2.5M166.1 61.3h1.3M170.6 61.3h3.6M185.3 61.3h1.3M187.5 61.3h3.6M150.3 62.5h3.6M154.8 62.5h1.3M157.1 62.5h4.7M163.9 62.5h2.5M170.6 62.5h4.7M185.3 62.5h4.7M192.1 62.5h1.3M152.6 63.6h1.3M154.8 63.6h3.6M160.5 63.6h4.7M171.8 63.6h2.5M186.5 63.6h1.3M189.9 63.6h1.3M192.2 63.6h1.3M151.4 64.8h3.6M158.2 64.8h2.5M161.6 64.8h1.3M163.9 64.8h3.6M172.9 64.8h1.3M185.4 64.8h1.3M192.2 64.8h1.3M172.9 65.9h2.5M184.3 65.9h1.3M192.2 65.9h1.3M176.4 67.1h1.3M182.0 67.1h1.3M182.1 68.2h1.3M177.5 69.4h3.6M208.3 70.5h1.3M207.2 71.7h1.3M206.1 72.8h1.3M205.0 74.0h1.3M280.6 106.1h1.3M265.8 107.2h3.6M267.8 108.3h1.3M277.9 108.3h1.3M266.5 109.5h1.3M279.6 110.6h1.3M267.1 111.8h1.3M278.2 111.8h1.3M282.6 111.8h1.3M267.6 114.1h2.4M267.3 115.2h2.4M289.1 118.7h2.4M106.4 119.8h2.4M290.8 119.8h1.3M293.0 119.8h1.3M107.7 121.0h1.3M293.6 121.0h1.3M109.0 122.1h1.3M105.0 123.3h1.3M107.1 123.3h2.3M290.4 123.3h1.3M103.1 124.4h3.4M99.1 125.5h1.3M106.6 125.5h1.3M100.5 126.7h2.3M284.8 147.3h2.1M279.8 148.5h1.1M276.6 149.6h1.1M273.4 150.8h1.1M272.0 151.9h1.1M270.4 153.1h2.8M279.1 154.2h1.9M281.7 154.2h1.1M100.4 156.5h1.0M103.3 157.6h1.0" stroke="#1f9a8a"/><path d="M114.2 6.3h1.0M123.0 6.3h1.0M124.6 6.3h1.0M113.1 7.5h1.0M120.4 7.5h1.0M118.6 8.6h1.9M116.1 9.7h1.0M117.8 9.7h1.0M173.7 12.0h1.1M178.1 12.0h1.1M77.5 13.2h1.1M88.1 13.2h2.0M234.0 13.2h1.1M235.7 13.2h1.1M241.9 13.2h1.1M243.7 13.2h2.0M75.4 14.3h1.1M87.0 14.3h2.0M100.5 14.3h1.1M233.1 14.3h1.1M238.5 14.3h5.6M245.6 14.3h3.8M264.5 14.3h1.1M266.3 14.3h2.0M235.8 15.5h1.1M242.1 15.5h1.1M268.4 15.5h1.1M99.8 16.6h2.0M107.1 16.6h2.0M110.8 16.6h1.1M233.9 16.6h1.1M236.6 16.6h3.0M241.2 16.6h2.0M86.1 17.8h1.1M90.7 17.8h1.1M94.4 17.8h1.1M98.1 17.8h1.1M105.6 17.8h5.8M113.0 17.8h1.1M233.7 17.8h1.1M31.7 18.9h1.1M91.8 18.9h4.0M98.4 18.9h1.1M100.2 18.9h3.0M104.0 18.9h1.1M106.8 18.9h2.1M109.6 18.9h1.1M111.5 18.9h2.1M204.4 18.9h2.1M208.2 18.9h1.1M211.9 18.9h1.1M214.7 18.9h1.1M231.6 18.9h1.1M31.3 20.1h2.1M85.4 20.1h1.1M91.1 20.1h1.1M98.6 20.1h3.0M107.2 20.1h1.1M109.1 20.1h1.1M111.9 20.1h1.1M217.1 20.1h1.1M219.0 20.1h2.1M222.8 20.1h1.1M226.6 20.1h2.1M30.1 21.2h2.1M32.9 21.2h1.2M87.5 21.2h1.2M90.4 21.2h1.2M97.1 21.2h2.1M107.6 21.2h1.2M111.4 21.2h3.1M117.2 21.2h1.2M146.8 21.2h1.2M148.7 21.2h1.2M151.6 21.2h3.1M26.0 22.4h1.2M27.9 22.4h1.2M30.8 22.4h3.1M34.6 22.4h1.2M84.9 22.4h1.2M89.7 22.4h1.2M93.5 22.4h1.2M99.3 22.4h1.2M114.8 22.4h3.1M146.7 22.4h2.1M150.5 22.4h1.2M152.4 22.4h3.1M303.1 22.4h1.2M26.7 23.5h2.1M30.6 23.5h1.2M82.2 23.5h1.2M85.1 23.5h1.2M87.1 23.5h1.2M92.9 23.5h1.2M104.6 23.5h2.1M113.4 23.5h3.1M146.5 23.5h2.1M153.3 23.5h1.2M304.3 23.5h1.2M23.6 24.7h1.2M28.5 24.7h1.2M84.5 24.7h3.1M88.4 24.7h1.2M97.3 24.7h1.2M100.2 24.7h1.2M104.1 24.7h1.2M106.1 24.7h1.2M112.0 24.7h1.2M113.9 24.7h1.2M304.4 24.7h2.2M84.8 25.8h3.2M91.8 25.8h1.2M102.7 25.8h2.2M108.6 25.8h4.2M304.5 25.8h1.2M88.2 26.9h2.2M112.2 26.9h1.2M108.8 28.1h2.2M111.8 28.1h1.2M113.8 28.1h1.2M91.2 29.2h1.2M110.4 29.2h2.2M91.7 30.4h2.2M114.1 30.4h1.2M93.3 31.5h1.2M107.7 31.5h1.2M113.8 31.5h1.2M156.8 32.7h1.2M158.8 32.7h1.2M160.9 32.7h2.3M164.0 32.7h1.2M75.9 33.8h3.3M116.3 33.8h1.2M155.7 33.8h2.3M158.8 33.8h1.2M161.9 33.8h1.2M74.4 35.0h1.2M80.6 35.0h2.3M114.0 35.0h2.3M118.1 35.0h1.2M225.4 35.0h1.2M77.0 36.1h4.4M83.3 36.1h1.2M115.8 36.1h1.2M117.9 36.1h1.2M156.6 36.1h1.2M159.8 36.1h1.2M223.6 36.1h1.2M226.8 36.1h2.3M77.6 37.3h3.4M115.5 37.3h4.4M227.1 37.3h2.3M79.3 38.4h1.3M116.3 38.4h1.3M118.5 38.4h1.3M207.3 38.4h1.3M212.6 38.4h1.3M227.4 38.4h2.3M80.0 39.6h1.3M82.1 39.6h1.3M77.5 40.7h2.3M81.7 40.7h1.3M208.8 40.7h1.3M80.3 41.8h2.3M205.7 41.8h1.3M258.3 41.8h1.3M80.0 43.0h3.4M77.5 44.1h1.3M79.6 44.1h1.3M85.0 44.1h1.3M212.6 44.1h1.3M79.3 45.3h1.3M212.7 45.3h1.3M76.8 46.4h1.3M209.6 46.4h1.3M76.5 47.6h1.3M74.0 48.7h4.6M76.8 51.0h1.3M215.9 52.2h3.5M220.5 53.3h1.3M216.2 54.5h1.3M220.6 54.5h1.3M163.9 55.6h1.3M150.4 59.0h2.4M161.6 59.0h1.3M163.9 59.0h2.4M152.6 60.2h2.5M160.5 60.2h1.3M163.9 60.2h1.3M176.3 60.2h1.3M178.5 60.2h1.3M181.9 60.2h1.3M184.1 60.2h1.3M151.5 61.3h1.3M159.4 61.3h1.3M162.7 61.3h1.3M165.0 61.3h1.3M178.5 61.3h5.8M156.0 62.5h1.3M161.6 62.5h2.5M175.2 62.5h1.3M178.6 62.5h1.3M184.2 62.5h1.3M189.8 62.5h1.3M150.3 63.6h2.5M158.2 63.6h2.5M165.0 63.6h1.3M183.1 63.6h3.6M174.1 64.8h1.3M184.3 64.8h1.3M165.0 65.9h1.3M175.2 67.1h1.3M177.5 68.2h1.3M180.9 68.2h1.3M207.3 72.8h1.3M206.2 74.0h2.5M206.2 75.1h1.3M205.1 76.2h2.5M206.2 77.4h1.3M206.3 78.5h1.3M206.3 80.8h1.3M265.6 108.3h2.4M266.2 110.6h1.3M266.5 114.1h1.3M266.2 115.2h1.3M289.3 121.0h2.4M292.5 121.0h1.3M106.9 122.1h2.4M289.9 122.1h3.4M106.0 123.3h1.3M106.3 124.4h3.4M102.3 125.5h2.3M107.6 125.5h1.3M102.6 126.7h1.3M102.2 129.0h1.2M107.4 129.0h1.2M106.3 132.4h1.2M282.0 147.3h3.0M275.7 149.6h1.1M272.5 150.8h1.1M269.3 151.9h1.1M268.7 153.1h1.9M287.9 153.1h1.1M106.7 154.2h1.1M271.4 154.2h1.1M273.1 154.2h1.1M274.8 154.2h1.1M282.5 154.2h2.8M286.0 154.2h1.1M101.7 155.4h1.9M273.8 155.4h2.7M64.8 156.5h1.0M99.6 156.5h1.0M101.2 156.5h1.9M103.7 156.5h1.9M106.2 156.5h1.0M102.5 157.6h1.0M104.7 158.8h1.0" stroke="#28ae80"/><path d="M121.4 6.3h1.8M123.8 6.3h1.0M122.0 7.5h1.0M123.6 7.5h1.8M123.6 8.6h1.0M231.2 8.6h1.0M116.9 9.7h1.0M118.6 9.7h1.0M232.5 9.7h1.9M115.2 10.9h1.9M177.9 10.9h1.1M180.4 10.9h1.1M234.5 10.9h1.9M114.5 12.0h1.1M177.2 12.0h1.1M228.6 12.0h1.1M230.4 12.0h1.1M232.1 12.0h2.8M243.4 12.0h1.1M229.5 13.2h4.6M234.8 13.2h1.1M237.5 13.2h1.1M239.3 13.2h1.1M241.0 13.2h1.1M242.8 13.2h1.1M245.4 13.2h1.1M231.3 14.3h1.1M234.9 14.3h3.8M232.2 15.5h1.1M234.0 15.5h2.0M236.7 15.5h1.1M239.4 15.5h2.9M101.6 16.6h1.1M111.7 16.6h1.1M234.8 16.6h1.1M270.6 16.6h1.1M91.6 17.8h1.1M100.0 17.8h2.1M203.1 17.8h1.1M231.9 17.8h2.1M90.9 18.9h1.1M104.9 18.9h2.1M108.7 18.9h1.1M212.9 18.9h2.1M215.7 18.9h1.1M227.9 18.9h1.1M229.8 18.9h2.1M92.0 20.1h5.9M101.5 20.1h1.1M103.4 20.1h1.1M106.2 20.1h1.1M114.8 20.1h1.1M221.9 20.1h1.1M224.7 20.1h1.1M27.2 21.2h1.2M32.0 21.2h1.2M86.5 21.2h1.2M95.1 21.2h2.1M99.9 21.2h1.2M114.3 21.2h3.1M147.8 21.2h1.2M149.7 21.2h2.1M28.9 22.4h1.2M85.8 22.4h2.1M95.5 22.4h2.1M98.4 22.4h1.2M100.3 22.4h1.2M110.9 22.4h2.1M89.0 23.5h2.1M93.9 23.5h2.1M96.8 23.5h1.2M101.7 23.5h1.2M103.6 23.5h1.2M89.4 24.7h2.2M92.3 24.7h1.2M99.2 24.7h1.2M105.1 24.7h1.2M113.0 24.7h1.2M90.8 25.8h1.2M97.7 25.8h2.2M113.2 26.9h1.2M110.8 28.1h1.2M112.8 28.1h1.2M108.4 29.2h2.2M161.0 29.2h2.2M160.9 30.4h1.2M157.8 31.5h1.2M160.9 31.5h3.3M157.8 32.7h1.2M157.7 33.8h1.2M75.4 35.0h2.3M155.6 35.0h1.2M80.8 37.3h1.3M208.6 39.6h1.3M80.7 40.7h1.3M205.6 40.7h1.3M207.7 40.7h1.3M206.8 41.8h1.3M210.0 41.8h1.3M78.9 43.0h1.3M205.9 43.0h1.3M210.2 43.0h1.3M206.1 44.1h1.3M211.5 44.1h1.3M208.4 45.3h1.3M211.6 45.3h1.3M77.9 46.4h1.3M216.0 53.3h4.6M217.3 54.5h3.5M218.5 55.6h2.4M151.6 57.9h1.3M162.8 57.9h1.3M162.8 59.0h1.3M151.5 60.2h1.3M153.7 61.3h2.5M163.9 61.3h1.3M174.0 61.3h1.3M177.4 61.3h1.3M184.2 61.3h1.3M176.3 62.5h2.5M179.7 62.5h2.5M174.1 63.6h4.7M175.2 64.8h2.5M178.6 64.8h1.3M183.1 64.8h1.3M175.2 65.9h2.5M183.2 65.9h1.3M177.5 67.1h1.3M180.9 67.1h1.3M178.7 68.2h2.5M208.4 71.7h1.3M208.4 72.8h1.3M210.7 72.8h1.3M207.3 75.1h1.3M207.4 76.2h1.3M207.4 78.5h2.5M206.3 79.7h2.5M291.9 119.8h1.3M291.4 121.0h1.3M105.5 125.5h1.3M108.7 125.5h1.3M103.7 126.7h1.3M106.8 126.7h2.3M100.8 127.8h3.4M105.0 127.8h2.3M108.2 127.8h1.3M105.3 129.0h2.3M105.3 132.4h1.2M116.9 140.4h1.2M114.4 141.6h1.2M278.9 148.5h1.1M274.8 149.6h1.1M271.1 151.9h1.1M267.8 153.1h1.1M105.8 154.2h1.1M268.8 154.2h2.8M272.2 154.2h1.1M273.9 154.2h1.1M280.8 154.2h1.1M285.1 154.2h1.1M286.8 154.2h1.9M98.4 155.4h1.9M100.9 155.4h1.0M103.4 155.4h1.9M106.8 155.4h1.9M276.3 155.4h1.0M65.6 156.5h1.0M94.6 156.5h1.0M98.8 156.5h1.0M102.9 156.5h1.0M107.0 156.5h2.7M110.4 156.5h1.0M113.7 156.5h1.0M115.3 156.5h1.0M117.0 156.5h1.0M65.2 157.6h4.3M100.1 157.6h1.0M101.7 157.6h1.0M104.2 157.6h1.0M105.8 157.6h1.0M120.4 157.6h1.0M105.5 158.8h1.0" stroke="#48c16e"/><path d="M121.2 7.5h1.0M122.8 7.5h1.0M121.1 8.6h2.7M232.1 8.6h1.0M122.8 9.7h1.0M181.9 9.7h1.0M234.2 9.7h1.9M117.0 10.9h1.1M176.2 10.9h1.9M178.7 10.9h1.1M181.3 10.9h1.1M231.1 10.9h1.1M233.6 10.9h1.1M236.2 10.9h1.1M115.3 12.0h1.1M147.6 12.0h1.1M229.5 12.0h1.1M231.2 12.0h1.1M234.7 12.0h1.9M240.8 12.0h1.1M236.6 13.2h1.1M238.4 13.2h1.1M209.8 14.3h1.1M232.2 14.3h1.1M148.7 15.5h1.1M233.1 15.5h1.1M237.6 15.5h2.0M148.5 16.6h1.1M233.0 16.6h1.1M204.0 17.8h2.1M230.0 17.8h2.1M144.4 18.9h1.1M147.2 18.9h1.1M216.6 18.9h1.1M220.4 18.9h1.1M226.9 18.9h1.1M33.2 20.1h1.1M102.4 20.1h1.1M115.7 20.1h2.1M144.1 20.1h1.1M218.1 20.1h1.1M220.9 20.1h1.1M223.8 20.1h1.1M225.7 20.1h1.1M91.3 21.2h2.1M100.9 21.2h1.2M29.8 22.4h1.2M90.7 22.4h1.2M92.6 22.4h1.2M94.5 22.4h1.2M97.4 22.4h1.2M101.3 22.4h1.2M105.1 22.4h1.2M28.7 23.5h2.1M86.1 23.5h1.2M91.0 23.5h2.1M95.9 23.5h1.2M97.8 23.5h4.1M91.4 24.7h1.2M95.3 24.7h1.2M98.2 24.7h1.2M89.8 25.8h1.2M112.6 25.8h1.2M159.9 29.2h1.2M163.0 30.4h1.2M158.9 31.5h2.2M206.4 39.6h1.3M206.6 40.7h1.3M209.8 40.7h1.3M207.9 41.8h2.3M207.1 44.1h4.5M209.5 45.3h2.4M175.1 61.3h1.3M181.9 62.5h2.5M178.6 63.6h1.3M180.8 63.6h1.3M177.5 64.8h1.3M179.7 64.8h2.5M178.6 65.9h1.3M180.9 65.9h2.5M209.5 71.7h2.5M208.4 74.0h1.3M207.4 77.4h2.5M104.4 125.5h1.3M108.9 126.7h1.3M107.1 127.8h1.3M101.1 129.0h1.2M103.2 129.0h1.2M102.5 130.1h6.5M104.9 131.3h1.2M107.0 131.3h3.3M107.3 132.4h1.2M106.6 133.6h1.2M117.9 140.4h1.2M117.3 141.6h1.2M120.2 141.6h1.2M113.8 142.7h2.1M115.2 143.9h1.2M287.0 146.2h1.1M119.5 147.3h1.1M114.5 148.5h2.0M277.9 148.5h1.1M115.1 149.6h1.1M120.5 149.6h2.0M115.7 150.8h1.1M117.5 150.8h1.1M121.1 150.8h1.1M268.9 150.8h1.1M268.4 151.9h1.1M270.2 151.9h1.1M105.7 153.1h1.1M266.9 153.1h1.1M100.7 154.2h1.1M104.9 154.2h1.1M107.5 154.2h1.1M115.2 154.2h1.1M267.1 154.2h1.9M95.0 155.4h1.0M100.1 155.4h1.0M105.1 155.4h1.9M108.5 155.4h1.9M111.0 155.4h1.0M112.7 155.4h1.0M269.6 155.4h1.0M272.1 155.4h1.9M279.7 155.4h1.0M64.0 156.5h1.0M66.5 156.5h1.0M74.7 156.5h1.0M93.8 156.5h1.0M95.4 156.5h2.7M105.4 156.5h1.0M109.5 156.5h1.0M112.8 156.5h1.0M116.1 156.5h1.0M76.6 157.6h1.8M87.1 157.6h1.0M97.7 157.6h1.0M99.3 157.6h1.0M100.9 157.6h1.0M105.0 157.6h1.0M106.6 157.6h2.6M109.8 157.6h2.6M117.1 157.6h1.8M119.6 157.6h1.0M121.2 157.6h1.8M103.1 158.8h1.8M106.3 158.8h1.0" stroke="#75d054"/><path d="M127.7 6.3h1.0M130.9 6.3h1.0M133.3 6.3h1.0M125.2 7.5h1.0M130.9 7.5h1.0M132.5 7.5h2.6M120.3 8.6h1.0M230.4 8.6h1.0M120.3 9.7h2.7M149.0 9.7h1.0M229.1 9.7h1.0M231.6 9.7h1.0M117.8 10.9h1.1M121.2 10.9h1.9M148.7 10.9h1.1M175.3 10.9h1.1M230.2 10.9h1.1M231.9 10.9h1.9M238.8 10.9h1.1M116.2 12.0h1.1M120.6 12.0h1.1M146.7 12.0h1.1M148.4 12.0h1.1M236.5 12.0h2.8M239.9 12.0h1.1M115.5 13.2h1.1M147.3 13.2h3.7M211.9 13.2h1.1M226.9 13.2h1.1M240.1 13.2h1.1M148.9 14.3h2.9M226.8 14.3h1.1M229.5 14.3h2.0M146.9 15.5h2.0M149.6 15.5h1.1M218.3 16.6h1.1M220.1 16.6h1.1M231.1 16.6h2.0M148.3 17.8h1.1M206.8 17.8h1.1M217.6 18.9h1.1M221.3 18.9h2.1M226.0 18.9h1.1M228.8 18.9h1.1M143.2 20.1h1.1M145.1 20.1h1.1M93.2 21.2h2.1M141.1 21.2h1.2M91.6 22.4h1.2M93.3 24.7h2.2M90.2 26.9h1.2M126.1 26.9h3.2M128.9 28.1h1.2M158.9 30.4h2.2M161.9 30.4h1.2M207.5 39.6h1.3M207.0 43.0h1.3M209.1 43.0h1.3M176.3 61.3h1.3M182.0 63.6h1.3M182.0 64.8h1.3M177.5 65.9h1.3M178.6 67.1h1.3M209.6 72.8h1.3M211.8 72.8h1.3M209.6 74.0h1.3M104.7 126.7h2.3M104.0 127.8h1.3M104.3 129.0h1.2M101.5 130.1h1.2M102.8 131.3h2.3M105.9 131.3h1.2M108.3 132.4h2.3M107.7 133.6h1.2M115.3 141.6h2.1M119.2 141.6h1.2M115.8 142.7h1.2M119.6 142.7h1.2M116.2 143.9h1.2M118.1 143.9h1.2M117.6 145.0h2.1M255.0 145.0h1.1M283.2 146.2h2.1M286.1 146.2h1.1M111.1 147.3h1.1M114.9 147.3h1.1M279.2 147.3h1.1M113.6 148.5h1.1M116.3 148.5h1.1M118.2 148.5h3.0M277.0 148.5h1.1M114.2 149.6h1.1M116.0 149.6h1.1M118.7 149.6h2.0M273.0 149.6h2.0M114.8 150.8h1.1M116.6 150.8h1.1M118.4 150.8h1.1M269.8 150.8h1.1M271.6 150.8h1.1M72.2 151.9h1.1M99.6 151.9h1.1M113.7 151.9h1.1M267.6 151.9h1.1M101.4 153.1h1.1M104.9 153.1h1.1M115.3 153.1h1.1M41.5 154.2h1.1M101.5 154.2h1.9M104.1 154.2h1.1M108.4 154.2h1.1M110.1 154.2h1.1M111.8 154.2h1.9M116.1 154.2h1.1M170.1 154.2h1.1M265.4 154.2h1.9M45.2 155.4h1.0M73.1 155.4h1.0M97.5 155.4h1.0M111.9 155.4h1.0M113.5 155.4h2.7M263.7 155.4h1.9M268.7 155.4h1.0M270.4 155.4h1.0M277.2 155.4h1.0M280.6 155.4h1.0M283.9 155.4h1.0M285.6 155.4h1.0M47.4 156.5h3.5M59.8 156.5h1.0M62.3 156.5h1.9M67.3 156.5h1.0M73.9 156.5h1.0M75.6 156.5h1.0M97.9 156.5h1.0M111.2 156.5h1.9M114.5 156.5h1.0M268.5 156.5h1.0M271.8 156.5h2.7M52.2 157.6h1.0M54.7 157.6h1.0M56.3 157.6h1.0M62.0 157.6h1.0M63.6 157.6h1.8M69.3 157.6h1.8M71.7 157.6h1.0M75.8 157.6h1.0M78.2 157.6h1.0M85.5 157.6h1.8M94.4 157.6h3.4M98.5 157.6h1.0M109.0 157.6h1.0M112.3 157.6h1.0M113.9 157.6h3.4M118.8 157.6h1.0M122.8 157.6h1.0M128.5 157.6h1.0M203.1 157.6h1.0M269.7 157.6h1.0M102.4 158.8h1.0M107.1 158.8h1.0M111.9 158.8h1.8M116.6 158.8h1.0M121.4 158.8h1.8M130.1 158.8h1.0M106.3 159.9h1.0M96.8 161.1h0.9M107.3 161.1h1.7M265.5 161.1h0.9M100.2 163.4h0.9" stroke="#addc30"/><path d="M126.1 6.3h1.8M131.7 6.3h1.8M134.1 6.3h1.0M138.0 6.3h1.0M126.9 7.5h1.0M130.1 7.5h1.0M131.7 7.5h1.0M135.0 7.5h1.0M228.3 7.5h1.8M124.4 8.6h1.9M130.2 8.6h1.9M146.8 8.6h1.0M149.3 8.6h1.9M229.6 8.6h1.0M232.9 8.6h1.9M119.5 9.7h1.0M149.8 9.7h1.0M228.3 9.7h1.0M229.9 9.7h1.9M120.4 10.9h1.1M147.8 10.9h1.1M174.4 10.9h1.1M211.3 10.9h1.1M237.1 10.9h1.1M150.2 12.0h1.1M241.7 12.0h1.9M116.4 13.2h1.1M119.0 13.2h1.1M226.0 13.2h1.1M228.7 13.2h1.1M147.1 14.3h2.0M210.7 14.3h1.1M225.9 14.3h1.1M227.7 14.3h1.1M215.8 15.5h2.0M228.5 15.5h3.8M145.7 16.6h1.1M203.6 16.6h1.1M228.4 16.6h1.1M230.2 16.6h1.1M146.4 17.8h2.1M205.9 17.8h1.1M214.2 17.8h1.1M217.9 17.8h1.1M219.8 17.8h2.1M229.1 17.8h1.1M145.3 18.9h1.1M218.5 18.9h1.1M225.1 18.9h1.1M141.3 20.1h1.1M123.9 21.2h1.2M140.1 21.2h1.2M126.4 22.4h1.2M129.7 24.7h2.2M129.4 25.8h2.2M129.1 26.9h2.2M129.9 28.1h1.2M208.1 43.0h1.3M179.7 63.6h1.3M179.8 65.9h1.3M179.8 67.1h1.3M210.7 74.0h1.3M208.5 75.1h1.3M208.5 76.2h1.3M209.7 77.4h1.3M110.4 132.4h1.2M133.1 132.4h3.3M109.7 133.6h1.2M118.3 141.6h1.2M116.7 142.7h3.1M249.0 142.7h1.2M113.3 143.9h2.1M112.9 145.0h1.1M114.8 145.0h1.1M116.7 145.0h1.1M254.1 145.0h1.1M111.5 146.2h4.0M119.0 146.2h1.1M272.0 146.2h2.1M285.1 146.2h1.1M113.9 147.3h1.1M115.8 147.3h3.9M158.5 147.3h1.1M280.1 147.3h2.1M93.4 148.5h1.1M117.2 148.5h1.1M274.3 148.5h2.0M95.1 149.6h1.1M108.7 149.6h1.1M116.9 149.6h2.0M170.4 149.6h1.1M70.0 150.8h2.0M89.7 150.8h1.1M98.7 150.8h1.1M113.9 150.8h1.1M120.2 150.8h1.1M171.3 150.8h1.1M270.7 150.8h1.1M71.3 151.9h1.1M90.7 151.9h2.0M98.7 151.9h1.1M114.6 151.9h1.1M116.4 151.9h2.0M212.7 151.9h1.1M53.5 153.1h1.1M90.9 153.1h1.1M99.6 153.1h1.9M102.3 153.1h1.1M114.5 153.1h1.1M119.7 153.1h1.1M170.2 153.1h1.9M266.1 153.1h1.1M92.1 154.2h1.9M97.2 154.2h2.8M111.0 154.2h1.1M113.5 154.2h1.1M43.5 155.4h1.0M46.1 155.4h1.0M57.9 155.4h1.0M64.6 155.4h1.0M66.3 155.4h1.0M93.3 155.4h1.9M95.8 155.4h1.0M110.2 155.4h1.0M271.3 155.4h1.0M278.0 155.4h1.0M281.4 155.4h1.9M284.8 155.4h1.0M54.0 156.5h1.0M59.0 156.5h1.0M61.5 156.5h1.0M68.1 156.5h1.0M84.7 156.5h1.0M93.0 156.5h1.0M117.8 156.5h1.0M119.5 156.5h1.0M121.9 156.5h1.9M126.9 156.5h3.5M135.2 156.5h1.0M194.8 156.5h1.9M267.7 156.5h1.0M50.6 157.6h1.8M53.9 157.6h1.0M55.5 157.6h1.0M57.9 157.6h1.0M62.8 157.6h1.0M70.9 157.6h1.0M83.9 157.6h1.8M87.9 157.6h2.6M113.1 157.6h1.0M123.6 157.6h1.8M126.9 157.6h1.0M129.3 157.6h1.0M69.8 158.8h1.8M77.0 158.8h1.0M78.6 158.8h1.0M85.7 158.8h1.0M88.1 158.8h1.0M91.2 158.8h1.8M98.4 158.8h1.0M101.6 158.8h1.0M107.9 158.8h1.0M113.5 158.8h1.0M118.2 158.8h1.0M119.8 158.8h1.8M123.0 158.8h1.0M129.3 158.8h1.0M136.5 158.8h1.0M77.7 159.9h2.5M107.0 159.9h1.0M117.9 159.9h1.7M185.1 159.9h1.0M204.4 159.9h1.0M268.5 159.9h1.0M81.0 161.1h0.9M108.8 161.1h0.9M183.7 161.1h0.9M201.0 161.1h0.9M262.5 161.1h0.9M109.3 162.2h0.9M110.8 162.2h0.9M259.0 162.2h0.9M261.9 162.2h0.9M87.8 163.4h0.9M131.2 163.4h0.9M255.3 163.4h0.9" stroke="#e5e419"/></g></g>
<use href="#land" fill="none" stroke="#000" stroke-width="0.75" stroke-linejoin="round"/>
<use href="#lake" fill="none" stroke="#000" stroke-width="0.75"/>
</g>
<use href="#bndr" fill="none" stroke="#000" stroke-width="1"/>
</g>
<rect x="380.25" y="193.20" width="21.30" height="10.60" fill="#471063"/><rect x="401.25" y="193.20" width="21.30" height="10.60" fill="#472d7b"/><rect x="422.25" y="193.20" width="21.30" height="10.60" fill="#404688"/><rect x="443.25" y="193.20" width="21.30" height="10.60" fill="#365d8d"/><rect x="464.25" y="193.20" width="21.30" height="10.60" fill="#2c728e"/><rect x="485.25" y="193.20" width="21.30" height="10.60" fill="#24868e"/><rect x="506.25" y="193.20" width="21.30" height="10.60" fill="#1f9a8a"/><rect x="527.25" y="193.20" width="21.30" height="10.60" fill="#28ae80"/><rect x="548.25" y="193.20" width="21.30" height="10.60" fill="#48c16e"/><rect x="569.25" y="193.20" width="21.30" height="10.60" fill="#75d054"/><rect x="590.25" y="193.20" width="21.30" height="10.60" fill="#addc30"/><rect x="611.25" y="193.20" width="21.30" height="10.60" fill="#e5e419"/><path d="M632.25 193.20L645.25 198.50L632.25 203.80Z" fill="#fde725"/><path d="M401.25 193.20V203.80M422.25 193.20V203.80M443.25 193.20V203.80M464.25 193.20V203.80M485.25 193.20V203.80M506.25 193.20V203.80M527.25 193.20V203.80M548.25 193.20V203.80M569.25 193.20V203.80M590.25 193.20V203.80M611.25 193.20V203.80M632.25 193.20V203.80" stroke="#000" stroke-width="0.6" fill="none"/><path d="M380.25 193.20H632.25L645.25 198.50L632.25 203.80H380.25Z" stroke="#000" stroke-width="0.9" fill="none" stroke-linejoin="miter"/><text x="380.35" y="215.70" font-size="10.4" letter-spacing="0.25" text-anchor="middle">0</text><text x="422.35" y="215.70" font-size="10.4" letter-spacing="0.25" text-anchor="middle">100</text><text x="464.35" y="215.70" font-size="10.4" letter-spacing="0.25" text-anchor="middle">200</text><text x="506.35" y="215.70" font-size="10.4" letter-spacing="0.25" text-anchor="middle">300</text><text x="548.35" y="215.70" font-size="10.4" letter-spacing="0.25" text-anchor="middle">400</text><text x="590.35" y="215.70" font-size="10.4" letter-spacing="0.25" text-anchor="middle">500</text><text x="632.35" y="215.70" font-size="10.4" letter-spacing="0.25" text-anchor="middle">600</text><text x="649.20" y="202.20" font-size="11">W m<tspan dy="-4" font-size="7.7">−2</tspan></text>
<text x="513.10" y="243.45" font-size="15.4" letter-spacing="0.18" text-anchor="middle">(e) WPD(1hour), ERA5 reanalysis</text>
<g transform="translate(347.50 248.20)">
<g clip-path="url(#cbr)">
<g clip-path="url(#cl)"><rect x="-1" y="-1" width="332" height="167" fill="#fde725"/><g fill="none" stroke-width="1.50"><path d="M61.6 28.1h1.2M58.3 33.8h1.2M59.2 38.4h2.3M59.8 39.6h2.3M257.1 53.3h3.5M256.2 54.5h6.9M255.3 55.6h9.1M247.7 56.8h15.8M245.7 57.9h17.0M244.7 59.0h11.4M259.3 59.0h2.4M243.8 60.2h13.7M260.6 60.2h1.3M243.9 61.3h13.7M245.2 62.5h12.6M68.8 63.6h2.5M245.3 63.6h1.3M247.6 63.6h10.4M68.7 64.8h3.6M248.8 64.8h10.4M69.7 65.9h2.5M249.0 65.9h10.4M250.2 67.1h9.3M251.5 68.2h5.9M252.7 69.4h4.8M254.0 70.5h2.5M254.0 71.7h2.5M153.6 72.8h1.3M254.1 72.8h2.5M151.3 74.0h8.2M160.4 74.0h1.3M162.7 74.0h3.6M254.2 74.0h3.6M152.4 75.1h18.5M171.9 75.1h7.1M254.2 75.1h3.6M271.4 75.1h1.3M92.9 76.2h2.5M153.6 76.2h26.5M189.0 76.2h2.5M255.4 76.2h3.6M270.3 76.2h3.6M92.8 77.4h7.1M154.7 77.4h26.5M182.2 77.4h10.5M253.2 77.4h7.1M269.2 77.4h5.9M92.8 78.5h9.4M155.8 78.5h9.4M169.6 78.5h24.3M252.1 78.5h9.4M268.1 78.5h7.1M92.8 79.7h14.0M170.7 79.7h1.3M173.0 79.7h20.8M253.3 79.7h8.2M265.9 79.7h8.2M91.6 80.8h18.5M112.3 80.8h1.3M173.0 80.8h20.8M254.4 80.8h7.1M264.7 80.8h9.4M275.1 80.8h4.8M281.9 80.8h1.3M90.5 82.0h1.3M92.8 82.0h24.3M173.0 82.0h22.0M254.4 82.0h7.1M263.6 82.0h20.8M285.4 82.0h2.5M92.8 83.1h23.1M171.9 83.1h23.1M255.6 83.1h5.9M264.7 83.1h15.1M281.9 83.1h1.3M284.2 83.1h4.8M291.1 83.1h1.3M95.1 84.3h23.1M119.1 84.3h3.6M173.0 84.3h22.0M256.7 84.3h5.9M264.7 84.3h12.8M281.9 84.3h14.0M95.1 85.4h23.1M119.2 85.4h3.6M173.0 85.4h22.0M256.7 85.4h7.1M265.9 85.4h12.8M281.9 85.4h16.2M303.7 85.4h1.3M95.1 86.6h26.6M174.2 86.6h19.7M257.8 86.6h5.9M267.0 86.6h4.8M273.9 86.6h4.8M283.0 86.6h1.3M286.5 86.6h12.8M301.4 86.6h3.6M95.1 87.7h26.5M175.3 87.7h18.5M258.9 87.7h9.4M288.7 87.7h16.2M95.2 88.9h26.5M175.3 88.9h17.4M260.0 88.9h4.8M290.9 88.9h12.8M95.2 90.0h25.4M175.3 90.0h16.2M261.1 90.0h2.5M264.5 90.0h2.5M289.7 90.0h2.5M294.3 90.0h7.1M96.4 91.1h25.4M176.4 91.1h4.8M182.2 91.1h8.2M297.6 91.1h4.8M95.3 92.3h1.3M99.9 92.3h20.8M179.9 92.3h1.3M182.1 92.3h7.1M299.8 92.3h1.3M101.1 93.4h19.6M186.7 93.4h1.3M102.3 94.6h17.3M104.6 95.7h13.9M104.7 96.9h3.6M109.2 96.9h8.2M107.0 98.0h8.2M116.1 98.0h1.3M107.1 99.2h1.3M113.9 99.2h1.3M116.2 99.2h1.3" stroke="#471063"/><path d="M55.0 21.2h3.1M58.8 21.2h3.1M46.2 22.4h2.1M54.0 22.4h8.9M255.8 22.4h1.2M45.2 23.5h4.1M50.1 23.5h16.8M245.8 23.5h4.1M250.7 23.5h1.2M256.5 23.5h1.2M258.5 23.5h1.2M260.4 23.5h1.2M45.2 24.7h3.1M50.1 24.7h16.9M70.7 24.7h1.2M236.7 24.7h1.2M245.5 24.7h1.2M247.5 24.7h3.1M251.4 24.7h5.1M257.3 24.7h4.1M262.2 24.7h1.2M44.3 25.8h1.2M48.2 25.8h23.0M215.5 25.8h3.2M237.2 25.8h1.2M244.2 25.8h16.0M261.0 25.8h1.2M263.0 25.8h1.2M44.4 26.9h1.2M48.4 26.9h23.1M214.8 26.9h2.2M236.8 26.9h1.2M238.8 26.9h2.2M244.8 26.9h19.1M48.5 28.1h13.3M62.6 28.1h8.2M216.2 28.1h1.2M246.3 28.1h3.2M250.3 28.1h13.3M52.8 29.2h18.4M245.9 29.2h18.4M55.1 30.4h15.5M248.4 30.4h1.2M253.5 30.4h10.4M56.5 31.5h12.5M253.1 31.5h3.3M257.2 31.5h9.4M55.8 32.7h13.6M247.4 32.7h1.2M254.6 32.7h1.2M257.7 32.7h8.4M54.1 33.8h4.3M59.3 33.8h8.5M54.6 35.0h1.2M57.7 35.0h9.6M58.2 36.1h8.6M57.6 37.3h8.6M173.4 37.3h2.3M58.2 38.4h1.3M61.3 38.4h6.5M170.3 38.4h8.7M58.7 39.6h1.3M61.9 39.6h6.6M168.2 39.6h9.8M58.3 40.7h10.9M168.2 40.7h10.9M57.8 41.8h7.7M66.4 41.8h2.3M168.2 41.8h10.9M56.3 43.0h12.0M168.2 43.0h12.0M181.1 43.0h1.3M56.9 44.1h12.1M171.5 44.1h1.3M176.9 44.1h1.3M179.0 44.1h3.4M227.7 44.1h4.5M56.5 45.3h12.1M179.1 45.3h3.5M224.7 45.3h7.8M56.1 46.4h10.0M178.1 46.4h1.3M226.0 46.4h7.8M56.8 47.6h8.9M227.3 47.6h6.8M284.1 47.6h1.3M56.5 48.7h11.2M226.4 48.7h7.9M277.9 48.7h2.4M283.4 48.7h1.3M57.2 49.9h10.1M225.5 49.9h7.9M256.3 49.9h5.7M262.9 49.9h2.4M283.8 49.9h3.5M58.0 51.0h11.2M90.0 51.0h2.4M94.4 51.0h1.3M225.7 51.0h7.9M254.3 51.0h11.2M284.1 51.0h2.4M58.8 52.2h11.3M89.8 52.2h2.4M225.8 52.2h7.9M253.5 52.2h12.4M269.0 52.2h2.4M60.7 53.3h10.2M89.6 53.3h1.3M228.2 53.3h4.6M251.5 53.3h5.7M260.4 53.3h12.4M282.6 53.3h1.3M60.4 54.5h1.3M63.8 54.5h8.0M89.4 54.5h1.3M228.4 54.5h2.4M231.7 54.5h1.3M234.0 54.5h2.4M250.6 54.5h5.8M262.9 54.5h11.3M280.7 54.5h1.3M64.6 55.6h6.9M233.0 55.6h8.0M247.5 55.6h8.0M264.2 55.6h10.2M64.4 56.8h6.9M233.2 56.8h14.7M263.4 56.8h11.4M66.4 57.9h3.6M233.3 57.9h12.5M262.5 57.9h11.4M67.3 59.0h2.4M234.6 59.0h10.3M255.9 59.0h3.6M261.6 59.0h8.1M67.1 60.2h3.6M235.9 60.2h8.1M257.3 60.2h3.6M261.8 60.2h9.2M68.1 61.3h4.7M234.9 61.3h9.2M257.4 61.3h13.7M69.0 62.5h5.8M233.9 62.5h11.5M257.6 62.5h12.6M23.6 63.6h1.3M71.1 63.6h7.0M234.0 63.6h11.5M257.8 63.6h9.3M22.2 64.8h3.6M72.1 64.8h5.9M233.0 64.8h10.4M259.0 64.8h8.1M23.2 65.9h1.3M71.9 65.9h4.7M85.6 65.9h1.3M234.2 65.9h8.1M259.2 65.9h3.6M272.8 65.9h1.3M71.8 67.1h4.7M82.0 67.1h7.0M237.7 67.1h3.6M259.3 67.1h4.7M74.0 68.2h1.3M80.8 68.2h7.0M257.2 68.2h8.2M274.2 68.2h1.3M80.7 69.4h9.3M257.3 69.4h8.2M275.5 69.4h1.3M81.8 70.5h8.2M256.2 70.5h7.0M273.3 70.5h3.6M277.9 70.5h1.3M85.1 71.7h2.5M88.5 71.7h1.3M150.2 71.7h18.5M197.0 71.7h3.6M256.3 71.7h8.2M274.6 71.7h1.3M276.9 71.7h3.6M86.2 72.8h3.6M91.9 72.8h1.3M150.1 72.8h3.6M154.7 72.8h23.1M178.7 72.8h1.3M190.1 72.8h1.3M192.4 72.8h5.9M199.3 72.8h1.3M256.4 72.8h1.3M258.7 72.8h5.9M275.8 72.8h4.8M86.1 74.0h9.3M159.3 74.0h1.3M161.6 74.0h1.3M166.1 74.0h19.6M187.9 74.0h8.2M197.0 74.0h2.5M259.9 74.0h3.6M275.9 74.0h5.9M87.2 75.1h10.5M111.2 75.1h1.3M170.7 75.1h1.3M178.7 75.1h17.4M276.0 75.1h5.9M89.4 76.2h2.5M95.2 76.2h7.1M104.3 76.2h1.3M108.9 76.2h7.1M179.9 76.2h9.4M191.3 76.2h3.6M277.2 76.2h4.8M99.7 77.4h7.1M108.9 77.4h9.4M181.0 77.4h1.3M192.5 77.4h2.5M278.4 77.4h2.5M102.0 78.5h17.4M193.6 78.5h1.3M106.5 79.7h12.8M193.7 79.7h1.3M110.0 80.8h2.5M113.4 80.8h7.1M193.7 80.8h1.3M91.6 82.0h1.3M116.8 82.0h4.8M194.8 82.0h1.3M90.5 83.1h2.5M115.7 83.1h8.2M194.8 83.1h3.6M89.3 84.3h5.9M118.0 84.3h1.3M122.6 84.3h2.5M194.8 84.3h4.8M90.5 85.4h4.8M118.0 85.4h1.3M122.6 85.4h2.5M194.8 85.4h3.6M280.8 85.4h1.3M94.0 86.6h1.3M121.5 86.6h4.8M193.6 86.6h3.6M281.9 86.6h1.3M304.8 86.6h1.3M94.0 87.7h1.3M121.5 87.7h3.6M193.6 87.7h3.6M276.1 87.7h1.3M92.9 88.9h2.5M121.5 88.9h3.6M192.5 88.9h8.2M264.6 88.9h7.1M92.9 90.0h2.5M120.4 90.0h3.6M191.3 90.0h10.5M263.4 90.0h1.3M266.8 90.0h5.9M292.0 90.0h2.5M93.0 91.1h3.6M121.6 91.1h2.5M181.0 91.1h1.3M190.2 91.1h11.6M266.8 91.1h4.8M290.8 91.1h1.3M293.1 91.1h3.6M93.0 92.3h2.5M96.4 92.3h3.6M120.4 92.3h3.6M176.4 92.3h3.6M181.0 92.3h1.3M189.0 92.3h11.6M295.2 92.3h1.3M93.1 93.4h8.2M120.5 93.4h4.8M126.2 93.4h2.5M176.4 93.4h10.5M187.8 93.4h12.8M201.5 93.4h1.3M94.3 94.6h8.2M119.4 94.6h9.3M175.3 94.6h24.1M94.4 95.7h4.8M100.1 95.7h4.8M118.3 95.7h12.7M175.3 95.7h26.4M95.6 96.9h3.6M100.1 96.9h4.8M108.1 96.9h1.3M117.2 96.9h13.9M178.7 96.9h13.9M193.4 96.9h9.3M96.8 98.0h1.3M100.2 98.0h7.0M115.0 98.0h1.3M117.3 98.0h13.8M178.6 98.0h22.9M101.5 99.2h5.9M108.3 99.2h5.9M115.1 99.2h1.3M117.3 99.2h13.8M177.5 99.2h3.6M182.0 99.2h18.4M103.8 100.3h26.3M183.1 100.3h1.3M188.8 100.3h9.3M206.9 100.3h1.3M102.8 101.5h27.4M188.8 101.5h9.3M105.1 102.6h23.9M189.8 102.6h5.8M106.4 103.8h1.3M108.6 103.8h19.4M190.9 103.8h4.7M109.9 104.9h16.0M193.1 104.9h1.3M111.1 106.1h10.3M193.1 106.1h1.3M119.1 107.2h1.3M100.3 109.5h2.4M100.5 110.6h3.5M100.7 111.8h3.5M100.8 112.9h2.4M99.9 114.1h3.5" stroke="#472d7b"/><path d="M58.2 17.8h2.1M53.3 18.9h7.7M52.2 20.1h10.6M246.5 20.1h4.0M266.4 20.1h1.1M43.5 21.2h1.2M45.4 21.2h9.8M57.8 21.2h1.2M61.7 21.2h3.1M174.6 21.2h1.2M238.7 21.2h1.2M240.6 21.2h1.2M244.4 21.2h8.8M255.9 21.2h2.1M260.7 21.2h6.9M269.3 21.2h4.0M42.4 22.4h4.1M48.2 22.4h6.0M62.6 22.4h6.0M69.4 22.4h2.1M72.3 22.4h1.2M74.2 22.4h1.2M172.7 22.4h6.0M180.4 22.4h1.2M182.4 22.4h1.2M235.5 22.4h20.5M256.7 22.4h11.8M269.3 22.4h5.0M282.8 22.4h1.2M41.3 23.5h4.1M49.1 23.5h1.2M66.6 23.5h9.0M170.8 23.5h10.9M208.8 23.5h1.2M212.7 23.5h1.2M216.6 23.5h1.2M231.2 23.5h1.2M235.1 23.5h10.9M249.7 23.5h1.2M251.7 23.5h5.1M257.5 23.5h1.2M259.5 23.5h1.2M261.4 23.5h12.9M278.9 23.5h2.1M289.7 23.5h1.2M40.3 24.7h5.1M48.2 24.7h2.2M66.8 24.7h4.1M71.7 24.7h3.1M168.9 24.7h14.9M192.5 24.7h4.1M204.3 24.7h7.1M212.1 24.7h7.1M221.9 24.7h1.2M233.7 24.7h3.1M237.7 24.7h8.1M246.5 24.7h1.2M250.4 24.7h1.2M256.3 24.7h1.2M261.2 24.7h1.2M263.2 24.7h11.0M280.9 24.7h1.2M40.3 25.8h4.2M45.3 25.8h3.2M71.0 25.8h3.2M168.0 25.8h1.2M169.9 25.8h2.2M172.9 25.8h1.2M174.9 25.8h3.2M180.8 25.8h2.2M188.7 25.8h2.2M191.7 25.8h5.1M202.6 25.8h13.1M218.4 25.8h1.2M220.4 25.8h1.2M222.4 25.8h9.1M232.3 25.8h5.1M238.2 25.8h6.1M260.0 25.8h1.2M262.0 25.8h1.2M264.0 25.8h12.1M278.8 25.8h1.2M281.8 25.8h1.2M41.4 26.9h3.2M45.4 26.9h3.2M71.3 26.9h2.2M74.3 26.9h1.2M173.0 26.9h6.2M189.9 26.9h6.2M202.9 26.9h12.2M216.8 26.9h6.2M224.8 26.9h12.2M237.8 26.9h1.2M240.8 26.9h4.2M263.7 26.9h12.2M279.6 26.9h1.2M39.5 28.1h7.2M70.6 28.1h6.2M179.1 28.1h1.2M204.2 28.1h12.2M217.2 28.1h5.2M226.2 28.1h7.2M234.3 28.1h12.2M249.3 28.1h1.2M263.4 28.1h15.3M42.7 29.2h1.2M71.0 29.2h4.2M190.3 29.2h1.2M206.4 29.2h16.4M226.7 29.2h1.2M228.7 29.2h5.3M234.8 29.2h11.3M264.1 29.2h10.3M70.4 30.4h4.3M207.7 30.4h2.2M211.8 30.4h1.2M213.8 30.4h4.3M218.9 30.4h2.2M229.1 30.4h3.3M233.2 30.4h1.2M237.2 30.4h4.3M242.3 30.4h6.3M249.5 30.4h4.3M263.7 30.4h11.4M275.9 30.4h1.2M68.8 31.5h5.3M197.8 31.5h1.2M214.1 31.5h2.2M229.5 31.5h2.2M243.8 31.5h9.4M256.1 31.5h1.2M266.4 31.5h9.4M69.2 32.7h2.3M214.4 32.7h1.2M244.3 32.7h3.3M248.4 32.7h6.4M255.6 32.7h2.3M265.9 32.7h9.5M67.6 33.8h2.3M241.7 33.8h1.2M244.8 33.8h31.3M67.1 35.0h1.2M181.7 35.0h1.2M242.1 35.0h1.2M244.2 35.0h12.7M258.8 35.0h17.9M66.6 36.1h2.3M171.3 36.1h1.2M173.4 36.1h2.3M176.5 36.1h6.5M240.4 36.1h14.9M262.4 36.1h1.2M265.5 36.1h10.7M66.1 37.3h3.4M169.2 37.3h4.4M175.5 37.3h8.6M240.8 37.3h13.9M267.1 37.3h10.7M279.7 37.3h2.3M67.7 38.4h2.3M103.7 38.4h1.3M168.2 38.4h2.3M178.7 38.4h5.5M241.2 38.4h3.4M245.4 38.4h1.3M247.5 38.4h1.3M250.7 38.4h2.3M268.7 38.4h12.9M68.3 39.6h3.4M167.1 39.6h1.3M177.8 39.6h6.6M269.1 39.6h1.3M271.3 39.6h9.8M68.9 40.7h2.3M166.1 40.7h2.3M178.9 40.7h7.7M271.7 40.7h9.8M65.3 41.8h1.3M68.5 41.8h3.4M165.0 41.8h3.4M178.9 41.8h8.8M228.2 41.8h1.3M272.2 41.8h7.7M68.1 43.0h2.4M96.1 43.0h5.6M160.7 43.0h2.4M166.1 43.0h2.4M180.1 43.0h1.3M182.2 43.0h7.7M199.4 43.0h1.3M225.3 43.0h7.7M233.9 43.0h1.3M272.6 43.0h8.8M68.8 44.1h1.3M94.8 44.1h2.4M98.0 44.1h2.4M160.7 44.1h2.4M167.2 44.1h2.4M172.6 44.1h4.5M178.0 44.1h1.3M182.3 44.1h6.7M189.9 44.1h4.5M195.3 44.1h6.7M224.4 44.1h3.4M232.0 44.1h3.4M236.3 44.1h3.4M273.1 44.1h1.3M275.2 44.1h5.6M68.5 45.3h1.3M97.7 45.3h5.6M157.4 45.3h2.4M160.7 45.3h2.4M166.1 45.3h2.4M171.5 45.3h3.5M175.8 45.3h3.5M182.4 45.3h21.9M222.5 45.3h2.4M232.3 45.3h5.6M238.8 45.3h1.3M272.4 45.3h5.6M65.9 46.4h4.6M91.0 46.4h5.6M98.6 46.4h2.4M158.5 46.4h7.8M171.5 46.4h1.3M177.0 46.4h1.3M179.2 46.4h1.3M181.3 46.4h4.6M186.8 46.4h2.4M190.0 46.4h14.4M222.7 46.4h3.5M233.6 46.4h2.4M236.9 46.4h1.3M271.7 46.4h5.6M285.9 46.4h2.4M289.1 46.4h1.3M65.6 47.6h4.6M90.7 47.6h10.0M158.4 47.6h7.8M175.9 47.6h1.3M178.1 47.6h1.3M182.5 47.6h1.3M189.0 47.6h10.0M200.0 47.6h3.5M221.8 47.6h5.7M233.8 47.6h2.4M256.8 47.6h1.3M274.3 47.6h4.6M285.2 47.6h4.6M67.4 48.7h3.5M90.5 48.7h7.9M157.3 48.7h10.1M184.7 48.7h1.3M189.1 48.7h7.9M205.6 48.7h1.3M223.1 48.7h3.5M234.1 48.7h1.3M254.9 48.7h13.4M274.6 48.7h3.5M284.5 48.7h5.7M67.1 49.9h3.5M89.1 49.9h11.2M158.4 49.9h5.7M192.5 49.9h2.4M204.6 49.9h3.5M223.3 49.9h2.4M233.2 49.9h1.3M253.0 49.9h3.5M261.8 49.9h1.3M265.1 49.9h4.6M275.0 49.9h4.6M280.5 49.9h1.3M282.7 49.9h1.3M287.1 49.9h3.5M69.0 51.0h1.3M87.8 51.0h2.4M92.2 51.0h2.4M95.5 51.0h3.5M157.3 51.0h4.6M202.5 51.0h7.9M223.5 51.0h2.4M233.4 51.0h1.3M251.0 51.0h3.5M265.4 51.0h6.8M276.4 51.0h2.4M279.7 51.0h4.6M286.3 51.0h3.5M69.9 52.2h1.3M87.6 52.2h2.4M92.0 52.2h4.6M203.7 52.2h1.3M205.9 52.2h3.5M224.7 52.2h1.3M233.6 52.2h2.4M250.2 52.2h3.5M265.7 52.2h3.5M271.2 52.2h2.4M278.9 52.2h7.9M70.7 53.3h1.3M85.1 53.3h4.6M90.7 53.3h4.6M202.7 53.3h1.3M204.9 53.3h5.7M224.9 53.3h3.5M232.7 53.3h4.6M249.3 53.3h2.4M272.6 53.3h1.3M279.3 53.3h3.5M61.6 54.5h2.4M83.8 54.5h5.8M90.5 54.5h3.5M206.2 54.5h2.4M209.5 54.5h1.3M226.2 54.5h2.4M230.6 54.5h1.3M232.9 54.5h1.3M236.2 54.5h3.5M247.3 54.5h3.5M61.3 55.6h3.5M71.3 55.6h1.3M82.5 55.6h11.4M225.2 55.6h8.0M240.8 55.6h3.5M245.3 55.6h2.4M61.0 56.8h3.6M71.1 56.8h2.4M83.4 56.8h2.4M90.1 56.8h4.7M211.9 56.8h1.3M225.4 56.8h8.0M61.9 57.9h4.7M69.8 57.9h3.6M91.1 57.9h2.4M230.0 57.9h3.6M62.8 59.0h4.7M69.6 59.0h3.6M232.4 59.0h2.4M269.4 59.0h4.7M66.0 60.2h1.3M70.5 60.2h3.6M232.5 60.2h3.6M270.8 60.2h4.7M72.6 61.3h2.5M231.5 61.3h3.6M272.1 61.3h3.6M74.7 62.5h3.6M84.8 62.5h1.3M93.9 62.5h1.3M231.6 62.5h2.5M273.4 62.5h1.3M85.8 63.6h1.3M92.6 63.6h5.9M100.5 63.6h1.3M230.6 63.6h3.6M77.8 64.8h1.3M84.6 64.8h2.5M94.7 64.8h2.5M230.7 64.8h2.5M273.8 64.8h2.5M76.5 65.9h3.6M81.0 65.9h4.7M93.5 65.9h3.6M229.7 65.9h4.7M263.7 65.9h2.5M273.9 65.9h3.6M76.4 67.1h1.3M79.8 67.1h2.5M230.9 67.1h7.0M273.0 67.1h4.7M75.1 68.2h2.5M79.7 68.2h1.3M87.6 68.2h2.5M231.0 68.2h9.3M273.1 68.2h1.3M275.4 68.2h1.3M79.6 69.4h1.3M155.9 69.4h2.5M198.0 69.4h1.3M201.5 69.4h1.3M232.2 69.4h3.6M236.8 69.4h2.5M273.2 69.4h2.5M149.0 70.5h11.6M161.6 70.5h7.0M170.7 70.5h1.3M193.5 70.5h8.2M232.3 70.5h5.9M263.1 70.5h2.5M87.4 71.7h1.3M149.0 71.7h1.3M168.4 71.7h7.0M182.1 71.7h2.5M192.4 71.7h4.8M200.4 71.7h1.3M232.3 71.7h2.5M236.9 71.7h1.3M264.3 71.7h1.3M85.0 72.8h1.3M177.6 72.8h1.3M179.9 72.8h10.5M191.3 72.8h1.3M198.1 72.8h1.3M200.4 72.8h1.3M233.6 72.8h1.3M95.3 74.0h3.6M103.3 74.0h4.8M185.6 74.0h2.5M195.9 74.0h1.3M199.3 74.0h3.6M97.5 75.1h13.9M195.9 75.1h5.9M237.1 75.1h3.6M102.0 76.2h2.5M105.5 76.2h3.6M194.8 76.2h5.9M237.1 76.2h3.6M106.6 77.4h2.5M194.8 77.4h1.3M238.3 77.4h1.3M194.8 78.5h1.3M194.8 79.7h1.3M194.8 80.8h1.3M196.0 82.0h1.3M198.2 83.1h1.3M124.9 84.3h1.3M199.4 84.3h1.3M124.9 85.4h1.3M198.2 85.4h1.3M89.4 86.6h4.8M126.0 86.6h1.3M197.1 86.6h4.8M91.7 87.7h2.5M124.9 87.7h2.5M197.1 87.7h4.8M91.7 88.9h1.3M124.9 88.9h2.5M200.5 88.9h2.5M91.8 90.0h1.3M123.8 90.0h3.6M201.6 90.0h1.3M278.3 90.0h2.5M91.8 91.1h1.3M123.8 91.1h3.6M201.6 91.1h1.3M277.1 91.1h4.8M123.9 92.3h4.8M200.4 92.3h2.5M278.1 92.3h2.5M286.1 92.3h1.3M125.0 93.4h1.3M128.5 93.4h2.5M200.4 93.4h1.3M286.0 93.4h1.3M288.3 93.4h1.3M294.0 93.4h3.6M128.5 94.6h2.5M199.2 94.6h3.6M280.2 94.6h1.3M285.9 94.6h4.8M292.7 94.6h4.8M98.9 95.7h1.3M201.5 95.7h1.3M285.8 95.7h4.8M292.6 95.7h4.8M99.0 96.9h1.3M175.2 96.9h3.6M192.3 96.9h1.3M204.8 96.9h1.3M286.7 96.9h4.8M292.4 96.9h5.9M98.0 98.0h2.5M174.1 98.0h4.7M203.6 98.0h2.5M207.0 98.0h2.5M285.5 98.0h2.5M293.4 98.0h5.9M326.4 98.0h1.3M1.6 99.2h1.3M99.2 99.2h2.5M175.2 99.2h2.5M180.9 99.2h1.3M203.6 99.2h5.9M294.4 99.2h4.7M325.0 99.2h3.6M100.4 100.3h3.6M175.2 100.3h8.1M184.3 100.3h4.7M203.5 100.3h3.6M208.1 100.3h1.3M293.0 100.3h4.7M325.9 100.3h1.3M100.5 101.5h2.5M176.3 101.5h1.3M182.0 101.5h7.0M203.5 101.5h4.7M295.1 101.5h3.6M100.6 102.6h4.7M181.9 102.6h8.1M195.5 102.6h2.5M204.5 102.6h4.7M100.7 103.8h5.8M107.5 103.8h1.3M187.5 103.8h3.6M195.4 103.8h2.5M300.3 103.8h2.5M100.9 104.9h7.0M108.7 104.9h1.3M186.4 104.9h7.0M194.3 104.9h3.6M298.9 104.9h4.7M99.9 106.1h5.8M108.9 106.1h2.4M121.2 106.1h2.4M187.5 106.1h5.8M194.2 106.1h2.4M297.5 106.1h5.8M100.0 107.2h9.2M110.1 107.2h9.2M120.2 107.2h2.4M189.6 107.2h5.8M297.2 107.2h6.9M100.2 108.3h11.4M118.1 108.3h4.7M191.8 108.3h1.3M194.1 108.3h1.3M295.8 108.3h8.0M102.6 109.5h5.8M110.4 109.5h1.3M119.3 109.5h2.4M295.5 109.5h8.0M103.8 110.6h1.3M108.3 110.6h1.3M297.4 110.6h4.6M104.0 111.8h1.3M298.1 111.8h3.5M103.0 112.9h2.4M297.8 112.9h2.4M103.2 114.1h1.3M297.4 114.1h2.4M100.1 115.2h4.6M99.2 116.4h4.6M317.4 116.4h1.3M319.6 116.4h2.4M99.4 117.5h4.6M319.0 117.5h3.5M99.7 118.7h4.6M99.9 119.8h1.3M313.6 119.8h1.3M312.0 121.0h2.4M310.3 122.1h2.4M285.7 149.6h2.0M288.4 149.6h1.1M282.4 150.8h2.9M279.9 151.9h3.7" stroke="#404688"/><path d="M48.4 16.6h1.1M50.2 16.6h2.0M53.0 16.6h2.0M45.2 17.8h2.1M48.9 17.8h9.5M60.1 17.8h1.1M254.1 17.8h2.1M42.1 18.9h1.1M43.9 18.9h2.1M46.8 18.9h3.0M50.5 18.9h3.0M60.8 18.9h4.0M70.2 18.9h2.1M73.0 18.9h2.1M244.8 18.9h5.8M257.0 18.9h1.1M258.8 18.9h2.1M261.7 18.9h2.1M265.4 18.9h3.0M269.2 18.9h1.1M277.6 18.9h2.1M285.1 18.9h3.0M43.7 20.1h8.7M62.6 20.1h2.1M65.5 20.1h1.1M67.4 20.1h1.1M69.3 20.1h5.9M174.5 20.1h2.1M177.3 20.1h1.1M238.0 20.1h4.0M242.7 20.1h1.1M244.6 20.1h2.1M250.3 20.1h1.1M252.2 20.1h1.1M256.0 20.1h10.6M267.4 20.1h4.9M273.1 20.1h1.1M278.7 20.1h4.0M285.4 20.1h4.0M39.6 21.2h4.0M44.4 21.2h1.2M64.5 21.2h12.6M173.6 21.2h1.2M175.5 21.2h4.0M180.3 21.2h3.1M188.9 21.2h1.2M234.9 21.2h4.0M239.6 21.2h1.2M241.6 21.2h3.1M253.0 21.2h3.1M257.8 21.2h3.1M267.4 21.2h2.1M273.1 21.2h1.2M276.0 21.2h8.8M285.6 21.2h3.1M289.4 21.2h4.0M38.5 22.4h4.1M68.4 22.4h1.2M71.3 22.4h1.2M73.3 22.4h1.2M75.2 22.4h2.1M178.5 22.4h2.1M181.4 22.4h1.2M183.3 22.4h1.2M191.1 22.4h2.1M200.7 22.4h4.1M208.5 22.4h7.0M227.8 22.4h4.1M232.6 22.4h1.2M234.5 22.4h1.2M268.3 22.4h1.2M274.1 22.4h8.9M283.8 22.4h11.8M38.4 23.5h3.1M75.4 23.5h1.2M77.4 23.5h1.2M181.6 23.5h2.1M185.5 23.5h4.1M190.3 23.5h6.0M199.1 23.5h1.2M201.0 23.5h8.0M209.8 23.5h3.1M213.7 23.5h3.1M217.6 23.5h2.1M224.4 23.5h1.2M228.3 23.5h3.1M232.2 23.5h3.1M274.1 23.5h5.1M280.9 23.5h7.0M288.7 23.5h1.2M290.6 23.5h1.2M293.6 23.5h1.2M295.5 23.5h1.2M39.3 24.7h1.2M74.7 24.7h4.1M184.6 24.7h8.1M196.4 24.7h8.1M211.1 24.7h1.2M219.0 24.7h3.1M222.9 24.7h11.0M274.0 24.7h7.1M281.8 24.7h7.1M290.7 24.7h2.2M35.4 25.8h2.2M39.3 25.8h1.2M74.0 25.8h4.2M169.0 25.8h1.2M171.9 25.8h1.2M173.9 25.8h1.2M177.9 25.8h2.2M182.8 25.8h2.2M185.8 25.8h1.2M187.8 25.8h1.2M190.7 25.8h1.2M196.7 25.8h6.1M219.4 25.8h1.2M221.4 25.8h1.2M231.3 25.8h1.2M275.8 25.8h3.2M279.8 25.8h2.2M282.8 25.8h5.1M38.4 26.9h3.2M73.3 26.9h1.2M75.3 26.9h3.2M168.0 26.9h5.2M179.0 26.9h1.2M181.0 26.9h4.2M187.9 26.9h2.2M195.9 26.9h7.2M222.8 26.9h2.2M275.7 26.9h4.2M280.6 26.9h8.2M36.5 28.1h3.2M76.6 28.1h2.2M168.0 28.1h1.2M171.0 28.1h8.2M180.1 28.1h1.2M182.1 28.1h4.2M187.1 28.1h1.2M189.1 28.1h11.2M201.1 28.1h3.2M222.2 28.1h4.2M233.3 28.1h1.2M278.5 28.1h9.2M293.5 28.1h2.2M35.6 29.2h1.2M38.6 29.2h2.2M75.0 29.2h3.2M171.1 29.2h3.2M176.1 29.2h4.2M182.2 29.2h2.2M187.2 29.2h1.2M189.3 29.2h1.2M191.3 29.2h11.3M203.4 29.2h3.2M222.6 29.2h4.2M227.7 29.2h1.2M233.7 29.2h1.2M274.2 29.2h9.3M294.4 29.2h3.2M37.8 30.4h1.2M74.4 30.4h2.2M172.1 30.4h1.2M177.2 30.4h2.2M181.3 30.4h1.2M188.4 30.4h10.4M199.6 30.4h3.3M203.7 30.4h4.3M209.8 30.4h2.2M212.8 30.4h1.2M217.9 30.4h1.2M221.0 30.4h8.3M232.2 30.4h1.2M234.2 30.4h3.3M241.3 30.4h1.2M274.9 30.4h1.2M276.9 30.4h1.2M279.0 30.4h1.2M295.2 30.4h1.2M297.3 30.4h1.2M73.9 31.5h1.2M188.6 31.5h9.4M198.8 31.5h4.3M204.9 31.5h1.2M208.0 31.5h6.3M216.2 31.5h6.3M227.5 31.5h2.2M231.6 31.5h4.3M236.7 31.5h7.4M275.6 31.5h3.3M296.1 31.5h1.2M71.3 32.7h1.2M189.7 32.7h8.4M200.0 32.7h3.3M204.1 32.7h1.2M210.3 32.7h2.3M213.4 32.7h1.2M215.5 32.7h2.3M229.9 32.7h1.2M232.0 32.7h4.3M237.1 32.7h7.4M275.2 32.7h2.3M297.9 32.7h1.2M69.7 33.8h1.2M179.5 33.8h1.2M187.8 33.8h1.2M194.0 33.8h4.3M200.2 33.8h3.3M204.4 33.8h1.2M214.7 33.8h1.2M232.3 33.8h1.2M237.5 33.8h4.3M242.7 33.8h2.3M275.9 33.8h3.3M68.1 35.0h2.3M170.2 35.0h2.3M174.4 35.0h7.5M182.7 35.0h2.3M186.9 35.0h1.2M194.2 35.0h2.3M232.7 35.0h1.2M235.8 35.0h6.5M243.1 35.0h1.2M256.7 35.0h2.3M276.5 35.0h2.3M280.6 35.0h1.2M296.3 35.0h2.3M68.7 36.1h1.2M169.2 36.1h2.3M172.3 36.1h1.2M175.5 36.1h1.2M182.8 36.1h2.3M190.1 36.1h1.2M195.4 36.1h1.2M233.1 36.1h1.2M236.2 36.1h4.4M255.1 36.1h7.5M263.4 36.1h2.3M276.0 36.1h4.4M281.2 36.1h1.2M69.2 37.3h2.3M106.1 37.3h1.3M108.2 37.3h1.3M168.2 37.3h1.3M183.9 37.3h2.3M234.5 37.3h6.5M254.5 37.3h7.6M262.9 37.3h1.3M265.0 37.3h2.3M277.6 37.3h2.3M281.8 37.3h2.3M69.8 38.4h2.3M92.0 38.4h2.3M102.6 38.4h1.3M104.7 38.4h5.5M167.1 38.4h1.3M184.0 38.4h2.3M235.9 38.4h5.5M244.3 38.4h1.3M246.4 38.4h1.3M248.6 38.4h2.3M252.8 38.4h2.3M256.0 38.4h1.3M259.1 38.4h1.3M262.3 38.4h1.3M266.5 38.4h2.3M281.3 38.4h3.4M71.5 39.6h1.3M100.2 39.6h8.7M166.1 39.6h1.3M184.1 39.6h3.4M188.4 39.6h2.3M234.1 39.6h20.4M268.1 39.6h1.3M270.2 39.6h1.3M280.8 39.6h3.4M71.1 40.7h2.3M94.6 40.7h11.9M109.5 40.7h1.3M162.9 40.7h1.3M165.0 40.7h1.3M186.3 40.7h3.4M190.6 40.7h1.3M231.2 40.7h9.8M241.9 40.7h1.3M245.1 40.7h2.3M249.3 40.7h4.5M269.6 40.7h2.3M281.3 40.7h2.3M71.7 41.8h1.3M95.3 41.8h10.9M108.2 41.8h1.3M159.6 41.8h5.6M187.5 41.8h3.4M225.0 41.8h3.4M229.3 41.8h8.8M239.0 41.8h2.3M250.8 41.8h1.3M270.1 41.8h2.3M279.7 41.8h3.4M70.3 43.0h1.3M90.7 43.0h1.3M95.0 43.0h1.3M101.5 43.0h5.6M107.9 43.0h2.4M156.4 43.0h4.5M162.8 43.0h3.4M193.0 43.0h2.4M198.4 43.0h1.3M200.5 43.0h2.4M223.1 43.0h2.4M232.8 43.0h1.3M235.0 43.0h6.7M269.4 43.0h3.4M281.3 43.0h1.3M69.9 44.1h2.4M90.4 44.1h4.5M96.9 44.1h1.3M100.2 44.1h4.5M156.4 44.1h4.5M162.8 44.1h4.5M188.8 44.1h1.3M194.2 44.1h1.3M201.7 44.1h3.4M220.1 44.1h4.5M235.2 44.1h1.3M239.6 44.1h2.4M267.7 44.1h5.6M274.2 44.1h1.3M69.5 45.3h2.4M91.2 45.3h6.7M103.2 45.3h1.3M156.3 45.3h1.3M159.6 45.3h1.3M162.8 45.3h3.5M204.1 45.3h1.3M220.3 45.3h2.4M237.7 45.3h1.3M239.9 45.3h1.3M267.0 45.3h2.4M271.3 45.3h1.3M285.4 45.3h3.5M70.3 46.4h1.3M88.8 46.4h2.4M96.4 46.4h2.4M100.8 46.4h1.3M156.3 46.4h2.4M172.6 46.4h2.4M189.0 46.4h1.3M204.2 46.4h2.4M219.4 46.4h1.3M221.6 46.4h1.3M235.8 46.4h1.3M237.9 46.4h3.5M242.3 46.4h1.3M254.3 46.4h2.4M266.3 46.4h5.6M288.0 46.4h1.3M69.9 47.6h2.4M89.6 47.6h1.3M156.3 47.6h2.4M169.4 47.6h3.5M177.0 47.6h1.3M183.6 47.6h5.7M198.9 47.6h1.3M203.2 47.6h3.5M220.7 47.6h1.3M236.0 47.6h1.3M239.3 47.6h1.3M253.5 47.6h3.5M257.9 47.6h14.4M273.2 47.6h1.3M88.3 48.7h2.4M98.1 48.7h1.3M167.2 48.7h1.3M169.4 48.7h1.3M177.1 48.7h1.3M182.5 48.7h2.4M185.8 48.7h1.3M188.0 48.7h1.3M196.8 48.7h9.0M206.7 48.7h2.4M219.8 48.7h3.5M235.2 48.7h2.4M249.4 48.7h2.4M252.7 48.7h2.4M268.0 48.7h4.6M88.0 49.9h1.3M163.9 49.9h5.7M184.8 49.9h1.3M189.2 49.9h3.5M194.7 49.9h10.1M207.9 49.9h4.6M221.1 49.9h2.4M234.3 49.9h1.3M249.7 49.9h3.5M269.5 49.9h2.4M70.1 51.0h1.3M83.4 51.0h1.3M85.6 51.0h2.4M161.7 51.0h2.4M174.9 51.0h1.3M194.8 51.0h4.6M201.4 51.0h1.3M210.2 51.0h3.5M222.4 51.0h1.3M234.5 51.0h1.3M248.8 51.0h2.4M71.0 52.2h1.3M83.1 52.2h4.6M156.1 52.2h5.7M197.1 52.2h3.5M201.5 52.2h2.4M204.8 52.2h1.3M209.3 52.2h3.5M223.6 52.2h1.3M235.8 52.2h1.3M248.0 52.2h2.4M71.8 53.3h1.3M81.8 53.3h3.5M155.0 53.3h5.7M197.2 53.3h1.3M201.6 53.3h1.3M203.8 53.3h1.3M210.5 53.3h3.5M237.1 53.3h1.3M248.2 53.3h1.3M71.6 54.5h2.4M81.6 54.5h2.4M155.0 54.5h5.8M201.7 54.5h4.6M208.4 54.5h1.3M210.6 54.5h3.5M224.0 54.5h2.4M239.5 54.5h4.6M246.2 54.5h1.3M72.4 55.6h1.3M80.2 55.6h2.4M158.3 55.6h1.3M202.9 55.6h1.3M205.1 55.6h9.1M224.1 55.6h1.3M244.2 55.6h1.3M73.3 56.8h1.3M205.2 56.8h6.9M213.1 56.8h2.4M224.2 56.8h1.3M73.1 57.9h1.3M89.9 57.9h1.3M93.3 57.9h1.3M212.1 57.9h4.7M224.4 57.9h5.8M72.9 59.0h1.3M90.9 59.0h3.6M213.3 59.0h3.6M225.6 59.0h6.9M63.7 60.2h2.5M73.9 60.2h1.3M91.9 60.2h1.3M205.5 60.2h1.3M216.8 60.2h2.5M229.1 60.2h3.6M64.7 61.3h1.3M74.8 61.3h1.3M92.9 61.3h2.5M230.4 61.3h1.3M83.7 62.5h1.3M91.6 62.5h2.5M95.0 62.5h2.5M201.1 62.5h1.3M227.1 62.5h1.3M229.4 62.5h2.5M82.4 63.6h3.6M99.4 63.6h1.3M101.6 63.6h1.3M204.6 63.6h1.3M206.9 63.6h1.3M209.1 63.6h1.3M227.2 63.6h3.6M78.9 64.8h5.9M98.1 64.8h7.0M201.3 64.8h1.3M203.5 64.8h2.5M206.9 64.8h1.3M209.2 64.8h1.3M229.6 64.8h1.3M79.9 65.9h1.3M103.7 65.9h2.5M201.3 65.9h2.5M204.7 65.9h4.7M210.4 65.9h1.3M77.5 67.1h2.5M94.5 67.1h1.3M202.5 67.1h4.7M209.3 67.1h1.3M77.4 68.2h2.5M149.1 68.2h1.3M151.3 68.2h1.3M188.9 68.2h2.5M200.3 68.2h3.6M206.0 68.2h2.5M149.1 69.4h1.3M151.3 69.4h4.8M158.2 69.4h2.5M161.6 69.4h7.0M169.6 69.4h2.5M173.0 69.4h1.3M188.9 69.4h2.5M192.3 69.4h3.6M196.9 69.4h1.3M199.2 69.4h2.5M202.6 69.4h1.3M204.9 69.4h1.3M235.6 69.4h1.3M160.4 70.5h1.3M168.4 70.5h2.5M171.8 70.5h4.8M182.1 70.5h3.6M192.4 70.5h1.3M201.5 70.5h1.3M238.0 70.5h1.3M102.2 71.7h1.3M175.3 71.7h7.0M184.4 71.7h2.5M187.8 71.7h4.8M201.5 71.7h1.3M234.6 71.7h2.5M238.1 71.7h1.3M101.0 72.8h8.2M201.6 72.8h1.3M234.7 72.8h4.8M98.7 74.0h4.8M107.8 74.0h2.5M233.6 74.0h5.9M201.6 75.1h1.3M234.8 75.1h2.5M200.5 76.2h3.6M195.9 77.4h1.3M198.2 77.4h1.3M202.8 77.4h1.3M195.9 78.5h1.3M195.9 79.7h1.3M196.0 80.8h1.3M197.1 82.0h3.6M199.4 83.1h2.5M126.0 84.3h1.3M200.5 84.3h1.3M126.0 85.4h1.3M199.4 85.4h3.6M127.2 86.6h1.3M201.7 86.6h1.3M89.4 87.7h2.5M127.2 87.7h1.3M90.6 88.9h1.3M127.2 88.9h1.3M127.2 90.0h1.3M127.3 91.1h2.5M128.4 92.3h2.5M130.8 93.4h1.3M283.7 93.4h2.5M287.1 93.4h1.3M282.5 94.6h3.6M278.9 95.7h7.0M206.0 96.9h3.6M210.5 96.9h1.3M281.1 96.9h5.9M205.9 98.0h1.3M209.3 98.0h2.5M280.9 98.0h2.5M284.3 98.0h1.3M287.7 98.0h5.9M209.3 99.2h1.3M285.3 99.2h9.3M209.2 100.3h1.3M284.0 100.3h4.7M290.8 100.3h2.5M297.6 100.3h2.5M177.4 101.5h4.7M208.0 101.5h2.5M290.6 101.5h4.7M298.5 101.5h1.3M176.3 102.6h5.8M203.4 102.6h1.3M209.0 102.6h1.3M292.6 102.6h9.2M179.7 103.8h8.1M205.6 103.8h3.6M293.5 103.8h7.0M107.6 104.9h1.3M179.6 104.9h7.0M294.4 104.9h4.7M105.5 106.1h3.6M183.0 106.1h4.7M294.1 106.1h3.6M109.0 107.2h1.3M184.0 107.2h5.8M295.0 107.2h2.4M111.3 108.3h6.9M187.4 108.3h4.7M192.9 108.3h1.3M292.4 108.3h3.6M108.1 109.5h2.4M111.5 109.5h1.3M114.8 109.5h4.7M189.5 109.5h3.5M293.2 109.5h2.4M104.9 110.6h3.5M109.4 110.6h3.5M114.9 110.6h6.9M189.5 110.6h3.5M294.0 110.6h3.5M105.1 111.8h2.4M108.4 111.8h4.6M117.3 111.8h1.3M191.6 111.8h1.3M292.6 111.8h1.3M295.9 111.8h2.4M105.3 112.9h2.4M110.8 112.9h1.3M294.4 112.9h1.3M296.6 112.9h1.3M104.3 114.1h1.3M113.2 114.1h1.3M293.0 114.1h4.6M104.5 115.2h1.3M292.6 115.2h5.7M319.0 115.2h1.3M103.6 116.4h1.3M105.8 116.4h1.3M292.2 116.4h5.7M318.5 116.4h1.3M7.7 117.5h1.3M103.8 117.5h1.3M295.0 117.5h1.3M316.9 117.5h2.4M104.0 118.7h1.3M315.2 118.7h5.6M101.0 119.8h3.5M314.7 119.8h3.5M100.2 121.0h2.4M314.1 121.0h3.4M100.4 122.1h1.3M309.2 122.1h1.3M312.5 122.1h2.4M307.6 123.3h5.6M305.9 124.4h1.3M308.0 124.4h1.3M310.2 124.4h1.3M306.3 125.5h4.5M287.1 148.5h3.0M281.2 149.6h2.0M283.9 149.6h2.0M287.5 149.6h1.1M277.9 150.8h4.7M285.1 150.8h2.0M277.3 151.9h2.9M278.3 153.1h1.9" stroke="#365d8d"/><path d="M47.5 16.6h1.1M49.3 16.6h1.1M52.1 16.6h1.1M253.2 16.6h2.0M264.2 16.6h1.1M277.9 16.6h1.1M44.3 17.8h1.1M47.1 17.8h2.1M64.7 17.8h1.1M66.6 17.8h3.0M70.3 17.8h1.1M72.1 17.8h4.8M246.7 17.8h1.1M256.0 17.8h1.1M257.9 17.8h1.1M259.7 17.8h1.1M261.6 17.8h2.1M264.4 17.8h4.8M278.3 17.8h1.1M283.9 17.8h2.1M286.6 17.8h2.1M289.4 17.8h1.1M41.1 18.9h1.1M43.0 18.9h1.1M45.8 18.9h1.1M49.6 18.9h1.1M66.5 18.9h3.0M72.1 18.9h1.1M74.9 18.9h1.1M76.8 18.9h3.0M176.3 18.9h2.1M179.1 18.9h1.1M237.3 18.9h2.1M243.8 18.9h1.1M250.4 18.9h2.1M254.2 18.9h3.0M257.9 18.9h1.1M260.7 18.9h1.1M263.5 18.9h2.1M268.2 18.9h1.1M270.1 18.9h3.0M276.7 18.9h1.1M279.5 18.9h1.1M281.4 18.9h2.1M284.2 18.9h1.1M287.9 18.9h4.9M39.9 20.1h4.0M64.5 20.1h1.1M66.4 20.1h1.1M68.3 20.1h1.1M75.0 20.1h4.0M176.4 20.1h1.1M178.3 20.1h4.9M187.7 20.1h1.1M194.4 20.1h1.1M237.0 20.1h1.1M241.8 20.1h1.1M243.7 20.1h1.1M251.3 20.1h1.1M253.2 20.1h3.0M272.1 20.1h1.1M274.0 20.1h4.9M282.5 20.1h3.0M289.2 20.1h4.0M77.0 21.2h3.1M179.4 21.2h1.2M183.2 21.2h5.9M189.9 21.2h2.1M193.7 21.2h3.1M199.4 21.2h5.0M209.0 21.2h4.0M230.1 21.2h1.2M274.1 21.2h2.1M284.6 21.2h1.2M288.4 21.2h1.2M293.2 21.2h4.0M37.5 22.4h1.2M77.1 22.4h2.1M184.3 22.4h7.0M193.0 22.4h1.2M194.9 22.4h4.1M199.8 22.4h1.2M204.6 22.4h4.1M215.2 22.4h4.1M231.6 22.4h1.2M233.6 22.4h1.2M295.4 22.4h1.2M36.4 23.5h2.1M76.4 23.5h1.2M78.3 23.5h1.2M183.5 23.5h2.1M189.3 23.5h1.2M196.2 23.5h3.1M200.1 23.5h1.2M219.5 23.5h5.1M225.4 23.5h3.1M287.7 23.5h1.2M291.6 23.5h2.1M294.5 23.5h1.2M35.4 24.7h4.1M78.6 24.7h2.2M183.7 24.7h1.2M288.7 24.7h2.2M292.6 24.7h4.1M298.5 24.7h1.2M34.4 25.8h1.2M37.3 25.8h2.2M77.9 25.8h2.2M184.8 25.8h1.2M186.8 25.8h1.2M287.7 25.8h3.2M291.7 25.8h5.1M34.4 26.9h4.2M78.3 26.9h2.2M184.9 26.9h3.2M288.6 26.9h3.2M292.6 26.9h5.2M32.5 28.1h4.2M78.6 28.1h2.2M169.0 28.1h2.2M186.1 28.1h1.2M188.1 28.1h1.2M200.1 28.1h1.2M287.5 28.1h3.2M291.5 28.1h2.2M295.5 28.1h3.2M34.6 29.2h1.2M36.6 29.2h2.2M78.1 29.2h3.2M169.0 29.2h2.2M174.1 29.2h2.2M184.2 29.2h3.2M188.3 29.2h1.2M202.4 29.2h1.2M283.3 29.2h2.2M287.3 29.2h1.2M291.4 29.2h3.2M32.7 30.4h5.3M76.5 30.4h2.2M170.1 30.4h2.2M176.2 30.4h1.2M182.3 30.4h6.3M198.6 30.4h1.2M202.6 30.4h1.2M277.9 30.4h1.2M291.2 30.4h1.2M294.2 30.4h1.2M296.3 30.4h1.2M32.9 31.5h1.2M74.9 31.5h1.2M171.1 31.5h3.3M177.3 31.5h6.3M184.5 31.5h3.3M202.9 31.5h2.2M206.0 31.5h2.2M222.3 31.5h5.3M235.7 31.5h1.2M295.0 31.5h1.2M297.1 31.5h2.2M32.1 32.7h1.2M72.3 32.7h2.3M97.0 32.7h1.2M99.1 32.7h1.2M170.2 32.7h4.3M180.5 32.7h1.2M186.6 32.7h3.3M198.0 32.7h2.3M203.1 32.7h1.2M205.2 32.7h2.3M208.3 32.7h2.3M212.4 32.7h1.2M217.5 32.7h5.4M225.8 32.7h1.2M228.9 32.7h1.2M230.9 32.7h1.2M236.1 32.7h1.2M277.3 32.7h5.4M294.8 32.7h1.2M296.8 32.7h1.2M70.7 33.8h1.2M99.7 33.8h1.2M170.2 33.8h6.4M177.4 33.8h2.3M180.5 33.8h5.4M186.8 33.8h1.2M188.8 33.8h5.4M198.2 33.8h2.3M203.3 33.8h1.2M205.4 33.8h1.2M207.5 33.8h7.5M215.8 33.8h2.3M229.2 33.8h3.3M233.4 33.8h4.3M279.0 33.8h2.3M282.1 33.8h2.3M295.5 33.8h3.3M70.2 35.0h2.3M93.1 35.0h3.3M99.4 35.0h3.3M169.2 35.0h1.2M172.3 35.0h2.3M185.8 35.0h1.2M187.9 35.0h6.5M196.3 35.0h2.3M199.4 35.0h4.4M209.8 35.0h2.3M214.0 35.0h2.3M229.6 35.0h3.3M233.8 35.0h2.3M278.5 35.0h2.3M281.7 35.0h3.3M295.2 35.0h1.2M69.7 36.1h2.3M87.5 36.1h1.2M91.7 36.1h5.4M99.0 36.1h4.4M106.4 36.1h1.2M108.4 36.1h2.3M168.1 36.1h1.2M184.9 36.1h5.4M191.2 36.1h4.4M196.4 36.1h1.2M198.5 36.1h2.3M231.0 36.1h2.3M234.1 36.1h2.3M280.2 36.1h1.2M282.3 36.1h2.3M295.9 36.1h1.2M71.3 37.3h1.3M90.3 37.3h6.5M99.7 37.3h6.5M107.1 37.3h1.3M109.2 37.3h2.3M166.1 37.3h2.3M186.1 37.3h8.6M231.3 37.3h3.4M261.8 37.3h1.3M263.9 37.3h1.3M283.9 37.3h3.4M71.9 38.4h1.3M91.0 38.4h1.3M94.1 38.4h4.4M100.5 38.4h2.3M110.0 38.4h1.3M163.9 38.4h3.4M186.2 38.4h6.5M193.6 38.4h1.3M232.7 38.4h3.4M254.9 38.4h1.3M257.0 38.4h2.3M260.2 38.4h2.3M263.4 38.4h1.3M265.5 38.4h1.3M72.6 39.6h1.3M88.5 39.6h4.5M93.8 39.6h6.6M108.7 39.6h4.5M160.7 39.6h2.3M163.9 39.6h2.3M187.3 39.6h1.3M190.5 39.6h2.3M230.9 39.6h1.3M233.0 39.6h1.3M254.3 39.6h3.4M258.5 39.6h1.3M285.1 39.6h2.3M73.2 40.7h1.3M89.2 40.7h5.5M106.3 40.7h3.4M110.6 40.7h1.3M163.9 40.7h1.3M189.6 40.7h1.3M191.7 40.7h2.3M220.5 40.7h1.3M226.9 40.7h4.5M240.8 40.7h1.3M242.9 40.7h2.3M247.2 40.7h2.3M253.6 40.7h1.3M267.5 40.7h2.3M285.6 40.7h1.3M72.8 41.8h1.3M91.0 41.8h4.5M106.0 41.8h2.3M109.3 41.8h1.3M111.4 41.8h1.3M157.5 41.8h2.3M192.9 41.8h1.3M198.2 41.8h4.5M221.8 41.8h3.4M237.9 41.8h1.3M241.1 41.8h3.4M246.5 41.8h4.5M251.8 41.8h2.3M266.8 41.8h3.4M285.1 41.8h4.5M71.4 43.0h2.4M91.8 43.0h3.4M202.7 43.0h2.4M221.0 43.0h2.4M241.4 43.0h2.4M246.8 43.0h1.3M250.0 43.0h3.4M266.2 43.0h3.4M284.5 43.0h6.7M72.1 44.1h2.4M87.2 44.1h3.4M104.5 44.1h1.3M219.0 44.1h1.3M241.7 44.1h1.3M253.6 44.1h1.3M266.6 44.1h1.3M285.0 44.1h5.6M71.7 45.3h1.3M73.9 45.3h1.3M86.9 45.3h4.5M219.2 45.3h1.3M240.9 45.3h2.4M254.0 45.3h3.5M264.8 45.3h2.4M269.1 45.3h2.4M71.4 46.4h3.5M87.7 46.4h1.3M217.3 46.4h2.4M220.5 46.4h1.3M241.2 46.4h1.3M243.4 46.4h1.3M251.0 46.4h1.3M253.2 46.4h1.3M256.5 46.4h3.5M260.8 46.4h3.5M265.2 46.4h1.3M72.1 47.6h1.3M83.1 47.6h3.5M87.4 47.6h2.4M172.6 47.6h2.4M206.5 47.6h1.3M214.2 47.6h1.3M219.6 47.6h1.3M237.1 47.6h2.4M240.4 47.6h3.5M246.9 47.6h1.3M249.1 47.6h4.6M70.7 48.7h1.3M81.7 48.7h3.5M87.2 48.7h1.3M168.3 48.7h1.3M170.5 48.7h2.4M174.9 48.7h1.3M208.8 48.7h2.4M214.3 48.7h1.3M239.5 48.7h1.3M248.3 48.7h1.3M251.6 48.7h1.3M70.4 49.9h2.4M81.4 49.9h6.8M169.4 49.9h2.4M183.7 49.9h1.3M212.3 49.9h4.6M220.0 49.9h1.3M235.4 49.9h2.4M245.3 49.9h2.4M248.6 49.9h1.3M71.2 51.0h1.3M81.2 51.0h2.4M84.5 51.0h1.3M163.9 51.0h6.8M173.8 51.0h1.3M199.2 51.0h2.4M213.5 51.0h2.4M221.3 51.0h1.3M235.6 51.0h1.3M245.5 51.0h1.3M247.7 51.0h1.3M72.1 52.2h1.3M78.7 52.2h4.6M161.7 52.2h1.3M170.5 52.2h1.3M175.0 52.2h1.3M182.7 52.2h3.5M194.9 52.2h2.4M200.4 52.2h1.3M212.6 52.2h1.3M222.5 52.2h1.3M72.9 53.3h1.3M78.5 53.3h3.5M160.6 53.3h1.3M193.8 53.3h1.3M198.3 53.3h3.5M223.8 53.3h1.3M238.2 53.3h2.4M246.0 53.3h2.4M73.8 54.5h1.3M78.2 54.5h3.5M160.6 54.5h1.3M196.1 54.5h5.8M222.8 54.5h1.3M244.0 54.5h2.4M73.6 55.6h1.3M153.8 55.6h2.4M157.2 55.6h1.3M168.3 55.6h1.3M194.0 55.6h9.1M204.0 55.6h1.3M214.1 55.6h2.4M223.0 55.6h1.3M156.1 56.8h1.3M158.3 56.8h1.3M197.4 56.8h4.7M203.0 56.8h2.4M215.3 56.8h1.3M223.1 56.8h1.3M198.6 57.9h1.3M203.1 57.9h5.8M209.8 57.9h2.4M216.5 57.9h1.3M74.1 59.0h1.3M204.3 59.0h3.6M208.8 59.0h3.6M216.6 59.0h2.4M223.4 59.0h2.4M75.0 60.2h1.3M203.3 60.2h2.5M207.8 60.2h4.7M213.4 60.2h3.6M219.0 60.2h1.3M222.4 60.2h7.0M75.9 61.3h2.5M198.8 61.3h2.5M203.3 61.3h16.0M225.9 61.3h4.7M198.9 62.5h2.5M202.3 62.5h16.0M226.0 62.5h1.3M228.2 62.5h1.3M198.9 63.6h5.9M205.7 63.6h1.3M208.0 63.6h1.3M210.3 63.6h1.3M213.6 63.6h3.6M199.0 64.8h2.5M202.4 64.8h1.3M205.8 64.8h1.3M208.1 64.8h1.3M210.3 64.8h1.3M98.0 65.9h5.9M197.9 65.9h3.6M203.6 65.9h1.3M209.3 65.9h1.3M99.1 67.1h1.3M103.6 67.1h1.3M149.1 67.1h2.5M154.8 67.1h1.3M160.5 67.1h1.3M186.6 67.1h3.6M196.8 67.1h4.7M207.0 67.1h2.5M210.5 67.1h2.5M150.2 68.2h1.3M152.5 68.2h11.6M168.4 68.2h5.9M185.5 68.2h1.3M187.8 68.2h1.3M191.2 68.2h2.5M194.6 68.2h5.9M203.7 68.2h2.5M208.2 68.2h2.5M147.9 69.4h1.3M150.2 69.4h1.3M160.4 69.4h1.3M168.4 69.4h1.3M171.8 69.4h1.3M174.1 69.4h2.5M185.5 69.4h3.6M191.2 69.4h1.3M195.8 69.4h1.3M203.7 69.4h1.3M206.0 69.4h1.3M176.4 70.5h3.6M181.0 70.5h1.3M185.5 70.5h7.0M202.6 70.5h1.3M204.9 70.5h1.3M106.8 71.7h1.3M186.7 71.7h1.3M202.7 71.7h1.3M95.3 72.8h3.6M99.9 72.8h1.3M202.7 72.8h1.3M202.8 75.1h1.3M203.9 76.2h1.3M197.1 77.4h1.3M199.4 77.4h3.6M197.1 78.5h7.1M198.2 79.7h5.9M197.1 80.8h5.9M200.5 82.0h2.5M201.7 83.1h1.3M204.0 83.1h1.3M127.2 84.3h1.3M201.7 84.3h2.5M127.2 85.4h1.3M128.3 87.7h1.3M128.4 88.9h1.3M128.4 90.0h2.5M129.6 91.1h1.3M130.7 92.3h2.5M209.5 93.4h1.3M209.5 94.6h1.3M207.1 95.7h4.8M209.4 96.9h1.3M277.6 96.9h3.6M277.5 98.0h3.6M283.2 98.0h1.3M273.9 99.2h1.3M277.3 99.2h8.1M274.9 100.3h1.3M277.2 100.3h1.3M282.8 100.3h1.3M288.5 100.3h2.5M270.2 101.5h2.5M273.6 101.5h1.3M277.0 101.5h1.3M282.7 101.5h4.7M289.4 101.5h1.3M299.6 101.5h1.3M312.1 101.5h1.3M271.2 102.6h1.3M276.8 102.6h2.5M282.5 102.6h10.4M177.4 103.8h2.5M203.3 103.8h2.5M267.6 103.8h1.3M269.8 103.8h1.3M277.7 103.8h1.3M285.6 103.8h5.8M292.4 103.8h1.3M177.4 104.9h2.5M204.4 104.9h2.5M207.8 104.9h1.3M277.5 104.9h1.3M285.4 104.9h1.3M287.6 104.9h7.0M178.5 106.1h4.7M204.3 106.1h1.3M272.8 106.1h2.4M288.5 106.1h2.4M293.0 106.1h1.3M182.9 107.2h1.3M273.7 107.2h2.4M291.6 107.2h3.6M185.1 108.3h2.4M271.2 108.3h1.3M291.3 108.3h1.3M112.6 109.5h2.4M179.5 109.5h1.3M185.1 109.5h4.7M192.9 109.5h1.3M291.0 109.5h2.4M112.7 110.6h2.4M188.4 110.6h1.3M290.7 110.6h3.5M107.3 111.8h1.3M112.9 111.8h1.3M115.1 111.8h2.4M118.4 111.8h2.4M187.2 111.8h4.6M291.5 111.8h1.3M293.7 111.8h2.4M107.5 112.9h3.5M111.9 112.9h2.4M115.2 112.9h3.5M189.3 112.9h2.4M285.6 112.9h1.3M292.2 112.9h2.4M295.5 112.9h1.3M105.4 114.1h7.9M114.3 114.1h4.6M188.2 114.1h1.3M290.7 114.1h2.4M105.6 115.2h2.4M113.3 115.2h4.6M291.5 115.2h1.3M104.7 116.4h1.3M106.9 116.4h1.3M113.5 116.4h2.4M291.1 116.4h1.3M104.9 117.5h1.3M112.6 117.5h3.5M293.9 117.5h1.3M104.3 119.8h1.3M318.0 119.8h1.3M102.3 121.0h3.4M101.5 122.1h1.3M307.0 124.4h1.3M309.1 124.4h1.3M311.2 124.4h1.3M285.3 148.5h2.0M289.9 148.5h1.1M279.3 149.6h2.0M283.0 149.6h1.1M275.2 150.8h2.9M274.6 151.9h2.9M277.4 153.1h1.1M280.0 153.1h1.1M283.5 153.1h1.1" stroke="#2c728e"/><path d="M105.0 7.5h1.0M111.5 7.5h1.0M102.1 8.6h1.0M103.7 8.6h1.9M106.2 8.6h4.3M100.1 9.7h6.9M107.6 9.7h1.9M100.7 10.9h5.3M106.7 10.9h2.8M110.1 10.9h1.1M102.3 12.0h3.7M106.6 12.0h1.1M108.4 12.0h1.1M265.2 12.0h1.1M85.4 13.2h1.1M104.9 13.2h2.0M78.1 14.3h1.1M82.6 14.3h2.0M105.0 14.3h1.1M256.4 14.3h1.1M77.0 15.5h2.0M84.2 15.5h1.1M251.2 15.5h2.0M253.9 15.5h5.6M75.9 16.6h2.0M84.2 16.6h1.1M98.0 16.6h1.1M245.8 16.6h2.0M251.3 16.6h2.0M255.0 16.6h4.8M261.4 16.6h1.1M263.3 16.6h1.1M265.1 16.6h2.0M276.1 16.6h2.0M278.9 16.6h2.0M65.6 17.8h1.1M69.4 17.8h1.1M71.2 17.8h1.1M76.8 17.8h1.1M79.6 17.8h2.1M82.4 17.8h2.1M178.0 17.8h1.1M183.6 17.8h2.1M244.9 17.8h2.1M247.6 17.8h2.1M253.2 17.8h1.1M256.9 17.8h1.1M258.8 17.8h1.1M260.6 17.8h1.1M263.4 17.8h1.1M269.0 17.8h2.1M276.4 17.8h2.1M279.2 17.8h4.8M285.7 17.8h1.1M288.5 17.8h1.1M290.4 17.8h1.1M294.1 17.8h1.1M40.2 18.9h1.1M64.6 18.9h2.1M69.3 18.9h1.1M75.8 18.9h1.1M79.6 18.9h1.1M178.1 18.9h1.1M180.0 18.9h2.1M184.7 18.9h2.1M192.2 18.9h2.1M197.8 18.9h1.1M236.3 18.9h1.1M239.1 18.9h4.9M252.3 18.9h2.1M272.9 18.9h1.1M274.8 18.9h2.1M280.4 18.9h1.1M283.2 18.9h1.1M292.6 18.9h1.1M38.9 20.1h1.1M78.7 20.1h3.0M183.0 20.1h4.9M188.7 20.1h3.0M193.4 20.1h1.1M195.3 20.1h1.1M197.2 20.1h6.8M209.6 20.1h3.0M234.2 20.1h3.0M293.0 20.1h4.0M297.7 20.1h1.1M37.7 21.2h2.1M79.8 21.2h1.2M191.8 21.2h2.1M196.6 21.2h3.1M204.2 21.2h2.1M207.1 21.2h2.1M212.8 21.2h3.1M216.7 21.2h1.2M229.1 21.2h1.2M231.0 21.2h4.0M36.6 22.4h1.2M79.1 22.4h1.2M194.0 22.4h1.2M198.8 22.4h1.2M219.1 22.4h8.9M296.3 22.4h3.1M35.5 23.5h1.2M79.3 23.5h2.1M296.5 23.5h4.1M80.6 24.7h1.2M296.6 24.7h2.2M299.5 24.7h1.2M33.4 25.8h1.2M79.9 25.8h2.2M290.7 25.8h1.2M296.6 25.8h5.1M32.4 26.9h2.2M80.3 26.9h2.2M291.6 26.9h1.2M297.6 26.9h1.2M80.7 28.1h2.2M298.5 28.1h1.2M33.6 29.2h1.2M81.1 29.2h3.2M86.1 29.2h1.2M89.2 29.2h1.2M78.5 30.4h8.3M101.9 30.4h2.2M173.1 30.4h3.3M292.2 30.4h2.2M30.9 31.5h2.2M33.9 31.5h2.2M75.9 31.5h2.2M82.1 31.5h2.2M85.1 31.5h3.3M89.2 31.5h1.2M100.5 31.5h2.2M174.2 31.5h1.2M176.3 31.5h1.2M183.4 31.5h1.2M187.5 31.5h1.2M293.0 31.5h2.2M31.1 32.7h1.2M74.4 32.7h1.2M82.6 32.7h4.3M87.7 32.7h1.2M95.0 32.7h2.3M100.1 32.7h2.3M169.1 32.7h1.2M174.3 32.7h1.2M176.3 32.7h4.3M181.5 32.7h5.4M207.2 32.7h1.2M222.7 32.7h3.3M226.8 32.7h2.3M293.8 32.7h1.2M295.8 32.7h1.2M71.8 33.8h1.2M84.2 33.8h2.3M87.3 33.8h1.2M91.4 33.8h6.4M98.7 33.8h1.2M100.8 33.8h3.3M169.1 33.8h1.2M176.4 33.8h1.2M185.7 33.8h1.2M206.4 33.8h1.2M217.8 33.8h4.3M227.2 33.8h2.3M281.0 33.8h1.2M293.5 33.8h2.3M86.9 35.0h2.3M90.0 35.0h3.3M96.2 35.0h2.3M102.5 35.0h1.2M106.7 35.0h2.3M110.8 35.0h2.3M168.1 35.0h1.2M184.8 35.0h1.2M198.3 35.0h1.2M203.5 35.0h6.5M211.9 35.0h2.3M216.0 35.0h5.4M228.5 35.0h1.2M284.8 35.0h1.2M294.2 35.0h1.2M89.6 36.1h2.3M96.9 36.1h2.3M103.2 36.1h3.3M107.4 36.1h1.2M110.5 36.1h2.3M167.1 36.1h1.2M197.5 36.1h1.2M200.6 36.1h2.3M205.8 36.1h2.3M209.0 36.1h3.3M213.2 36.1h2.3M229.9 36.1h1.2M284.4 36.1h1.2M72.4 37.3h1.3M87.1 37.3h3.4M96.6 37.3h3.4M111.3 37.3h2.3M165.0 37.3h1.3M194.5 37.3h3.4M198.7 37.3h4.4M205.0 37.3h1.3M215.5 37.3h1.3M230.3 37.3h1.3M73.0 38.4h1.3M86.7 38.4h4.4M98.4 38.4h2.3M159.7 38.4h1.3M162.9 38.4h1.3M192.5 38.4h1.3M196.7 38.4h1.3M198.8 38.4h1.3M231.6 38.4h1.3M264.4 38.4h1.3M285.6 38.4h1.3M73.6 39.6h1.3M87.4 39.6h1.3M92.7 39.6h1.3M162.9 39.6h1.3M192.6 39.6h2.3M200.1 39.6h1.3M226.6 39.6h2.3M229.8 39.6h1.3M231.9 39.6h1.3M257.4 39.6h1.3M259.6 39.6h1.3M261.7 39.6h2.3M266.0 39.6h2.3M287.2 39.6h1.3M88.1 40.7h1.3M111.6 40.7h2.3M198.1 40.7h3.4M219.4 40.7h1.3M221.6 40.7h5.5M262.1 40.7h1.3M286.7 40.7h2.3M73.9 41.8h1.3M86.7 41.8h1.3M88.9 41.8h2.3M110.3 41.8h1.3M193.9 41.8h1.3M197.2 41.8h1.3M202.5 41.8h2.3M218.6 41.8h3.4M244.3 41.8h2.3M254.0 41.8h1.3M262.6 41.8h3.4M289.4 41.8h1.3M73.5 43.0h1.3M88.6 43.0h2.4M214.5 43.0h2.4M218.8 43.0h2.4M243.6 43.0h1.3M247.9 43.0h2.4M253.3 43.0h1.3M264.0 43.0h2.4M86.1 44.1h1.3M218.0 44.1h1.3M242.8 44.1h1.3M246.1 44.1h1.3M249.3 44.1h4.5M254.7 44.1h2.4M264.4 44.1h2.4M72.8 45.3h1.3M85.8 45.3h1.3M205.1 45.3h1.3M217.1 45.3h2.4M245.3 45.3h2.4M250.7 45.3h1.3M252.9 45.3h1.3M257.2 45.3h2.4M260.5 45.3h4.5M82.3 46.4h5.6M215.1 46.4h2.4M244.5 46.4h6.7M252.1 46.4h1.3M259.7 46.4h1.3M264.1 46.4h1.3M73.2 47.6h1.3M82.0 47.6h1.3M207.6 47.6h1.3M213.1 47.6h1.3M215.3 47.6h4.6M243.7 47.6h3.5M248.0 47.6h1.3M71.8 48.7h1.3M85.0 48.7h2.4M172.7 48.7h2.4M211.0 48.7h3.5M215.4 48.7h4.6M237.3 48.7h2.4M240.6 48.7h7.9M72.6 49.9h1.3M171.6 49.9h3.5M216.7 49.9h1.3M237.6 49.9h1.3M240.9 49.9h2.4M244.2 49.9h1.3M247.5 49.9h1.3M72.3 51.0h1.3M80.1 51.0h1.3M170.5 51.0h1.3M172.7 51.0h1.3M215.7 51.0h1.3M220.2 51.0h1.3M236.7 51.0h1.3M242.2 51.0h2.4M246.6 51.0h1.3M77.6 52.2h1.3M162.8 52.2h2.4M167.2 52.2h3.5M172.7 52.2h2.4M176.1 52.2h2.4M186.0 52.2h1.3M213.7 52.2h1.3M221.4 52.2h1.3M236.9 52.2h1.3M239.1 52.2h1.3M242.4 52.2h5.7M75.1 53.3h1.3M161.7 53.3h1.3M163.9 53.3h1.3M166.1 53.3h3.5M170.5 53.3h2.4M175.0 53.3h2.4M181.6 53.3h4.6M192.7 53.3h1.3M195.0 53.3h2.4M213.8 53.3h1.3M222.7 53.3h1.3M240.4 53.3h5.7M74.9 54.5h1.3M161.7 54.5h1.3M167.2 54.5h4.6M175.0 54.5h1.3M180.6 54.5h2.4M185.0 54.5h1.3M187.2 54.5h1.3M192.8 54.5h3.5M213.9 54.5h1.3M74.7 55.6h1.3M79.1 55.6h1.3M156.1 55.6h1.3M159.4 55.6h3.5M167.2 55.6h1.3M172.8 55.6h1.3M182.8 55.6h2.4M186.2 55.6h2.4M192.9 55.6h1.3M74.5 56.8h1.3M152.7 56.8h3.6M157.2 56.8h1.3M166.1 56.8h1.3M168.4 56.8h1.3M172.8 56.8h1.3M182.9 56.8h1.3M186.2 56.8h1.3M192.9 56.8h4.7M201.9 56.8h1.3M216.4 56.8h1.3M222.0 56.8h1.3M74.2 57.9h1.3M180.7 57.9h3.6M193.0 57.9h1.3M195.3 57.9h3.6M199.7 57.9h3.6M208.7 57.9h1.3M217.7 57.9h1.3M221.0 57.9h3.6M75.2 59.0h1.3M180.7 59.0h1.3M195.3 59.0h6.9M203.2 59.0h1.3M207.7 59.0h1.3M218.9 59.0h4.7M76.1 60.2h2.5M192.0 60.2h11.5M206.6 60.2h1.3M212.3 60.2h1.3M220.1 60.2h2.5M192.1 61.3h1.3M196.6 61.3h2.5M201.1 61.3h2.5M167.3 62.5h1.3M197.8 62.5h1.3M218.1 62.5h2.5M168.4 63.6h1.3M197.8 63.6h1.3M212.5 63.6h1.3M217.0 63.6h1.3M149.1 64.8h1.3M167.3 64.8h4.7M197.9 64.8h1.3M216.0 64.8h1.3M149.1 65.9h2.5M155.9 65.9h2.5M167.3 65.9h3.6M185.4 65.9h2.5M188.8 65.9h1.3M194.5 65.9h3.6M211.5 65.9h1.3M151.4 67.1h3.6M155.9 67.1h4.7M161.6 67.1h2.5M167.3 67.1h7.0M185.5 67.1h1.3M190.0 67.1h7.0M212.7 67.1h1.3M215.0 67.1h2.5M163.9 68.2h4.8M174.1 68.2h1.3M186.6 68.2h1.3M193.4 68.2h1.3M210.5 68.2h1.3M183.2 69.4h2.5M207.1 69.4h1.3M179.8 70.5h1.3M203.8 70.5h1.3M206.1 70.5h1.3M96.5 71.7h1.3M203.8 71.7h1.3M206.1 71.7h1.3M98.7 72.8h1.3M203.8 72.8h1.3M202.7 74.0h2.5M203.9 75.1h1.3M203.9 77.4h1.3M204.0 78.5h1.3M197.1 79.7h1.3M204.0 79.7h1.3M202.8 80.8h2.5M202.8 82.0h3.6M202.8 83.1h1.3M128.3 85.4h2.5M128.3 86.6h1.3M129.5 87.7h1.3M131.8 87.7h1.3M129.5 88.9h1.3M132.9 88.9h1.3M130.7 90.0h1.3M130.7 91.1h3.6M208.3 94.6h1.3M210.6 94.6h1.3M276.4 98.0h1.3M275.1 99.2h2.5M270.4 100.3h4.7M276.0 100.3h1.3M278.3 100.3h2.5M281.7 100.3h1.3M313.4 100.3h1.3M267.9 101.5h2.5M272.5 101.5h1.3M275.9 101.5h1.3M278.1 101.5h3.6M287.2 101.5h2.5M313.2 101.5h2.5M266.6 102.6h4.7M272.3 102.6h2.5M279.1 102.6h1.3M281.3 102.6h1.3M266.5 103.8h1.3M268.7 103.8h1.3M271.0 103.8h5.8M278.9 103.8h7.0M291.3 103.8h1.3M203.3 104.9h1.3M206.6 104.9h1.3M267.4 104.9h5.8M274.1 104.9h3.6M278.6 104.9h1.3M283.1 104.9h2.5M286.5 104.9h1.3M177.4 106.1h1.3M205.4 106.1h2.4M271.7 106.1h1.3M275.0 106.1h1.3M277.3 106.1h2.4M284.0 106.1h4.7M290.8 106.1h2.4M177.3 107.2h2.4M180.7 107.2h2.4M271.4 107.2h2.4M275.9 107.2h2.4M279.3 107.2h1.3M283.8 107.2h8.0M179.5 108.3h2.4M182.9 108.3h2.4M270.1 108.3h1.3M272.3 108.3h2.4M282.4 108.3h6.9M290.2 108.3h1.3M180.6 109.5h4.7M270.9 109.5h2.4M277.6 109.5h1.3M285.4 109.5h1.3M287.7 109.5h3.5M179.5 110.6h2.4M183.9 110.6h4.6M269.6 110.6h3.5M274.0 110.6h1.3M276.2 110.6h2.4M285.1 110.6h1.3M289.6 110.6h1.3M114.0 111.8h1.3M180.5 111.8h1.3M185.0 111.8h1.3M268.2 111.8h2.4M272.6 111.8h1.3M275.9 111.8h2.4M279.3 111.8h1.3M285.9 111.8h1.3M288.1 111.8h1.3M290.4 111.8h1.3M114.1 112.9h1.3M118.5 112.9h1.3M187.1 112.9h2.4M270.1 112.9h1.3M274.5 112.9h2.4M286.7 112.9h5.7M181.5 114.1h2.4M272.0 114.1h1.3M287.4 114.1h3.5M107.8 115.2h5.7M182.6 115.2h1.3M286.0 115.2h5.7M108.0 116.4h2.4M111.3 116.4h2.4M286.7 116.4h1.3M288.9 116.4h2.4M106.0 117.5h2.4M109.3 117.5h3.5M291.7 117.5h2.4M105.1 118.7h1.3M110.6 118.7h4.6M110.8 119.8h1.3M102.6 122.1h2.4M100.7 123.3h3.4M99.9 124.4h1.3M290.4 147.3h1.1M281.6 148.5h1.1M283.5 148.5h2.0M278.4 149.6h1.1M273.7 151.9h1.1M275.7 153.1h1.9M280.9 153.1h2.8M284.4 153.1h1.9M276.5 154.2h1.9" stroke="#24868e"/><path d="M109.5 6.3h1.0M104.2 7.5h1.0M105.8 7.5h1.0M107.4 7.5h1.0M109.0 7.5h2.6M102.9 8.6h1.0M105.4 8.6h1.0M110.4 8.6h1.9M114.5 8.6h1.9M106.8 9.7h1.0M109.3 9.7h1.0M111.0 9.7h1.9M114.4 9.7h1.0M99.8 10.9h1.1M105.8 10.9h1.1M109.2 10.9h1.1M111.0 10.9h1.1M83.1 12.0h1.9M85.7 12.0h1.1M88.3 12.0h1.1M100.5 12.0h1.9M105.7 12.0h1.1M107.5 12.0h1.1M109.2 12.0h1.1M111.0 12.0h1.1M81.0 13.2h2.9M84.6 13.2h1.1M86.3 13.2h1.1M92.5 13.2h3.7M98.7 13.2h1.1M100.5 13.2h1.1M102.2 13.2h2.9M107.5 13.2h2.0M264.0 13.2h1.1M79.0 14.3h2.0M81.7 14.3h1.1M84.4 14.3h2.0M91.5 14.3h1.1M93.3 14.3h1.1M96.9 14.3h3.8M104.1 14.3h1.1M105.9 14.3h1.1M107.7 14.3h1.1M249.2 14.3h1.1M251.9 14.3h1.1M78.8 15.5h1.1M83.3 15.5h1.1M85.1 15.5h1.1M96.9 15.5h2.9M103.3 15.5h2.0M109.6 15.5h1.1M244.9 15.5h1.1M247.6 15.5h1.1M250.3 15.5h1.1M253.0 15.5h1.1M265.7 15.5h1.1M72.3 16.6h1.1M75.0 16.6h1.1M77.8 16.6h3.9M82.4 16.6h2.0M96.1 16.6h2.0M183.4 16.6h2.0M244.0 16.6h2.0M247.6 16.6h2.0M259.6 16.6h2.0M262.3 16.6h1.1M266.9 16.6h2.0M272.4 16.6h1.1M275.2 16.6h1.1M77.7 17.8h2.1M81.4 17.8h1.1M96.3 17.8h1.1M178.9 17.8h1.1M180.8 17.8h2.1M185.4 17.8h1.1M187.3 17.8h3.0M236.5 17.8h2.1M240.2 17.8h1.1M243.0 17.8h2.1M249.5 17.8h1.1M252.3 17.8h1.1M270.9 17.8h1.1M273.6 17.8h3.0M292.2 17.8h2.1M295.9 17.8h1.1M29.9 18.9h1.1M80.5 18.9h3.0M84.3 18.9h1.1M87.1 18.9h1.1M89.0 18.9h1.1M181.9 18.9h3.0M186.6 18.9h4.0M191.3 18.9h1.1M194.1 18.9h1.1M198.8 18.9h1.1M209.1 18.9h3.0M235.4 18.9h1.1M273.9 18.9h1.1M293.6 18.9h2.1M296.4 18.9h4.0M38.0 20.1h1.1M81.6 20.1h2.1M191.5 20.1h2.1M203.9 20.1h1.1M206.7 20.1h3.0M212.4 20.1h1.1M230.4 20.1h1.1M233.2 20.1h1.1M296.8 20.1h1.1M80.8 21.2h2.1M206.1 21.2h1.2M215.7 21.2h1.2M217.6 21.2h1.2M219.5 21.2h1.2M227.2 21.2h2.1M297.1 21.2h3.1M35.6 22.4h1.2M80.0 22.4h3.1M299.2 22.4h2.1M109.5 23.5h1.2M300.4 23.5h1.2M302.3 23.5h1.2M34.4 24.7h1.2M81.5 24.7h3.1M300.5 24.7h2.2M32.4 25.8h1.2M81.9 25.8h1.2M105.6 25.8h3.2M302.5 25.8h1.2M105.2 26.9h3.2M298.6 26.9h1.2M302.6 26.9h1.2M82.7 28.1h2.2M86.7 28.1h1.2M102.7 28.1h1.2M104.8 28.1h3.2M299.5 28.1h1.2M84.1 29.2h2.2M90.2 29.2h1.2M101.3 29.2h3.2M105.4 29.2h2.2M86.6 30.4h4.3M105.0 30.4h1.2M78.0 31.5h3.3M84.1 31.5h1.2M88.2 31.5h1.2M96.4 31.5h1.2M103.6 31.5h1.2M111.8 31.5h1.2M175.2 31.5h1.2M292.0 31.5h1.2M75.4 32.7h2.3M81.6 32.7h1.2M86.7 32.7h1.2M88.8 32.7h2.3M93.9 32.7h1.2M102.2 32.7h3.3M109.4 32.7h4.3M116.6 32.7h2.3M175.3 32.7h1.2M292.7 32.7h1.2M72.8 33.8h2.3M83.2 33.8h1.2M86.3 33.8h1.2M88.3 33.8h3.3M104.9 33.8h1.2M107.0 33.8h6.4M117.3 33.8h1.2M168.1 33.8h1.2M222.0 33.8h5.4M72.3 35.0h1.2M84.8 35.0h2.3M89.0 35.0h1.2M98.3 35.0h1.2M103.5 35.0h3.3M108.7 35.0h2.3M160.8 35.0h1.2M162.9 35.0h1.2M166.0 35.0h2.3M221.3 35.0h1.2M224.4 35.0h1.2M226.5 35.0h2.3M71.8 36.1h1.2M86.5 36.1h1.2M88.6 36.1h1.2M112.6 36.1h1.2M165.0 36.1h2.3M202.7 36.1h3.3M207.9 36.1h1.2M215.3 36.1h2.3M218.4 36.1h1.2M228.9 36.1h1.2M285.4 36.1h1.2M74.5 37.3h1.3M86.1 37.3h1.3M113.4 37.3h1.3M160.8 37.3h4.4M197.6 37.3h1.3M202.9 37.3h2.3M206.0 37.3h1.3M209.2 37.3h1.3M211.3 37.3h1.3M214.5 37.3h1.3M216.6 37.3h1.3M218.7 37.3h2.3M222.9 37.3h1.3M74.0 38.4h2.3M85.7 38.4h1.3M160.8 38.4h2.3M194.6 38.4h2.3M197.8 38.4h1.3M199.9 38.4h5.5M217.9 38.4h1.3M223.2 38.4h1.3M229.5 38.4h2.3M74.7 39.6h2.3M86.4 39.6h1.3M194.8 39.6h5.5M201.1 39.6h1.3M203.3 39.6h1.3M216.0 39.6h1.3M218.1 39.6h2.3M221.3 39.6h1.3M223.4 39.6h3.4M228.8 39.6h1.3M260.6 39.6h1.3M263.8 39.6h2.3M74.3 40.7h1.3M76.4 40.7h1.3M83.9 40.7h2.3M87.1 40.7h1.3M193.8 40.7h4.5M201.3 40.7h3.4M212.0 40.7h2.3M216.2 40.7h1.3M218.4 40.7h1.3M254.7 40.7h1.3M258.9 40.7h3.4M264.3 40.7h3.4M75.0 41.8h1.3M84.6 41.8h2.3M87.8 41.8h1.3M204.7 41.8h1.3M213.2 41.8h2.3M255.0 41.8h1.3M259.3 41.8h1.3M265.8 41.8h1.3M74.6 43.0h1.3M76.7 43.0h1.3M86.4 43.0h2.4M204.8 43.0h1.3M213.4 43.0h1.3M216.7 43.0h2.4M244.7 43.0h2.4M254.3 43.0h2.4M260.8 43.0h3.4M74.2 44.1h2.4M82.9 44.1h1.3M205.0 44.1h1.3M215.8 44.1h2.4M243.9 44.1h1.3M247.1 44.1h2.4M256.9 44.1h3.4M261.2 44.1h3.4M75.0 45.3h1.3M82.6 45.3h3.5M216.0 45.3h1.3M243.1 45.3h2.4M247.4 45.3h3.5M251.8 45.3h1.3M259.4 45.3h1.3M80.1 46.4h2.4M206.4 46.4h2.4M214.0 46.4h1.3M79.8 47.6h2.4M86.3 47.6h1.3M208.7 47.6h2.4M212.0 47.6h1.3M72.9 48.7h1.3M80.6 48.7h1.3M73.7 49.9h1.3M79.2 49.9h2.4M217.8 49.9h2.4M239.8 49.9h1.3M243.1 49.9h1.3M73.4 51.0h3.5M79.0 51.0h1.3M171.6 51.0h1.3M216.8 51.0h1.3M219.1 51.0h1.3M237.8 51.0h4.6M244.4 51.0h1.3M73.2 52.2h2.4M165.0 52.2h2.4M171.6 52.2h1.3M238.0 52.2h1.3M241.3 52.2h1.3M74.0 53.3h1.3M76.3 53.3h2.4M162.8 53.3h1.3M165.0 53.3h1.3M169.4 53.3h1.3M172.8 53.3h2.4M177.2 53.3h1.3M179.4 53.3h1.3M186.1 53.3h2.4M191.6 53.3h1.3M76.0 54.5h2.4M162.8 54.5h2.4M166.1 54.5h1.3M171.7 54.5h3.5M176.1 54.5h2.4M182.8 54.5h2.4M186.1 54.5h1.3M215.1 54.5h1.3M221.7 54.5h1.3M78.0 55.6h1.3M166.1 55.6h1.3M169.5 55.6h2.4M173.9 55.6h4.7M185.1 55.6h1.3M188.4 55.6h1.3M77.8 56.8h2.4M159.4 56.8h6.9M167.2 56.8h1.3M169.5 56.8h3.6M173.9 56.8h1.3M176.2 56.8h3.6M181.8 56.8h1.3M184.0 56.8h2.4M187.4 56.8h1.3M191.8 56.8h1.3M217.5 56.8h1.3M220.9 56.8h1.3M76.5 57.9h1.3M154.9 57.9h4.7M160.5 57.9h1.3M166.1 57.9h8.0M175.1 57.9h1.3M177.3 57.9h3.6M184.0 57.9h4.7M189.6 57.9h3.6M194.1 57.9h1.3M218.8 57.9h2.4M76.3 59.0h2.4M153.8 59.0h1.3M156.0 59.0h3.6M166.1 59.0h2.4M169.5 59.0h1.3M172.9 59.0h1.3M177.4 59.0h2.4M183.0 59.0h5.8M190.8 59.0h4.7M202.1 59.0h1.3M158.2 60.2h1.3M166.1 60.2h1.3M168.4 60.2h1.3M171.8 60.2h1.3M185.3 60.2h2.5M188.6 60.2h1.3M186.4 61.3h1.3M193.2 61.3h3.6M149.2 62.5h1.3M153.7 62.5h1.3M166.1 62.5h1.3M168.4 62.5h2.5M191.0 62.5h1.3M193.2 62.5h2.5M196.6 62.5h1.3M149.2 63.6h1.3M166.1 63.6h2.5M188.8 63.6h1.3M194.4 63.6h3.6M211.4 63.6h1.3M218.2 63.6h1.3M155.9 64.8h2.5M162.7 64.8h1.3M171.8 64.8h1.3M187.7 64.8h2.5M195.6 64.8h2.5M211.5 64.8h2.5M214.9 64.8h1.3M217.1 64.8h1.3M151.4 65.9h1.3M153.7 65.9h2.5M158.2 65.9h5.9M171.8 65.9h1.3M187.7 65.9h1.3M190.0 65.9h1.3M193.4 65.9h1.3M212.7 65.9h1.3M214.9 65.9h3.6M163.9 67.1h3.6M213.9 67.1h1.3M175.2 68.2h1.3M183.2 68.2h2.5M211.7 68.2h1.3M176.4 69.4h1.3M182.1 69.4h1.3M208.3 69.4h2.5M207.2 70.5h1.3M97.7 71.7h2.5M101.1 71.7h1.3M205.0 71.7h1.3M205.0 72.8h1.3M205.0 75.1h1.3M205.1 77.4h1.3M129.5 86.6h3.6M130.6 87.7h1.3M132.9 87.7h1.3M130.7 88.9h2.5M131.8 90.0h2.5M280.6 100.3h1.3M274.7 101.5h1.3M281.5 101.5h1.3M274.5 102.6h2.5M280.2 102.6h1.3M312.9 102.6h1.3M276.6 103.8h1.3M266.3 104.9h1.3M273.0 104.9h1.3M279.8 104.9h3.6M266.1 106.1h4.7M276.2 106.1h1.3M279.5 106.1h1.3M282.9 106.1h1.3M179.6 107.2h1.3M270.3 107.2h1.3M278.2 107.2h1.3M282.6 107.2h1.3M178.4 108.3h1.3M181.8 108.3h1.3M274.5 108.3h2.4M279.0 108.3h3.6M289.1 108.3h1.3M269.8 109.5h1.3M273.2 109.5h1.3M275.4 109.5h2.4M278.7 109.5h6.9M286.5 109.5h1.3M181.7 110.6h2.4M268.4 110.6h1.3M272.9 110.6h1.3M275.1 110.6h1.3M278.5 110.6h1.3M281.8 110.6h1.3M286.2 110.6h3.5M181.6 111.8h3.5M186.1 111.8h1.3M270.4 111.8h2.4M273.7 111.8h2.4M284.8 111.8h1.3M287.0 111.8h1.3M289.2 111.8h1.3M180.5 112.9h6.8M267.9 112.9h2.4M271.2 112.9h3.5M276.7 112.9h1.3M283.4 112.9h2.4M180.4 114.1h1.3M183.8 114.1h4.6M265.4 114.1h1.3M269.8 114.1h2.4M273.1 114.1h1.3M284.1 114.1h1.3M286.3 114.1h1.3M181.5 115.2h1.3M283.8 115.2h2.4M110.2 116.4h1.3M287.8 116.4h1.3M108.2 117.5h1.3M287.4 117.5h1.3M289.6 117.5h2.4M107.3 118.7h3.5M288.0 118.7h1.3M291.3 118.7h2.4M105.3 119.8h1.3M105.6 121.0h1.3M104.7 122.1h1.3M101.0 124.4h1.3M100.2 125.5h1.3M288.5 147.3h2.1M280.7 148.5h1.1M282.5 148.5h1.1M277.5 149.6h1.1M272.9 151.9h1.1M273.0 153.1h2.8M286.1 153.1h1.1M275.7 154.2h1.1M278.2 154.2h1.1" stroke="#1f9a8a"/><path d="M107.9 6.3h1.8M110.3 6.3h1.0M111.9 6.3h1.0M116.6 6.3h1.8M119.0 6.3h1.8M106.6 7.5h1.0M108.2 7.5h1.0M114.7 7.5h5.9M112.0 8.6h1.0M113.7 8.6h1.0M116.1 8.6h1.0M110.2 9.7h1.0M112.7 9.7h1.9M115.2 9.7h1.0M111.8 10.9h1.1M84.8 12.0h1.1M86.6 12.0h1.9M89.2 12.0h1.1M92.7 12.0h1.9M95.3 12.0h1.9M110.1 12.0h1.1M261.7 12.0h1.9M78.4 13.2h1.1M83.7 13.2h1.1M87.2 13.2h1.1M90.7 13.2h2.0M96.0 13.2h1.1M99.6 13.2h1.1M101.3 13.2h1.1M106.7 13.2h1.1M109.3 13.2h1.1M262.2 13.2h2.0M266.7 13.2h2.0M77.2 14.3h1.1M80.8 14.3h1.1M86.1 14.3h1.1M88.8 14.3h1.1M90.6 14.3h1.1M92.4 14.3h1.1M94.2 14.3h2.0M101.4 14.3h1.1M103.2 14.3h1.1M106.8 14.3h1.1M244.8 14.3h1.1M250.1 14.3h1.1M252.8 14.3h2.0M265.4 14.3h1.1M75.2 15.5h2.0M79.7 15.5h3.8M89.7 15.5h7.5M100.6 15.5h1.1M105.1 15.5h4.7M243.9 15.5h1.1M245.8 15.5h2.0M264.8 15.5h1.1M266.6 15.5h1.1M271.2 15.5h1.1M73.2 16.6h2.0M81.4 16.6h1.1M85.1 16.6h2.0M87.9 16.6h3.0M94.3 16.6h2.0M102.6 16.6h3.9M182.4 16.6h1.1M185.2 16.6h2.0M249.5 16.6h1.1M268.8 16.6h2.0M271.5 16.6h1.1M273.4 16.6h2.0M84.2 17.8h2.1M87.9 17.8h3.0M92.6 17.8h2.1M95.4 17.8h1.1M99.1 17.8h1.1M112.1 17.8h1.1M179.9 17.8h1.1M182.6 17.8h1.1M186.4 17.8h1.1M234.6 17.8h2.1M238.4 17.8h2.1M241.1 17.8h2.1M250.4 17.8h2.1M271.8 17.8h2.1M295.0 17.8h1.1M83.4 18.9h1.1M85.2 18.9h2.1M95.6 18.9h2.1M99.3 18.9h1.1M110.6 18.9h1.1M115.3 18.9h1.1M190.3 18.9h1.1M202.5 18.9h2.1M206.3 18.9h1.1M233.5 18.9h2.1M295.4 18.9h1.1M83.5 20.1h2.1M86.3 20.1h1.1M88.2 20.1h2.1M110.0 20.1h1.1M112.9 20.1h2.1M204.8 20.1h2.1M213.3 20.1h1.1M215.2 20.1h1.1M231.4 20.1h2.1M298.7 20.1h3.0M35.8 21.2h2.1M82.7 21.2h2.1M99.0 21.2h1.2M108.5 21.2h2.1M218.6 21.2h1.2M220.5 21.2h2.1M223.4 21.2h1.2M225.3 21.2h2.1M299.9 21.2h2.1M108.0 22.4h3.1M112.9 22.4h1.2M301.1 22.4h1.2M34.5 23.5h1.2M81.2 23.5h1.2M83.2 23.5h1.2M107.5 23.5h1.2M150.4 23.5h1.2M301.3 23.5h1.2M303.3 23.5h1.2M110.0 24.7h1.2M147.3 24.7h2.2M150.3 24.7h1.2M152.2 24.7h1.2M302.5 24.7h2.2M82.9 25.8h2.2M301.6 25.8h1.2M82.3 26.9h2.2M86.2 26.9h1.2M299.6 26.9h3.2M303.6 26.9h1.2M84.7 28.1h1.2M87.7 28.1h1.2M101.7 28.1h1.2M103.8 28.1h1.2M161.0 28.1h1.2M300.6 28.1h2.2M87.2 29.2h2.2M112.4 29.2h1.2M93.8 30.4h1.2M103.9 30.4h1.2M106.0 30.4h1.2M110.1 30.4h1.2M112.1 30.4h1.2M115.1 30.4h1.2M81.0 31.5h1.2M90.3 31.5h1.2M94.3 31.5h2.2M102.5 31.5h1.2M104.6 31.5h1.2M108.7 31.5h3.3M112.8 31.5h1.2M116.9 31.5h1.2M77.4 32.7h4.3M90.8 32.7h3.3M108.3 32.7h1.2M113.5 32.7h1.2M74.9 33.8h1.2M82.1 33.8h1.2M103.9 33.8h1.2M105.9 33.8h1.2M113.2 33.8h1.2M118.4 33.8h1.2M162.9 33.8h3.3M73.3 35.0h1.2M83.7 35.0h1.2M112.9 35.0h1.2M158.7 35.0h2.3M164.0 35.0h2.3M222.3 35.0h2.3M72.8 36.1h2.3M81.2 36.1h2.3M84.4 36.1h2.3M113.7 36.1h1.2M116.8 36.1h1.2M118.9 36.1h1.2M157.7 36.1h1.2M160.8 36.1h4.4M212.1 36.1h1.2M217.4 36.1h1.2M219.5 36.1h1.2M221.6 36.1h2.3M224.7 36.1h1.2M73.4 37.3h1.3M75.5 37.3h2.3M82.9 37.3h1.3M114.5 37.3h1.3M119.7 37.3h1.3M207.1 37.3h2.3M210.3 37.3h1.3M213.4 37.3h1.3M217.6 37.3h1.3M223.9 37.3h3.4M229.2 37.3h1.3M76.2 38.4h2.3M80.4 38.4h4.4M114.2 38.4h1.3M117.4 38.4h1.3M119.5 38.4h2.3M211.5 38.4h1.3M214.7 38.4h2.3M218.9 38.4h3.4M224.2 38.4h3.4M76.8 39.6h1.3M83.2 39.6h3.4M115.1 39.6h4.5M202.2 39.6h1.3M204.3 39.6h1.3M211.8 39.6h2.3M217.1 39.6h1.3M220.3 39.6h1.3M222.4 39.6h1.3M75.3 40.7h1.3M82.8 40.7h1.3M86.0 40.7h1.3M118.0 40.7h1.3M204.5 40.7h1.3M210.9 40.7h1.3M217.3 40.7h1.3M255.7 40.7h3.4M263.2 40.7h1.3M76.0 41.8h4.5M82.5 41.8h1.3M212.2 41.8h1.3M215.4 41.8h3.4M256.1 41.8h2.3M260.4 41.8h2.3M75.7 43.0h1.3M83.2 43.0h3.4M256.5 43.0h4.5M76.4 44.1h1.3M78.5 44.1h1.3M81.8 44.1h1.3M83.9 44.1h1.3M213.6 44.1h2.4M245.0 44.1h1.3M260.1 44.1h1.3M76.0 45.3h1.3M80.4 45.3h2.4M206.2 45.3h1.3M214.9 45.3h1.3M74.6 46.4h2.4M212.9 46.4h1.3M74.3 47.6h2.4M78.7 47.6h1.3M210.9 47.6h1.3M79.5 48.7h1.3M74.8 49.9h1.3M78.1 49.9h1.3M238.7 49.9h1.3M77.9 51.0h1.3M217.9 51.0h1.3M75.4 52.2h2.4M214.8 52.2h1.3M220.3 52.2h1.3M240.2 52.2h1.3M178.3 53.3h1.3M188.3 53.3h2.4M214.9 53.3h1.3M221.6 53.3h1.3M165.0 54.5h1.3M178.3 54.5h2.4M188.4 54.5h2.4M191.7 54.5h1.3M75.8 55.6h2.4M162.8 55.6h1.3M165.0 55.6h1.3M171.7 55.6h1.3M178.4 55.6h4.7M189.5 55.6h1.3M191.8 55.6h1.3M216.3 55.6h1.3M221.9 55.6h1.3M75.6 56.8h2.4M175.1 56.8h1.3M179.5 56.8h2.4M188.5 56.8h3.6M218.7 56.8h2.4M75.4 57.9h1.3M77.6 57.9h1.3M152.7 57.9h1.3M159.4 57.9h1.3M161.6 57.9h1.3M165.0 57.9h1.3M174.0 57.9h1.3M176.2 57.9h1.3M188.5 57.9h1.3M154.9 59.0h1.3M159.4 59.0h1.3M168.4 59.0h1.3M170.6 59.0h1.3M174.0 59.0h1.3M176.2 59.0h1.3M179.6 59.0h1.3M181.8 59.0h1.3M188.6 59.0h2.4M150.4 60.2h1.3M154.9 60.2h3.6M167.3 60.2h1.3M169.5 60.2h1.3M172.9 60.2h1.3M175.1 60.2h1.3M180.8 60.2h1.3M187.5 60.2h1.3M189.8 60.2h2.5M149.2 61.3h2.5M158.2 61.3h1.3M166.1 61.3h4.7M187.5 61.3h4.7M152.6 62.5h1.3M165.0 62.5h1.3M170.6 62.5h2.5M186.5 62.5h1.3M188.7 62.5h1.3M192.1 62.5h1.3M195.5 62.5h1.3M152.6 63.6h5.9M161.6 63.6h1.3M169.5 63.6h3.6M187.6 63.6h1.3M189.9 63.6h2.5M193.3 63.6h1.3M150.3 64.8h5.9M158.2 64.8h1.3M160.5 64.8h2.5M163.9 64.8h3.6M172.9 64.8h1.3M186.5 64.8h1.3M189.9 64.8h5.9M213.7 64.8h1.3M152.5 65.9h1.3M163.9 65.9h1.3M166.1 65.9h1.3M170.7 65.9h1.3M172.9 65.9h1.3M191.1 65.9h2.5M213.8 65.9h1.3M174.1 67.1h1.3M176.4 67.1h1.3M183.2 67.1h2.5M176.4 68.2h1.3M182.1 68.2h1.3M212.8 68.2h1.3M177.5 69.4h2.5M180.9 69.4h1.3M210.6 69.4h1.3M98.9 70.5h1.3M99.9 71.7h1.3M206.1 72.8h1.3M205.0 74.0h1.3M205.1 78.5h1.3M205.1 79.7h1.3M205.1 80.8h1.3M270.5 106.1h1.3M280.6 106.1h2.4M265.8 107.2h4.7M280.4 107.2h2.4M269.0 108.3h1.3M276.8 108.3h2.4M266.5 109.5h3.5M274.3 109.5h1.3M267.3 110.6h1.3M279.6 110.6h2.4M282.9 110.6h2.4M267.1 111.8h1.3M278.2 111.8h1.3M280.4 111.8h2.4M283.7 111.8h1.3M266.8 112.9h1.3M282.3 112.9h1.3M267.6 114.1h2.4M283.0 114.1h1.3M285.2 114.1h1.3M267.3 115.2h1.3M288.5 117.5h1.3M106.2 118.7h1.3M108.6 119.8h2.4M293.0 119.8h1.3M106.6 121.0h4.5M293.6 121.0h1.3M105.8 122.1h1.3M109.0 122.1h1.3M103.9 123.3h2.3M109.3 123.3h1.3M102.0 124.4h2.3M99.1 125.5h1.3M101.2 125.5h1.3M101.5 126.7h1.3M285.7 147.3h3.0M276.6 149.6h1.1M273.4 150.8h2.0M272.0 151.9h1.1M272.2 153.1h1.1M287.0 153.1h1.1M281.7 154.2h1.1M100.4 156.5h1.0" stroke="#28ae80"/><path d="M111.1 6.3h1.0M112.7 6.3h1.8M115.0 6.3h1.8M118.2 6.3h1.0M120.6 6.3h1.0M112.3 7.5h1.0M113.9 7.5h1.0M112.8 8.6h1.0M117.0 8.6h2.7M117.8 9.7h1.0M112.7 10.9h2.8M90.1 12.0h1.9M94.4 12.0h1.1M111.8 12.0h1.1M174.6 12.0h2.8M263.5 12.0h1.9M77.5 13.2h1.1M89.9 13.2h1.1M176.5 13.2h1.1M235.7 13.2h1.1M264.9 13.2h2.0M76.3 14.3h1.1M87.0 14.3h1.1M100.5 14.3h1.1M102.3 14.3h1.1M234.0 14.3h1.1M243.9 14.3h1.1M245.6 14.3h1.1M248.3 14.3h1.1M251.0 14.3h1.1M264.5 14.3h1.1M266.3 14.3h2.9M73.3 15.5h2.0M86.1 15.5h3.8M99.7 15.5h1.1M101.5 15.5h2.0M243.0 15.5h1.1M248.5 15.5h2.0M267.5 15.5h1.1M269.4 15.5h2.0M86.9 16.6h1.1M90.6 16.6h3.9M98.9 16.6h1.1M106.2 16.6h1.1M109.0 16.6h3.0M112.7 16.6h1.1M235.7 16.6h1.1M238.5 16.6h5.7M250.4 16.6h1.1M87.0 17.8h1.1M90.7 17.8h1.1M98.1 17.8h1.1M101.9 17.8h3.9M106.5 17.8h1.1M108.4 17.8h1.1M111.1 17.8h1.1M113.0 17.8h2.1M209.6 17.8h1.1M30.8 18.9h2.1M88.0 18.9h1.1M89.9 18.9h1.1M97.4 18.9h1.1M100.2 18.9h1.1M102.1 18.9h2.1M106.8 18.9h2.1M111.5 18.9h1.1M113.4 18.9h2.1M204.4 18.9h2.1M207.2 18.9h1.1M232.6 18.9h1.1M28.5 20.1h3.0M85.4 20.1h1.1M87.3 20.1h1.1M90.1 20.1h1.1M97.7 20.1h2.1M108.1 20.1h1.1M111.0 20.1h2.1M214.3 20.1h1.1M216.2 20.1h2.1M227.6 20.1h3.0M28.2 21.2h2.1M84.6 21.2h2.1M87.5 21.2h3.1M107.6 21.2h1.2M110.5 21.2h2.1M222.4 21.2h1.2M224.3 21.2h1.2M301.8 21.2h1.2M26.0 22.4h2.1M32.7 22.4h1.2M82.9 22.4h2.1M87.8 22.4h3.1M107.1 22.4h1.2M113.8 22.4h1.2M145.7 22.4h2.1M148.6 22.4h2.1M151.5 22.4h1.2M154.4 22.4h1.2M302.1 22.4h1.2M24.8 23.5h1.2M82.2 23.5h1.2M84.2 23.5h1.2M88.1 23.5h1.2M106.6 23.5h1.2M108.5 23.5h1.2M110.5 23.5h3.1M114.4 23.5h1.2M148.4 23.5h2.1M151.4 23.5h2.1M304.3 23.5h1.2M86.5 24.7h2.2M107.1 24.7h3.1M111.0 24.7h1.2M149.3 24.7h1.2M151.3 24.7h1.2M85.8 25.8h4.2M104.6 25.8h1.2M108.6 25.8h1.2M303.5 25.8h1.2M305.5 25.8h1.2M84.2 26.9h2.2M87.2 26.9h2.2M102.2 26.9h3.2M108.2 26.9h2.2M85.7 28.1h1.2M88.7 28.1h2.2M107.8 28.1h2.2M104.3 29.2h1.2M107.4 29.2h1.2M113.4 29.2h2.2M90.7 30.4h1.2M92.8 30.4h1.2M107.0 30.4h3.3M111.1 30.4h1.2M113.1 30.4h1.2M91.3 31.5h2.2M105.6 31.5h2.2M113.8 31.5h3.3M105.3 32.7h3.3M114.5 32.7h2.3M159.8 32.7h2.3M162.9 32.7h2.3M79.0 33.8h3.3M114.2 33.8h2.3M159.8 33.8h3.3M77.5 35.0h6.5M114.0 35.0h4.4M156.7 35.0h2.3M161.9 35.0h1.2M225.4 35.0h1.2M74.9 36.1h2.3M83.3 36.1h1.2M114.7 36.1h1.2M117.9 36.1h1.2M220.5 36.1h1.2M223.6 36.1h1.2M225.7 36.1h1.2M77.6 37.3h1.3M81.8 37.3h1.3M84.0 37.3h2.3M115.5 37.3h1.3M118.7 37.3h1.3M212.4 37.3h1.3M220.8 37.3h2.3M228.2 37.3h1.3M78.3 38.4h2.3M84.6 38.4h1.3M115.3 38.4h1.3M118.5 38.4h1.3M205.2 38.4h2.3M208.4 38.4h3.4M212.6 38.4h2.3M216.8 38.4h1.3M222.1 38.4h1.3M77.9 39.6h4.5M119.3 39.6h1.3M205.4 39.6h1.3M209.6 39.6h2.3M213.9 39.6h2.3M79.6 40.7h1.3M214.1 40.7h2.3M83.5 41.8h1.3M205.7 41.8h1.3M211.1 41.8h1.3M258.3 41.8h1.3M77.8 43.0h1.3M211.3 43.0h2.4M77.5 44.1h1.3M80.7 44.1h1.3M212.6 44.1h1.3M77.1 45.3h2.4M207.3 45.3h1.3M213.8 45.3h1.3M79.0 46.4h1.3M208.6 46.4h1.3M210.7 46.4h2.4M77.6 47.6h1.3M74.0 48.7h3.5M78.4 48.7h1.3M75.9 49.9h2.4M76.8 51.0h1.3M219.2 52.2h1.3M190.5 53.3h1.3M190.6 54.5h1.3M190.6 55.6h1.3M217.4 55.6h1.3M220.8 55.6h1.3M153.8 57.9h1.3M163.9 57.9h1.3M152.6 59.0h1.3M160.5 59.0h1.3M171.7 59.0h1.3M175.1 59.0h1.3M153.7 60.2h1.3M159.4 60.2h4.7M165.0 60.2h1.3M170.6 60.2h1.3M174.0 60.2h1.3M177.4 60.2h3.6M183.0 60.2h1.3M151.5 61.3h2.5M156.0 61.3h2.5M160.5 61.3h2.5M170.6 61.3h3.6M180.8 61.3h1.3M185.3 61.3h1.3M150.3 62.5h2.5M154.8 62.5h1.3M157.1 62.5h4.7M162.7 62.5h2.5M172.9 62.5h2.5M185.3 62.5h1.3M187.6 62.5h1.3M189.8 62.5h1.3M150.3 63.6h1.3M160.5 63.6h1.3M162.7 63.6h3.6M172.9 63.6h1.3M186.5 63.6h1.3M192.2 63.6h1.3M159.3 64.8h1.3M174.1 64.8h1.3M184.3 64.8h2.5M165.0 65.9h1.3M174.1 65.9h1.3M184.3 65.9h1.3M175.2 67.1h1.3M182.0 67.1h1.3M177.5 68.2h1.3M180.9 68.2h1.3M179.8 69.4h1.3M208.3 70.5h1.3M207.2 71.7h1.3M207.3 72.8h1.3M206.2 74.0h1.3M205.1 76.2h1.3M206.3 80.8h1.3M265.6 108.3h1.3M267.8 108.3h1.3M266.2 110.6h1.3M282.6 111.8h1.3M266.5 114.1h1.3M266.2 115.2h1.3M268.4 115.2h1.3M289.1 118.7h2.4M106.4 119.8h2.4M290.8 119.8h1.3M106.9 122.1h2.4M289.9 122.1h1.3M106.0 123.3h3.4M290.4 123.3h1.3M104.2 124.4h3.4M102.3 125.5h1.3M106.6 125.5h2.3M100.5 126.7h1.3M102.6 126.7h1.3M282.0 147.3h2.1M284.8 147.3h1.1M279.8 148.5h1.1M269.6 153.1h2.8M279.1 154.2h1.9M282.5 154.2h1.1M284.2 154.2h1.1M103.3 157.6h1.0" stroke="#48c16e"/><path d="M114.2 6.3h1.0M123.0 6.3h1.0M124.6 6.3h1.0M113.1 7.5h1.0M120.4 7.5h1.0M119.5 8.6h1.0M116.1 9.7h1.0M173.7 12.0h1.1M178.1 12.0h1.1M88.1 13.2h2.0M234.0 13.2h1.1M241.9 13.2h1.1M243.7 13.2h2.0M75.4 14.3h1.1M87.9 14.3h1.1M233.1 14.3h1.1M238.5 14.3h5.6M246.5 14.3h2.0M235.8 15.5h1.1M242.1 15.5h1.1M268.4 15.5h1.1M99.8 16.6h2.0M107.1 16.6h2.0M233.9 16.6h1.1M236.6 16.6h2.0M270.6 16.6h1.1M86.1 17.8h1.1M94.4 17.8h1.1M105.6 17.8h1.1M107.4 17.8h1.1M109.3 17.8h2.1M233.7 17.8h1.1M91.8 18.9h4.0M98.4 18.9h1.1M101.2 18.9h1.1M104.0 18.9h1.1M109.6 18.9h1.1M112.4 18.9h1.1M208.2 18.9h1.1M211.9 18.9h1.1M214.7 18.9h2.1M231.6 18.9h1.1M31.3 20.1h2.1M91.1 20.1h1.1M99.6 20.1h2.1M107.2 20.1h1.1M109.1 20.1h1.1M219.0 20.1h2.1M222.8 20.1h1.1M226.6 20.1h1.1M30.1 21.2h2.1M32.9 21.2h1.2M90.4 21.2h1.2M97.1 21.2h2.1M112.4 21.2h2.1M117.2 21.2h1.2M146.8 21.2h1.2M148.7 21.2h1.2M150.6 21.2h4.0M27.9 22.4h1.2M30.8 22.4h2.1M34.6 22.4h1.2M84.9 22.4h1.2M93.5 22.4h1.2M99.3 22.4h1.2M111.9 22.4h1.2M114.8 22.4h3.1M147.6 22.4h1.2M150.5 22.4h1.2M152.4 22.4h2.1M303.1 22.4h1.2M26.7 23.5h2.1M30.6 23.5h1.2M85.1 23.5h1.2M87.1 23.5h1.2M92.9 23.5h1.2M104.6 23.5h2.1M113.4 23.5h1.2M115.3 23.5h1.2M146.5 23.5h2.1M153.3 23.5h1.2M23.6 24.7h1.2M28.5 24.7h1.2M84.5 24.7h2.2M88.4 24.7h1.2M97.3 24.7h1.2M100.2 24.7h1.2M104.1 24.7h1.2M106.1 24.7h1.2M112.0 24.7h1.2M113.9 24.7h1.2M304.4 24.7h2.2M84.8 25.8h1.2M91.8 25.8h1.2M102.7 25.8h2.2M109.6 25.8h3.2M304.5 25.8h1.2M89.2 26.9h1.2M112.2 26.9h1.2M109.8 28.1h1.2M111.8 28.1h1.2M113.8 28.1h1.2M91.2 29.2h1.2M110.4 29.2h2.2M91.7 30.4h1.2M114.1 30.4h1.2M93.3 31.5h1.2M107.7 31.5h1.2M156.8 32.7h1.2M158.8 32.7h1.2M161.9 32.7h1.2M75.9 33.8h3.3M116.3 33.8h1.2M155.7 33.8h2.3M158.8 33.8h1.2M74.4 35.0h1.2M118.1 35.0h1.2M77.0 36.1h4.4M115.8 36.1h1.2M156.6 36.1h1.2M159.8 36.1h1.2M226.8 36.1h2.3M78.7 37.3h3.4M116.6 37.3h2.3M227.1 37.3h1.3M116.3 38.4h1.3M207.3 38.4h1.3M227.4 38.4h2.3M82.1 39.6h1.3M77.5 40.7h2.3M81.7 40.7h1.3M208.8 40.7h1.3M80.3 41.8h2.3M78.9 43.0h4.5M79.6 44.1h1.3M85.0 44.1h1.3M79.3 45.3h1.3M212.7 45.3h1.3M76.8 46.4h1.3M209.6 46.4h1.3M76.5 47.6h1.3M77.3 48.7h1.3M215.9 52.2h3.5M220.5 53.3h1.3M216.2 54.5h1.3M220.6 54.5h1.3M163.9 55.6h1.3M150.4 59.0h2.4M161.6 59.0h1.3M163.9 59.0h2.4M152.6 60.2h1.3M163.9 60.2h1.3M176.3 60.2h1.3M181.9 60.2h1.3M184.1 60.2h1.3M153.7 61.3h1.3M159.4 61.3h1.3M162.7 61.3h1.3M165.0 61.3h1.3M178.5 61.3h2.5M181.9 61.3h2.5M156.0 62.5h1.3M161.6 62.5h1.3M175.2 62.5h1.3M178.6 62.5h1.3M184.2 62.5h1.3M151.4 63.6h1.3M158.2 63.6h2.5M183.1 63.6h3.6M175.2 64.8h1.3M183.2 65.9h1.3M207.3 74.0h1.3M206.2 75.1h1.3M206.2 76.2h1.3M206.2 77.4h1.3M206.3 78.5h1.3M266.7 108.3h1.3M289.3 121.0h2.4M292.5 121.0h1.3M290.9 122.1h2.4M107.4 124.4h2.3M103.4 125.5h1.3M102.2 129.0h1.2M107.4 129.0h1.2M106.3 132.4h1.2M283.9 147.3h1.1M278.9 148.5h1.1M275.7 149.6h1.1M272.5 150.8h1.1M269.3 151.9h1.1M271.1 151.9h1.1M268.7 153.1h1.1M287.9 153.1h1.1M106.7 154.2h1.1M271.4 154.2h1.1M273.1 154.2h1.1M274.8 154.2h1.1M283.4 154.2h1.1M286.0 154.2h1.1M101.7 155.4h1.9M273.8 155.4h2.7M64.8 156.5h1.0M99.6 156.5h1.0M101.2 156.5h1.9M103.7 156.5h1.9M106.2 156.5h1.9M102.5 157.6h1.0M105.8 157.6h1.0M104.7 158.8h1.8" stroke="#75d054"/><path d="M121.4 6.3h1.8M123.8 6.3h1.0M122.0 7.5h1.0M123.6 7.5h1.8M231.2 8.6h1.0M116.9 9.7h1.0M118.6 9.7h1.0M232.5 9.7h1.9M115.2 10.9h1.1M177.9 10.9h1.1M180.4 10.9h1.1M235.3 10.9h1.1M114.5 12.0h1.1M177.2 12.0h1.1M228.6 12.0h1.1M233.8 12.0h1.1M243.4 12.0h1.1M229.5 13.2h4.6M234.8 13.2h1.1M239.3 13.2h1.1M242.8 13.2h1.1M245.4 13.2h1.1M231.3 14.3h1.1M234.9 14.3h3.8M232.2 15.5h1.1M234.0 15.5h2.0M236.7 15.5h1.1M239.4 15.5h2.9M101.6 16.6h1.1M111.7 16.6h1.1M234.8 16.6h1.1M91.6 17.8h1.1M100.0 17.8h2.1M203.1 17.8h1.1M231.9 17.8h2.1M90.9 18.9h1.1M104.9 18.9h2.1M108.7 18.9h1.1M212.9 18.9h2.1M227.9 18.9h1.1M229.8 18.9h2.1M92.0 20.1h5.9M101.5 20.1h1.1M103.4 20.1h1.1M106.2 20.1h1.1M114.8 20.1h1.1M221.9 20.1h1.1M224.7 20.1h1.1M27.2 21.2h1.2M32.0 21.2h1.2M86.5 21.2h1.2M96.1 21.2h1.2M99.9 21.2h1.2M114.3 21.2h3.1M147.8 21.2h1.2M85.8 22.4h2.1M95.5 22.4h2.1M98.4 22.4h1.2M110.9 22.4h1.2M89.0 23.5h1.2M93.9 23.5h2.1M96.8 23.5h1.2M101.7 23.5h1.2M103.6 23.5h1.2M89.4 24.7h2.2M92.3 24.7h1.2M105.1 24.7h1.2M113.0 24.7h1.2M90.8 25.8h1.2M98.7 25.8h1.2M113.2 26.9h1.2M110.8 28.1h1.2M112.8 28.1h1.2M108.4 29.2h2.2M161.0 29.2h2.2M157.8 31.5h1.2M160.9 31.5h1.2M163.0 31.5h1.2M157.8 32.7h1.2M157.7 33.8h1.2M75.4 35.0h2.3M155.6 35.0h1.2M208.6 39.6h1.3M80.7 40.7h1.3M205.6 40.7h1.3M207.7 40.7h1.3M210.0 41.8h1.3M205.9 43.0h1.3M210.2 43.0h1.3M206.1 44.1h1.3M211.5 44.1h1.3M208.4 45.3h1.3M211.6 45.3h1.3M77.9 46.4h1.3M217.1 53.3h3.5M217.3 54.5h3.5M218.5 55.6h2.4M151.6 57.9h1.3M162.8 57.9h1.3M162.8 59.0h1.3M151.5 60.2h1.3M154.9 61.3h1.3M163.9 61.3h1.3M174.0 61.3h1.3M177.4 61.3h1.3M184.2 61.3h1.3M176.3 62.5h2.5M179.7 62.5h2.5M174.1 63.6h4.7M176.3 64.8h1.3M183.1 64.8h1.3M175.2 65.9h2.5M177.5 67.1h1.3M180.9 67.1h1.3M178.7 68.2h2.5M208.4 71.7h1.3M208.4 72.8h1.3M210.7 72.8h1.3M207.3 75.1h1.3M207.4 78.5h2.5M206.3 79.7h1.3M291.9 119.8h1.3M291.4 121.0h1.3M105.5 125.5h1.3M108.7 125.5h1.3M103.7 126.7h1.3M106.8 126.7h1.3M100.8 127.8h3.4M105.0 127.8h1.3M108.2 127.8h1.3M105.3 129.0h2.3M105.3 132.4h1.2M116.9 140.4h1.2M114.4 141.6h1.2M274.8 149.6h1.1M267.8 153.1h1.1M268.8 154.2h1.9M272.2 154.2h1.1M273.9 154.2h1.1M280.8 154.2h1.1M285.1 154.2h1.1M286.8 154.2h1.1M98.4 155.4h1.9M100.9 155.4h1.0M103.4 155.4h1.9M106.8 155.4h1.9M276.3 155.4h1.0M98.8 156.5h1.0M102.9 156.5h1.0M107.9 156.5h1.9M110.4 156.5h1.0M113.7 156.5h1.0M115.3 156.5h1.0M117.0 156.5h1.0M65.2 157.6h4.3M100.1 157.6h1.0M101.7 157.6h1.0M104.2 157.6h1.0" stroke="#addc30"/><path d="M121.2 7.5h1.0M122.8 7.5h1.0M122.8 8.6h1.9M232.1 8.6h1.0M122.8 9.7h1.0M234.2 9.7h1.9M116.1 10.9h1.9M178.7 10.9h1.1M231.1 10.9h1.1M233.6 10.9h1.9M236.2 10.9h1.1M147.6 12.0h1.1M230.4 12.0h3.7M234.7 12.0h1.1M240.8 12.0h1.1M237.5 13.2h2.0M241.0 13.2h1.1M209.8 14.3h1.1M232.2 14.3h1.1M148.7 15.5h1.1M233.1 15.5h1.1M237.6 15.5h2.0M148.5 16.6h1.1M233.0 16.6h1.1M204.0 17.8h2.1M230.0 17.8h2.1M226.9 18.9h1.1M33.2 20.1h1.1M102.4 20.1h1.1M115.7 20.1h2.1M218.1 20.1h1.1M220.9 20.1h1.1M223.8 20.1h1.1M225.7 20.1h1.1M95.1 21.2h1.2M100.9 21.2h1.2M149.7 21.2h1.2M28.9 22.4h2.1M90.7 22.4h1.2M92.6 22.4h1.2M94.5 22.4h1.2M97.4 22.4h1.2M100.3 22.4h1.2M105.1 22.4h1.2M28.7 23.5h2.1M86.1 23.5h1.2M90.0 23.5h2.1M97.8 23.5h4.1M91.4 24.7h1.2M95.3 24.7h1.2M98.2 24.7h2.2M97.7 25.8h1.2M112.6 25.8h1.2M159.9 29.2h1.2M160.9 30.4h1.2M163.0 30.4h1.2M158.9 31.5h2.2M161.9 31.5h1.2M206.4 39.6h1.3M206.6 40.7h1.3M209.8 40.7h1.3M206.8 41.8h3.4M207.1 44.1h2.4M210.6 45.3h1.3M216.0 53.3h1.3M175.1 61.3h1.3M181.9 62.5h2.5M178.6 63.6h1.3M180.8 63.6h1.3M177.5 64.8h2.5M180.9 64.8h1.3M178.6 65.9h1.3M182.0 65.9h1.3M209.5 71.7h2.5M208.4 74.0h1.3M207.4 76.2h1.3M207.4 77.4h2.5M207.4 79.7h1.3M107.9 126.7h2.3M106.1 127.8h2.3M101.1 129.0h1.2M103.2 129.0h1.2M102.5 130.1h6.5M107.0 131.3h1.2M109.1 131.3h1.2M106.6 133.6h1.2M113.8 142.7h2.1M115.2 143.9h1.2M287.0 146.2h1.1M119.5 147.3h1.1M114.5 148.5h2.0M277.9 148.5h1.1M120.5 149.6h2.0M115.7 150.8h1.1M121.1 150.8h1.1M270.2 151.9h1.1M105.7 153.1h1.1M266.9 153.1h1.1M100.7 154.2h1.1M104.9 154.2h1.9M107.5 154.2h1.1M267.1 154.2h1.9M270.5 154.2h1.1M287.7 154.2h1.1M95.0 155.4h1.0M105.1 155.4h1.0M108.5 155.4h1.9M112.7 155.4h1.0M269.6 155.4h1.0M273.0 155.4h1.0M279.7 155.4h1.0M64.0 156.5h1.0M65.6 156.5h1.9M74.7 156.5h1.0M94.6 156.5h3.5M105.4 156.5h1.0M109.5 156.5h1.0M112.8 156.5h1.0M116.1 156.5h1.0M76.6 157.6h1.0M87.1 157.6h1.0M99.3 157.6h1.0M100.9 157.6h1.0M105.0 157.6h1.0M106.6 157.6h2.6M109.8 157.6h2.6M117.1 157.6h1.8M120.4 157.6h2.6M106.3 158.8h1.0" stroke="#e5e419"/></g></g>
<use href="#land" fill="none" stroke="#000" stroke-width="0.75" stroke-linejoin="round"/>
<use href="#lake" fill="none" stroke="#000" stroke-width="0.75"/>
</g>
<use href="#bndr" fill="none" stroke="#000" stroke-width="1"/>
</g>
<rect x="380.25" y="423.70" width="21.30" height="10.60" fill="#471063"/><rect x="401.25" y="423.70" width="21.30" height="10.60" fill="#472d7b"/><rect x="422.25" y="423.70" width="21.30" height="10.60" fill="#404688"/><rect x="443.25" y="423.70" width="21.30" height="10.60" fill="#365d8d"/><rect x="464.25" y="423.70" width="21.30" height="10.60" fill="#2c728e"/><rect x="485.25" y="423.70" width="21.30" height="10.60" fill="#24868e"/><rect x="506.25" y="423.70" width="21.30" height="10.60" fill="#1f9a8a"/><rect x="527.25" y="423.70" width="21.30" height="10.60" fill="#28ae80"/><rect x="548.25" y="423.70" width="21.30" height="10.60" fill="#48c16e"/><rect x="569.25" y="423.70" width="21.30" height="10.60" fill="#75d054"/><rect x="590.25" y="423.70" width="21.30" height="10.60" fill="#addc30"/><rect x="611.25" y="423.70" width="21.30" height="10.60" fill="#e5e419"/><path d="M632.25 423.70L645.25 429.00L632.25 434.30Z" fill="#fde725"/><path d="M401.25 423.70V434.30M422.25 423.70V434.30M443.25 423.70V434.30M464.25 423.70V434.30M485.25 423.70V434.30M506.25 423.70V434.30M527.25 423.70V434.30M548.25 423.70V434.30M569.25 423.70V434.30M590.25 423.70V434.30M611.25 423.70V434.30M632.25 423.70V434.30" stroke="#000" stroke-width="0.6" fill="none"/><path d="M380.25 423.70H632.25L645.25 429.00L632.25 434.30H380.25Z" stroke="#000" stroke-width="0.9" fill="none" stroke-linejoin="miter"/><text x="380.35" y="446.20" font-size="10.4" letter-spacing="0.25" text-anchor="middle">0</text><text x="422.35" y="446.20" font-size="10.4" letter-spacing="0.25" text-anchor="middle">100</text><text x="464.35" y="446.20" font-size="10.4" letter-spacing="0.25" text-anchor="middle">200</text><text x="506.35" y="446.20" font-size="10.4" letter-spacing="0.25" text-anchor="middle">300</text><text x="548.35" y="446.20" font-size="10.4" letter-spacing="0.25" text-anchor="middle">400</text><text x="590.35" y="446.20" font-size="10.4" letter-spacing="0.25" text-anchor="middle">500</text><text x="632.35" y="446.20" font-size="10.4" letter-spacing="0.25" text-anchor="middle">600</text><text x="649.20" y="432.70" font-size="11">W m<tspan dy="-4" font-size="7.7">−2</tspan></text>
<text x="513.10" y="473.85" font-size="15.4" letter-spacing="0.18" text-anchor="middle">(f) RB, ERA5 reanalysis</text>
<g transform="translate(347.50 478.60)">
<g clip-path="url(#cbr)">
<g clip-path="url(#cl)"><rect x="-1" y="-1" width="332" height="167" fill="#e7f0f4"/><g fill="none" stroke-width="1.50"><path d="M249.8 55.6h2.4M253.1 55.6h1.3M253.2 77.4h1.3M253.2 78.5h3.6M95.1 79.7h1.3M254.4 79.7h2.5M265.9 79.7h4.8M95.1 80.8h1.3M264.7 80.8h5.9M256.7 82.0h1.3M265.9 82.0h4.8M93.9 83.1h2.5M265.9 83.1h5.9M92.8 84.3h3.6M265.9 84.3h4.8M92.8 85.4h2.5M178.8 85.4h1.3M267.0 85.4h3.6M92.8 86.6h2.5M268.1 86.6h1.3M288.8 86.6h3.6M92.8 87.7h1.3M288.7 87.7h1.3M91.8 90.0h1.3M91.8 91.1h1.3M93.0 92.3h1.3M96.4 92.3h1.3M101.0 92.3h1.3M93.1 93.4h1.3M96.5 93.4h4.8M95.4 94.6h2.5M98.9 94.6h1.3M94.4 95.7h3.6M98.9 95.7h1.3M96.7 96.9h3.6M96.8 98.0h2.5" stroke="#053061"/><path d="M248.4 54.5h5.8M244.2 55.6h1.3M252.0 55.6h1.3M252.2 56.8h2.4M252.4 57.9h2.4M69.6 59.0h1.3M252.6 59.0h1.3M257.1 59.0h1.3M257.3 60.2h1.3M257.4 61.3h1.3M257.6 62.5h2.5M257.8 63.6h3.6M198.1 72.8h1.3M195.9 74.0h2.5M195.9 75.1h3.6M94.0 76.2h2.5M177.6 78.5h1.3M252.1 78.5h1.3M256.7 78.5h1.3M268.1 78.5h2.5M92.8 79.7h2.5M96.2 79.7h1.3M253.3 79.7h1.3M256.7 79.7h1.3M272.7 79.7h1.3M91.6 80.8h3.6M96.2 80.8h1.3M254.4 80.8h3.6M278.5 80.8h1.3M91.6 82.0h7.1M255.6 82.0h1.3M264.7 82.0h1.3M270.5 82.0h1.3M92.8 83.1h1.3M96.2 83.1h2.5M100.8 83.1h2.5M255.6 83.1h3.6M264.7 83.1h1.3M96.2 84.3h2.5M99.7 84.3h2.5M104.2 84.3h2.5M176.5 84.3h3.6M256.7 84.3h2.5M260.2 84.3h1.3M264.7 84.3h1.3M291.1 84.3h2.5M91.6 85.4h1.3M95.1 85.4h1.3M97.4 85.4h1.3M99.7 85.4h1.3M103.1 85.4h2.5M179.9 85.4h1.3M256.7 85.4h5.9M265.9 85.4h1.3M280.8 85.4h1.3M286.5 85.4h7.1M91.7 86.6h1.3M106.6 86.6h1.3M178.8 86.6h1.3M257.8 86.6h1.3M281.9 86.6h1.3M286.5 86.6h2.5M292.2 86.6h1.3M91.7 87.7h1.3M94.0 87.7h1.3M177.6 87.7h2.5M289.8 87.7h3.6M299.0 87.7h1.3M90.6 88.9h4.8M98.6 88.9h1.3M290.9 88.9h1.3M298.9 88.9h1.3M96.3 90.0h1.3M292.0 90.0h1.3M93.0 91.1h1.3M95.3 91.1h2.5M101.0 91.1h1.3M97.6 92.3h3.6M102.2 92.3h1.3M94.2 93.4h2.5M101.1 93.4h2.5M94.3 94.6h1.3M97.7 94.6h1.3M100.0 94.6h1.3M97.8 95.7h1.3M100.1 95.7h1.3M95.6 96.9h1.3M100.1 96.9h1.3M102.4 96.9h1.3M99.1 98.0h1.3M99.2 99.2h1.3" stroke="#10457e"/><path d="M50.2 25.8h2.2M49.4 26.9h2.2M54.3 26.9h4.2M48.5 28.1h2.2M53.5 28.1h2.2M56.6 28.1h2.2M184.4 43.0h1.3M183.4 44.1h1.3M184.5 45.3h1.3M233.3 45.3h1.3M226.2 47.6h3.5M225.3 48.7h3.5M226.6 49.9h2.4M236.9 52.2h1.3M232.7 53.3h3.5M251.5 53.3h5.7M232.9 54.5h1.3M236.2 54.5h1.3M247.3 54.5h1.3M254.0 54.5h3.5M243.1 55.6h1.3M245.3 55.6h4.7M254.2 55.6h2.4M244.4 56.8h3.6M248.8 56.8h3.6M254.4 56.8h2.4M68.6 57.9h2.4M238.9 57.9h4.7M250.1 57.9h2.4M254.6 57.9h1.3M256.9 57.9h2.4M262.5 57.9h1.3M68.4 59.0h1.3M70.7 59.0h1.3M239.1 59.0h3.6M251.5 59.0h1.3M253.7 59.0h3.6M258.2 59.0h2.4M261.6 59.0h2.4M68.2 60.2h3.6M251.6 60.2h3.6M256.1 60.2h1.3M258.4 60.2h1.3M261.8 60.2h2.5M270.8 60.2h1.3M273.0 60.2h2.5M252.9 61.3h1.3M255.2 61.3h2.5M258.6 61.3h1.3M260.8 61.3h2.5M253.1 62.5h3.6M259.9 62.5h2.5M253.2 63.6h2.5M261.2 63.6h1.3M254.5 64.8h1.3M259.0 64.8h2.5M100.3 65.9h1.3M261.5 65.9h1.3M263.7 65.9h2.5M272.8 65.9h3.6M273.0 67.1h3.6M273.1 68.2h1.3M273.2 69.4h2.5M198.2 74.0h2.5M92.9 75.1h3.6M194.7 75.1h1.3M199.3 75.1h1.3M278.3 75.1h3.6M92.9 76.2h1.3M96.3 76.2h1.3M103.2 76.2h1.3M154.7 76.2h1.3M194.8 76.2h1.3M197.1 76.2h1.3M256.6 76.2h1.3M278.3 76.2h3.6M92.8 77.4h3.6M103.1 77.4h4.8M154.7 77.4h2.5M181.0 77.4h1.3M194.8 77.4h3.6M254.3 77.4h3.6M269.2 77.4h1.3M278.4 77.4h1.3M94.0 78.5h3.6M104.3 78.5h3.6M176.5 78.5h1.3M178.8 78.5h1.3M181.0 78.5h1.3M257.8 78.5h1.3M270.4 78.5h4.8M97.4 79.7h3.6M175.3 79.7h8.2M257.8 79.7h2.5M270.4 79.7h2.5M97.4 80.8h3.6M103.1 80.8h1.3M111.1 80.8h1.3M114.6 80.8h1.3M176.5 80.8h5.9M187.9 80.8h1.3M196.0 80.8h2.5M257.9 80.8h2.5M270.5 80.8h3.6M275.1 80.8h3.6M90.5 82.0h1.3M98.5 82.0h2.5M103.1 82.0h1.3M105.4 82.0h1.3M107.7 82.0h2.5M111.1 82.0h1.3M114.6 82.0h3.6M176.5 82.0h3.6M254.4 82.0h1.3M257.9 82.0h1.3M263.6 82.0h1.3M271.6 82.0h9.4M286.5 82.0h1.3M90.5 83.1h2.5M98.5 83.1h2.5M103.1 83.1h7.1M111.1 83.1h1.3M114.6 83.1h2.5M174.2 83.1h1.3M176.5 83.1h3.6M187.9 83.1h1.3M259.0 83.1h2.5M271.6 83.1h1.3M273.9 83.1h1.3M276.2 83.1h3.6M286.5 83.1h2.5M291.1 83.1h1.3M89.3 84.3h3.6M98.5 84.3h1.3M101.9 84.3h2.5M106.5 84.3h2.5M111.1 84.3h1.3M179.9 84.3h1.3M259.0 84.3h1.3M261.3 84.3h1.3M270.5 84.3h3.6M276.2 84.3h1.3M281.9 84.3h1.3M285.4 84.3h2.5M288.8 84.3h2.5M293.4 84.3h2.5M90.5 85.4h1.3M96.2 85.4h1.3M98.5 85.4h1.3M100.8 85.4h2.5M105.4 85.4h2.5M108.8 85.4h2.5M175.3 85.4h3.6M186.8 85.4h1.3M262.4 85.4h1.3M270.4 85.4h3.6M276.2 85.4h2.5M281.9 85.4h2.5M285.3 85.4h1.3M293.4 85.4h4.8M90.5 86.6h1.3M95.1 86.6h5.9M104.3 86.6h2.5M107.7 86.6h3.6M174.2 86.6h4.8M259.0 86.6h3.6M267.0 86.6h1.3M269.3 86.6h2.5M276.1 86.6h2.5M283.0 86.6h1.3M293.3 86.6h1.3M295.6 86.6h3.6M304.8 86.6h1.3M90.5 87.7h1.3M95.1 87.7h4.8M100.9 87.7h1.3M105.4 87.7h3.6M176.5 87.7h1.3M187.9 87.7h1.3M260.1 87.7h1.3M262.4 87.7h3.6M266.9 87.7h1.3M293.3 87.7h5.9M300.2 87.7h2.5M303.6 87.7h1.3M95.2 88.9h1.3M97.5 88.9h1.3M99.7 88.9h2.5M177.6 88.9h2.5M260.0 88.9h7.1M292.1 88.9h7.1M300.1 88.9h3.6M92.9 90.0h3.6M97.5 90.0h4.8M261.1 90.0h3.6M266.8 90.0h1.3M289.7 90.0h2.5M293.1 90.0h4.8M298.9 90.0h2.5M94.1 91.1h1.3M97.5 91.1h2.5M102.1 91.1h1.3M266.8 91.1h2.5M294.2 91.1h2.5M297.6 91.1h3.6M94.2 92.3h2.5M299.8 92.3h1.3M103.4 93.4h1.3M101.1 94.6h7.0M101.2 95.7h7.0M101.3 96.9h1.3M103.6 96.9h3.6M100.2 98.0h1.3M102.5 98.0h3.6M100.3 99.2h1.3M100.4 100.3h1.3M126.5 100.3h1.3M128.8 101.5h1.3M100.9 104.9h1.3M104.2 104.9h1.3M107.6 104.9h1.3M99.9 106.1h1.3M105.5 106.1h1.3M101.1 107.2h1.3" stroke="#2a71b2"/><path d="M61.8 23.5h1.2M48.2 24.7h4.1M59.0 24.7h3.1M46.3 25.8h4.2M52.2 25.8h1.2M55.2 25.8h4.2M290.7 25.8h1.2M45.4 26.9h4.2M51.3 26.9h3.2M58.3 26.9h1.2M44.5 28.1h2.2M50.5 28.1h2.2M55.6 28.1h1.2M64.6 28.1h1.2M52.8 29.2h2.2M55.8 29.2h2.2M61.9 29.2h3.2M267.1 29.2h1.2M55.1 30.4h1.2M58.2 30.4h2.2M61.2 30.4h4.3M66.3 30.4h1.2M58.5 31.5h1.2M64.7 31.5h1.2M270.5 31.5h1.2M292.0 31.5h1.2M294.0 31.5h1.2M63.0 32.7h1.2M270.1 32.7h1.2M275.2 32.7h1.2M277.3 32.7h1.2M292.7 32.7h2.3M62.4 33.8h2.3M60.8 35.0h1.2M64.0 35.0h1.2M66.6 36.1h1.2M157.5 41.8h1.3M183.2 41.8h2.3M182.2 43.0h2.4M185.5 43.0h1.3M231.7 43.0h2.4M181.2 44.1h2.4M184.5 44.1h1.3M232.0 44.1h4.5M56.5 45.3h1.3M59.8 45.3h1.3M63.0 45.3h1.3M182.4 45.3h2.4M185.6 45.3h1.3M231.2 45.3h2.4M234.4 45.3h2.4M62.7 46.4h1.3M67.0 46.4h1.3M182.4 46.4h3.5M224.9 46.4h5.6M232.5 46.4h4.6M288.0 46.4h1.3M56.8 47.6h2.4M65.6 47.6h1.3M182.5 47.6h3.5M224.0 47.6h2.4M229.5 47.6h2.4M250.2 47.6h4.6M284.1 47.6h3.5M288.5 47.6h1.3M56.5 48.7h2.4M224.2 48.7h1.3M228.6 48.7h1.3M250.5 48.7h4.6M259.3 48.7h1.3M261.5 48.7h1.3M283.4 48.7h4.6M58.3 49.9h2.4M64.9 49.9h1.3M67.1 49.9h1.3M224.4 49.9h2.4M228.8 49.9h3.5M235.4 49.9h1.3M238.7 49.9h1.3M251.9 49.9h5.7M258.5 49.9h1.3M260.7 49.9h2.4M282.7 49.9h1.3M284.9 49.9h4.6M58.0 51.0h1.3M63.5 51.0h4.6M224.6 51.0h4.6M230.1 51.0h2.4M233.4 51.0h5.7M252.1 51.0h7.9M283.0 51.0h1.3M286.3 51.0h3.5M65.4 52.2h1.3M230.3 52.2h6.8M238.0 52.2h1.3M251.3 52.2h12.4M283.4 52.2h3.5M65.2 53.3h1.3M68.5 53.3h1.3M231.6 53.3h1.3M236.0 53.3h3.5M247.1 53.3h4.6M257.1 53.3h6.9M67.1 54.5h1.3M231.7 54.5h1.3M234.0 54.5h2.4M237.3 54.5h1.3M244.0 54.5h3.5M257.3 54.5h4.6M65.8 55.6h1.3M233.0 55.6h4.7M238.6 55.6h1.3M256.4 55.6h6.9M67.7 56.8h3.6M235.4 56.8h9.1M247.7 56.8h1.3M256.7 56.8h4.7M262.3 56.8h3.6M67.5 57.9h1.3M70.9 57.9h2.4M235.6 57.9h3.6M243.4 57.9h3.6M247.9 57.9h2.4M255.8 57.9h1.3M259.1 57.9h3.6M263.6 57.9h3.6M269.2 57.9h1.3M67.3 59.0h1.3M71.8 59.0h1.3M238.0 59.0h1.3M242.5 59.0h2.4M250.3 59.0h1.3M260.4 59.0h1.3M263.8 59.0h10.3M66.0 60.2h2.5M71.6 60.2h3.6M238.1 60.2h2.5M250.5 60.2h1.3M255.0 60.2h1.3M259.5 60.2h2.5M264.0 60.2h1.3M267.4 60.2h3.6M271.9 60.2h1.3M68.1 61.3h9.2M238.3 61.3h1.3M248.4 61.3h2.5M251.8 61.3h1.3M254.1 61.3h1.3M259.7 61.3h1.3M263.1 61.3h2.5M267.6 61.3h3.6M272.1 61.3h3.6M69.0 62.5h2.5M74.7 62.5h2.5M248.6 62.5h4.7M256.5 62.5h1.3M262.1 62.5h4.7M268.9 62.5h1.3M273.4 62.5h1.3M72.2 63.6h5.9M99.4 63.6h1.3M247.6 63.6h5.9M255.5 63.6h2.5M262.3 63.6h3.6M68.7 64.8h5.9M75.5 64.8h3.6M98.1 64.8h4.7M202.4 64.8h1.3M248.8 64.8h5.9M255.6 64.8h3.6M261.3 64.8h3.6M265.8 64.8h1.3M273.8 64.8h2.5M23.2 65.9h1.3M69.7 65.9h8.1M98.0 65.9h2.5M101.5 65.9h1.3M203.6 65.9h1.3M250.1 65.9h1.3M252.4 65.9h4.7M258.1 65.9h3.6M276.2 65.9h1.3M71.8 67.1h7.0M99.1 67.1h1.3M202.5 67.1h3.6M253.6 67.1h3.6M259.3 67.1h4.7M276.4 67.1h1.3M74.0 68.2h5.9M202.5 68.2h3.6M260.6 68.2h4.8M274.2 68.2h2.5M203.7 69.4h1.3M260.7 69.4h4.8M81.8 70.5h3.6M195.8 70.5h3.6M203.8 70.5h1.3M263.1 70.5h2.5M273.3 70.5h1.3M275.6 70.5h1.3M277.9 70.5h1.3M87.4 71.7h1.3M195.8 71.7h5.9M263.2 71.7h2.5M276.9 71.7h1.3M85.0 72.8h2.5M95.3 72.8h1.3M195.8 72.8h2.5M199.3 72.8h2.5M256.4 72.8h1.3M275.8 72.8h1.3M278.1 72.8h2.5M86.1 74.0h1.3M93.0 74.0h3.6M186.7 74.0h1.3M194.7 74.0h1.3M200.4 74.0h1.3M255.3 74.0h1.3M277.1 74.0h4.8M87.2 75.1h2.5M91.8 75.1h1.3M96.3 75.1h2.5M154.7 75.1h3.6M175.3 75.1h1.3M179.9 75.1h1.3M200.5 75.1h1.3M254.2 75.1h3.6M276.0 75.1h2.5M90.6 76.2h1.3M97.5 76.2h1.3M99.7 76.2h3.6M104.3 76.2h2.5M111.2 76.2h1.3M113.5 76.2h2.5M153.6 76.2h1.3M155.8 76.2h2.5M177.6 76.2h5.9M184.5 76.2h1.3M193.6 76.2h1.3M195.9 76.2h1.3M198.2 76.2h3.6M255.4 76.2h1.3M257.7 76.2h1.3M270.3 76.2h3.6M277.2 76.2h1.3M96.3 77.4h1.3M99.7 77.4h3.6M107.7 77.4h1.3M110.0 77.4h2.5M113.5 77.4h4.8M157.0 77.4h2.5M174.2 77.4h7.1M182.2 77.4h4.8M193.6 77.4h1.3M198.2 77.4h3.6M257.8 77.4h2.5M270.4 77.4h4.8M279.5 77.4h1.3M92.8 78.5h1.3M97.4 78.5h7.1M107.7 78.5h8.2M116.9 78.5h1.3M155.8 78.5h2.5M159.3 78.5h1.3M173.0 78.5h3.6M179.9 78.5h1.3M182.2 78.5h7.1M194.8 78.5h4.8M259.0 78.5h2.5M100.8 79.7h18.5M173.0 79.7h2.5M183.3 79.7h9.4M193.7 79.7h4.8M260.1 79.7h1.3M100.8 80.8h2.5M104.2 80.8h7.1M112.3 80.8h2.5M115.7 80.8h4.8M174.2 80.8h2.5M182.2 80.8h5.9M189.1 80.8h7.1M260.2 80.8h1.3M281.9 80.8h1.3M100.8 82.0h2.5M104.2 82.0h1.3M106.5 82.0h1.3M110.0 82.0h1.3M112.3 82.0h2.5M118.0 82.0h2.5M173.0 82.0h3.6M179.9 82.0h14.0M194.8 82.0h3.6M259.0 82.0h2.5M280.8 82.0h3.6M285.4 82.0h1.3M110.0 83.1h1.3M112.3 83.1h2.5M116.8 83.1h2.5M171.9 83.1h2.5M175.3 83.1h1.3M179.9 83.1h8.2M189.1 83.1h3.6M198.2 83.1h1.3M272.8 83.1h1.3M275.1 83.1h1.3M281.9 83.1h1.3M284.2 83.1h2.5M108.8 84.3h2.5M112.3 84.3h7.1M173.0 84.3h3.6M181.0 84.3h8.2M190.2 84.3h1.3M196.0 84.3h1.3M273.9 84.3h2.5M284.2 84.3h1.3M287.7 84.3h1.3M107.7 85.4h1.3M111.1 85.4h8.2M173.0 85.4h2.5M181.0 85.4h5.9M187.9 85.4h2.5M198.2 85.4h2.5M273.9 85.4h1.3M284.2 85.4h1.3M303.7 85.4h1.3M89.4 86.6h1.3M100.8 86.6h3.6M111.1 86.6h7.1M179.9 86.6h9.4M195.9 86.6h3.6M262.4 86.6h1.3M273.9 86.6h2.5M294.5 86.6h1.3M301.4 86.6h1.3M303.6 86.6h1.3M89.4 87.7h1.3M99.7 87.7h1.3M102.0 87.7h3.6M108.9 87.7h1.3M175.3 87.7h1.3M179.9 87.7h1.3M184.5 87.7h3.6M189.1 87.7h1.3M258.9 87.7h1.3M261.2 87.7h1.3M265.8 87.7h1.3M276.1 87.7h1.3M302.4 87.7h1.3M96.3 88.9h1.3M102.0 88.9h1.3M104.3 88.9h4.8M175.3 88.9h2.5M179.9 88.9h3.6M184.5 88.9h5.9M266.9 88.9h4.8M102.1 90.0h4.8M107.8 90.0h2.5M119.2 90.0h1.3M175.3 90.0h10.5M187.9 90.0h1.3M264.5 90.0h2.5M268.0 90.0h3.6M297.7 90.0h1.3M99.8 91.1h1.3M103.3 91.1h2.5M118.1 91.1h1.3M178.7 91.1h4.8M269.1 91.1h2.5M290.8 91.1h1.3M293.1 91.1h1.3M301.1 91.1h1.3M103.3 92.3h3.6M120.4 92.3h1.3M178.7 92.3h4.8M104.5 93.4h3.6M178.7 93.4h1.3M181.0 93.4h2.5M108.0 94.6h2.5M195.8 94.6h1.3M108.0 95.7h2.5M107.0 96.9h2.5M120.6 96.9h2.5M101.4 98.0h1.3M105.9 98.0h1.3M120.7 98.0h1.3M123.0 98.0h1.3M101.5 99.2h1.3M103.7 99.2h2.5M123.0 99.2h1.3M125.3 99.2h2.5M101.5 100.3h3.6M124.2 100.3h2.5M127.6 100.3h2.5M100.5 101.5h2.5M124.3 101.5h4.7M100.6 102.6h4.7M106.3 102.6h2.5M124.3 102.6h2.5M127.7 102.6h1.3M100.7 103.8h8.1M122.2 103.8h1.3M124.4 103.8h3.6M102.0 104.9h2.5M105.4 104.9h2.5M108.7 104.9h1.3M120.0 104.9h4.7M101.0 106.1h4.7M106.6 106.1h3.6M120.1 106.1h3.6M100.0 107.2h1.3M102.3 107.2h2.4M100.2 108.3h3.6M100.3 109.5h3.5M100.5 110.6h2.4M100.7 111.8h1.3M100.8 112.9h1.3M99.4 117.5h1.3M101.2 121.0h1.3M100.7 123.3h1.3M311.2 124.4h1.3M99.1 125.5h1.3" stroke="#4997c5"/><path d="M59.0 18.9h1.1M176.3 18.9h1.1M57.9 20.1h1.1M268.3 20.1h1.1M53.0 21.2h2.1M56.9 21.2h3.1M179.4 21.2h1.2M266.4 21.2h4.0M273.1 21.2h3.1M284.6 21.2h1.2M51.1 22.4h7.9M59.8 22.4h1.2M62.6 22.4h2.1M267.4 22.4h2.1M274.1 22.4h3.1M279.9 22.4h2.1M286.7 22.4h2.1M290.5 22.4h1.2M48.1 23.5h13.8M62.7 23.5h1.2M67.6 23.5h1.2M269.2 23.5h2.1M274.1 23.5h5.1M280.9 23.5h2.1M283.8 23.5h6.0M290.6 23.5h3.1M296.5 23.5h1.2M43.2 24.7h5.1M52.1 24.7h7.1M61.9 24.7h2.2M64.8 24.7h5.1M269.1 24.7h1.2M272.0 24.7h1.2M274.0 24.7h6.1M281.8 24.7h9.0M291.7 24.7h5.1M297.6 24.7h1.2M41.3 25.8h5.1M53.2 25.8h2.2M59.1 25.8h8.1M271.9 25.8h2.2M274.8 25.8h4.2M283.7 25.8h2.2M286.7 25.8h4.2M291.7 25.8h2.2M295.6 25.8h1.2M40.4 26.9h5.2M59.3 26.9h8.2M273.7 26.9h5.2M285.6 26.9h1.2M287.6 26.9h7.2M298.6 26.9h4.2M40.5 28.1h4.2M52.5 28.1h1.2M58.6 28.1h6.2M65.6 28.1h2.2M249.3 28.1h1.2M264.4 28.1h4.2M274.4 28.1h2.2M286.5 28.1h4.2M291.5 28.1h2.2M296.5 28.1h1.2M298.5 28.1h4.2M42.7 29.2h1.2M54.8 29.2h1.2M57.8 29.2h4.2M64.9 29.2h5.3M254.0 29.2h3.2M258.0 29.2h2.2M262.1 29.2h1.2M264.1 29.2h3.2M268.1 29.2h11.3M284.3 29.2h1.2M287.3 29.2h1.2M291.4 29.2h3.2M56.1 30.4h2.2M60.2 30.4h1.2M65.3 30.4h1.2M67.3 30.4h2.2M241.3 30.4h1.2M249.5 30.4h10.4M262.7 30.4h17.5M291.2 30.4h4.3M296.3 30.4h1.2M56.5 31.5h2.2M59.5 31.5h5.3M65.7 31.5h5.3M240.8 31.5h3.3M247.9 31.5h11.5M265.3 31.5h5.3M271.5 31.5h7.4M293.0 31.5h1.2M295.0 31.5h1.2M297.1 31.5h2.2M55.8 32.7h7.4M64.1 32.7h4.3M236.1 32.7h1.2M238.1 32.7h7.4M248.4 32.7h6.4M255.6 32.7h2.3M267.0 32.7h3.3M271.1 32.7h4.3M276.2 32.7h1.2M278.3 32.7h2.3M294.8 32.7h4.3M54.1 33.8h4.3M59.3 33.8h3.3M64.5 33.8h4.3M235.4 33.8h23.0M270.7 33.8h11.6M293.5 33.8h5.4M54.6 35.0h1.2M57.7 35.0h3.3M61.9 35.0h2.3M65.0 35.0h4.4M234.8 35.0h10.6M246.3 35.0h12.7M271.3 35.0h4.4M276.5 35.0h4.4M294.2 35.0h2.3M297.3 35.0h1.2M58.2 36.1h8.6M67.6 36.1h1.2M184.9 36.1h1.2M234.1 36.1h7.5M242.5 36.1h2.3M245.6 36.1h5.4M251.9 36.1h2.3M271.8 36.1h8.6M58.7 37.3h1.3M62.9 37.3h4.4M185.0 37.3h2.3M235.5 37.3h6.5M243.9 37.3h1.3M247.1 37.3h6.5M276.6 37.3h2.3M64.5 38.4h2.3M184.0 38.4h3.4M227.4 38.4h2.3M238.0 38.4h4.4M244.3 38.4h1.3M246.4 38.4h1.3M248.6 38.4h2.3M64.0 39.6h2.3M170.3 39.6h4.5M177.8 39.6h2.3M183.1 39.6h5.5M228.8 39.6h1.3M58.3 40.7h2.3M61.5 40.7h5.5M170.3 40.7h5.5M176.7 40.7h10.9M228.0 40.7h2.3M57.8 41.8h8.8M158.6 41.8h3.4M167.1 41.8h1.3M169.3 41.8h1.3M171.4 41.8h4.5M177.9 41.8h5.6M185.4 41.8h3.4M201.4 41.8h2.3M229.3 41.8h5.6M280.8 41.8h2.3M56.3 43.0h5.6M63.8 43.0h3.4M156.4 43.0h9.9M172.5 43.0h3.4M177.9 43.0h4.5M186.5 43.0h1.3M198.4 43.0h1.3M200.5 43.0h5.6M225.3 43.0h2.4M228.5 43.0h3.4M233.9 43.0h3.4M281.3 43.0h1.3M284.5 43.0h2.4M56.9 44.1h11.0M85.0 44.1h1.3M156.4 44.1h5.6M162.8 44.1h3.4M173.6 44.1h3.4M178.0 44.1h3.4M185.5 44.1h4.5M197.4 44.1h9.9M223.4 44.1h8.8M236.3 44.1h1.3M274.2 44.1h1.3M285.0 44.1h4.5M57.6 45.3h2.4M60.9 45.3h2.4M64.1 45.3h2.4M67.4 45.3h5.6M156.3 45.3h1.3M159.6 45.3h1.3M162.8 45.3h1.3M165.0 45.3h1.3M176.9 45.3h2.4M180.2 45.3h2.4M186.7 45.3h3.5M196.5 45.3h1.3M198.6 45.3h7.8M223.6 45.3h7.8M236.6 45.3h1.3M249.6 45.3h1.3M251.8 45.3h1.3M285.4 45.3h3.5M56.1 46.4h6.7M63.7 46.4h3.5M68.1 46.4h5.6M156.3 46.4h2.4M179.2 46.4h1.3M181.3 46.4h1.3M186.8 46.4h5.6M196.6 46.4h1.3M198.8 46.4h7.8M222.7 46.4h2.4M230.3 46.4h2.4M236.9 46.4h1.3M247.7 46.4h6.7M259.7 46.4h5.6M285.9 46.4h2.4M289.1 46.4h1.3M59.0 47.6h6.8M66.7 47.6h5.7M86.3 47.6h1.3M156.3 47.6h2.4M173.7 47.6h1.3M185.8 47.6h3.5M190.1 47.6h2.4M198.9 47.6h1.3M201.1 47.6h5.7M222.9 47.6h1.3M231.6 47.6h7.8M248.0 47.6h2.4M254.6 47.6h2.4M257.9 47.6h7.8M277.5 47.6h1.3M287.4 47.6h1.3M58.7 48.7h14.5M86.1 48.7h1.3M157.3 48.7h1.3M168.3 48.7h1.3M172.7 48.7h2.4M182.5 48.7h4.6M197.9 48.7h1.3M201.2 48.7h4.6M212.1 48.7h2.4M222.0 48.7h2.4M229.7 48.7h10.1M247.2 48.7h3.5M254.9 48.7h4.6M260.4 48.7h1.3M262.6 48.7h3.5M275.7 48.7h2.4M287.8 48.7h2.4M57.2 49.9h1.3M60.5 49.9h4.6M66.0 49.9h1.3M68.2 49.9h3.5M86.9 49.9h1.3M169.4 49.9h1.3M171.6 49.9h2.4M183.7 49.9h1.3M189.2 49.9h3.5M203.5 49.9h1.3M207.9 49.9h3.5M212.3 49.9h2.4M222.2 49.9h2.4M232.1 49.9h3.5M236.5 49.9h2.4M239.8 49.9h1.3M247.5 49.9h4.6M257.4 49.9h1.3M259.6 49.9h1.3M262.9 49.9h3.5M275.0 49.9h4.6M280.5 49.9h1.3M283.8 49.9h1.3M289.3 49.9h1.3M59.1 51.0h4.6M67.9 51.0h4.6M162.8 51.0h3.5M209.1 51.0h5.7M222.4 51.0h2.4M229.0 51.0h1.3M232.3 51.0h1.3M238.9 51.0h2.4M246.6 51.0h5.7M259.9 51.0h6.8M276.4 51.0h2.4M279.7 51.0h3.5M284.1 51.0h2.4M58.8 52.2h6.8M66.5 52.2h4.6M156.1 52.2h2.4M161.7 52.2h5.7M208.1 52.2h6.8M222.5 52.2h7.9M239.1 52.2h3.5M244.7 52.2h6.8M263.5 52.2h3.5M278.9 52.2h4.6M60.7 53.3h4.6M66.3 53.3h2.4M69.6 53.3h2.4M155.0 53.3h2.4M159.5 53.3h4.6M209.4 53.3h5.7M222.7 53.3h9.1M239.3 53.3h8.0M263.7 53.3h3.5M279.3 53.3h4.6M61.6 54.5h5.8M68.2 54.5h4.6M210.6 54.5h5.8M230.6 54.5h1.3M238.4 54.5h5.8M261.8 54.5h5.8M61.3 55.6h4.7M66.9 55.6h6.9M210.7 55.6h4.7M230.8 55.6h2.4M237.5 55.6h1.3M239.7 55.6h3.5M263.1 55.6h3.5M267.6 55.6h2.4M61.0 56.8h1.3M64.4 56.8h3.6M71.1 56.8h6.9M210.8 56.8h1.3M213.1 56.8h4.7M232.1 56.8h3.6M261.1 56.8h1.3M265.6 56.8h5.8M64.2 57.9h3.6M73.1 57.9h5.8M210.9 57.9h1.3M213.2 57.9h1.3M222.1 57.9h1.3M232.2 57.9h3.6M246.8 57.9h1.3M267.0 57.9h2.4M270.3 57.9h3.6M65.1 59.0h2.4M72.9 59.0h5.8M221.1 59.0h2.4M231.2 59.0h6.9M244.7 59.0h5.8M63.7 60.2h2.5M75.0 60.2h3.6M220.1 60.2h2.5M232.5 60.2h5.8M240.4 60.2h10.3M265.1 60.2h2.5M64.7 61.3h1.3M77.1 61.3h1.3M176.3 61.3h1.3M233.8 61.3h4.7M239.4 61.3h9.2M250.7 61.3h1.3M265.3 61.3h2.5M71.3 62.5h3.6M76.9 62.5h1.3M180.8 62.5h2.5M233.9 62.5h1.3M236.1 62.5h12.6M266.6 62.5h2.5M23.6 63.6h1.3M68.8 63.6h3.6M97.1 63.6h1.3M100.5 63.6h2.5M179.7 63.6h1.3M182.0 63.6h1.3M200.1 63.6h4.7M231.7 63.6h1.3M237.4 63.6h9.3M265.7 63.6h1.3M22.2 64.8h3.6M74.4 64.8h1.3M78.9 64.8h4.7M95.9 64.8h1.3M102.7 64.8h2.5M200.1 64.8h2.5M203.5 64.8h2.5M230.7 64.8h2.5M237.5 64.8h1.3M240.9 64.8h2.5M264.7 64.8h1.3M77.6 65.9h7.0M94.6 65.9h2.5M102.6 65.9h3.6M200.2 65.9h3.6M204.7 65.9h2.5M229.7 65.9h4.7M238.8 65.9h1.3M241.0 65.9h1.3M249.0 65.9h1.3M251.2 65.9h1.3M256.9 65.9h1.3M78.6 67.1h10.4M94.5 67.1h1.3M103.6 67.1h1.3M199.1 67.1h2.5M205.9 67.1h2.5M230.9 67.1h10.4M250.2 67.1h3.6M257.0 67.1h2.5M79.7 68.2h10.4M195.7 68.2h7.0M206.0 68.2h2.5M231.0 68.2h9.3M251.5 68.2h9.3M79.6 69.4h5.9M86.4 69.4h3.6M194.6 69.4h7.0M202.6 69.4h1.3M204.9 69.4h3.6M232.2 69.4h7.0M252.7 69.4h8.2M275.5 69.4h1.3M85.2 70.5h4.8M154.7 70.5h1.3M186.7 70.5h5.9M194.7 70.5h1.3M199.2 70.5h4.8M204.9 70.5h2.5M232.3 70.5h7.0M254.0 70.5h9.3M274.5 70.5h1.3M85.1 71.7h2.5M88.5 71.7h1.3M96.5 71.7h1.3M99.9 71.7h2.5M154.7 71.7h2.5M170.7 71.7h2.5M175.3 71.7h1.3M185.5 71.7h7.0M193.5 71.7h2.5M201.5 71.7h4.8M232.3 71.7h7.0M254.0 71.7h9.3M274.6 71.7h1.3M278.0 71.7h2.5M87.3 72.8h2.5M91.9 72.8h1.3M96.4 72.8h8.2M154.7 72.8h3.6M168.4 72.8h5.9M185.6 72.8h10.5M201.6 72.8h2.5M234.7 72.8h4.8M254.1 72.8h2.5M258.7 72.8h1.3M262.1 72.8h2.5M277.0 72.8h1.3M87.2 74.0h5.9M96.4 74.0h9.3M109.0 74.0h1.3M154.7 74.0h5.9M168.4 74.0h12.8M183.3 74.0h3.6M187.9 74.0h7.1M201.6 74.0h4.8M238.2 74.0h1.3M254.2 74.0h1.3M256.5 74.0h1.3M262.2 74.0h1.3M275.9 74.0h1.3M89.5 75.1h2.5M98.6 75.1h13.9M152.4 75.1h2.5M158.1 75.1h2.5M168.4 75.1h7.1M176.4 75.1h3.6M181.0 75.1h13.9M201.6 75.1h2.5M235.9 75.1h4.8M271.4 75.1h1.3M89.4 76.2h1.3M98.6 76.2h1.3M106.6 76.2h4.8M112.3 76.2h1.3M158.1 76.2h4.8M168.4 76.2h9.4M183.3 76.2h1.3M185.6 76.2h8.2M201.6 76.2h1.3M205.1 76.2h1.3M238.3 76.2h2.5M97.4 77.4h2.5M108.9 77.4h1.3M112.3 77.4h1.3M159.3 77.4h4.8M169.6 77.4h4.8M186.8 77.4h7.1M201.7 77.4h1.3M238.3 77.4h1.3M115.7 78.5h1.3M118.0 78.5h1.3M158.1 78.5h1.3M160.4 78.5h3.6M169.6 78.5h3.6M189.1 78.5h5.9M199.4 78.5h2.5M170.7 79.7h1.3M192.5 79.7h1.3M198.2 79.7h1.3M173.0 80.8h1.3M198.2 80.8h2.5M120.3 82.0h1.3M193.7 82.0h1.3M198.2 82.0h2.5M119.1 83.1h4.8M192.5 83.1h5.9M199.4 83.1h1.3M119.1 84.3h1.3M189.1 84.3h1.3M191.4 84.3h4.8M197.1 84.3h5.9M283.1 84.3h1.3M119.2 85.4h1.3M190.2 85.4h8.2M200.5 85.4h2.5M275.0 85.4h1.3M118.0 86.6h1.3M189.1 86.6h7.1M199.4 86.6h3.6M302.5 86.6h1.3M110.0 87.7h10.5M121.5 87.7h1.3M181.0 87.7h3.6M190.2 87.7h4.8M195.9 87.7h5.9M103.2 88.9h1.3M108.9 88.9h13.9M183.3 88.9h1.3M190.2 88.9h7.1M200.5 88.9h2.5M106.6 90.0h1.3M110.1 90.0h9.4M120.4 90.0h2.5M185.6 90.0h2.5M189.0 90.0h7.1M201.6 90.0h1.3M271.4 90.0h1.3M278.3 90.0h2.5M105.5 91.1h7.1M114.7 91.1h3.6M119.3 91.1h5.9M176.4 91.1h2.5M183.3 91.1h13.9M201.6 91.1h1.3M277.1 91.1h4.8M106.7 92.3h5.9M113.6 92.3h7.1M121.6 92.3h4.8M176.4 92.3h2.5M183.3 92.3h13.9M200.4 92.3h2.5M278.1 92.3h1.3M295.2 92.3h1.3M107.9 93.4h4.8M113.6 93.4h10.5M125.0 93.4h1.3M130.8 93.4h1.3M176.4 93.4h2.5M179.8 93.4h1.3M183.3 93.4h3.6M187.8 93.4h13.9M110.3 94.6h4.8M116.0 94.6h10.5M176.4 94.6h11.6M191.2 94.6h4.8M196.9 94.6h5.9M208.3 94.6h3.6M110.3 95.7h4.8M116.0 95.7h9.3M176.4 95.7h4.8M185.5 95.7h2.5M191.2 95.7h11.6M207.1 95.7h4.8M109.2 96.9h11.6M122.9 96.9h4.8M177.5 96.9h1.3M191.2 96.9h10.4M206.0 96.9h5.9M107.0 98.0h13.8M121.8 98.0h1.3M124.1 98.0h7.0M192.3 98.0h9.3M205.9 98.0h1.3M208.2 98.0h3.6M298.0 98.0h1.3M102.6 99.2h1.3M106.0 99.2h4.7M112.8 99.2h10.4M124.1 99.2h1.3M127.6 99.2h3.6M193.4 99.2h7.0M208.1 99.2h2.5M104.9 100.3h4.7M114.0 100.3h2.5M119.7 100.3h4.7M195.6 100.3h2.5M208.1 100.3h2.5M313.4 100.3h1.3M102.8 101.5h7.0M119.7 101.5h4.7M208.0 101.5h2.5M299.6 101.5h1.3M105.1 102.6h1.3M108.5 102.6h1.3M116.4 102.6h2.5M119.8 102.6h4.7M126.6 102.6h1.3M196.6 102.6h1.3M209.0 102.6h1.3M108.6 103.8h2.5M115.4 103.8h7.0M123.3 103.8h1.3M109.9 104.9h1.3M114.4 104.9h1.3M116.6 104.9h3.6M124.5 104.9h1.3M110.0 106.1h1.3M116.7 106.1h3.6M104.5 107.2h5.8M117.9 107.2h4.7M190.8 107.2h2.4M103.5 108.3h4.7M120.3 108.3h2.4M190.7 108.3h4.7M302.5 108.3h1.3M103.7 109.5h3.5M120.4 109.5h1.3M188.4 109.5h5.8M102.7 110.6h4.6M188.4 110.6h1.3M190.6 110.6h2.4M101.8 111.8h5.7M190.5 111.8h2.4M295.9 111.8h1.3M101.9 112.9h6.8M295.5 112.9h2.4M99.9 114.1h6.8M296.3 114.1h1.3M100.1 115.2h6.8M295.9 115.2h1.3M99.2 116.4h6.8M100.5 117.5h5.7M99.7 118.7h3.5M292.4 118.7h1.3M316.3 118.7h3.5M99.9 119.8h3.5M106.4 119.8h1.3M290.8 119.8h3.5M313.6 119.8h3.5M318.0 119.8h1.3M100.2 121.0h1.3M102.3 121.0h2.4M289.3 121.0h5.6M312.0 121.0h5.6M100.4 122.1h4.5M289.9 122.1h3.4M309.2 122.1h5.6M101.8 123.3h4.5M307.6 123.3h5.6M99.9 124.4h5.5M307.0 124.4h4.5M100.2 125.5h6.6M309.5 125.5h1.3M100.5 126.7h1.3M102.6 126.7h3.4M100.8 127.8h1.3M104.0 127.8h1.3" stroke="#8ac0db"/><path d="M107.9 6.3h8.9M104.2 7.5h12.4M121.2 7.5h1.0M140.7 7.5h1.0M199.1 7.5h1.0M203.1 7.5h1.0M228.3 7.5h2.6M102.9 8.6h1.0M105.4 8.6h9.3M117.0 8.6h1.9M120.3 8.6h2.7M140.2 8.6h1.0M198.9 8.6h1.0M203.9 8.6h1.9M227.9 8.6h2.7M105.1 9.7h9.5M116.1 9.7h1.9M118.6 9.7h3.6M125.4 9.7h1.0M198.7 9.7h3.6M228.3 9.7h3.6M235.9 9.7h1.0M104.1 10.9h1.1M105.8 10.9h1.9M108.4 10.9h1.9M111.0 10.9h1.1M112.7 10.9h1.9M115.2 10.9h6.2M177.0 10.9h2.8M180.4 10.9h1.9M209.6 10.9h1.1M231.9 10.9h1.1M237.1 10.9h2.8M107.5 12.0h1.1M114.5 12.0h6.3M121.4 12.0h1.9M173.7 12.0h5.4M205.1 12.0h1.1M207.7 12.0h2.8M236.5 12.0h7.2M261.7 12.0h3.7M115.5 13.2h3.7M120.8 13.2h1.1M151.7 13.2h1.1M176.5 13.2h1.1M203.9 13.2h2.0M208.3 13.2h1.1M227.8 13.2h1.1M236.6 13.2h1.1M238.4 13.2h3.7M262.2 13.2h2.0M264.9 13.2h3.7M202.6 14.3h4.7M241.2 14.3h2.9M245.6 14.3h3.8M251.0 14.3h3.8M256.4 14.3h1.1M264.5 14.3h4.7M143.2 15.5h2.9M149.6 15.5h1.1M202.2 15.5h2.0M204.9 15.5h2.9M225.8 15.5h1.1M237.6 15.5h6.6M246.7 15.5h1.1M248.5 15.5h2.0M253.0 15.5h1.1M255.7 15.5h3.8M264.8 15.5h7.5M101.6 16.6h1.1M107.1 16.6h2.0M110.8 16.6h3.0M142.0 16.6h3.9M146.6 16.6h3.0M182.4 16.6h4.8M201.7 16.6h6.6M225.6 16.6h1.1M227.4 16.6h1.1M229.3 16.6h2.0M232.0 16.6h1.1M238.5 16.6h1.1M240.3 16.6h3.9M244.9 16.6h1.1M248.6 16.6h3.0M255.9 16.6h8.5M265.1 16.6h15.8M44.3 17.8h1.1M47.1 17.8h2.1M51.7 17.8h9.5M64.7 17.8h3.0M69.4 17.8h1.1M100.9 17.8h1.1M107.4 17.8h1.1M109.3 17.8h5.8M145.5 17.8h3.9M178.0 17.8h12.3M204.0 17.8h1.1M205.9 17.8h2.1M223.5 17.8h1.1M226.3 17.8h8.6M238.4 17.8h8.6M247.6 17.8h6.7M256.0 17.8h35.5M292.2 17.8h4.8M29.9 18.9h3.0M40.2 18.9h19.0M59.9 18.9h10.5M104.9 18.9h1.1M108.7 18.9h2.1M111.5 18.9h4.9M146.2 18.9h2.1M177.2 18.9h16.2M194.1 18.9h1.1M224.1 18.9h1.1M228.8 18.9h7.7M239.1 18.9h6.8M250.4 18.9h49.9M28.5 20.1h5.9M38.0 20.1h20.1M58.8 20.1h10.6M111.0 20.1h6.8M127.1 20.1h2.1M130.9 20.1h5.9M139.4 20.1h1.1M146.0 20.1h1.1M174.5 20.1h20.1M195.3 20.1h1.1M218.1 20.1h1.1M225.7 20.1h1.1M229.5 20.1h9.7M239.9 20.1h6.8M250.3 20.1h18.2M269.3 20.1h32.4M27.2 21.2h6.9M35.8 21.2h17.4M55.0 21.2h2.1M59.7 21.2h11.7M101.8 21.2h1.2M111.4 21.2h6.9M122.9 21.2h1.2M126.7 21.2h2.1M132.5 21.2h1.2M134.4 21.2h2.1M137.2 21.2h2.1M146.8 21.2h7.9M173.6 21.2h5.9M180.3 21.2h14.6M196.6 21.2h1.2M206.1 21.2h1.2M218.6 21.2h1.2M222.4 21.2h1.2M231.0 21.2h14.6M247.3 21.2h1.2M252.1 21.2h14.6M270.3 21.2h3.1M276.0 21.2h8.8M285.6 21.2h17.4M26.0 22.4h7.9M34.6 22.4h16.6M58.8 22.4h1.2M60.7 22.4h2.1M64.6 22.4h9.9M110.9 22.4h2.1M113.8 22.4h4.1M123.5 22.4h2.1M129.3 22.4h1.2M137.0 22.4h2.1M146.7 22.4h8.9M172.7 22.4h23.4M196.9 22.4h1.2M206.5 22.4h2.1M219.1 22.4h1.2M221.0 22.4h3.1M231.6 22.4h16.6M250.0 22.4h2.1M252.9 22.4h3.1M257.7 22.4h9.9M269.3 22.4h5.0M277.0 22.4h3.1M281.8 22.4h5.0M288.6 22.4h2.1M291.5 22.4h12.8M24.8 23.5h1.2M26.7 23.5h5.1M34.5 23.5h13.8M63.7 23.5h4.1M68.6 23.5h9.0M79.3 23.5h4.1M112.4 23.5h4.1M124.1 23.5h1.2M128.0 23.5h1.2M146.5 23.5h8.0M170.8 23.5h20.7M192.3 23.5h7.0M206.9 23.5h2.1M210.8 23.5h1.2M219.5 23.5h1.2M221.5 23.5h2.1M227.3 23.5h1.2M232.2 23.5h5.1M239.0 23.5h7.0M247.8 23.5h3.1M251.7 23.5h1.2M254.6 23.5h1.2M259.5 23.5h9.9M271.2 23.5h3.1M278.9 23.5h2.1M282.8 23.5h1.2M289.7 23.5h1.2M293.6 23.5h3.1M297.4 23.5h8.0M23.6 24.7h1.2M28.5 24.7h1.2M34.4 24.7h9.0M63.9 24.7h1.2M69.8 24.7h7.1M80.6 24.7h1.2M112.0 24.7h3.1M124.7 24.7h1.2M126.7 24.7h1.2M149.3 24.7h1.2M151.3 24.7h1.2M168.9 24.7h23.8M198.4 24.7h2.2M208.2 24.7h1.2M211.1 24.7h2.2M220.0 24.7h1.2M223.9 24.7h1.2M226.9 24.7h1.2M230.8 24.7h21.8M256.3 24.7h1.2M261.2 24.7h8.1M270.1 24.7h2.2M273.0 24.7h1.2M279.9 24.7h2.2M290.7 24.7h1.2M296.6 24.7h1.2M298.5 24.7h8.1M32.4 25.8h9.1M67.0 25.8h14.1M112.6 25.8h1.2M125.4 25.8h4.2M131.4 25.8h1.2M168.0 25.8h12.1M180.8 25.8h8.1M190.7 25.8h1.2M197.7 25.8h4.2M208.5 25.8h1.2M210.5 25.8h3.2M221.4 25.8h1.2M231.3 25.8h23.9M258.0 25.8h14.1M273.9 25.8h1.2M278.8 25.8h5.1M285.7 25.8h1.2M293.6 25.8h2.2M296.6 25.8h10.1M32.4 26.9h8.2M67.3 26.9h12.2M80.3 26.9h1.2M82.3 26.9h1.2M113.2 26.9h1.2M130.1 26.9h2.2M168.0 26.9h12.2M183.9 26.9h6.2M197.9 26.9h1.2M199.9 26.9h2.2M210.9 26.9h3.2M222.8 26.9h2.2M232.8 26.9h41.1M278.7 26.9h7.2M286.6 26.9h1.2M294.6 26.9h4.2M302.6 26.9h2.2M32.5 28.1h8.2M67.6 28.1h7.2M112.8 28.1h1.2M127.8 28.1h1.2M168.0 28.1h11.2M186.1 28.1h1.2M188.1 28.1h1.2M196.1 28.1h1.2M198.1 28.1h3.2M208.2 28.1h2.2M211.2 28.1h3.2M233.3 28.1h16.3M250.3 28.1h14.3M268.4 28.1h6.2M276.5 28.1h10.2M293.5 28.1h3.2M297.5 28.1h1.2M33.6 29.2h7.3M70.0 29.2h3.2M74.0 29.2h4.2M109.4 29.2h1.2M159.9 29.2h3.2M169.0 29.2h3.2M173.1 29.2h5.3M195.3 29.2h1.2M202.4 29.2h1.2M209.5 29.2h5.3M233.7 29.2h20.4M257.0 29.2h1.2M260.0 29.2h2.2M263.1 29.2h1.2M279.2 29.2h5.3M294.4 29.2h3.2M32.7 30.4h1.2M35.8 30.4h3.3M69.4 30.4h3.3M74.4 30.4h5.3M90.7 30.4h4.3M158.9 30.4h5.3M173.1 30.4h4.3M209.8 30.4h2.2M212.8 30.4h1.2M234.2 30.4h7.3M242.3 30.4h7.3M259.6 30.4h3.3M295.2 30.4h1.2M297.3 30.4h1.2M30.9 31.5h5.3M70.8 31.5h11.5M90.3 31.5h6.3M107.7 31.5h1.2M157.8 31.5h6.3M174.2 31.5h3.3M210.1 31.5h3.3M232.6 31.5h8.4M243.8 31.5h4.3M259.2 31.5h6.3M296.1 31.5h1.2M31.1 32.7h1.2M68.2 32.7h13.6M86.7 32.7h1.2M88.8 32.7h6.4M105.3 32.7h3.3M156.8 32.7h8.4M175.3 32.7h1.2M178.4 32.7h1.2M207.2 32.7h1.2M211.4 32.7h2.3M223.7 32.7h2.3M227.8 32.7h1.2M232.0 32.7h4.3M237.1 32.7h1.2M245.3 32.7h3.3M254.6 32.7h1.2M257.7 32.7h9.5M280.4 32.7h2.3M58.3 33.8h1.2M68.7 33.8h14.7M84.2 33.8h9.5M95.6 33.8h1.2M103.9 33.8h3.3M116.3 33.8h1.2M155.7 33.8h4.3M161.9 33.8h1.2M176.4 33.8h3.3M180.5 33.8h2.3M184.7 33.8h2.3M211.6 33.8h1.2M225.1 33.8h4.3M231.3 33.8h4.3M258.2 33.8h12.6M282.1 33.8h2.3M69.2 35.0h25.2M95.2 35.0h5.4M102.5 35.0h4.4M107.7 35.0h2.3M114.0 35.0h5.4M155.6 35.0h3.3M161.9 35.0h1.2M164.0 35.0h2.3M172.3 35.0h1.2M176.5 35.0h1.2M179.6 35.0h2.3M182.7 35.0h4.4M211.9 35.0h1.2M222.3 35.0h12.7M245.2 35.0h1.2M258.8 35.0h12.7M275.4 35.0h1.2M280.6 35.0h5.4M296.3 35.0h1.2M68.7 36.1h40.0M112.6 36.1h4.4M117.9 36.1h1.2M156.6 36.1h2.3M159.8 36.1h1.2M161.9 36.1h6.5M170.2 36.1h1.2M172.3 36.1h4.4M177.6 36.1h7.5M185.9 36.1h3.3M212.1 36.1h1.2M220.5 36.1h13.8M241.4 36.1h1.2M244.6 36.1h1.2M250.9 36.1h1.2M254.0 36.1h18.0M280.2 36.1h6.5M295.9 36.1h1.2M57.6 37.3h1.3M59.7 37.3h3.4M67.1 37.3h41.2M109.2 37.3h10.7M161.8 37.3h23.4M187.1 37.3h2.3M197.6 37.3h1.3M220.8 37.3h14.9M241.8 37.3h2.3M245.0 37.3h2.3M253.4 37.3h23.4M278.7 37.3h8.6M58.2 38.4h6.5M66.6 38.4h44.6M114.2 38.4h3.4M118.5 38.4h1.3M160.8 38.4h23.5M187.2 38.4h3.4M197.8 38.4h1.3M220.0 38.4h7.6M229.5 38.4h8.7M242.2 38.4h2.3M245.4 38.4h1.3M247.5 38.4h1.3M250.7 38.4h8.7M260.2 38.4h2.3M263.4 38.4h21.4M285.6 38.4h1.3M58.7 39.6h5.5M66.2 39.6h47.0M160.7 39.6h9.8M174.6 39.6h3.4M179.9 39.6h3.4M188.4 39.6h2.3M196.9 39.6h6.6M221.3 39.6h7.6M229.8 39.6h39.5M270.2 39.6h14.0M285.1 39.6h3.4M60.4 40.7h1.3M66.8 40.7h47.2M162.9 40.7h7.7M175.7 40.7h1.3M187.4 40.7h3.4M194.9 40.7h11.9M222.6 40.7h5.5M230.1 40.7h53.6M285.6 40.7h3.4M66.4 41.8h12.0M79.2 41.8h33.4M161.8 41.8h5.6M168.2 41.8h1.3M170.4 41.8h1.3M175.7 41.8h2.3M188.6 41.8h2.3M193.9 41.8h1.3M197.2 41.8h4.5M203.6 41.8h3.4M221.8 41.8h7.7M234.7 41.8h16.3M251.8 41.8h10.9M263.6 41.8h6.6M271.1 41.8h9.8M285.1 41.8h5.6M61.7 43.0h2.4M67.0 43.0h23.9M91.8 43.0h15.3M107.9 43.0h2.4M166.1 43.0h6.7M175.8 43.0h2.4M187.6 43.0h2.4M193.0 43.0h2.4M199.4 43.0h1.3M205.9 43.0h3.4M219.9 43.0h5.6M227.4 43.0h1.3M237.1 43.0h15.3M253.3 43.0h16.3M270.5 43.0h11.0M286.6 43.0h4.5M67.7 44.1h17.5M86.1 44.1h4.5M91.5 44.1h14.2M161.8 44.1h1.3M166.1 44.1h3.4M171.5 44.1h2.4M176.9 44.1h1.3M189.9 44.1h7.8M207.1 44.1h1.3M221.2 44.1h2.4M237.4 44.1h30.5M270.9 44.1h3.4M275.2 44.1h5.6M289.3 44.1h1.3M66.3 45.3h1.3M72.8 45.3h18.6M92.3 45.3h12.1M157.4 45.3h2.4M160.7 45.3h2.4M163.9 45.3h1.3M166.1 45.3h2.4M171.5 45.3h3.5M175.8 45.3h1.3M179.1 45.3h1.3M190.0 45.3h6.7M197.5 45.3h1.3M206.2 45.3h2.4M212.7 45.3h4.5M218.2 45.3h5.6M237.7 45.3h12.1M250.7 45.3h1.3M252.9 45.3h25.2M73.5 46.4h28.5M158.5 46.4h7.8M171.5 46.4h3.5M177.0 46.4h2.4M192.2 46.4h4.6M197.7 46.4h1.3M206.4 46.4h2.4M211.8 46.4h11.1M237.9 46.4h10.0M254.3 46.4h5.6M265.2 46.4h12.2M72.1 47.6h14.4M87.4 47.6h13.3M158.4 47.6h7.8M169.4 47.6h4.6M175.9 47.6h3.5M189.0 47.6h1.3M192.3 47.6h6.8M200.0 47.6h1.3M206.5 47.6h3.5M210.9 47.6h12.2M239.3 47.6h8.9M256.8 47.6h1.3M265.5 47.6h6.8M273.2 47.6h4.6M72.9 48.7h13.4M87.2 48.7h12.3M158.4 48.7h10.1M169.4 48.7h3.5M174.9 48.7h1.3M177.1 48.7h1.3M188.0 48.7h10.1M199.0 48.7h2.4M205.6 48.7h6.8M214.3 48.7h7.9M239.5 48.7h7.9M265.9 48.7h6.8M274.6 48.7h1.3M277.9 48.7h2.4M71.5 49.9h15.6M88.0 49.9h12.3M158.4 49.9h11.2M170.5 49.9h1.3M173.8 49.9h1.3M184.8 49.9h1.3M192.5 49.9h11.2M204.6 49.9h3.5M211.2 49.9h1.3M214.5 49.9h7.9M240.9 49.9h6.8M266.2 49.9h5.7M72.3 51.0h26.7M157.3 51.0h5.7M166.1 51.0h10.1M194.8 51.0h14.5M214.6 51.0h7.9M241.1 51.0h5.7M266.5 51.0h5.7M71.0 52.2h6.8M80.9 52.2h15.7M158.4 52.2h3.5M167.2 52.2h11.3M186.0 52.2h1.3M194.9 52.2h13.5M214.8 52.2h3.5M219.2 52.2h3.5M242.4 52.2h2.4M266.8 52.2h3.5M272.3 52.2h1.3M71.8 53.3h6.9M80.7 53.3h9.1M90.7 53.3h4.6M157.2 53.3h2.4M163.9 53.3h16.8M186.1 53.3h1.3M188.3 53.3h13.5M204.9 53.3h4.6M214.9 53.3h3.5M219.4 53.3h3.5M267.1 53.3h2.4M270.4 53.3h1.3M272.6 53.3h1.3M60.4 54.5h1.3M72.7 54.5h13.5M87.1 54.5h2.4M90.5 54.5h3.5M155.0 54.5h13.5M169.4 54.5h12.4M182.8 54.5h1.3M189.5 54.5h11.3M207.3 54.5h3.5M216.2 54.5h14.7M267.3 54.5h6.9M280.7 54.5h1.3M73.6 55.6h10.2M85.8 55.6h3.5M90.3 55.6h3.5M153.8 55.6h14.7M169.5 55.6h13.6M190.6 55.6h2.4M194.0 55.6h6.9M207.4 55.6h3.5M215.2 55.6h15.8M266.5 55.6h1.3M269.8 55.6h4.7M62.2 56.8h2.4M77.8 56.8h2.4M83.4 56.8h2.4M90.1 56.8h4.7M152.7 56.8h13.6M169.5 56.8h1.3M171.7 56.8h11.4M189.6 56.8h2.4M194.1 56.8h10.3M208.6 56.8h2.4M211.9 56.8h1.3M217.5 56.8h10.3M228.7 56.8h3.6M271.2 56.8h3.6M61.9 57.9h2.4M89.9 57.9h4.7M151.6 57.9h15.9M168.4 57.9h12.5M184.0 57.9h1.3M188.5 57.9h1.3M194.1 57.9h10.3M208.7 57.9h2.4M212.1 57.9h1.3M214.3 57.9h8.0M223.3 57.9h9.2M62.8 59.0h2.4M90.9 59.0h3.6M150.4 59.0h33.9M185.2 59.0h1.3M188.6 59.0h2.4M194.2 59.0h1.3M196.4 59.0h9.2M206.5 59.0h5.8M213.3 59.0h8.1M223.4 59.0h8.1M91.9 60.2h1.3M150.4 60.2h35.1M189.8 60.2h2.5M196.5 60.2h9.2M206.6 60.2h2.5M211.1 60.2h9.2M222.4 60.2h10.3M92.9 61.3h2.5M151.5 61.3h25.0M177.4 61.3h9.2M187.5 61.3h3.6M194.3 61.3h11.5M212.3 61.3h7.0M225.9 61.3h8.1M83.7 62.5h1.3M91.6 62.5h5.8M154.8 62.5h26.2M183.1 62.5h8.1M192.1 62.5h14.9M210.2 62.5h1.3M212.4 62.5h1.3M214.7 62.5h5.8M226.0 62.5h8.1M235.0 62.5h1.3M82.4 63.6h4.7M92.6 63.6h4.7M150.3 63.6h3.6M154.8 63.6h25.1M180.8 63.6h1.3M183.1 63.6h5.9M189.9 63.6h1.3M192.2 63.6h8.1M204.6 63.6h2.5M210.3 63.6h3.6M214.8 63.6h4.7M227.2 63.6h4.7M232.9 63.6h4.7M83.4 64.8h3.6M94.7 64.8h1.3M151.4 64.8h17.2M169.5 64.8h18.3M189.9 64.8h10.4M205.8 64.8h3.6M210.3 64.8h8.1M229.6 64.8h1.3M233.0 64.8h4.7M238.7 64.8h2.5M84.4 65.9h2.5M93.5 65.9h1.3M151.4 65.9h34.2M190.0 65.9h10.4M207.0 65.9h11.5M234.2 65.9h4.7M239.9 65.9h1.3M151.4 67.1h8.2M161.6 67.1h24.1M190.0 67.1h9.3M208.2 67.1h9.3M152.5 68.2h33.2M186.6 68.2h3.6M191.2 68.2h4.8M208.2 68.2h5.9M85.3 69.4h1.3M147.9 69.4h46.9M201.5 69.4h1.3M208.3 69.4h3.6M98.9 70.5h1.3M150.2 70.5h4.8M155.9 70.5h26.4M183.2 70.5h3.6M192.4 70.5h2.5M207.2 70.5h2.5M97.7 71.7h2.5M102.2 71.7h1.3M106.8 71.7h1.3M149.0 71.7h5.9M157.0 71.7h13.9M173.0 71.7h2.5M176.4 71.7h9.3M192.4 71.7h1.3M206.1 71.7h3.6M104.4 72.8h4.8M150.1 72.8h4.8M158.1 72.8h10.5M174.1 72.8h11.6M203.8 72.8h7.1M233.6 72.8h1.3M259.8 72.8h2.5M105.5 74.0h3.6M151.3 74.0h3.6M160.4 74.0h8.2M181.0 74.0h2.5M206.2 74.0h3.6M233.6 74.0h4.8M259.9 74.0h2.5M160.4 75.1h8.2M203.9 75.1h8.2M234.8 75.1h1.3M162.7 76.2h5.9M202.8 76.2h2.5M206.2 76.2h4.8M237.1 76.2h1.3M163.9 77.4h5.9M202.8 77.4h8.2M163.9 78.5h1.3M201.7 78.5h8.2M199.4 79.7h9.4M200.5 80.8h3.6M205.1 80.8h2.5M200.5 82.0h4.8M200.5 83.1h4.8M120.3 84.3h7.1M202.8 84.3h1.3M120.3 85.4h5.9M127.2 85.4h3.6M119.2 86.6h7.1M128.3 86.6h4.8M120.3 87.7h1.3M122.6 87.7h4.8M128.3 87.7h5.9M194.8 87.7h1.3M122.6 88.9h11.6M197.1 88.9h3.6M122.7 90.0h11.6M195.9 90.0h5.9M112.4 91.1h2.5M125.0 91.1h9.3M197.0 91.1h4.8M112.4 92.3h1.3M126.2 92.3h7.1M197.0 92.3h3.6M279.3 92.3h1.3M286.1 92.3h1.3M112.5 93.4h1.3M123.9 93.4h1.3M126.2 93.4h4.8M186.7 93.4h1.3M201.5 93.4h1.3M209.5 93.4h1.3M283.7 93.4h5.9M294.0 93.4h3.6M114.8 94.6h1.3M126.2 94.6h4.8M175.3 94.6h1.3M187.8 94.6h3.6M282.5 94.6h8.2M292.7 94.6h4.8M114.9 95.7h1.3M125.1 95.7h5.9M175.3 95.7h1.3M180.9 95.7h4.8M187.8 95.7h3.6M278.9 95.7h1.3M281.2 95.7h9.3M292.6 95.7h4.8M127.5 96.9h3.6M175.2 96.9h2.5M178.7 96.9h12.7M201.4 96.9h1.3M204.8 96.9h1.3M277.6 96.9h9.3M293.6 96.9h4.8M174.1 98.0h18.4M203.6 98.0h2.5M207.0 98.0h1.3M276.4 98.0h9.3M290.0 98.0h8.2M326.4 98.0h1.3M1.6 99.2h1.3M110.5 99.2h2.5M175.2 99.2h18.4M203.6 99.2h4.7M275.1 99.2h2.5M278.5 99.2h7.0M292.1 99.2h7.0M325.0 99.2h3.6M109.5 100.3h4.7M116.3 100.3h3.6M175.2 100.3h20.6M203.5 100.3h4.7M270.4 100.3h4.7M278.3 100.3h5.9M288.5 100.3h2.5M291.9 100.3h8.1M325.9 100.3h1.3M109.6 101.5h10.4M176.3 101.5h21.7M203.5 101.5h4.7M267.9 101.5h2.5M274.7 101.5h1.3M279.3 101.5h4.7M284.9 101.5h14.9M312.1 101.5h3.6M109.7 102.6h7.0M118.7 102.6h1.3M176.3 102.6h20.5M203.4 102.6h5.8M266.6 102.6h1.3M268.9 102.6h1.3M274.5 102.6h2.5M280.2 102.6h3.6M285.8 102.6h16.0M312.9 102.6h1.3M110.9 103.8h4.7M177.4 103.8h20.5M203.3 103.8h5.8M266.5 103.8h1.3M268.7 103.8h1.3M280.0 103.8h5.8M287.9 103.8h1.3M290.1 103.8h12.6M111.0 104.9h3.6M115.5 104.9h1.3M177.4 104.9h20.5M203.3 104.9h5.8M266.3 104.9h4.7M273.0 104.9h1.3M279.8 104.9h5.8M286.5 104.9h1.3M289.9 104.9h13.7M111.1 106.1h5.8M177.4 106.1h19.3M204.3 106.1h3.6M266.1 106.1h5.8M279.5 106.1h4.7M290.8 106.1h12.6M110.1 107.2h8.0M177.3 107.2h13.6M193.0 107.2h2.4M265.8 107.2h5.8M280.4 107.2h2.4M289.4 107.2h14.8M108.0 108.3h12.5M178.4 108.3h12.5M265.6 108.3h4.7M276.8 108.3h2.4M280.1 108.3h1.3M289.1 108.3h2.4M293.5 108.3h9.1M107.0 109.5h13.6M179.5 109.5h9.1M266.5 109.5h3.5M288.8 109.5h2.4M292.1 109.5h11.4M107.2 110.6h14.7M179.5 110.6h9.1M189.5 110.6h1.3M266.2 110.6h2.4M279.6 110.6h1.3M282.9 110.6h2.4M287.4 110.6h14.7M107.3 111.8h3.5M112.9 111.8h2.4M118.4 111.8h2.4M180.5 111.8h10.2M267.1 111.8h1.3M278.2 111.8h1.3M281.5 111.8h2.4M288.1 111.8h8.0M297.0 111.8h4.6M108.6 112.9h2.4M118.5 112.9h1.3M180.5 112.9h11.3M266.8 112.9h1.3M288.9 112.9h6.8M297.8 112.9h2.4M106.5 114.1h5.7M180.4 114.1h9.0M266.5 114.1h3.5M289.6 114.1h6.8M297.4 114.1h2.4M106.7 115.2h5.7M181.5 115.2h2.4M266.2 115.2h3.5M288.2 115.2h7.9M297.0 115.2h1.3M319.0 115.2h1.3M105.8 116.4h7.9M287.8 116.4h10.1M317.4 116.4h4.6M7.7 117.5h1.3M106.0 117.5h5.7M287.4 117.5h8.9M316.9 117.5h5.7M102.9 118.7h10.0M288.0 118.7h4.6M315.2 118.7h1.3M319.6 118.7h1.3M103.2 119.8h3.5M107.5 119.8h4.5M316.9 119.8h1.3M104.5 121.0h6.7M104.7 122.1h5.6M106.0 123.3h3.4M290.4 123.3h1.3M105.2 124.4h4.5M305.9 124.4h1.3M106.6 125.5h3.4M306.3 125.5h3.4M101.5 126.7h1.3M105.8 126.7h4.4M101.8 127.8h2.3M105.0 127.8h4.4M101.1 129.0h6.5M113.7 129.0h1.2M101.5 130.1h7.5M102.8 131.3h7.5M114.2 131.3h2.3M107.3 132.4h4.3M107.7 133.6h3.3M117.9 140.4h2.2M115.3 141.6h5.1M115.8 142.7h5.0M116.2 143.9h2.1M115.7 145.0h1.1M282.5 148.5h4.8M280.2 149.6h5.6M287.5 149.6h1.1M278.8 150.8h8.3M276.4 151.9h3.7M275.7 153.1h1.9M280.9 153.1h1.9M273.9 154.2h1.9M280.8 154.2h1.1" stroke="#c2ddec"/></g></g>
<use href="#land" fill="none" stroke="#000" stroke-width="0.75" stroke-linejoin="round"/>
<use href="#lake" fill="none" stroke="#000" stroke-width="0.75"/>
</g>
<use href="#bndr" fill="none" stroke="#000" stroke-width="1"/>
</g>
<rect x="392.70" y="654.20" width="20.27" height="10.40" fill="#10457e"/><rect x="412.67" y="654.20" width="20.27" height="10.40" fill="#2a71b2"/><rect x="432.64" y="654.20" width="20.27" height="10.40" fill="#4997c5"/><rect x="452.61" y="654.20" width="20.27" height="10.40" fill="#8ac0db"/><rect x="472.58" y="654.20" width="20.27" height="10.40" fill="#c2ddec"/><rect x="492.55" y="654.20" width="20.27" height="10.40" fill="#e7f0f4"/><rect x="512.52" y="654.20" width="20.27" height="10.40" fill="#f9ebe3"/><rect x="532.49" y="654.20" width="20.27" height="10.40" fill="#fbccb4"/><rect x="552.46" y="654.20" width="20.27" height="10.40" fill="#f19e7d"/><rect x="572.43" y="654.20" width="20.27" height="10.40" fill="#d86551"/><rect x="592.40" y="654.20" width="20.27" height="10.40" fill="#ba2832"/><rect x="612.37" y="654.20" width="20.27" height="10.40" fill="#840924"/><path d="M632.34 654.20L645.14 659.40L632.34 664.60Z" fill="#67001f"/><path d="M392.70 654.20L379.90 659.40L392.70 664.60Z" fill="#053061"/><path d="M392.70 654.20V664.60M412.67 654.20V664.60M432.64 654.20V664.60M452.61 654.20V664.60M472.58 654.20V664.60M492.55 654.20V664.60M512.52 654.20V664.60M532.49 654.20V664.60M552.46 654.20V664.60M572.43 654.20V664.60M592.40 654.20V664.60M612.37 654.20V664.60M632.34 654.20V664.60" stroke="#000" stroke-width="0.6" fill="none"/><path d="M392.70 654.20H632.34L645.14 659.40L632.34 664.60H392.70L379.90 659.40Z" stroke="#000" stroke-width="0.9" fill="none"/><text x="392.80" y="676.60" font-size="10.4" letter-spacing="0.25" text-anchor="middle">−60</text><text x="432.74" y="676.60" font-size="10.4" letter-spacing="0.25" text-anchor="middle">−40</text><text x="472.68" y="676.60" font-size="10.4" letter-spacing="0.25" text-anchor="middle">−20</text><text x="512.62" y="676.60" font-size="10.4" letter-spacing="0.25" text-anchor="middle">0</text><text x="552.56" y="676.60" font-size="10.4" letter-spacing="0.25" text-anchor="middle">20</text><text x="592.50" y="676.60" font-size="10.4" letter-spacing="0.25" text-anchor="middle">40</text><text x="632.44" y="676.60" font-size="10.4" letter-spacing="0.25" text-anchor="middle">60</text><text x="651.50" y="663.10" font-size="11">%</text>
</svg></body></html>
